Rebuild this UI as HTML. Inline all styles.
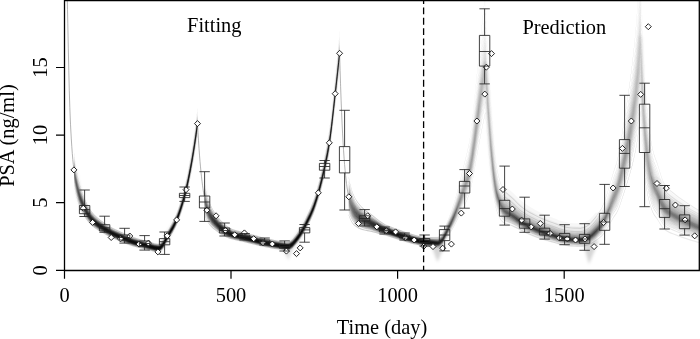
<!DOCTYPE html>
<html><head><meta charset="utf-8"><title>PSA fitting and prediction</title>
<style>
html,body{margin:0;padding:0;background:#fff}
svg{display:block}
text{font-family:"Liberation Serif","DejaVu Serif",serif;font-size:20.4px;fill:#000}
</style></head><body>
<svg width="700" height="339" viewBox="0 0 700 339">
<rect width="700" height="339" fill="#fff"/>
<defs><linearGradient id="gs" gradientUnits="userSpaceOnUse" x1="64" y1="0" x2="700" y2="0"><stop offset="0.0000" stop-color="#000" stop-opacity="0.2"/><stop offset="0.5660" stop-color="#000" stop-opacity="0.2"/><stop offset="0.5755" stop-color="#000" stop-opacity="0.17"/><stop offset="0.6069" stop-color="#000" stop-opacity="0.1"/><stop offset="0.6305" stop-color="#000" stop-opacity="0.1"/><stop offset="0.6509" stop-color="#000" stop-opacity="0.16"/><stop offset="0.6730" stop-color="#000" stop-opacity="0.16"/><stop offset="0.6887" stop-color="#000" stop-opacity="0.1"/><stop offset="0.7091" stop-color="#000" stop-opacity="0.12"/><stop offset="0.8349" stop-color="#000" stop-opacity="0.12"/><stop offset="0.8522" stop-color="#000" stop-opacity="0.09"/><stop offset="0.8711" stop-color="#000" stop-opacity="0.12"/><stop offset="0.8899" stop-color="#000" stop-opacity="0.24"/><stop offset="0.9151" stop-color="#000" stop-opacity="0.24"/><stop offset="0.9308" stop-color="#000" stop-opacity="0.1"/><stop offset="1.0000" stop-color="#000" stop-opacity="0.08"/></linearGradient><linearGradient id="gm" gradientUnits="userSpaceOnUse" x1="64" y1="0" x2="700" y2="0"><stop offset="0.0000" stop-color="#000" stop-opacity="0"/><stop offset="0.5660" stop-color="#000" stop-opacity="0"/><stop offset="0.5912" stop-color="#000" stop-opacity="0.08"/><stop offset="0.6148" stop-color="#000" stop-opacity="0.15"/><stop offset="0.6509" stop-color="#000" stop-opacity="0.14"/><stop offset="0.6604" stop-color="#000" stop-opacity="0.08"/><stop offset="0.6667" stop-color="#000" stop-opacity="0.08"/><stop offset="0.6777" stop-color="#000" stop-opacity="0.13"/><stop offset="0.6934" stop-color="#000" stop-opacity="0.16"/><stop offset="0.7170" stop-color="#000" stop-opacity="0.14"/><stop offset="0.8270" stop-color="#000" stop-opacity="0.14"/><stop offset="0.8428" stop-color="#000" stop-opacity="0.18"/><stop offset="0.8821" stop-color="#000" stop-opacity="0.16"/><stop offset="0.8962" stop-color="#000" stop-opacity="0.07"/><stop offset="0.9135" stop-color="#000" stop-opacity="0.05"/><stop offset="0.9292" stop-color="#000" stop-opacity="0.13"/><stop offset="0.9450" stop-color="#000" stop-opacity="0.26"/><stop offset="1.0000" stop-color="#000" stop-opacity="0.26"/></linearGradient><linearGradient id="gf" gradientUnits="userSpaceOnUse" x1="64" y1="0" x2="700" y2="0"><stop offset="0.0000" stop-color="#000" stop-opacity="0"/><stop offset="0.0157" stop-color="#000" stop-opacity="0"/><stop offset="0.0252" stop-color="#000" stop-opacity="0.1"/><stop offset="0.1352" stop-color="#000" stop-opacity="0.12"/><stop offset="0.1588" stop-color="#000" stop-opacity="0.1"/><stop offset="0.1745" stop-color="#000" stop-opacity="0"/><stop offset="0.2201" stop-color="#000" stop-opacity="0"/><stop offset="0.2296" stop-color="#000" stop-opacity="0.1"/><stop offset="0.3553" stop-color="#000" stop-opacity="0.12"/><stop offset="0.3711" stop-color="#000" stop-opacity="0.1"/><stop offset="0.3868" stop-color="#000" stop-opacity="0"/><stop offset="0.4481" stop-color="#000" stop-opacity="0"/><stop offset="0.4591" stop-color="#000" stop-opacity="0.1"/><stop offset="0.5660" stop-color="#000" stop-opacity="0.12"/><stop offset="0.5849" stop-color="#000" stop-opacity="0"/></linearGradient><filter id="b2" x="-30%" y="-30%" width="160%" height="160%"><feGaussianBlur stdDeviation="1.5"/></filter><filter id="b3" x="-5%" y="-5%" width="110%" height="110%"><feGaussianBlur stdDeviation="1.2"/></filter><filter id="b" x="-5%" y="-5%" width="110%" height="110%"><feGaussianBlur stdDeviation="0.8"/></filter><clipPath id="c"><rect x="64.5" y="0.5" width="634.5" height="269.8"/></clipPath></defs>
<g clip-path="url(#c)" fill="none">
<g fill="#000" fill-opacity="0.03" stroke="none"><path d="M424.5 241.6L427.5 241.7L430.5 241.7L433.5 241.9L436.5 242.0L438.0 242.0L439.5 241.4L442.5 238.8L445.5 232.8L448.5 226.8L451.5 221.2L454.5 214.6L457.5 207.1L460.5 198.7L461.3 196.4L462.8 192.1L463.5 190.0L464.3 187.7L465.8 183.4L466.5 181.4L467.3 178.9L468.8 173.8L469.5 171.0L470.3 167.3L471.8 158.9L472.5 154.4L473.3 148.8L474.8 137.6L475.5 132.3L476.3 126.2L477.8 115.2L478.5 110.1L479.3 104.2L479.8 100.6L480.3 97.0L480.8 93.5L481.3 90.0L481.5 88.6L481.8 86.6L482.3 83.2L482.8 79.8L483.3 76.5L483.8 73.3L484.3 70.1L484.5 68.9L484.8 67.0L485.3 64.0L485.8 72.3L486.3 80.4L486.8 88.2L487.3 96.0L487.5 99.0L487.8 103.5L488.3 111.0L488.8 118.3L489.3 125.4L489.8 132.3L490.3 138.8L490.5 141.3L490.8 144.9L491.3 150.6L491.8 156.0L492.3 161.0L492.8 165.8L493.5 172.3L494.3 179.0L495.8 189.0L496.5 192.1L497.3 195.0L498.8 199.2L499.5 200.8L500.3 202.5L501.8 205.1L502.5 205.9L503.3 206.5L504.8 207.3L505.5 207.6L506.3 208.0L507.8 209.0L508.5 209.4L511.5 211.2L514.5 213.4L517.5 215.7L520.5 218.0L523.5 219.9L526.5 221.7L529.5 223.2L532.5 224.7L535.5 226.0L538.5 227.3L541.5 228.6L544.5 229.7L547.5 230.7L550.5 231.6L553.5 232.6L556.5 233.6L559.5 234.6L562.5 235.3L565.5 236.0L568.5 236.6L571.5 236.9L574.5 237.0L577.5 237.2L580.5 237.2L581.0 237.2L583.5 236.7L586.5 235.7L589.5 234.2L592.5 231.6L595.5 228.7L598.5 225.9L601.5 223.2L604.5 218.7L607.5 212.5L610.5 205.6L613.5 197.8L616.5 191.3L618.0 186.8L619.5 181.0L621.0 174.4L622.5 167.8L624.0 161.2L625.5 154.2L627.0 147.0L628.5 139.7L630.0 132.2L631.5 124.0L633.0 114.8L634.5 104.7L635.0 101.1L635.5 97.2L636.0 93.1L636.5 88.7L637.0 84.0L637.5 78.9L638.0 73.2L638.5 67.1L639.0 60.6L639.5 53.5L640.0 46.0L640.5 38.0L641.0 56.1L641.5 71.8L642.0 85.1L642.5 96.2L643.0 105.7L643.5 114.1L644.0 121.5L644.5 128.1L645.0 134.0L645.5 139.4L646.0 144.4L646.5 149.0L647.0 153.3L647.5 157.2L648.0 160.8L649.5 169.8L651.0 176.7L652.5 181.9L654.0 185.6L655.5 188.1L657.0 190.4L658.5 193.4L660.0 196.7L661.5 199.9L663.0 202.8L664.5 205.1L667.5 208.0L670.5 210.1L673.5 211.9L676.5 213.7L679.5 215.4L682.5 217.0L685.5 218.6L688.5 220.1L691.5 221.6L694.5 223.0L697.5 224.4L700.0 225.5L700.0 229.1L697.5 228.1L694.5 226.8L691.5 225.5L688.5 224.2L685.5 222.8L682.5 221.3L679.5 219.9L676.5 218.3L673.5 216.6L670.5 214.9L667.5 213.0L664.5 210.3L663.0 208.3L661.5 205.3L660.0 201.6L658.5 197.8L657.0 194.2L655.5 191.2L654.0 188.0L652.5 183.4L651.0 177.3L649.5 169.8L648.0 160.8L647.5 157.2L647.0 153.3L646.5 149.0L646.0 144.4L645.5 139.4L645.0 134.0L644.5 128.1L644.0 121.5L643.5 114.1L643.0 105.7L642.5 96.2L642.0 85.1L641.5 71.8L641.0 56.1L640.5 38.0L640.0 46.0L639.5 53.5L639.0 60.6L638.5 67.1L638.0 73.2L637.5 78.9L637.0 84.0L636.5 88.7L636.0 93.1L635.5 97.2L635.0 101.1L634.5 104.7L633.0 114.8L631.5 124.0L630.0 132.2L628.5 139.7L627.0 147.0L625.5 154.2L624.0 161.2L622.5 167.8L621.0 174.4L619.5 181.0L618.0 186.8L616.5 191.3L613.5 197.8L610.5 205.6L607.5 213.5L604.5 220.7L601.5 226.1L598.5 229.6L595.5 233.0L592.5 235.7L589.5 238.1L586.5 239.6L583.5 240.6L581.0 241.0L580.5 241.0L577.5 240.9L574.5 240.8L571.5 240.6L568.5 240.3L565.5 239.8L562.5 239.1L559.5 238.4L556.5 237.5L553.5 236.5L550.5 235.6L547.5 234.7L544.5 233.8L541.5 232.7L538.5 231.6L535.5 230.4L532.5 229.1L529.5 227.7L526.5 226.2L523.5 224.6L520.5 222.8L517.5 220.7L514.5 218.5L511.5 216.5L508.5 214.9L507.8 214.5L506.3 213.6L505.5 213.0L504.8 212.3L503.3 210.7L502.5 209.7L501.8 208.5L500.3 205.2L499.5 203.0L498.8 201.0L497.3 195.9L496.5 192.4L495.8 189.0L494.3 179.0L493.5 172.3L492.8 165.8L492.3 161.0L491.8 156.0L491.3 150.6L490.8 144.9L490.5 141.3L490.3 138.8L489.8 132.3L489.3 125.4L488.8 118.3L488.3 111.0L487.8 103.5L487.5 99.0L487.3 96.0L486.8 88.2L486.3 80.4L485.8 72.3L485.3 64.0L484.8 67.0L484.5 68.9L484.3 70.1L483.8 73.3L483.3 76.5L482.8 79.8L482.3 83.2L481.8 86.6L481.5 88.6L481.3 90.0L480.8 93.5L480.3 97.0L479.8 100.6L479.3 104.2L478.5 110.1L477.8 115.2L476.3 126.2L475.5 132.3L474.8 137.6L473.3 148.8L472.5 154.4L471.8 158.9L470.3 167.3L469.5 171.0L468.8 173.8L467.3 178.9L466.5 181.4L465.8 183.4L464.3 187.7L463.5 190.0L462.8 192.1L461.3 196.4L460.5 198.7L457.5 207.3L454.5 215.6L451.5 222.6L448.5 228.6L445.5 234.7L442.5 240.5L439.5 242.9L438.0 243.5L436.5 243.4L433.5 243.2L430.5 243.0L427.5 242.5L424.5 242.0Z"/><path d="M424.5 241.3L427.5 241.1L430.5 240.8L433.5 240.9L436.5 241.0L438.0 241.0L439.5 240.3L442.5 237.6L445.5 231.4L448.5 225.6L451.5 220.2L454.5 214.0L457.5 207.0L460.5 198.7L461.3 196.4L462.8 192.1L463.5 190.0L464.3 187.7L465.8 183.4L466.5 181.4L467.3 178.9L468.8 173.8L469.5 171.0L470.3 167.3L471.8 158.9L472.5 154.4L473.3 148.8L474.8 137.6L475.5 132.3L476.3 126.2L477.8 115.2L478.5 110.1L479.3 104.2L479.8 100.6L480.3 97.0L480.8 93.5L481.3 90.0L481.5 88.6L481.8 86.6L482.3 83.2L482.8 79.8L483.3 76.5L483.8 73.3L484.3 70.1L484.5 68.9L484.8 67.0L485.3 64.0L485.8 72.3L486.3 80.4L486.8 88.2L487.3 96.0L487.5 99.0L487.8 103.5L488.3 111.0L488.8 118.3L489.3 125.4L489.8 132.3L490.3 138.8L490.5 141.3L490.8 144.9L491.3 150.6L491.8 156.0L492.3 161.0L492.8 165.8L493.5 172.3L494.3 179.0L495.8 189.0L496.5 191.8L497.3 194.4L498.8 197.9L499.5 199.3L500.3 200.7L501.8 202.7L502.5 203.3L503.3 203.6L504.8 203.9L505.5 204.0L506.3 204.2L507.8 205.2L508.5 205.7L511.5 207.6L514.5 209.8L517.5 212.3L520.5 214.6L523.5 216.7L526.5 218.5L529.5 220.1L532.5 221.6L535.5 223.1L538.5 224.4L541.5 225.7L544.5 226.8L547.5 227.9L550.5 228.9L553.5 229.8L556.5 230.9L559.5 232.0L562.5 232.8L565.5 233.5L568.5 234.0L571.5 234.3L574.5 234.5L577.5 234.6L580.5 234.6L581.0 234.6L583.5 234.1L586.5 233.0L589.5 231.4L592.5 228.8L595.5 225.8L598.5 223.4L601.5 221.3L604.5 217.3L607.5 211.8L610.5 205.6L613.5 197.8L616.5 191.3L618.0 186.8L619.5 181.0L621.0 174.4L622.5 167.8L624.0 161.2L625.5 154.2L627.0 147.0L628.5 139.7L630.0 132.2L631.5 124.0L633.0 114.8L634.5 104.7L635.0 101.1L635.5 97.2L636.0 93.1L636.5 88.7L637.0 84.0L637.5 78.9L638.0 73.2L638.5 67.1L639.0 60.6L639.5 53.5L640.0 46.0L640.5 38.0L641.0 56.1L641.5 71.8L642.0 85.1L642.5 96.2L643.0 105.7L643.5 114.1L644.0 121.5L644.5 128.1L645.0 134.0L645.5 139.4L646.0 144.4L646.5 149.0L647.0 153.3L647.5 157.2L648.0 160.8L649.5 169.8L651.0 176.2L652.5 180.9L654.0 184.0L655.5 185.9L657.0 187.8L658.5 190.3L660.0 193.3L661.5 196.1L663.0 199.1L664.5 201.4L667.5 204.5L670.5 206.7L673.5 208.6L676.5 210.6L679.5 212.4L682.5 214.1L685.5 215.7L688.5 217.4L691.5 218.9L694.5 220.4L697.5 221.8L700.0 223.0L700.0 230.2L697.5 229.3L694.5 228.0L691.5 226.8L688.5 225.4L685.5 224.1L682.5 222.7L679.5 221.2L676.5 219.7L673.5 218.1L670.5 216.4L667.5 214.5L664.5 212.0L663.0 209.9L661.5 207.0L660.0 203.2L658.5 199.2L657.0 195.4L655.5 192.1L654.0 188.7L652.5 183.9L651.0 177.5L649.5 169.8L648.0 160.8L647.5 157.2L647.0 153.3L646.5 149.0L646.0 144.4L645.5 139.4L645.0 134.0L644.5 128.1L644.0 121.5L643.5 114.1L643.0 105.7L642.5 96.2L642.0 85.1L641.5 71.8L641.0 56.1L640.5 38.0L640.0 46.0L639.5 53.5L639.0 60.6L638.5 67.1L638.0 73.2L637.5 78.9L637.0 84.0L636.5 88.7L636.0 93.1L635.5 97.2L635.0 101.1L634.5 104.7L633.0 114.8L631.5 124.0L630.0 132.2L628.5 139.7L627.0 147.0L625.5 154.2L624.0 161.2L622.5 167.8L621.0 174.4L619.5 181.0L618.0 186.8L616.5 191.3L613.5 197.8L610.5 205.6L607.5 213.8L604.5 221.3L601.5 226.9L598.5 230.8L595.5 234.3L592.5 237.0L589.5 239.3L586.5 240.8L583.5 241.7L581.0 242.1L580.5 242.1L577.5 242.1L574.5 241.9L571.5 241.7L568.5 241.4L565.5 240.9L562.5 240.3L559.5 239.6L556.5 238.7L553.5 237.7L550.5 236.9L547.5 236.0L544.5 235.1L541.5 234.0L538.5 232.9L535.5 231.7L532.5 230.4L529.5 229.1L526.5 227.7L523.5 226.1L520.5 224.3L517.5 222.3L514.5 220.1L511.5 218.2L508.5 216.6L507.8 216.2L506.3 215.3L505.5 214.6L504.8 213.8L503.3 212.0L502.5 210.8L501.8 209.6L500.3 206.0L499.5 203.7L498.8 201.6L497.3 196.1L496.5 192.6L495.8 189.0L494.3 179.0L493.5 172.3L492.8 165.8L492.3 161.0L491.8 156.0L491.3 150.6L490.8 144.9L490.5 141.3L490.3 138.8L489.8 132.3L489.3 125.4L488.8 118.3L488.3 111.0L487.8 103.5L487.5 99.0L487.3 96.0L486.8 88.2L486.3 80.4L485.8 72.3L485.3 64.0L484.8 67.0L484.5 68.9L484.3 70.1L483.8 73.3L483.3 76.5L482.8 79.8L482.3 83.2L481.8 86.6L481.5 88.6L481.3 90.0L480.8 93.5L480.3 97.0L479.8 100.6L479.3 104.2L478.5 110.1L477.8 115.2L476.3 126.2L475.5 132.3L474.8 137.6L473.3 148.8L472.5 154.4L471.8 158.9L470.3 167.3L469.5 171.0L468.8 173.8L467.3 178.9L466.5 181.4L465.8 183.4L464.3 187.7L463.5 190.0L462.8 192.1L461.3 196.4L460.5 198.7L457.5 207.3L454.5 215.9L451.5 223.1L448.5 229.1L445.5 235.3L442.5 241.0L439.5 243.4L438.0 243.9L436.5 243.8L433.5 243.6L430.5 243.4L427.5 242.8L424.5 242.1Z"/><path d="M424.5 241.0L427.5 240.5L430.5 239.9L433.5 240.0L436.5 240.0L438.0 240.0L439.5 239.3L442.5 236.4L445.5 230.1L448.5 224.4L451.5 219.2L454.5 213.4L457.5 206.9L460.5 198.7L461.3 196.4L462.8 192.1L463.5 190.0L464.3 187.7L465.8 183.4L466.5 181.4L467.3 178.9L468.8 173.8L469.5 171.0L470.3 167.3L471.8 158.9L472.5 154.4L473.3 148.8L474.8 137.6L475.5 132.3L476.3 126.2L477.8 115.2L478.5 110.1L479.3 104.2L479.8 100.6L480.3 97.0L480.8 93.5L481.3 90.0L481.5 88.6L481.8 86.6L482.3 83.2L482.8 79.8L483.3 76.5L483.8 73.3L484.3 70.1L484.5 68.9L484.8 67.0L485.3 64.0L485.8 72.3L486.3 80.4L486.8 88.2L487.3 96.0L487.5 99.0L487.8 103.5L488.3 111.0L488.8 118.3L489.3 125.4L489.8 132.3L490.3 138.8L490.5 141.3L490.8 144.9L491.3 150.6L491.8 156.0L492.3 161.0L492.8 165.8L493.5 172.3L494.3 179.0L495.8 189.0L496.5 191.6L497.3 193.7L498.8 196.7L499.5 197.8L500.3 198.9L501.8 200.4L502.5 200.7L503.3 200.7L504.8 200.5L505.5 200.3L506.3 200.4L507.8 201.5L508.5 201.9L511.5 203.9L514.5 206.3L517.5 208.9L520.5 211.3L523.5 213.5L526.5 215.3L529.5 217.0L532.5 218.6L535.5 220.1L538.5 221.5L541.5 222.8L544.5 224.0L547.5 225.1L550.5 226.1L553.5 227.1L556.5 228.2L559.5 229.3L562.5 230.2L565.5 230.9L568.5 231.5L571.5 231.8L574.5 231.9L577.5 232.0L580.5 232.0L581.0 232.0L583.5 231.5L586.5 230.3L589.5 228.7L592.5 226.0L595.5 222.8L598.5 220.9L601.5 219.3L604.5 216.0L607.5 211.2L610.5 205.6L613.5 197.8L616.5 191.3L618.0 186.8L619.5 181.0L621.0 174.4L622.5 167.8L624.0 161.2L625.5 154.2L627.0 147.0L628.5 139.7L630.0 132.2L631.5 124.0L633.0 114.8L634.5 104.7L635.0 101.1L635.5 97.2L636.0 93.1L636.5 88.7L637.0 84.0L637.5 78.9L638.0 73.2L638.5 67.1L639.0 60.6L639.5 53.5L640.0 46.0L640.5 38.0L641.0 56.1L641.5 71.8L642.0 85.1L642.5 96.2L643.0 105.7L643.5 114.1L644.0 121.5L644.5 128.1L645.0 134.0L645.5 139.4L646.0 144.4L646.5 149.0L647.0 153.3L647.5 157.2L648.0 160.8L649.5 169.8L651.0 175.8L652.5 179.8L654.0 182.4L655.5 183.8L657.0 185.1L658.5 187.3L660.0 189.8L661.5 192.4L663.0 195.3L664.5 197.8L667.5 201.0L670.5 203.4L673.5 205.4L676.5 207.4L679.5 209.3L682.5 211.1L685.5 212.9L688.5 214.6L691.5 216.2L694.5 217.8L697.5 219.3L700.0 220.5L700.0 231.4L697.5 230.4L694.5 229.2L691.5 228.0L688.5 226.7L685.5 225.4L682.5 224.0L679.5 222.6L676.5 221.1L673.5 219.5L670.5 217.9L667.5 216.1L664.5 213.6L663.0 211.6L661.5 208.7L660.0 204.7L658.5 200.5L657.0 196.5L655.5 193.1L654.0 189.4L652.5 184.4L651.0 177.7L649.5 169.8L648.0 160.8L647.5 157.2L647.0 153.3L646.5 149.0L646.0 144.4L645.5 139.4L645.0 134.0L644.5 128.1L644.0 121.5L643.5 114.1L643.0 105.7L642.5 96.2L642.0 85.1L641.5 71.8L641.0 56.1L640.5 38.0L640.0 46.0L639.5 53.5L639.0 60.6L638.5 67.1L638.0 73.2L637.5 78.9L637.0 84.0L636.5 88.7L636.0 93.1L635.5 97.2L635.0 101.1L634.5 104.7L633.0 114.8L631.5 124.0L630.0 132.2L628.5 139.7L627.0 147.0L625.5 154.2L624.0 161.2L622.5 167.8L621.0 174.4L619.5 181.0L618.0 186.8L616.5 191.3L613.5 197.8L610.5 205.6L607.5 214.1L604.5 221.9L601.5 227.8L598.5 231.9L595.5 235.7L592.5 238.3L589.5 240.6L586.5 242.0L583.5 242.9L581.0 243.3L580.5 243.3L577.5 243.2L574.5 243.1L571.5 242.9L568.5 242.6L565.5 242.1L562.5 241.5L559.5 240.8L556.5 239.9L553.5 239.0L550.5 238.1L547.5 237.2L544.5 236.3L541.5 235.3L538.5 234.2L535.5 233.1L532.5 231.8L529.5 230.5L526.5 229.1L523.5 227.5L520.5 225.8L517.5 223.8L514.5 221.7L511.5 219.8L508.5 218.3L507.8 217.9L506.3 217.0L505.5 216.3L504.8 215.4L503.3 213.3L502.5 212.0L501.8 210.6L500.3 206.8L499.5 204.4L498.8 202.1L497.3 196.4L496.5 192.7L495.8 189.0L494.3 179.0L493.5 172.3L492.8 165.8L492.3 161.0L491.8 156.0L491.3 150.6L490.8 144.9L490.5 141.3L490.3 138.8L489.8 132.3L489.3 125.4L488.8 118.3L488.3 111.0L487.8 103.5L487.5 99.0L487.3 96.0L486.8 88.2L486.3 80.4L485.8 72.3L485.3 64.0L484.8 67.0L484.5 68.9L484.3 70.1L483.8 73.3L483.3 76.5L482.8 79.8L482.3 83.2L481.8 86.6L481.5 88.6L481.3 90.0L480.8 93.5L480.3 97.0L479.8 100.6L479.3 104.2L478.5 110.1L477.8 115.2L476.3 126.2L475.5 132.3L474.8 137.6L473.3 148.8L472.5 154.4L471.8 158.9L470.3 167.3L469.5 171.0L468.8 173.8L467.3 178.9L466.5 181.4L465.8 183.4L464.3 187.7L463.5 190.0L462.8 192.1L461.3 196.4L460.5 198.7L457.5 207.4L454.5 216.1L451.5 223.5L448.5 229.7L445.5 235.9L442.5 241.5L439.5 243.9L438.0 244.4L436.5 244.3L433.5 244.1L430.5 243.8L427.5 243.1L424.5 242.3Z"/><path d="M424.5 240.8L427.5 239.9L430.5 239.0L433.5 239.1L436.5 239.0L438.0 239.0L439.5 238.2L442.5 235.3L445.5 228.8L448.5 223.1L451.5 218.2L454.5 212.7L457.5 206.8L460.5 198.7L461.3 196.4L462.8 192.1L463.5 190.0L464.3 187.7L465.8 183.4L466.5 181.4L467.3 178.9L468.8 173.8L469.5 171.0L470.3 167.3L471.8 158.9L472.5 154.4L473.3 148.8L474.8 137.6L475.5 132.3L476.3 126.2L477.8 115.2L478.5 110.1L479.3 104.2L479.8 100.6L480.3 97.0L480.8 93.5L481.3 90.0L481.5 88.6L481.8 86.6L482.3 83.2L482.8 79.8L483.3 76.5L483.8 73.3L484.3 70.1L484.5 68.9L484.8 67.0L485.3 64.0L485.8 72.3L486.3 80.4L486.8 88.2L487.3 96.0L487.5 99.0L487.8 103.5L488.3 111.0L488.8 118.3L489.3 125.4L489.8 132.3L490.3 138.8L490.5 141.3L490.8 144.9L491.3 150.6L491.8 156.0L492.3 161.0L492.8 165.8L493.5 172.3L494.3 179.0L495.8 189.0L496.5 191.3L497.3 193.1L498.8 195.4L499.5 196.2L500.3 197.0L501.8 198.0L502.5 198.0L503.3 197.8L504.8 197.1L505.5 196.6L506.3 196.5L507.8 197.7L508.5 198.2L511.5 200.2L514.5 202.7L517.5 205.4L520.5 208.0L523.5 210.2L526.5 212.2L529.5 213.9L532.5 215.5L535.5 217.1L538.5 218.6L541.5 219.9L544.5 221.2L547.5 222.3L550.5 223.4L553.5 224.4L556.5 225.6L559.5 226.7L562.5 227.6L565.5 228.3L568.5 228.9L571.5 229.2L574.5 229.4L577.5 229.5L580.5 229.5L581.0 229.5L583.5 228.8L586.5 227.7L589.5 226.0L592.5 223.1L595.5 219.9L598.5 218.3L601.5 217.4L604.5 214.6L607.5 210.5L610.5 205.6L613.5 197.8L616.5 191.3L618.0 186.8L619.5 181.0L621.0 174.4L622.5 167.8L624.0 161.2L625.5 154.2L627.0 147.0L628.5 139.7L630.0 132.2L631.5 124.0L633.0 114.8L634.5 104.7L635.0 101.1L635.5 97.2L636.0 93.1L636.5 88.7L637.0 84.0L637.5 78.9L638.0 73.2L638.5 67.1L639.0 60.6L639.5 53.5L640.0 46.0L640.5 38.0L641.0 56.1L641.5 71.8L642.0 85.1L642.5 96.2L643.0 105.7L643.5 114.1L644.0 121.5L644.5 128.1L645.0 134.0L645.5 139.4L646.0 144.4L646.5 149.0L647.0 153.3L647.5 157.2L648.0 160.8L649.5 169.8L651.0 175.3L652.5 178.8L654.0 180.8L655.5 181.7L657.0 182.5L658.5 184.2L660.0 186.4L661.5 188.6L663.0 191.6L664.5 194.2L667.5 197.5L670.5 200.0L673.5 202.1L676.5 204.3L679.5 206.3L682.5 208.2L685.5 210.0L688.5 211.8L691.5 213.5L694.5 215.1L697.5 216.7L700.0 218.0L700.0 232.5L697.5 231.6L694.5 230.4L691.5 229.2L688.5 228.0L685.5 226.7L682.5 225.3L679.5 224.0L676.5 222.5L673.5 221.0L670.5 219.5L667.5 217.7L664.5 215.2L663.0 213.3L661.5 210.3L660.0 206.3L658.5 201.9L657.0 197.7L655.5 194.0L654.0 190.1L652.5 184.9L651.0 177.9L649.5 169.8L648.0 160.8L647.5 157.2L647.0 153.3L646.5 149.0L646.0 144.4L645.5 139.4L645.0 134.0L644.5 128.1L644.0 121.5L643.5 114.1L643.0 105.7L642.5 96.2L642.0 85.1L641.5 71.8L641.0 56.1L640.5 38.0L640.0 46.0L639.5 53.5L639.0 60.6L638.5 67.1L638.0 73.2L637.5 78.9L637.0 84.0L636.5 88.7L636.0 93.1L635.5 97.2L635.0 101.1L634.5 104.7L633.0 114.8L631.5 124.0L630.0 132.2L628.5 139.7L627.0 147.0L625.5 154.2L624.0 161.2L622.5 167.8L621.0 174.4L619.5 181.0L618.0 186.8L616.5 191.3L613.5 197.8L610.5 205.6L607.5 214.4L604.5 222.5L601.5 228.7L598.5 233.0L595.5 237.0L592.5 239.6L589.5 241.8L586.5 243.2L583.5 244.1L581.0 244.5L580.5 244.4L577.5 244.4L574.5 244.2L571.5 244.0L568.5 243.7L565.5 243.2L562.5 242.6L559.5 241.9L556.5 241.1L553.5 240.2L550.5 239.3L547.5 238.5L544.5 237.6L541.5 236.6L538.5 235.5L535.5 234.4L532.5 233.2L529.5 231.9L526.5 230.5L523.5 229.0L520.5 227.3L517.5 225.3L514.5 223.4L511.5 221.5L508.5 220.0L507.8 219.6L506.3 218.8L505.5 217.9L504.8 216.9L503.3 214.6L502.5 213.2L501.8 211.7L500.3 207.6L499.5 205.1L498.8 202.7L497.3 196.7L496.5 192.8L495.8 189.0L494.3 179.0L493.5 172.3L492.8 165.8L492.3 161.0L491.8 156.0L491.3 150.6L490.8 144.9L490.5 141.3L490.3 138.8L489.8 132.3L489.3 125.4L488.8 118.3L488.3 111.0L487.8 103.5L487.5 99.0L487.3 96.0L486.8 88.2L486.3 80.4L485.8 72.3L485.3 64.0L484.8 67.0L484.5 68.9L484.3 70.1L483.8 73.3L483.3 76.5L482.8 79.8L482.3 83.2L481.8 86.6L481.5 88.6L481.3 90.0L480.8 93.5L480.3 97.0L479.8 100.6L479.3 104.2L478.5 110.1L477.8 115.2L476.3 126.2L475.5 132.3L474.8 137.6L473.3 148.8L472.5 154.4L471.8 158.9L470.3 167.3L469.5 171.0L468.8 173.8L467.3 178.9L466.5 181.4L465.8 183.4L464.3 187.7L463.5 190.0L462.8 192.1L461.3 196.4L460.5 198.7L457.5 207.4L454.5 216.4L451.5 224.0L448.5 230.2L445.5 236.5L442.5 242.1L439.5 244.3L438.0 244.8L436.5 244.7L433.5 244.5L430.5 244.2L427.5 243.3L424.5 242.4Z"/><path d="M424.5 240.4L427.5 239.2L430.5 238.0L433.5 237.9L436.5 237.8L438.0 237.7L439.5 237.0L442.5 233.9L445.5 227.1L448.5 221.7L451.5 217.0L454.5 212.0L457.5 206.6L460.5 198.7L461.3 196.4L462.8 192.1L463.5 190.0L464.3 187.7L465.8 183.4L466.5 181.4L467.3 178.9L468.8 173.8L469.5 171.0L470.3 167.3L471.8 158.9L472.5 154.4L473.3 148.8L474.8 137.6L475.5 132.3L476.3 126.2L477.8 115.2L478.5 110.1L479.3 104.2L479.8 100.6L480.3 97.0L480.8 93.5L481.3 90.0L481.5 88.6L481.8 86.6L482.3 83.2L482.8 79.8L483.3 76.5L483.8 73.3L484.3 70.1L484.5 68.9L484.8 67.0L485.3 64.0L485.8 72.3L486.3 80.4L486.8 88.2L487.3 96.0L487.5 99.0L487.8 103.5L488.3 111.0L488.8 118.3L489.3 125.4L489.8 132.3L490.3 138.8L490.5 141.3L490.8 144.9L491.3 150.6L491.8 156.0L492.3 161.0L492.8 165.8L493.5 172.3L494.3 179.0L495.8 189.0L496.5 191.1L497.3 192.4L498.8 193.9L499.5 194.4L500.3 194.9L501.8 195.2L502.5 194.9L503.3 194.3L504.8 193.0L505.5 192.2L506.3 191.9L507.8 193.1L508.5 193.6L511.5 195.8L514.5 198.4L517.5 201.3L520.5 204.0L523.5 206.3L526.5 208.4L529.5 210.2L532.5 211.9L535.5 213.5L538.5 215.0L541.5 216.5L544.5 217.8L547.5 218.9L550.5 220.1L553.5 221.2L556.5 222.4L559.5 223.5L562.5 224.4L565.5 225.2L568.5 225.8L571.5 226.1L574.5 226.3L577.5 226.4L580.5 226.4L581.0 226.3L583.5 225.7L586.5 224.4L589.5 222.7L592.5 219.7L595.5 216.3L598.5 215.3L601.5 215.0L604.5 213.0L607.5 209.7L610.5 205.6L613.5 197.8L616.5 191.3L618.0 186.8L619.5 181.0L621.0 174.4L622.5 167.8L624.0 161.2L625.5 154.2L627.0 147.0L628.5 139.7L630.0 132.2L631.5 124.0L633.0 114.8L634.5 104.7L635.0 101.1L635.5 97.2L636.0 93.1L636.5 88.7L637.0 84.0L637.5 78.9L638.0 73.2L638.5 67.1L639.0 60.6L639.5 53.5L640.0 46.0L640.5 38.0L641.0 56.1L641.5 71.8L642.0 85.1L642.5 96.2L643.0 105.7L643.5 114.1L644.0 121.5L644.5 128.1L645.0 134.0L645.5 139.4L646.0 144.4L646.5 149.0L647.0 153.3L647.5 157.2L648.0 160.8L649.5 169.8L651.0 174.8L652.5 177.5L654.0 178.9L655.5 179.1L657.0 179.4L658.5 180.6L660.0 182.3L661.5 184.1L663.0 187.1L664.5 189.8L667.5 193.4L670.5 196.0L673.5 198.2L676.5 200.5L679.5 202.6L682.5 204.6L685.5 206.5L688.5 208.4L691.5 210.2L694.5 212.0L697.5 213.7L700.0 215.0L700.0 233.8L697.5 232.9L694.5 231.8L691.5 230.7L688.5 229.5L685.5 228.2L682.5 226.9L679.5 225.6L676.5 224.2L673.5 222.7L670.5 221.3L667.5 219.5L664.5 217.2L663.0 215.3L661.5 212.4L660.0 208.1L658.5 203.6L657.0 199.1L655.5 195.2L654.0 191.0L652.5 185.4L651.0 178.2L649.5 169.8L648.0 160.8L647.5 157.2L647.0 153.3L646.5 149.0L646.0 144.4L645.5 139.4L645.0 134.0L644.5 128.1L644.0 121.5L643.5 114.1L643.0 105.7L642.5 96.2L642.0 85.1L641.5 71.8L641.0 56.1L640.5 38.0L640.0 46.0L639.5 53.5L639.0 60.6L638.5 67.1L638.0 73.2L637.5 78.9L637.0 84.0L636.5 88.7L636.0 93.1L635.5 97.2L635.0 101.1L634.5 104.7L633.0 114.8L631.5 124.0L630.0 132.2L628.5 139.7L627.0 147.0L625.5 154.2L624.0 161.2L622.5 167.8L621.0 174.4L619.5 181.0L618.0 186.8L616.5 191.3L613.5 197.8L610.5 205.6L607.5 214.7L604.5 223.2L601.5 229.7L598.5 234.4L595.5 238.6L592.5 241.1L589.5 243.3L586.5 244.7L583.5 245.5L581.0 245.9L580.5 245.8L577.5 245.8L574.5 245.6L571.5 245.4L568.5 245.1L565.5 244.6L562.5 244.0L559.5 243.4L556.5 242.5L553.5 241.6L550.5 240.8L547.5 240.0L544.5 239.1L541.5 238.2L538.5 237.1L535.5 236.0L532.5 234.8L529.5 233.6L526.5 232.2L523.5 230.7L520.5 229.1L517.5 227.2L514.5 225.3L511.5 223.5L508.5 222.0L507.8 221.6L506.3 220.8L505.5 219.9L504.8 218.8L503.3 216.1L502.5 214.6L501.8 213.0L500.3 208.6L499.5 205.9L498.8 203.4L497.3 197.0L496.5 192.9L495.8 189.0L494.3 179.0L493.5 172.3L492.8 165.8L492.3 161.0L491.8 156.0L491.3 150.6L490.8 144.9L490.5 141.3L490.3 138.8L489.8 132.3L489.3 125.4L488.8 118.3L488.3 111.0L487.8 103.5L487.5 99.0L487.3 96.0L486.8 88.2L486.3 80.4L485.8 72.3L485.3 64.0L484.8 67.0L484.5 68.9L484.3 70.1L483.8 73.3L483.3 76.5L482.8 79.8L482.3 83.2L481.8 86.6L481.5 88.6L481.3 90.0L480.8 93.5L480.3 97.0L479.8 100.6L479.3 104.2L478.5 110.1L477.8 115.2L476.3 126.2L475.5 132.3L474.8 137.6L473.3 148.8L472.5 154.4L471.8 158.9L470.3 167.3L469.5 171.0L468.8 173.8L467.3 178.9L466.5 181.4L465.8 183.4L464.3 187.7L463.5 190.0L462.8 192.1L461.3 196.4L460.5 198.7L457.5 207.5L454.5 216.8L451.5 224.5L448.5 230.9L445.5 237.3L442.5 242.7L439.5 244.9L438.0 245.4L436.5 245.3L433.5 245.0L430.5 244.7L427.5 243.7L424.5 242.5Z"/><path d="M424.5 240.1L427.5 238.5L430.5 236.9L433.5 236.8L436.5 236.6L438.0 236.5L439.5 235.7L442.5 232.5L445.5 225.5L448.5 220.2L451.5 215.8L454.5 211.2L457.5 206.5L460.5 198.7L461.3 196.4L462.8 192.1L463.5 190.0L464.3 187.7L465.8 183.4L466.5 181.4L467.3 178.9L468.8 173.8L469.5 171.0L470.3 167.3L471.8 158.9L472.5 154.4L473.3 148.8L474.8 137.6L475.5 132.3L476.3 126.2L477.8 115.2L478.5 110.1L479.3 104.2L479.8 100.6L480.3 97.0L480.8 93.5L481.3 90.0L481.5 88.6L481.8 86.6L482.3 83.2L482.8 79.8L483.3 76.5L483.8 73.3L484.3 70.1L484.5 68.9L484.8 67.0L485.3 64.0L485.8 72.3L486.3 80.4L486.8 88.2L487.3 96.0L487.5 99.0L487.8 103.5L488.3 111.0L488.8 118.3L489.3 125.4L489.8 132.3L490.3 138.8L490.5 141.3L490.8 144.9L491.3 150.6L491.8 156.0L492.3 161.0L492.8 165.8L493.5 172.3L494.3 179.0L495.8 189.0L496.5 190.8L497.3 191.6L498.8 192.4L499.5 192.6L500.3 192.7L501.8 192.3L502.5 191.8L503.3 190.8L504.8 188.8L505.5 187.8L506.3 187.4L507.8 188.6L508.5 189.1L511.5 191.4L514.5 194.2L517.5 197.2L520.5 200.0L523.5 202.5L526.5 204.6L529.5 206.5L532.5 208.2L535.5 209.9L538.5 211.5L541.5 213.0L544.5 214.4L547.5 215.6L550.5 216.7L553.5 217.9L556.5 219.1L559.5 220.4L562.5 221.3L565.5 222.1L568.5 222.8L571.5 223.1L574.5 223.2L577.5 223.3L580.5 223.3L581.0 223.2L583.5 222.5L586.5 221.2L589.5 219.4L592.5 216.3L595.5 212.8L598.5 212.2L601.5 212.7L604.5 211.4L607.5 208.9L610.5 205.6L613.5 197.8L616.5 191.3L618.0 186.8L619.5 181.0L621.0 174.4L622.5 167.8L624.0 161.2L625.5 154.2L627.0 147.0L628.5 139.7L630.0 132.2L631.5 124.0L633.0 114.8L634.5 104.7L635.0 101.1L635.5 97.2L636.0 93.1L636.5 88.7L637.0 84.0L637.5 78.9L638.0 73.2L638.5 67.1L639.0 60.6L639.5 53.5L640.0 46.0L640.5 38.0L641.0 56.1L641.5 71.8L642.0 85.1L642.5 96.2L643.0 105.7L643.5 114.1L644.0 121.5L644.5 128.1L645.0 134.0L645.5 139.4L646.0 144.4L646.5 149.0L647.0 153.3L647.5 157.2L648.0 160.8L649.5 169.8L651.0 174.2L652.5 176.2L654.0 176.9L655.5 176.5L657.0 176.2L658.5 176.9L660.0 178.2L661.5 179.6L663.0 182.6L664.5 185.5L667.5 189.2L670.5 192.0L673.5 194.3L676.5 196.7L679.5 199.0L682.5 201.1L685.5 203.1L688.5 205.1L691.5 207.0L694.5 208.8L697.5 210.6L700.0 212.0L700.0 235.2L697.5 234.3L694.5 233.2L691.5 232.1L688.5 231.0L685.5 229.8L682.5 228.5L679.5 227.3L676.5 225.9L673.5 224.5L670.5 223.1L667.5 221.4L664.5 219.1L663.0 217.4L661.5 214.4L660.0 209.9L658.5 205.2L657.0 200.6L655.5 196.3L654.0 191.9L652.5 186.0L651.0 178.4L649.5 169.8L648.0 160.8L647.5 157.2L647.0 153.3L646.5 149.0L646.0 144.4L645.5 139.4L645.0 134.0L644.5 128.1L644.0 121.5L643.5 114.1L643.0 105.7L642.5 96.2L642.0 85.1L641.5 71.8L641.0 56.1L640.5 38.0L640.0 46.0L639.5 53.5L639.0 60.6L638.5 67.1L638.0 73.2L637.5 78.9L637.0 84.0L636.5 88.7L636.0 93.1L635.5 97.2L635.0 101.1L634.5 104.7L633.0 114.8L631.5 124.0L630.0 132.2L628.5 139.7L627.0 147.0L625.5 154.2L624.0 161.2L622.5 167.8L621.0 174.4L619.5 181.0L618.0 186.8L616.5 191.3L613.5 197.8L610.5 205.6L607.5 215.1L604.5 223.9L601.5 230.8L598.5 235.8L595.5 240.2L592.5 242.6L589.5 244.8L586.5 246.1L583.5 247.0L581.0 247.3L580.5 247.2L577.5 247.1L574.5 247.0L571.5 246.8L568.5 246.5L565.5 246.0L562.5 245.4L559.5 244.8L556.5 244.0L553.5 243.1L550.5 242.3L547.5 241.5L544.5 240.7L541.5 239.7L538.5 238.7L535.5 237.6L532.5 236.5L529.5 235.2L526.5 233.9L523.5 232.5L520.5 230.9L517.5 229.1L514.5 227.2L511.5 225.5L508.5 224.0L507.8 223.7L506.3 222.9L505.5 221.9L504.8 220.6L503.3 217.7L502.5 216.0L501.8 214.3L500.3 209.6L499.5 206.7L498.8 204.0L497.3 197.4L496.5 193.0L495.8 189.0L494.3 179.0L493.5 172.3L492.8 165.8L492.3 161.0L491.8 156.0L491.3 150.6L490.8 144.9L490.5 141.3L490.3 138.8L489.8 132.3L489.3 125.4L488.8 118.3L488.3 111.0L487.8 103.5L487.5 99.0L487.3 96.0L486.8 88.2L486.3 80.4L485.8 72.3L485.3 64.0L484.8 67.0L484.5 68.9L484.3 70.1L483.8 73.3L483.3 76.5L482.8 79.8L482.3 83.2L481.8 86.6L481.5 88.6L481.3 90.0L480.8 93.5L480.3 97.0L479.8 100.6L479.3 104.2L478.5 110.1L477.8 115.2L476.3 126.2L475.5 132.3L474.8 137.6L473.3 148.8L472.5 154.4L471.8 158.9L470.3 167.3L469.5 171.0L468.8 173.8L467.3 178.9L466.5 181.4L465.8 183.4L464.3 187.7L463.5 190.0L462.8 192.1L461.3 196.4L460.5 198.7L457.5 207.5L454.5 217.1L451.5 225.0L448.5 231.6L445.5 238.0L442.5 243.3L439.5 245.5L438.0 245.9L436.5 245.8L433.5 245.5L430.5 245.1L427.5 244.0L424.5 242.7Z"/></g>
<path d="M74.0 170.0L75.3 178.1L76.5 184.3L76.8 185.6L78.3 191.7L79.5 195.7L79.8 196.6L81.3 200.8L82.5 203.7L82.8 204.4L84.3 207.6L85.5 210.0L85.8 210.6L87.3 213.1L88.5 215.0L88.8 215.4L91.5 218.9L94.5 221.9L97.5 224.3L100.5 226.3L103.5 228.2L106.5 230.1L109.5 231.8L112.5 233.4L115.5 234.8L118.5 236.1L121.5 237.3L124.5 238.6L127.5 239.9L130.5 241.1L133.5 242.1L136.5 242.9L139.5 243.7L142.5 244.5L145.5 245.3L148.5 246.1L151.5 246.9L154.5 247.8L157.5 248.2L159.0 248.2L160.5 247.5L163.5 244.0L166.5 238.3L169.5 233.1L172.5 228.1L173.5 226.2L175.0 223.3L175.5 222.2L176.5 220.0L178.0 216.3L178.5 214.9L179.5 212.1L181.0 207.6L181.5 206.0L182.5 202.8L184.0 197.6L184.5 195.8L185.5 192.0L187.0 185.7L187.5 183.4L188.5 178.6L190.0 171.0L190.5 168.4L191.5 162.9L192.0 160.1L192.5 157.2L193.0 154.2L193.5 151.1L194.0 148.0L194.5 144.8L195.0 141.5L195.5 138.1L196.0 134.6L196.5 131.0L197.0 127.4L197.5 123.6L198.0 132.6L198.5 140.8L199.0 148.3L199.5 155.1L200.0 161.3L200.5 166.9L201.0 172.1L201.5 176.8L202.0 181.2L202.5 185.2L203.0 188.8L203.5 192.2L204.0 195.3L204.3 197.0L204.5 198.1L205.0 200.7L205.5 203.1L206.5 207.1L208.0 211.2L208.5 212.3L209.5 214.3L211.0 216.8L211.5 217.6L212.5 218.9L214.0 220.8L214.5 221.3L215.5 222.5L217.0 224.1L217.5 224.6L218.5 225.7L220.0 227.1L220.5 227.5L223.5 229.9L226.5 231.9L229.5 233.5L232.5 234.7L235.5 235.5L238.5 236.2L241.5 236.9L244.5 237.6L247.5 238.4L250.5 239.1L253.5 239.9L256.5 240.7L259.5 241.5L262.5 242.2L265.5 242.9L268.5 243.5L271.5 244.1L274.5 244.7L277.5 245.1L280.5 245.6L283.5 246.1L286.5 246.5L288.5 246.5L289.5 246.1L292.5 244.0L295.5 240.7L298.5 236.7L301.5 232.1L304.5 226.9L307.5 220.9L310.5 214.8L313.5 207.7L315.6 201.6L316.5 198.8L317.1 196.9L318.6 191.8L319.5 188.5L320.1 186.3L321.6 180.4L322.5 176.6L323.1 174.0L324.6 167.3L325.5 163.1L326.1 160.2L327.6 152.7L328.5 147.6L329.1 144.1L330.6 133.8L331.5 126.7L332.1 121.6L333.6 108.3L334.1 103.7L334.5 100.0L334.6 99.1L335.1 94.6L335.6 90.1L336.1 85.6L336.6 81.1L337.1 76.5L337.5 72.8L337.6 71.9L338.1 67.3L338.6 62.6L339.1 58.0L339.6 53.3L340.1 70.7L340.5 83.2L340.6 86.2L341.1 100.1L341.6 112.6L342.1 123.8L342.6 133.9L343.1 142.9L343.5 149.4L343.6 150.9L344.1 158.2L344.6 164.7L345.1 170.5L345.6 175.6L346.1 180.2L346.5 183.6L346.6 184.3L347.1 188.0L348.6 196.4L348.7 196.8L349.5 200.0L350.1 202.1L351.6 206.4L352.5 208.5L353.1 209.6L354.6 211.9L355.5 213.1L356.1 213.8L357.6 215.4L358.5 216.2L359.1 216.7L360.6 217.9L361.5 218.6L362.1 219.0L364.5 220.4L367.5 221.8L370.5 223.1L373.5 224.6L376.5 226.2L379.5 227.8L382.5 229.2L385.5 230.4L388.5 231.4L391.5 232.5L394.5 233.5L397.5 234.6L400.5 235.6L403.5 236.6L406.5 237.6L409.5 238.5L412.5 239.3L415.5 240.1L418.5 240.8L421.5 241.4L424.5 241.9L427.5 242.3L430.5 242.6L433.5 242.8" stroke="url(#gf)" stroke-width="7" stroke-linejoin="round" filter="url(#b3)"/>
<path d="M424.5 241.9L427.5 242.3L430.5 242.6L433.5 242.8L436.5 243.0L438.0 243.0L439.5 242.4L442.5 239.9L445.5 234.1L448.5 228.0L451.5 222.2L454.5 215.3L457.5 207.2L460.5 198.7L461.3 196.4L462.8 192.1L463.5 190.0L464.3 187.7L465.8 183.4L466.5 181.4L467.3 178.9L468.8 173.8L469.5 171.0L470.3 167.3L471.8 158.9L472.5 154.4L473.3 148.8L474.8 137.6L475.5 132.3L476.3 126.2L477.8 115.2L478.5 110.1L479.3 104.2L479.8 100.6L480.3 97.0L480.8 93.5L481.3 90.0L481.5 88.6L481.8 86.6L482.3 83.2L482.8 79.8L483.3 76.5L483.8 73.3L484.3 70.1L484.5 68.9L484.8 67.0L485.3 64.0L485.8 72.3L486.3 80.4L486.8 88.2L487.3 96.0L487.5 99.0L487.8 103.5L488.3 111.0L488.8 118.3L489.3 125.4L489.8 132.3L490.3 138.8L490.5 141.3L490.8 144.9L491.3 150.6L491.8 156.0L492.3 161.0L492.8 165.8L493.5 172.3L494.3 179.0L495.8 189.0L496.5 192.3L497.3 195.6L498.8 200.4L499.5 202.3L500.3 204.4L501.8 207.5L502.5 208.5L503.3 209.4L504.8 210.8L505.5 211.3L506.3 211.9L507.8 212.8L508.5 213.2L511.5 214.9L514.5 216.9L517.5 219.2L520.5 221.3L523.5 223.2L526.5 224.8L529.5 226.3L532.5 227.7L535.5 229.0L538.5 230.3L541.5 231.4L544.5 232.5L547.5 233.5L550.5 234.4L553.5 235.3L556.5 236.3L559.5 237.2L562.5 237.9L565.5 238.6L568.5 239.1L571.5 239.4L574.5 239.6L577.5 239.7L580.5 239.8L581.0 239.8L583.5 239.4L586.5 238.4L589.5 236.9L592.5 234.5L595.5 231.7L598.5 228.5L601.5 225.2L604.5 220.1L607.5 213.2L610.5 205.6L613.5 197.8L616.5 191.3L618.0 186.8L619.5 181.0L621.0 174.4L622.5 167.8L624.0 161.2L625.5 154.2L627.0 147.0L628.5 139.7L630.0 132.2L631.5 124.0L633.0 114.8L634.5 104.7L635.0 101.1L635.5 97.2L636.0 93.1L636.5 88.7L637.0 84.0L637.5 78.9L638.0 73.2L638.5 67.1L639.0 60.6L639.5 53.5L640.0 46.0L640.5 38.0L641.0 56.1L641.5 71.8L642.0 85.1L642.5 96.2L643.0 105.7L643.5 114.1L644.0 121.5L644.5 128.1L645.0 134.0L645.5 139.4L646.0 144.4L646.5 149.0L647.0 153.3L647.5 157.2L648.0 160.8L649.5 169.8L651.0 177.1L652.5 183.0L654.0 187.2L655.5 190.2L657.0 193.0L658.5 196.4L660.0 200.1L661.5 203.6L663.0 206.6L664.5 208.7L667.5 211.4L670.5 213.4L673.5 215.1L676.5 216.9L679.5 218.5L682.5 220.0L685.5 221.5L688.5 222.9L691.5 224.3L694.5 225.7L697.5 227.0L700.0 228.0" stroke="url(#gm)" stroke-width="4.5" stroke-linejoin="round" filter="url(#b)"/>
<g fill="#000" stroke="none" filter="url(#b2)"><path d="M431 245L446 243L437.5 262Z" fill-opacity="0.16"/><path d="M583 243L599 240L589 264Z" fill-opacity="0.16"/><path d="M282 248L294 246L288.5 260Z" fill-opacity="0.12"/></g>
<g transform="scale(1 100)" stroke="url(#gs)" stroke-width="0.012" stroke-linejoin="bevel"><path d="M74 1.846L75.3 1.914L76.5 1.965L76.8 1.976L78.3 2.026L79.5 2.059L79.8 2.067L81.3 2.101L82.5 2.125L82.8 2.13L84.3 2.157L85.5 2.176L85.8 2.181L87.3 2.202L88.5 2.217L88.8 2.22L91.5 2.249L94.5 2.275L97.5 2.295L100.5 2.312L103.5 2.328L106.5 2.346L109.5 2.362L112.5 2.377L115.5 2.39L118.5 2.402L121.5 2.414L124.5 2.426L127.5 2.438L130.5 2.449L133.5 2.459L136.5 2.467L139.5 2.474L142.5 2.481L145.5 2.489L148.5 2.496L151.5 2.504L154.5 2.512L157.5 2.516L159 2.516L160.5 2.51L163.5 2.477L166.5 2.423L169.5 2.374L172.5 2.327L173.5 2.31L175 2.282L175.5 2.272L176.5 2.251L178 2.216L178.5 2.203L179.5 2.177L181 2.134L181.5 2.119L182.5 2.089L184 2.041L184.5 2.024L185.5 1.988L187 1.929L187.5 1.907L188.5 1.862L190 1.79L190.5 1.766L191.5 1.714L192 1.688L192.5 1.66L193 1.632L193.5 1.604L194 1.574L194.5 1.544L195 1.513L195.5 1.481L196 1.448L196.5 1.415L197 1.38L197.5 1.356M204.3 2.117L204.5 2.125L205 2.145L205.5 2.163L206.5 2.192L208 2.222L208.5 2.23L209.5 2.244L211 2.261L211.5 2.266L212.5 2.276L214 2.288L214.5 2.291L215.5 2.299L217 2.311L217.5 2.315L218.5 2.323L220 2.334L220.5 2.337L223.5 2.355L226.5 2.369L229.5 2.381L232.5 2.389L235.5 2.397L238.5 2.403L241.5 2.41L244.5 2.417L247.5 2.424L250.5 2.431L253.5 2.438L256.5 2.446L259.5 2.453L262.5 2.46L265.5 2.466L268.5 2.472L271.5 2.478L274.5 2.483L277.5 2.487L280.5 2.492L283.5 2.496L286.5 2.5L288.5 2.5L289.5 2.497L292.5 2.477L295.5 2.445L298.5 2.408L301.5 2.365L304.5 2.316L307.5 2.259L310.5 2.202L313.5 2.136L315.6 2.079L316.5 2.052L317.1 2.034L318.6 1.986L319.5 1.955L320.1 1.934L321.6 1.878L322.5 1.843L323.1 1.819L324.6 1.755L325.5 1.716L326.1 1.689L327.6 1.618L328.5 1.571L329.1 1.537L330.6 1.44L331.5 1.374L332.1 1.326L333.6 1.201L334.1 1.158L334.5 1.123L334.6 1.115L335.1 1.072L335.6 1.03L336.1 0.988L336.6 0.945L337.1 0.902L337.5 0.868L337.6 0.859L338.1 0.816L338.6 0.772L339.1 0.732L339.6 0.705M348.7 2.149L349.5 2.172L350.1 2.187L351.6 2.217L352.5 2.23L353.1 2.238L354.6 2.253L355.5 2.26L356.1 2.264L357.6 2.274L358.5 2.279L359.1 2.281L360.6 2.288L361.5 2.291L362.1 2.293L364.5 2.3L367.5 2.306L370.5 2.311L373.5 2.318L376.5 2.327L379.5 2.336L382.5 2.343L385.5 2.349L388.5 2.359L391.5 2.368L394.5 2.378L397.5 2.388L400.5 2.398L403.5 2.407L406.5 2.416L409.5 2.425L412.5 2.433L415.5 2.44L418.5 2.446L421.5 2.452L424.5 2.457L427.5 2.462L430.5 2.466L433.5 2.469L436.5 2.472L438 2.473L439.5 2.469L442.5 2.447L445.5 2.396L448.5 2.348L451.5 2.303L454.5 2.251L457.5 2.191L460.5 2.131L461.3 2.115L462.8 2.085L463.5 2.071L464.3 2.055L465.8 2.025L466.5 2.01L467.3 1.992L468.8 1.953L469.5 1.932L470.3 1.904L471.8 1.839L472.5 1.805L473.3 1.762L474.8 1.677L475.5 1.636L476.3 1.59L477.8 1.508L478.5 1.47L479.3 1.426L479.8 1.399L480.3 1.373L480.8 1.347L481.3 1.321L481.5 1.311L481.8 1.296L482.3 1.271L482.8 1.247L483.3 1.223L483.8 1.199L484.3 1.176L484.5 1.167L484.8 1.152L485.3 1.126L485.8 1.187L486.3 1.248L486.8 1.307L487.3 1.364L487.5 1.387L487.8 1.421L488.3 1.478L488.8 1.533L489.3 1.587L489.8 1.639L490.3 1.688L490.5 1.707L490.8 1.735L491.3 1.779L491.8 1.82L492.3 1.858L492.8 1.895L493.5 1.945L494.3 1.996L495.8 2.072L496.5 2.098L497.3 2.123L498.8 2.159L499.5 2.173L500.3 2.188L501.8 2.21L502.5 2.217L503.3 2.223L504.8 2.232L505.5 2.235L506.3 2.239L507.8 2.244L508.5 2.246L511.5 2.255L514.5 2.268L517.5 2.282L520.5 2.297L523.5 2.313L526.5 2.328L529.5 2.341L532.5 2.354L535.5 2.366L538.5 2.377L541.5 2.387L544.5 2.397L547.5 2.405L550.5 2.413L553.5 2.421L556.5 2.43L559.5 2.438L562.5 2.445L565.5 2.451L568.5 2.456L571.5 2.458L574.5 2.46L577.5 2.461L580.5 2.462L581 2.462L583.5 2.459L586.5 2.452L589.5 2.443L592.5 2.426L595.5 2.407L598.5 2.385L601.5 2.362L604.5 2.327L607.5 2.278L610.5 2.225L613.5 2.173L616.5 2.132L618 2.102L619.5 2.063L621 2.018L622.5 1.973L624 1.928L625.5 1.881L627 1.833L628.5 1.785L630 1.735L631.5 1.682L633 1.621L634.5 1.555L635 1.531L635.5 1.506L636 1.479L636.5 1.451L637 1.42L637.5 1.386L638 1.349L638.5 1.308L639 1.265L639.5 1.218L640 1.168L640.5 1.113L641 1.238L641.5 1.347L642 1.44L642.5 1.516L643 1.582L643.5 1.64L644 1.691L644.5 1.737L645 1.778L645.5 1.816L646 1.85L646.5 1.882L647 1.912L647.5 1.939L648 1.963L649.5 2.026L651 2.077L652.5 2.117L654 2.147L655.5 2.167L657 2.187L658.5 2.21L660 2.236L661.5 2.26L663 2.281L664.5 2.295L667.5 2.314L670.5 2.328L673.5 2.34L676.5 2.352L679.5 2.363L682.5 2.373L685.5 2.383L688.5 2.393L691.5 2.403L694.5 2.412L697.5 2.421L700 2.428"/><path d="M74 1.817L75.3 1.887L76.5 1.94L76.8 1.952L78.3 2.004L79.5 2.039L79.8 2.046L81.3 2.082L82.5 2.107L82.8 2.113L84.3 2.141L85.5 2.161L85.8 2.166L87.3 2.188L88.5 2.203L88.8 2.207L91.5 2.237L94.5 2.264L97.5 2.285L100.5 2.302L103.5 2.319L106.5 2.336L109.5 2.353L112.5 2.368L115.5 2.382L118.5 2.394L121.5 2.405L124.5 2.418L127.5 2.43L130.5 2.441L133.5 2.451L136.5 2.459L139.5 2.467L142.5 2.474L145.5 2.482L148.5 2.489L151.5 2.497L154.5 2.505L157.5 2.509L159 2.509L160.5 2.503L163.5 2.47L166.5 2.415L169.5 2.365L172.5 2.318L173.5 2.3L175 2.272L175.5 2.262L176.5 2.241L178 2.205L178.5 2.192L179.5 2.165L181 2.122L181.5 2.107L182.5 2.076L184 2.028L184.5 2.01L185.5 1.974L187 1.914L187.5 1.892L188.5 1.846L190 1.774L190.5 1.749L191.5 1.696L192 1.67L192.5 1.642L193 1.614L193.5 1.584L194 1.555L194.5 1.524L195 1.492L195.5 1.46L196 1.427L196.5 1.393L197 1.358L197.5 1.331M204.3 2.088L204.5 2.097L205 2.118L205.5 2.137L206.5 2.168L208 2.2L208.5 2.209L209.5 2.224L211 2.243L211.5 2.248L212.5 2.258L214 2.272L214.5 2.276L215.5 2.284L217 2.297L217.5 2.302L218.5 2.31L220 2.322L220.5 2.325L223.5 2.343L226.5 2.359L229.5 2.372L232.5 2.381L235.5 2.389L238.5 2.395L241.5 2.401L244.5 2.409L247.5 2.416L250.5 2.423L253.5 2.43L256.5 2.438L259.5 2.445L262.5 2.452L265.5 2.458L268.5 2.465L271.5 2.47L274.5 2.476L277.5 2.48L280.5 2.485L283.5 2.489L286.5 2.493L288.5 2.493L289.5 2.49L292.5 2.47L295.5 2.437L298.5 2.4L301.5 2.356L304.5 2.306L307.5 2.249L310.5 2.191L313.5 2.123L315.6 2.066L316.5 2.039L317.1 2.02L318.6 1.971L319.5 1.941L320.1 1.919L321.6 1.863L322.5 1.827L323.1 1.802L324.6 1.738L325.5 1.698L326.1 1.671L327.6 1.599L328.5 1.551L329.1 1.517L330.6 1.419L331.5 1.351L332.1 1.303L333.6 1.176L334.1 1.132L334.5 1.097L334.6 1.089L335.1 1.046L335.6 1.003L336.1 0.96L336.6 0.917L337.1 0.873L337.5 0.838L337.6 0.83L338.1 0.786L338.6 0.741L339.1 0.7L339.6 0.669M348.7 2.114L349.5 2.138L350.1 2.154L351.6 2.187L352.5 2.202L353.1 2.21L354.6 2.226L355.5 2.235L356.1 2.239L357.6 2.25L358.5 2.256L359.1 2.259L360.6 2.266L361.5 2.27L362.1 2.273L364.5 2.281L367.5 2.288L370.5 2.295L373.5 2.304L376.5 2.314L379.5 2.324L382.5 2.333L385.5 2.34L388.5 2.35L391.5 2.359L394.5 2.37L397.5 2.38L400.5 2.389L403.5 2.399L406.5 2.408L409.5 2.417L412.5 2.425L415.5 2.432L418.5 2.439L421.5 2.445L424.5 2.449L427.5 2.454L430.5 2.458L433.5 2.461L436.5 2.463L438 2.464L439.5 2.459L442.5 2.437L445.5 2.384L448.5 2.333L451.5 2.285L454.5 2.23L457.5 2.166L460.5 2.1L461.3 2.083L462.8 2.05L463.5 2.034L464.3 2.017L465.8 1.984L466.5 1.968L467.3 1.948L468.8 1.907L469.5 1.884L470.3 1.854L471.8 1.785L472.5 1.748L473.3 1.703L474.8 1.612L475.5 1.568L476.3 1.519L477.8 1.431L478.5 1.39L479.3 1.343L479.8 1.314L480.3 1.285L480.8 1.257L481.3 1.229L481.5 1.218L481.8 1.202L482.3 1.175L482.8 1.149L483.3 1.123L483.8 1.098L484.3 1.073L484.5 1.063L484.8 1.046L485.3 1.019L485.8 1.086L486.3 1.15L486.8 1.213L487.3 1.275L487.5 1.3L487.8 1.336L488.3 1.397L488.8 1.456L489.3 1.514L489.8 1.569L490.3 1.622L490.5 1.642L490.8 1.672L491.3 1.718L491.8 1.762L492.3 1.803L492.8 1.842L493.5 1.895L494.3 1.95L495.8 2.032L496.5 2.059L497.3 2.085L498.8 2.124L499.5 2.139L500.3 2.155L501.8 2.18L502.5 2.187L503.3 2.194L504.8 2.203L505.5 2.207L506.3 2.211L507.8 2.217L508.5 2.219L511.5 2.23L514.5 2.244L517.5 2.26L520.5 2.276L523.5 2.294L526.5 2.309L529.5 2.322L532.5 2.335L535.5 2.347L538.5 2.359L541.5 2.369L544.5 2.379L547.5 2.388L550.5 2.396L553.5 2.405L556.5 2.414L559.5 2.422L562.5 2.429L565.5 2.435L568.5 2.44L571.5 2.443L574.5 2.445L577.5 2.446L580.5 2.446L581 2.447L583.5 2.443L586.5 2.436L589.5 2.425L592.5 2.407L595.5 2.386L598.5 2.362L601.5 2.338L604.5 2.299L607.5 2.246L610.5 2.189L613.5 2.132L616.5 2.086L618 2.053L619.5 2.01L621 1.961L622.5 1.912L624 1.863L625.5 1.811L627 1.758L628.5 1.705L630 1.65L631.5 1.591L633 1.524L634.5 1.451L635 1.424L635.5 1.396L636 1.367L636.5 1.335L637 1.301L637.5 1.263L638 1.222L638.5 1.178L639 1.13L639.5 1.078L640 1.023L640.5 0.963L641 1.1L641.5 1.218L642 1.319L642.5 1.403L643 1.474L643.5 1.538L644 1.594L644.5 1.644L645 1.689L645.5 1.729L646 1.767L646.5 1.802L647 1.834L647.5 1.864L648 1.891L649.5 1.959L651 2.014L652.5 2.059L654 2.091L655.5 2.113L657 2.134L658.5 2.16L660 2.188L661.5 2.215L663 2.237L664.5 2.253L667.5 2.274L670.5 2.289L673.5 2.302L676.5 2.315L679.5 2.327L682.5 2.338L685.5 2.349L688.5 2.36L691.5 2.371L694.5 2.381L697.5 2.391L700 2.398"/><path d="M74 1.802L75.3 1.873L76.5 1.927L76.8 1.94L78.3 1.993L79.5 2.028L79.8 2.036L81.3 2.072L82.5 2.098L82.8 2.104L84.3 2.132L85.5 2.153L85.8 2.158L87.3 2.18L88.5 2.196L88.8 2.2L91.5 2.231L94.5 2.258L97.5 2.279L100.5 2.297L103.5 2.314L106.5 2.332L109.5 2.348L112.5 2.364L115.5 2.377L118.5 2.389L121.5 2.401L124.5 2.413L127.5 2.426L130.5 2.437L133.5 2.447L136.5 2.455L139.5 2.463L142.5 2.47L145.5 2.478L148.5 2.486L151.5 2.493L154.5 2.502L157.5 2.506L159 2.506L160.5 2.499L163.5 2.466L166.5 2.41L169.5 2.36L172.5 2.313L173.5 2.295L175 2.267L175.5 2.257L176.5 2.235L178 2.199L178.5 2.187L179.5 2.159L181 2.116L181.5 2.101L182.5 2.07L184 2.021L184.5 2.003L185.5 1.967L187 1.906L187.5 1.884L188.5 1.838L190 1.765L190.5 1.74L191.5 1.687L192 1.66L192.5 1.632L193 1.604L193.5 1.575L194 1.544L194.5 1.514L195 1.482L195.5 1.449L196 1.416L196.5 1.382L197 1.346L197.5 1.318M204.3 2.072L204.5 2.082L205 2.103L205.5 2.123L206.5 2.156L208 2.189L208.5 2.198L209.5 2.213L211 2.233L211.5 2.239L212.5 2.249L214 2.263L214.5 2.268L215.5 2.276L217 2.29L217.5 2.294L218.5 2.303L220 2.315L220.5 2.319L223.5 2.337L226.5 2.354L229.5 2.367L232.5 2.376L235.5 2.384L238.5 2.391L241.5 2.397L244.5 2.404L247.5 2.412L250.5 2.419L253.5 2.426L256.5 2.434L259.5 2.441L262.5 2.448L265.5 2.455L268.5 2.461L271.5 2.467L274.5 2.472L277.5 2.476L280.5 2.481L283.5 2.486L286.5 2.489L288.5 2.489L289.5 2.486L292.5 2.466L295.5 2.433L298.5 2.395L301.5 2.352L304.5 2.301L307.5 2.243L310.5 2.185L313.5 2.117L315.6 2.059L316.5 2.032L317.1 2.013L318.6 1.964L319.5 1.933L320.1 1.912L321.6 1.855L322.5 1.819L323.1 1.794L324.6 1.729L325.5 1.689L326.1 1.662L327.6 1.589L328.5 1.541L329.1 1.507L330.6 1.408L331.5 1.34L332.1 1.291L333.6 1.163L334.1 1.119L334.5 1.084L334.6 1.075L335.1 1.032L335.6 0.989L336.1 0.946L336.6 0.902L337.1 0.859L337.5 0.823L337.6 0.814L338.1 0.77L338.6 0.726L339.1 0.683L339.6 0.651M348.7 2.095L349.5 2.12L350.1 2.137L351.6 2.171L352.5 2.186L353.1 2.195L354.6 2.213L355.5 2.221L356.1 2.226L357.6 2.238L358.5 2.244L359.1 2.247L360.6 2.255L361.5 2.259L362.1 2.262L364.5 2.271L367.5 2.279L370.5 2.287L373.5 2.296L376.5 2.307L379.5 2.318L382.5 2.327L385.5 2.335L388.5 2.345L391.5 2.355L394.5 2.365L397.5 2.375L400.5 2.385L403.5 2.394L406.5 2.404L409.5 2.412L412.5 2.421L415.5 2.428L418.5 2.435L421.5 2.441L424.5 2.445L427.5 2.45L430.5 2.454L433.5 2.456L436.5 2.459L438 2.459L439.5 2.455L442.5 2.432L445.5 2.378L448.5 2.326L451.5 2.276L454.5 2.219L457.5 2.153L460.5 2.084L461.3 2.066L462.8 2.032L463.5 2.016L464.3 1.998L465.8 1.963L466.5 1.946L467.3 1.926L468.8 1.883L469.5 1.86L470.3 1.829L471.8 1.758L472.5 1.72L473.3 1.673L474.8 1.579L475.5 1.534L476.3 1.483L477.8 1.392L478.5 1.349L479.3 1.301L479.8 1.27L480.3 1.241L480.8 1.211L481.3 1.183L481.5 1.172L481.8 1.155L482.3 1.127L482.8 1.1L483.3 1.073L483.8 1.046L484.3 1.02L484.5 1.01L484.8 0.993L485.3 0.966L485.8 1.034L486.3 1.101L486.8 1.166L487.3 1.231L487.5 1.256L487.8 1.294L488.3 1.356L488.8 1.417L489.3 1.477L489.8 1.534L490.3 1.588L490.5 1.609L490.8 1.64L491.3 1.688L491.8 1.733L492.3 1.775L492.8 1.816L493.5 1.871L494.3 1.927L495.8 2.011L496.5 2.039L497.3 2.066L498.8 2.107L499.5 2.122L500.3 2.139L501.8 2.164L502.5 2.172L503.3 2.179L504.8 2.189L505.5 2.193L506.3 2.197L507.8 2.204L508.5 2.206L511.5 2.218L514.5 2.233L517.5 2.249L520.5 2.266L523.5 2.284L526.5 2.299L529.5 2.313L532.5 2.326L535.5 2.338L538.5 2.35L541.5 2.361L544.5 2.371L547.5 2.38L550.5 2.388L553.5 2.396L556.5 2.406L559.5 2.414L562.5 2.421L565.5 2.427L568.5 2.432L571.5 2.435L574.5 2.437L577.5 2.438L580.5 2.439L581 2.439L583.5 2.435L586.5 2.427L589.5 2.416L592.5 2.397L595.5 2.376L598.5 2.35L601.5 2.325L604.5 2.285L607.5 2.23L610.5 2.17L613.5 2.11L616.5 2.062L618 2.028L619.5 1.983L621 1.932L622.5 1.881L624 1.829L625.5 1.775L627 1.719L628.5 1.663L630 1.606L631.5 1.544L633 1.473L634.5 1.397L635 1.369L635.5 1.34L636 1.309L636.5 1.275L637 1.239L637.5 1.2L638 1.157L638.5 1.11L639 1.06L639.5 1.006L640 0.948L640.5 0.885L641 1.028L641.5 1.152L642 1.257L642.5 1.344L643 1.419L643.5 1.485L644 1.543L644.5 1.595L645 1.642L645.5 1.685L646 1.724L646.5 1.761L647 1.794L647.5 1.825L648 1.853L649.5 1.924L651 1.982L652.5 2.028L654 2.062L655.5 2.085L657 2.107L658.5 2.134L660 2.163L661.5 2.191L663 2.214L664.5 2.231L667.5 2.253L670.5 2.268L673.5 2.282L676.5 2.295L679.5 2.308L682.5 2.32L685.5 2.332L688.5 2.343L691.5 2.354L694.5 2.365L697.5 2.375L700 2.383"/><path d="M74 1.791L75.3 1.863L76.5 1.918L76.8 1.931L78.3 1.984L79.5 2.02L79.8 2.028L81.3 2.065L82.5 2.091L82.8 2.097L84.3 2.126L85.5 2.147L85.8 2.152L87.3 2.175L88.5 2.191L88.8 2.195L91.5 2.226L94.5 2.254L97.5 2.275L100.5 2.293L103.5 2.31L106.5 2.328L109.5 2.345L112.5 2.361L115.5 2.374L118.5 2.386L121.5 2.398L124.5 2.41L127.5 2.423L130.5 2.434L133.5 2.444L136.5 2.453L139.5 2.46L142.5 2.467L145.5 2.475L148.5 2.483L151.5 2.491L154.5 2.499L157.5 2.503L159 2.503L160.5 2.497L163.5 2.463L166.5 2.407L169.5 2.357L172.5 2.309L173.5 2.291L175 2.263L175.5 2.253L176.5 2.231L178 2.195L178.5 2.182L179.5 2.155L181 2.112L181.5 2.096L182.5 2.065L184 2.016L184.5 1.998L185.5 1.962L187 1.901L187.5 1.879L188.5 1.833L190 1.759L190.5 1.734L191.5 1.681L192 1.654L192.5 1.626L193 1.597L193.5 1.568L194 1.537L194.5 1.506L195 1.474L195.5 1.442L196 1.408L196.5 1.374L197 1.338L197.5 1.309M204.3 2.062L204.5 2.071L205 2.093L205.5 2.113L206.5 2.147L208 2.181L208.5 2.19L209.5 2.206L211 2.226L211.5 2.232L212.5 2.243L214 2.257L214.5 2.262L215.5 2.271L217 2.285L217.5 2.289L218.5 2.298L220 2.31L220.5 2.314L223.5 2.333L226.5 2.35L229.5 2.364L232.5 2.373L235.5 2.381L238.5 2.388L241.5 2.394L244.5 2.401L247.5 2.409L250.5 2.416L253.5 2.423L256.5 2.431L259.5 2.438L262.5 2.445L265.5 2.452L268.5 2.458L271.5 2.464L274.5 2.469L277.5 2.474L280.5 2.478L283.5 2.483L286.5 2.487L288.5 2.487L289.5 2.483L292.5 2.463L295.5 2.43L298.5 2.392L301.5 2.348L304.5 2.298L307.5 2.24L310.5 2.181L313.5 2.113L315.6 2.054L316.5 2.027L317.1 2.008L318.6 1.959L319.5 1.928L320.1 1.906L321.6 1.849L322.5 1.813L323.1 1.788L324.6 1.723L325.5 1.683L326.1 1.655L327.6 1.582L328.5 1.534L329.1 1.499L330.6 1.4L331.5 1.332L332.1 1.283L333.6 1.154L334.1 1.11L334.5 1.075L334.6 1.066L335.1 1.022L335.6 0.979L336.1 0.936L336.6 0.892L337.1 0.848L337.5 0.813L337.6 0.804L338.1 0.759L338.6 0.715L339.1 0.672L339.6 0.638M348.7 2.081L349.5 2.108L350.1 2.125L351.6 2.16L352.5 2.176L353.1 2.185L354.6 2.203L355.5 2.212L356.1 2.217L357.6 2.229L358.5 2.235L359.1 2.239L360.6 2.247L361.5 2.251L362.1 2.254L364.5 2.264L367.5 2.273L370.5 2.281L373.5 2.291L376.5 2.302L379.5 2.314L382.5 2.324L385.5 2.332L388.5 2.342L391.5 2.352L394.5 2.362L397.5 2.372L400.5 2.382L403.5 2.391L406.5 2.401L409.5 2.409L412.5 2.418L415.5 2.425L418.5 2.432L421.5 2.438L424.5 2.442L427.5 2.447L430.5 2.451L433.5 2.453L436.5 2.455L438 2.456L439.5 2.451L442.5 2.428L445.5 2.374L448.5 2.321L451.5 2.27L454.5 2.212L457.5 2.144L460.5 2.073L461.3 2.055L462.8 2.019L463.5 2.003L464.3 1.984L465.8 1.949L466.5 1.931L467.3 1.911L468.8 1.867L469.5 1.843L470.3 1.811L471.8 1.739L472.5 1.7L473.3 1.652L474.8 1.556L475.5 1.51L476.3 1.458L477.8 1.364L478.5 1.321L479.3 1.271L479.8 1.24L480.3 1.21L480.8 1.18L481.3 1.151L481.5 1.139L481.8 1.122L482.3 1.093L482.8 1.065L483.3 1.037L483.8 1.01L484.3 0.984L484.5 0.973L484.8 0.956L485.3 0.928L485.8 0.998L486.3 1.067L486.8 1.134L487.3 1.199L487.5 1.225L487.8 1.264L488.3 1.328L488.8 1.39L489.3 1.451L489.8 1.509L490.3 1.565L490.5 1.586L490.8 1.618L491.3 1.667L491.8 1.713L492.3 1.756L492.8 1.797L493.5 1.853L494.3 1.911L495.8 1.997L496.5 2.026L497.3 2.053L498.8 2.095L499.5 2.111L500.3 2.128L501.8 2.154L502.5 2.162L503.3 2.169L504.8 2.179L505.5 2.184L506.3 2.188L507.8 2.194L508.5 2.197L511.5 2.209L514.5 2.225L517.5 2.242L520.5 2.259L523.5 2.277L526.5 2.293L529.5 2.307L532.5 2.32L535.5 2.332L538.5 2.344L541.5 2.355L544.5 2.365L547.5 2.374L550.5 2.382L553.5 2.391L556.5 2.4L559.5 2.409L562.5 2.416L565.5 2.422L568.5 2.427L571.5 2.43L574.5 2.432L577.5 2.433L580.5 2.434L581 2.434L583.5 2.43L586.5 2.422L589.5 2.41L592.5 2.391L595.5 2.368L598.5 2.343L601.5 2.317L604.5 2.275L607.5 2.219L610.5 2.157L613.5 2.096L616.5 2.046L618 2.01L619.5 1.964L621 1.911L622.5 1.859L624 1.805L625.5 1.75L627 1.692L628.5 1.634L630 1.575L631.5 1.51L633 1.438L634.5 1.359L635 1.33L635.5 1.3L636 1.267L636.5 1.233L637 1.196L637.5 1.155L638 1.111L638.5 1.063L639 1.011L639.5 0.955L640 0.895L640.5 0.83L641 0.977L641.5 1.105L642 1.213L642.5 1.302L643 1.38L643.5 1.448L644 1.508L644.5 1.561L645 1.609L645.5 1.653L646 1.694L646.5 1.731L647 1.766L647.5 1.798L648 1.827L649.5 1.9L651 1.959L652.5 2.007L654 2.041L655.5 2.065L657 2.088L658.5 2.116L660 2.146L661.5 2.174L663 2.198L664.5 2.216L667.5 2.238L670.5 2.254L673.5 2.268L676.5 2.282L679.5 2.295L682.5 2.307L685.5 2.319L688.5 2.331L691.5 2.342L694.5 2.353L697.5 2.363L700 2.372"/><path d="M74 1.782L75.3 1.856L76.5 1.911L76.8 1.924L78.3 1.978L79.5 2.014L79.8 2.022L81.3 2.06L82.5 2.086L82.8 2.092L84.3 2.121L85.5 2.143L85.8 2.148L87.3 2.171L88.5 2.187L88.8 2.191L91.5 2.223L94.5 2.25L97.5 2.272L100.5 2.29L103.5 2.308L106.5 2.326L109.5 2.343L112.5 2.358L115.5 2.372L118.5 2.384L121.5 2.396L124.5 2.408L127.5 2.42L130.5 2.432L133.5 2.442L136.5 2.45L139.5 2.458L142.5 2.465L145.5 2.473L148.5 2.481L151.5 2.489L154.5 2.497L157.5 2.501L159 2.501L160.5 2.495L163.5 2.461L166.5 2.405L169.5 2.355L172.5 2.307L173.5 2.289L175 2.26L175.5 2.25L176.5 2.228L178 2.192L178.5 2.179L179.5 2.152L181 2.108L181.5 2.093L182.5 2.062L184 2.012L184.5 1.994L185.5 1.958L187 1.897L187.5 1.874L188.5 1.828L190 1.754L190.5 1.729L191.5 1.676L192 1.648L192.5 1.62L193 1.592L193.5 1.562L194 1.532L194.5 1.501L195 1.469L195.5 1.436L196 1.402L196.5 1.367L197 1.332L197.5 1.302M204.3 2.053L204.5 2.063L205 2.085L205.5 2.106L206.5 2.139L208 2.174L208.5 2.183L209.5 2.2L211 2.221L211.5 2.227L212.5 2.238L214 2.253L214.5 2.257L215.5 2.266L217 2.281L217.5 2.285L218.5 2.294L220 2.307L220.5 2.31L223.5 2.33L226.5 2.347L229.5 2.361L232.5 2.371L235.5 2.379L238.5 2.385L241.5 2.392L244.5 2.399L247.5 2.406L250.5 2.414L253.5 2.421L256.5 2.429L259.5 2.436L262.5 2.443L265.5 2.45L268.5 2.456L271.5 2.462L274.5 2.467L277.5 2.472L280.5 2.476L283.5 2.481L286.5 2.485L288.5 2.485L289.5 2.481L292.5 2.461L295.5 2.428L298.5 2.39L301.5 2.346L304.5 2.295L307.5 2.237L310.5 2.178L313.5 2.109L315.6 2.051L316.5 2.023L317.1 2.004L318.6 1.955L319.5 1.924L320.1 1.902L321.6 1.845L322.5 1.808L323.1 1.783L324.6 1.718L325.5 1.678L326.1 1.65L327.6 1.577L328.5 1.528L329.1 1.494L330.6 1.394L331.5 1.325L332.1 1.277L333.6 1.147L334.1 1.103L334.5 1.068L334.6 1.059L335.1 1.015L335.6 0.972L336.1 0.928L336.6 0.884L337.1 0.84L337.5 0.804L337.6 0.796L338.1 0.751L338.6 0.706L339.1 0.663L339.6 0.628M348.7 2.071L349.5 2.098L350.1 2.115L351.6 2.151L352.5 2.167L353.1 2.176L354.6 2.195L355.5 2.204L356.1 2.21L357.6 2.222L358.5 2.228L359.1 2.232L360.6 2.241L361.5 2.245L362.1 2.248L364.5 2.258L367.5 2.268L370.5 2.277L373.5 2.287L376.5 2.299L379.5 2.31L382.5 2.32L385.5 2.329L388.5 2.339L391.5 2.349L394.5 2.359L397.5 2.37L400.5 2.379L403.5 2.389L406.5 2.398L409.5 2.407L412.5 2.415L415.5 2.423L418.5 2.429L421.5 2.435L424.5 2.44L427.5 2.445L430.5 2.448L433.5 2.451L436.5 2.453L438 2.454L439.5 2.449L442.5 2.425L445.5 2.371L448.5 2.317L451.5 2.265L454.5 2.206L457.5 2.137L460.5 2.065L461.3 2.046L462.8 2.01L463.5 1.992L464.3 1.973L465.8 1.937L466.5 1.92L467.3 1.899L468.8 1.854L469.5 1.83L470.3 1.797L471.8 1.724L472.5 1.684L473.3 1.636L474.8 1.538L475.5 1.491L476.3 1.438L477.8 1.343L478.5 1.299L479.3 1.248L479.8 1.217L480.3 1.186L480.8 1.155L481.3 1.125L481.5 1.113L481.8 1.096L482.3 1.067L482.8 1.038L483.3 1.01L483.8 0.982L484.3 0.955L484.5 0.944L484.8 0.927L485.3 0.899L485.8 0.97L486.3 1.04L486.8 1.108L487.3 1.175L487.5 1.201L487.8 1.24L488.3 1.305L488.8 1.369L489.3 1.431L489.8 1.49L490.3 1.547L490.5 1.569L490.8 1.6L491.3 1.65L491.8 1.697L492.3 1.741L492.8 1.783L493.5 1.84L494.3 1.899L495.8 1.986L496.5 2.015L497.3 2.043L498.8 2.085L499.5 2.102L500.3 2.119L501.8 2.145L502.5 2.154L503.3 2.161L504.8 2.172L505.5 2.176L506.3 2.18L507.8 2.187L508.5 2.19L511.5 2.203L514.5 2.219L517.5 2.237L520.5 2.254L523.5 2.272L526.5 2.288L529.5 2.302L532.5 2.315L535.5 2.327L538.5 2.339L541.5 2.35L544.5 2.36L547.5 2.37L550.5 2.378L553.5 2.387L556.5 2.396L559.5 2.405L562.5 2.412L565.5 2.418L568.5 2.423L571.5 2.426L574.5 2.428L577.5 2.429L580.5 2.43L581 2.43L583.5 2.426L586.5 2.418L589.5 2.406L592.5 2.386L595.5 2.363L598.5 2.337L601.5 2.31L604.5 2.267L607.5 2.21L610.5 2.147L613.5 2.084L616.5 2.033L618 1.996L619.5 1.949L621 1.895L622.5 1.841L624 1.786L625.5 1.729L627 1.671L628.5 1.611L630 1.551L631.5 1.484L633 1.41L634.5 1.329L635 1.299L635.5 1.268L636 1.235L636.5 1.2L637 1.161L637.5 1.12L638 1.074L638.5 1.025L639 0.972L639.5 0.914L640 0.853L640.5 0.787L641 0.937L641.5 1.068L642 1.178L642.5 1.27L643 1.349L643.5 1.418L644 1.48L644.5 1.534L645 1.584L645.5 1.629L646 1.67L646.5 1.708L647 1.744L647.5 1.776L648 1.806L649.5 1.88L651 1.941L652.5 1.99L654 2.025L655.5 2.05L657 2.073L658.5 2.101L660 2.132L661.5 2.161L663 2.186L664.5 2.203L667.5 2.226L670.5 2.242L673.5 2.257L676.5 2.271L679.5 2.284L682.5 2.297L685.5 2.309L688.5 2.321L691.5 2.333L694.5 2.344L697.5 2.355L700 2.363"/><path d="M74 1.775L75.3 1.849L76.5 1.905L76.8 1.918L78.3 1.973L79.5 2.009L79.8 2.017L81.3 2.055L82.5 2.082L82.8 2.088L84.3 2.117L85.5 2.139L85.8 2.144L87.3 2.167L88.5 2.184L88.8 2.188L91.5 2.22L94.5 2.248L97.5 2.269L100.5 2.288L103.5 2.305L106.5 2.323L109.5 2.34L112.5 2.356L115.5 2.37L118.5 2.382L121.5 2.394L124.5 2.406L127.5 2.419L130.5 2.43L133.5 2.44L136.5 2.449L139.5 2.456L142.5 2.463L145.5 2.471L148.5 2.479L151.5 2.487L154.5 2.495L157.5 2.499L159 2.5L160.5 2.493L163.5 2.459L166.5 2.403L169.5 2.353L172.5 2.304L173.5 2.286L175 2.258L175.5 2.247L176.5 2.226L178 2.19L178.5 2.177L179.5 2.149L181 2.105L181.5 2.09L182.5 2.059L184 2.009L184.5 1.991L185.5 1.954L187 1.893L187.5 1.871L188.5 1.824L190 1.75L190.5 1.725L191.5 1.672L192 1.644L192.5 1.616L193 1.587L193.5 1.557L194 1.527L194.5 1.496L195 1.464L195.5 1.431L196 1.397L196.5 1.362L197 1.327L197.5 1.296M204.3 2.046L204.5 2.055L205 2.078L205.5 2.099L206.5 2.133L208 2.169L208.5 2.178L209.5 2.195L211 2.216L211.5 2.222L212.5 2.234L214 2.249L214.5 2.253L215.5 2.263L217 2.277L217.5 2.282L218.5 2.291L220 2.303L220.5 2.307L223.5 2.327L226.5 2.345L229.5 2.359L232.5 2.369L235.5 2.377L238.5 2.383L241.5 2.39L244.5 2.397L247.5 2.404L250.5 2.412L253.5 2.419L256.5 2.427L259.5 2.434L262.5 2.441L265.5 2.448L268.5 2.454L271.5 2.46L274.5 2.465L277.5 2.47L280.5 2.474L283.5 2.479L286.5 2.483L288.5 2.483L289.5 2.479L292.5 2.459L295.5 2.426L298.5 2.388L301.5 2.344L304.5 2.292L307.5 2.234L310.5 2.175L313.5 2.106L315.6 2.048L316.5 2.02L317.1 2.001L318.6 1.952L319.5 1.92L320.1 1.899L321.6 1.841L322.5 1.805L323.1 1.779L324.6 1.714L325.5 1.674L326.1 1.646L327.6 1.572L328.5 1.524L329.1 1.489L330.6 1.389L331.5 1.32L332.1 1.271L333.6 1.141L334.1 1.097L334.5 1.061L334.6 1.053L335.1 1.009L335.6 0.965L336.1 0.922L336.6 0.878L337.1 0.833L337.5 0.798L337.6 0.789L338.1 0.744L338.6 0.699L339.1 0.655L339.6 0.619M348.7 2.062L349.5 2.089L350.1 2.107L351.6 2.143L352.5 2.16L353.1 2.169L354.6 2.188L355.5 2.198L356.1 2.203L357.6 2.216L358.5 2.222L359.1 2.226L360.6 2.235L361.5 2.24L362.1 2.243L364.5 2.253L367.5 2.263L370.5 2.273L373.5 2.283L376.5 2.295L379.5 2.307L382.5 2.318L385.5 2.327L388.5 2.337L391.5 2.347L394.5 2.357L397.5 2.367L400.5 2.377L403.5 2.387L406.5 2.396L409.5 2.405L412.5 2.413L415.5 2.421L418.5 2.428L421.5 2.434L424.5 2.438L427.5 2.443L430.5 2.446L433.5 2.449L436.5 2.451L438 2.452L439.5 2.446L442.5 2.423L445.5 2.368L448.5 2.313L451.5 2.261L454.5 2.201L457.5 2.131L460.5 2.058L461.3 2.038L462.8 2.001L463.5 1.984L464.3 1.964L465.8 1.928L466.5 1.91L467.3 1.888L468.8 1.843L469.5 1.818L470.3 1.786L471.8 1.711L472.5 1.671L473.3 1.622L474.8 1.523L475.5 1.475L476.3 1.422L477.8 1.325L478.5 1.28L479.3 1.229L479.8 1.197L480.3 1.165L480.8 1.134L481.3 1.104L481.5 1.092L481.8 1.074L482.3 1.045L482.8 1.016L483.3 0.987L483.8 0.959L484.3 0.931L484.5 0.92L484.8 0.903L485.3 0.875L485.8 0.947L486.3 1.018L486.8 1.087L487.3 1.155L487.5 1.181L487.8 1.221L488.3 1.287L488.8 1.352L489.3 1.414L489.8 1.474L490.3 1.532L490.5 1.554L490.8 1.586L491.3 1.637L491.8 1.684L492.3 1.728L492.8 1.771L493.5 1.829L494.3 1.889L495.8 1.977L496.5 2.006L497.3 2.035L498.8 2.078L499.5 2.094L500.3 2.112L501.8 2.138L502.5 2.147L503.3 2.154L504.8 2.166L505.5 2.17L506.3 2.174L507.8 2.181L508.5 2.184L511.5 2.197L514.5 2.214L517.5 2.232L520.5 2.25L523.5 2.268L526.5 2.284L529.5 2.298L532.5 2.311L535.5 2.324L538.5 2.335L541.5 2.347L544.5 2.357L547.5 2.366L550.5 2.375L553.5 2.383L556.5 2.392L559.5 2.402L562.5 2.409L565.5 2.415L568.5 2.42L571.5 2.423L574.5 2.424L577.5 2.426L580.5 2.426L581 2.426L583.5 2.422L586.5 2.414L589.5 2.402L592.5 2.382L595.5 2.358L598.5 2.332L601.5 2.304L604.5 2.261L607.5 2.203L610.5 2.138L613.5 2.074L616.5 2.022L618 1.985L619.5 1.937L621 1.882L622.5 1.826L624 1.771L625.5 1.713L627 1.653L628.5 1.592L630 1.53L631.5 1.462L633 1.386L634.5 1.304L635 1.274L635.5 1.242L636 1.208L636.5 1.172L637 1.133L637.5 1.09L638 1.044L638.5 0.993L639 0.939L639.5 0.88L640 0.818L640.5 0.751L641 0.904L641.5 1.036L642 1.149L642.5 1.242L643 1.323L643.5 1.393L644 1.456L644.5 1.512L645 1.562L645.5 1.608L646 1.65L646.5 1.689L647 1.725L647.5 1.758L648 1.788L649.5 1.864L651 1.926L652.5 1.976L654 2.012L655.5 2.037L657 2.06L658.5 2.089L660 2.12L661.5 2.15L663 2.175L664.5 2.193L667.5 2.216L670.5 2.233L673.5 2.247L676.5 2.262L679.5 2.276L682.5 2.288L685.5 2.301L688.5 2.313L691.5 2.325L694.5 2.336L697.5 2.347L700 2.356"/><path d="M74 1.769L75.3 1.843L76.5 1.9L76.8 1.913L78.3 1.968L79.5 2.005L79.8 2.013L81.3 2.051L82.5 2.078L82.8 2.084L84.3 2.114L85.5 2.136L85.8 2.141L87.3 2.164L88.5 2.181L88.8 2.185L91.5 2.217L94.5 2.245L97.5 2.267L100.5 2.286L103.5 2.303L106.5 2.321L109.5 2.339L112.5 2.354L115.5 2.368L118.5 2.38L121.5 2.392L124.5 2.404L127.5 2.417L130.5 2.429L133.5 2.439L136.5 2.447L139.5 2.454L142.5 2.462L145.5 2.47L148.5 2.478L151.5 2.485L154.5 2.494L157.5 2.498L159 2.498L160.5 2.492L163.5 2.458L166.5 2.401L169.5 2.351L172.5 2.302L173.5 2.284L175 2.256L175.5 2.245L176.5 2.224L178 2.187L178.5 2.174L179.5 2.147L181 2.103L181.5 2.087L182.5 2.056L184 2.006L184.5 1.988L185.5 1.951L187 1.89L187.5 1.868L188.5 1.821L190 1.747L190.5 1.721L191.5 1.668L192 1.64L192.5 1.612L193 1.583L193.5 1.553L194 1.523L194.5 1.492L195 1.459L195.5 1.426L196 1.393L196.5 1.358L197 1.322L197.5 1.291M204.3 2.039L204.5 2.049L205 2.072L205.5 2.093L206.5 2.128L208 2.164L208.5 2.174L209.5 2.19L211 2.212L211.5 2.218L212.5 2.23L214 2.245L214.5 2.25L215.5 2.26L217 2.274L217.5 2.279L218.5 2.288L220 2.301L220.5 2.305L223.5 2.325L226.5 2.343L229.5 2.357L232.5 2.367L235.5 2.375L238.5 2.381L241.5 2.388L244.5 2.395L247.5 2.403L250.5 2.41L253.5 2.417L256.5 2.425L259.5 2.432L262.5 2.439L265.5 2.446L268.5 2.452L271.5 2.458L274.5 2.464L277.5 2.468L280.5 2.473L283.5 2.478L286.5 2.482L288.5 2.482L289.5 2.478L292.5 2.458L295.5 2.425L298.5 2.386L301.5 2.342L304.5 2.29L307.5 2.232L310.5 2.173L313.5 2.104L315.6 2.045L316.5 2.017L317.1 1.998L318.6 1.949L319.5 1.917L320.1 1.895L321.6 1.838L322.5 1.801L323.1 1.776L324.6 1.71L325.5 1.67L326.1 1.642L327.6 1.568L328.5 1.52L329.1 1.485L330.6 1.384L331.5 1.315L332.1 1.266L333.6 1.136L334.1 1.092L334.5 1.056L334.6 1.047L335.1 1.003L335.6 0.96L336.1 0.916L336.6 0.872L337.1 0.827L337.5 0.792L337.6 0.783L338.1 0.738L338.6 0.692L339.1 0.649L339.6 0.612M348.7 2.054L349.5 2.082L350.1 2.1L351.6 2.137L352.5 2.154L353.1 2.163L354.6 2.183L355.5 2.192L356.1 2.198L357.6 2.211L358.5 2.217L359.1 2.221L360.6 2.231L361.5 2.236L362.1 2.239L364.5 2.249L367.5 2.26L370.5 2.269L373.5 2.28L376.5 2.293L379.5 2.305L382.5 2.316L385.5 2.325L388.5 2.335L391.5 2.345L394.5 2.355L397.5 2.366L400.5 2.376L403.5 2.385L406.5 2.394L409.5 2.403L412.5 2.412L415.5 2.419L418.5 2.426L421.5 2.432L424.5 2.437L427.5 2.441L430.5 2.444L433.5 2.447L436.5 2.449L438 2.45L439.5 2.444L442.5 2.421L445.5 2.366L448.5 2.31L451.5 2.258L454.5 2.197L457.5 2.125L460.5 2.051L461.3 2.032L462.8 1.994L463.5 1.977L464.3 1.957L465.8 1.919L466.5 1.901L467.3 1.88L468.8 1.834L469.5 1.809L470.3 1.776L471.8 1.7L472.5 1.66L473.3 1.61L474.8 1.51L475.5 1.462L476.3 1.407L477.8 1.31L478.5 1.264L479.3 1.212L479.8 1.18L480.3 1.148L480.8 1.117L481.3 1.086L481.5 1.074L481.8 1.056L482.3 1.026L482.8 0.996L483.3 0.967L483.8 0.939L484.3 0.911L484.5 0.9L484.8 0.882L485.3 0.854L485.8 0.927L486.3 0.999L486.8 1.069L487.3 1.137L487.5 1.164L487.8 1.204L488.3 1.271L488.8 1.336L489.3 1.4L489.8 1.461L490.3 1.519L490.5 1.541L490.8 1.574L491.3 1.625L491.8 1.673L492.3 1.717L492.8 1.761L493.5 1.819L494.3 1.88L495.8 1.969L496.5 1.999L497.3 2.028L498.8 2.071L499.5 2.088L500.3 2.105L501.8 2.133L502.5 2.141L503.3 2.149L504.8 2.16L505.5 2.165L506.3 2.169L507.8 2.176L508.5 2.18L511.5 2.193L514.5 2.21L517.5 2.228L520.5 2.246L523.5 2.264L526.5 2.28L529.5 2.294L532.5 2.308L535.5 2.32L538.5 2.332L541.5 2.343L544.5 2.354L547.5 2.363L550.5 2.372L553.5 2.38L556.5 2.39L559.5 2.399L562.5 2.406L565.5 2.412L568.5 2.417L571.5 2.42L574.5 2.422L577.5 2.423L580.5 2.424L581 2.424L583.5 2.42L586.5 2.411L589.5 2.399L592.5 2.378L595.5 2.354L598.5 2.327L601.5 2.299L604.5 2.255L607.5 2.196L610.5 2.131L613.5 2.066L616.5 2.012L618 1.975L619.5 1.926L621 1.87L622.5 1.814L624 1.757L625.5 1.698L627 1.637L628.5 1.575L630 1.512L631.5 1.443L633 1.366L634.5 1.282L635 1.251L635.5 1.219L636 1.184L636.5 1.147L637 1.108L637.5 1.065L638 1.017L638.5 0.966L639 0.91L639.5 0.851L640 0.788L640.5 0.719L641 0.874L641.5 1.009L642 1.124L642.5 1.218L643 1.3L643.5 1.372L644 1.435L644.5 1.492L645 1.543L645.5 1.589L646 1.632L646.5 1.672L647 1.708L647.5 1.742L648 1.773L649.5 1.85L651 1.913L652.5 1.963L654 2L655.5 2.025L657 2.049L658.5 2.079L660 2.11L661.5 2.14L663 2.166L664.5 2.184L667.5 2.207L670.5 2.225L673.5 2.239L676.5 2.254L679.5 2.268L682.5 2.281L685.5 2.294L688.5 2.306L691.5 2.318L694.5 2.329L697.5 2.341L700 2.349"/><path d="M74 1.763L75.3 1.838L76.5 1.895L76.8 1.908L78.3 1.964L79.5 2.001L79.8 2.009L81.3 2.048L82.5 2.074L82.8 2.081L84.3 2.111L85.5 2.133L85.8 2.138L87.3 2.162L88.5 2.179L88.8 2.183L91.5 2.215L94.5 2.243L97.5 2.265L100.5 2.284L103.5 2.302L106.5 2.32L109.5 2.337L112.5 2.352L115.5 2.366L118.5 2.378L121.5 2.39L124.5 2.403L127.5 2.415L130.5 2.427L133.5 2.437L136.5 2.445L139.5 2.453L142.5 2.46L145.5 2.468L148.5 2.476L151.5 2.484L154.5 2.493L157.5 2.496L159 2.497L160.5 2.49L163.5 2.456L166.5 2.4L169.5 2.349L172.5 2.301L173.5 2.282L175 2.254L175.5 2.243L176.5 2.222L178 2.185L178.5 2.172L179.5 2.145L181 2.1L181.5 2.085L182.5 2.054L184 2.004L184.5 1.986L185.5 1.949L187 1.887L187.5 1.865L188.5 1.818L190 1.744L190.5 1.718L191.5 1.665L192 1.637L192.5 1.609L193 1.58L193.5 1.55L194 1.519L194.5 1.488L195 1.456L195.5 1.423L196 1.389L196.5 1.354L197 1.318L197.5 1.286M204.3 2.034L204.5 2.044L205 2.067L205.5 2.088L206.5 2.123L208 2.16L208.5 2.169L209.5 2.187L211 2.208L211.5 2.215L212.5 2.227L214 2.242L214.5 2.247L215.5 2.257L217 2.271L217.5 2.276L218.5 2.285L220 2.298L220.5 2.302L223.5 2.323L226.5 2.341L229.5 2.355L232.5 2.365L235.5 2.373L238.5 2.38L241.5 2.386L244.5 2.394L247.5 2.401L250.5 2.408L253.5 2.416L256.5 2.423L259.5 2.431L262.5 2.438L265.5 2.445L268.5 2.451L271.5 2.457L274.5 2.462L277.5 2.467L280.5 2.471L283.5 2.476L286.5 2.48L288.5 2.48L289.5 2.477L292.5 2.456L295.5 2.423L298.5 2.384L301.5 2.34L304.5 2.289L307.5 2.23L310.5 2.171L313.5 2.102L315.6 2.043L316.5 2.015L317.1 1.996L318.6 1.946L319.5 1.915L320.1 1.893L321.6 1.835L322.5 1.798L323.1 1.773L324.6 1.707L325.5 1.667L326.1 1.639L327.6 1.565L328.5 1.516L329.1 1.481L330.6 1.381L331.5 1.311L332.1 1.262L333.6 1.132L334.1 1.087L334.5 1.051L334.6 1.042L335.1 0.998L335.6 0.955L336.1 0.911L336.6 0.867L337.1 0.822L337.5 0.786L337.6 0.777L338.1 0.732L338.6 0.687L339.1 0.643L339.6 0.605M348.7 2.047L349.5 2.075L350.1 2.094L351.6 2.131L352.5 2.148L353.1 2.158L354.6 2.177L355.5 2.187L356.1 2.193L357.6 2.206L358.5 2.213L359.1 2.217L360.6 2.226L361.5 2.231L362.1 2.235L364.5 2.246L367.5 2.256L370.5 2.266L373.5 2.277L376.5 2.29L379.5 2.303L382.5 2.314L385.5 2.323L388.5 2.333L391.5 2.343L394.5 2.354L397.5 2.364L400.5 2.374L403.5 2.384L406.5 2.393L409.5 2.402L412.5 2.41L415.5 2.417L418.5 2.424L421.5 2.43L424.5 2.435L427.5 2.439L430.5 2.443L433.5 2.445L436.5 2.447L438 2.448L439.5 2.443L442.5 2.419L445.5 2.364L448.5 2.308L451.5 2.255L454.5 2.193L457.5 2.121L460.5 2.046L461.3 2.026L462.8 1.988L463.5 1.97L464.3 1.95L465.8 1.912L466.5 1.894L467.3 1.872L468.8 1.826L469.5 1.8L470.3 1.767L471.8 1.691L472.5 1.65L473.3 1.6L474.8 1.498L475.5 1.45L476.3 1.395L477.8 1.296L478.5 1.25L479.3 1.198L479.8 1.165L480.3 1.133L480.8 1.101L481.3 1.07L481.5 1.058L481.8 1.039L482.3 1.009L482.8 0.979L483.3 0.95L483.8 0.921L484.3 0.893L484.5 0.881L484.8 0.864L485.3 0.835L485.8 0.909L486.3 0.982L486.8 1.052L487.3 1.122L487.5 1.149L487.8 1.19L488.3 1.257L488.8 1.323L489.3 1.387L489.8 1.449L490.3 1.507L490.5 1.53L490.8 1.563L491.3 1.615L491.8 1.663L492.3 1.708L492.8 1.752L493.5 1.811L494.3 1.872L495.8 1.962L496.5 1.992L497.3 2.021L498.8 2.065L499.5 2.082L500.3 2.1L501.8 2.127L502.5 2.136L503.3 2.144L504.8 2.156L505.5 2.16L506.3 2.165L507.8 2.172L508.5 2.175L511.5 2.189L514.5 2.206L517.5 2.225L520.5 2.243L523.5 2.261L526.5 2.277L529.5 2.291L532.5 2.305L535.5 2.318L538.5 2.329L541.5 2.341L544.5 2.351L547.5 2.36L550.5 2.369L553.5 2.378L556.5 2.387L559.5 2.396L562.5 2.403L565.5 2.41L568.5 2.415L571.5 2.418L574.5 2.419L577.5 2.421L580.5 2.421L581 2.421L583.5 2.417L586.5 2.409L589.5 2.396L592.5 2.375L595.5 2.351L598.5 2.323L601.5 2.295L604.5 2.251L607.5 2.191L610.5 2.125L613.5 2.058L616.5 2.004L618 1.966L619.5 1.916L621 1.859L622.5 1.802L624 1.745L625.5 1.685L627 1.623L628.5 1.56L630 1.496L631.5 1.426L633 1.348L634.5 1.262L635 1.231L635.5 1.198L636 1.163L636.5 1.126L637 1.085L637.5 1.042L638 0.994L638.5 0.941L639 0.885L639.5 0.825L640 0.76L640.5 0.691L641 0.848L641.5 0.985L642 1.101L642.5 1.197L643 1.28L643.5 1.353L644 1.417L644.5 1.475L645 1.526L645.5 1.573L646 1.617L646.5 1.657L647 1.694L647.5 1.728L648 1.759L649.5 1.837L651 1.901L652.5 1.952L654 1.989L655.5 2.015L657 2.039L658.5 2.069L660 2.101L661.5 2.132L663 2.157L664.5 2.176L667.5 2.2L670.5 2.217L673.5 2.232L676.5 2.247L679.5 2.261L682.5 2.274L685.5 2.287L688.5 2.3L691.5 2.312L694.5 2.323L697.5 2.335L700 2.344"/><path d="M74 1.758L75.3 1.834L76.5 1.891L76.8 1.904L78.3 1.96L79.5 1.997L79.8 2.006L81.3 2.044L82.5 2.071L82.8 2.078L84.3 2.108L85.5 2.13L85.8 2.135L87.3 2.159L88.5 2.176L88.8 2.18L91.5 2.213L94.5 2.241L97.5 2.263L100.5 2.282L103.5 2.3L106.5 2.318L109.5 2.335L112.5 2.351L115.5 2.365L118.5 2.377L121.5 2.389L124.5 2.401L127.5 2.414L130.5 2.426L133.5 2.436L136.5 2.444L139.5 2.452L142.5 2.459L145.5 2.467L148.5 2.475L151.5 2.483L154.5 2.491L157.5 2.495L159 2.496L160.5 2.489L163.5 2.455L166.5 2.398L169.5 2.347L172.5 2.299L173.5 2.281L175 2.252L175.5 2.242L176.5 2.22L178 2.183L178.5 2.17L179.5 2.143L181 2.098L181.5 2.083L182.5 2.051L184 2.001L184.5 1.984L185.5 1.946L187 1.885L187.5 1.862L188.5 1.816L190 1.741L190.5 1.715L191.5 1.662L192 1.634L192.5 1.606L193 1.577L193.5 1.547L194 1.516L194.5 1.485L195 1.452L195.5 1.419L196 1.385L196.5 1.35L197 1.314L197.5 1.282M204.3 2.029L204.5 2.039L205 2.062L205.5 2.084L206.5 2.119L208 2.156L208.5 2.166L209.5 2.183L211 2.205L211.5 2.212L212.5 2.224L214 2.239L214.5 2.244L215.5 2.254L217 2.269L217.5 2.274L218.5 2.283L220 2.296L220.5 2.3L223.5 2.321L226.5 2.339L229.5 2.353L232.5 2.364L235.5 2.372L238.5 2.378L241.5 2.385L244.5 2.392L247.5 2.4L250.5 2.407L253.5 2.414L256.5 2.422L259.5 2.43L262.5 2.437L265.5 2.443L268.5 2.45L271.5 2.456L274.5 2.461L277.5 2.466L280.5 2.47L283.5 2.475L286.5 2.479L288.5 2.479L289.5 2.475L292.5 2.455L295.5 2.422L298.5 2.383L301.5 2.339L304.5 2.287L307.5 2.228L310.5 2.169L313.5 2.1L315.6 2.041L316.5 2.013L317.1 1.994L318.6 1.944L319.5 1.912L320.1 1.89L321.6 1.832L322.5 1.796L323.1 1.77L324.6 1.704L325.5 1.664L326.1 1.636L327.6 1.562L328.5 1.513L329.1 1.477L330.6 1.377L331.5 1.308L332.1 1.258L333.6 1.128L334.1 1.083L334.5 1.047L334.6 1.038L335.1 0.994L335.6 0.95L336.1 0.906L336.6 0.862L337.1 0.817L337.5 0.781L337.6 0.772L338.1 0.727L338.6 0.682L339.1 0.638L339.6 0.599M348.7 2.041L349.5 2.069L350.1 2.088L351.6 2.125L352.5 2.143L353.1 2.153L354.6 2.173L355.5 2.183L356.1 2.189L357.6 2.202L358.5 2.209L359.1 2.213L360.6 2.223L361.5 2.228L362.1 2.231L364.5 2.242L367.5 2.253L370.5 2.263L373.5 2.275L376.5 2.288L379.5 2.301L382.5 2.312L385.5 2.321L388.5 2.332L391.5 2.342L394.5 2.352L397.5 2.362L400.5 2.373L403.5 2.382L406.5 2.391L409.5 2.4L412.5 2.409L415.5 2.416L418.5 2.423L421.5 2.429L424.5 2.434L427.5 2.438L430.5 2.442L433.5 2.444L436.5 2.446L438 2.447L439.5 2.441L442.5 2.418L445.5 2.362L448.5 2.306L451.5 2.252L454.5 2.19L457.5 2.117L460.5 2.041L461.3 2.021L462.8 1.982L463.5 1.964L464.3 1.944L465.8 1.906L466.5 1.887L467.3 1.865L468.8 1.818L469.5 1.793L470.3 1.759L471.8 1.682L472.5 1.641L473.3 1.59L474.8 1.488L475.5 1.439L476.3 1.383L477.8 1.284L478.5 1.237L479.3 1.184L479.8 1.151L480.3 1.119L480.8 1.087L481.3 1.055L481.5 1.043L481.8 1.025L482.3 0.994L482.8 0.964L483.3 0.934L483.8 0.905L484.3 0.876L484.5 0.865L484.8 0.847L485.3 0.818L485.8 0.893L486.3 0.966L486.8 1.038L487.3 1.108L487.5 1.135L487.8 1.176L488.3 1.244L488.8 1.311L489.3 1.376L489.8 1.438L490.3 1.497L490.5 1.52L490.8 1.553L491.3 1.605L491.8 1.654L492.3 1.7L492.8 1.744L493.5 1.803L494.3 1.865L495.8 1.956L496.5 1.986L497.3 2.016L498.8 2.06L499.5 2.077L500.3 2.095L501.8 2.123L502.5 2.132L503.3 2.139L504.8 2.151L505.5 2.156L506.3 2.161L507.8 2.168L508.5 2.171L511.5 2.185L514.5 2.203L517.5 2.222L520.5 2.24L523.5 2.259L526.5 2.274L529.5 2.289L532.5 2.302L535.5 2.315L538.5 2.327L541.5 2.338L544.5 2.349L547.5 2.358L550.5 2.367L553.5 2.375L556.5 2.385L559.5 2.394L562.5 2.401L565.5 2.407L568.5 2.413L571.5 2.415L574.5 2.417L577.5 2.418L580.5 2.419L581 2.419L583.5 2.415L586.5 2.406L589.5 2.394L592.5 2.372L595.5 2.348L598.5 2.32L601.5 2.291L604.5 2.246L607.5 2.186L610.5 2.119L613.5 2.052L616.5 1.996L618 1.958L619.5 1.907L621 1.85L622.5 1.792L624 1.734L625.5 1.673L627 1.61L628.5 1.547L630 1.482L631.5 1.411L633 1.331L634.5 1.244L635 1.213L635.5 1.18L636 1.144L636.5 1.106L637 1.065L637.5 1.021L638 0.972L638.5 0.919L639 0.862L639.5 0.801L640 0.736L640.5 0.665L641 0.825L641.5 0.963L642 1.081L642.5 1.178L643 1.261L643.5 1.335L644 1.4L644.5 1.459L645 1.511L645.5 1.559L646 1.603L646.5 1.643L647 1.681L647.5 1.715L648 1.746L649.5 1.826L651 1.891L652.5 1.942L654 1.98L655.5 2.006L657 2.03L658.5 2.061L660 2.093L661.5 2.124L663 2.15L664.5 2.169L667.5 2.193L670.5 2.21L673.5 2.225L676.5 2.241L679.5 2.255L682.5 2.268L685.5 2.281L688.5 2.294L691.5 2.306L694.5 2.318L697.5 2.329L700 2.339"/><path d="M74 1.753L75.3 1.829L76.5 1.887L76.8 1.9L78.3 1.956L79.5 1.994L79.8 2.002L81.3 2.041L82.5 2.069L82.8 2.075L84.3 2.105L85.5 2.128L85.8 2.133L87.3 2.157L88.5 2.174L88.8 2.178L91.5 2.211L94.5 2.239L97.5 2.262L100.5 2.281L103.5 2.299L106.5 2.317L109.5 2.334L112.5 2.35L115.5 2.363L118.5 2.376L121.5 2.388L124.5 2.4L127.5 2.413L130.5 2.424L133.5 2.435L136.5 2.443L139.5 2.45L142.5 2.458L145.5 2.466L148.5 2.474L151.5 2.482L154.5 2.49L157.5 2.494L159 2.494L160.5 2.488L163.5 2.454L166.5 2.397L169.5 2.346L172.5 2.298L173.5 2.279L175 2.25L175.5 2.24L176.5 2.218L178 2.182L178.5 2.169L179.5 2.141L181 2.097L181.5 2.081L182.5 2.05L184 1.999L184.5 1.981L185.5 1.944L187 1.882L187.5 1.86L188.5 1.813L190 1.738L190.5 1.712L191.5 1.659L192 1.631L192.5 1.603L193 1.574L193.5 1.544L194 1.513L194.5 1.481L195 1.449L195.5 1.416L196 1.382L196.5 1.347L197 1.311L197.5 1.278M204.3 2.024L204.5 2.034L205 2.058L205.5 2.079L206.5 2.115L208 2.152L208.5 2.162L209.5 2.18L211 2.202L211.5 2.209L212.5 2.221L214 2.237L214.5 2.242L215.5 2.252L217 2.267L217.5 2.271L218.5 2.281L220 2.294L220.5 2.298L223.5 2.319L226.5 2.337L229.5 2.352L232.5 2.362L235.5 2.37L238.5 2.377L241.5 2.384L244.5 2.391L247.5 2.398L250.5 2.406L253.5 2.413L256.5 2.421L259.5 2.428L262.5 2.435L265.5 2.442L268.5 2.449L271.5 2.454L274.5 2.46L277.5 2.465L280.5 2.469L283.5 2.474L286.5 2.478L288.5 2.478L289.5 2.474L292.5 2.454L295.5 2.421L298.5 2.382L301.5 2.337L304.5 2.285L307.5 2.227L310.5 2.167L313.5 2.098L315.6 2.039L316.5 2.011L317.1 1.992L318.6 1.942L319.5 1.91L320.1 1.888L321.6 1.83L322.5 1.793L323.1 1.768L324.6 1.702L325.5 1.661L326.1 1.633L327.6 1.559L328.5 1.51L329.1 1.474L330.6 1.374L331.5 1.304L332.1 1.255L333.6 1.124L334.1 1.079L334.5 1.043L334.6 1.034L335.1 0.99L335.6 0.946L336.1 0.902L336.6 0.858L337.1 0.813L337.5 0.777L337.6 0.768L338.1 0.723L338.6 0.677L339.1 0.633L339.6 0.594M348.7 2.035L349.5 2.064L350.1 2.082L351.6 2.12L352.5 2.138L353.1 2.148L354.6 2.168L355.5 2.179L356.1 2.185L357.6 2.198L358.5 2.205L359.1 2.209L360.6 2.219L361.5 2.224L362.1 2.228L364.5 2.239L367.5 2.25L370.5 2.261L373.5 2.272L376.5 2.286L379.5 2.299L382.5 2.31L385.5 2.32L388.5 2.33L391.5 2.34L394.5 2.351L397.5 2.361L400.5 2.371L403.5 2.381L406.5 2.39L409.5 2.399L412.5 2.407L415.5 2.415L418.5 2.422L421.5 2.428L424.5 2.433L427.5 2.437L430.5 2.44L433.5 2.443L436.5 2.444L438 2.445L439.5 2.44L442.5 2.416L445.5 2.36L448.5 2.303L451.5 2.249L454.5 2.186L457.5 2.113L460.5 2.036L461.3 2.016L462.8 1.977L463.5 1.959L464.3 1.938L465.8 1.899L466.5 1.881L467.3 1.859L468.8 1.811L469.5 1.786L470.3 1.752L471.8 1.674L472.5 1.633L473.3 1.581L474.8 1.479L475.5 1.429L476.3 1.373L477.8 1.273L478.5 1.226L479.3 1.172L479.8 1.139L480.3 1.106L480.8 1.074L481.3 1.042L481.5 1.03L481.8 1.011L482.3 0.98L482.8 0.95L483.3 0.92L483.8 0.89L484.3 0.861L484.5 0.85L484.8 0.832L485.3 0.803L485.8 0.879L486.3 0.952L486.8 1.024L487.3 1.095L487.5 1.123L487.8 1.164L488.3 1.233L488.8 1.3L489.3 1.365L489.8 1.428L490.3 1.487L490.5 1.51L490.8 1.544L491.3 1.597L491.8 1.646L492.3 1.692L492.8 1.737L493.5 1.796L494.3 1.858L495.8 1.95L496.5 1.981L497.3 2.01L498.8 2.055L499.5 2.072L500.3 2.091L501.8 2.118L502.5 2.128L503.3 2.135L504.8 2.147L505.5 2.152L506.3 2.157L507.8 2.165L508.5 2.168L511.5 2.182L514.5 2.2L517.5 2.219L520.5 2.238L523.5 2.256L526.5 2.272L529.5 2.286L532.5 2.3L535.5 2.313L538.5 2.325L541.5 2.336L544.5 2.346L547.5 2.356L550.5 2.365L553.5 2.373L556.5 2.383L559.5 2.392L562.5 2.399L565.5 2.405L568.5 2.411L571.5 2.413L574.5 2.415L577.5 2.416L580.5 2.417L581 2.417L583.5 2.413L586.5 2.404L589.5 2.391L592.5 2.37L595.5 2.345L598.5 2.317L601.5 2.288L604.5 2.242L607.5 2.181L610.5 2.113L613.5 2.045L616.5 1.99L618 1.95L619.5 1.899L621 1.841L622.5 1.783L624 1.724L625.5 1.662L627 1.599L628.5 1.535L630 1.469L631.5 1.397L633 1.316L634.5 1.228L635 1.196L635.5 1.162L636 1.126L636.5 1.088L637 1.047L637.5 1.002L638 0.952L638.5 0.899L639 0.841L639.5 0.779L640 0.713L640.5 0.642L641 0.803L641.5 0.943L642 1.062L642.5 1.16L643 1.245L643.5 1.319L644 1.385L644.5 1.444L645 1.497L645.5 1.545L646 1.59L646.5 1.631L647 1.668L647.5 1.703L648 1.735L649.5 1.815L651 1.881L652.5 1.933L654 1.971L655.5 1.997L657 2.022L658.5 2.053L660 2.085L661.5 2.117L663 2.143L664.5 2.162L667.5 2.186L670.5 2.204L673.5 2.219L676.5 2.235L679.5 2.249L682.5 2.263L685.5 2.276L688.5 2.289L691.5 2.301L694.5 2.313L697.5 2.325L700 2.334"/><path d="M74 1.749L75.3 1.825L76.5 1.883L76.8 1.896L78.3 1.953L79.5 1.991L79.8 1.999L81.3 2.038L82.5 2.066L82.8 2.072L84.3 2.103L85.5 2.125L85.8 2.13L87.3 2.155L88.5 2.172L88.8 2.176L91.5 2.209L94.5 2.238L97.5 2.26L100.5 2.279L103.5 2.297L106.5 2.315L109.5 2.333L112.5 2.348L115.5 2.362L118.5 2.374L121.5 2.386L124.5 2.399L127.5 2.412L130.5 2.423L133.5 2.434L136.5 2.442L139.5 2.449L142.5 2.457L145.5 2.465L148.5 2.473L151.5 2.481L154.5 2.489L157.5 2.493L159 2.493L160.5 2.487L163.5 2.453L166.5 2.396L169.5 2.345L172.5 2.296L173.5 2.278L175 2.249L175.5 2.239L176.5 2.217L178 2.18L178.5 2.167L179.5 2.139L181 2.095L181.5 2.079L182.5 2.048L184 1.997L184.5 1.98L185.5 1.942L187 1.88L187.5 1.858L188.5 1.811L190 1.736L190.5 1.71L191.5 1.656L192 1.629L192.5 1.6L193 1.571L193.5 1.541L194 1.51L194.5 1.479L195 1.446L195.5 1.413L196 1.379L196.5 1.344L197 1.308L197.5 1.275M204.3 2.019L204.5 2.03L205 2.054L205.5 2.075L206.5 2.112L208 2.149L208.5 2.159L209.5 2.177L211 2.199L211.5 2.206L212.5 2.218L214 2.234L214.5 2.239L215.5 2.249L217 2.264L217.5 2.269L218.5 2.279L220 2.292L220.5 2.296L223.5 2.317L226.5 2.336L229.5 2.35L232.5 2.361L235.5 2.369L238.5 2.376L241.5 2.382L244.5 2.39L247.5 2.397L250.5 2.405L253.5 2.412L256.5 2.42L259.5 2.427L262.5 2.434L265.5 2.441L268.5 2.447L271.5 2.453L274.5 2.459L277.5 2.463L280.5 2.468L283.5 2.473L286.5 2.477L288.5 2.477L289.5 2.473L292.5 2.453L295.5 2.419L298.5 2.38L301.5 2.336L304.5 2.284L307.5 2.225L310.5 2.165L313.5 2.096L315.6 2.037L316.5 2.009L317.1 1.99L318.6 1.94L319.5 1.908L320.1 1.886L321.6 1.828L322.5 1.791L323.1 1.765L324.6 1.699L325.5 1.658L326.1 1.63L327.6 1.556L328.5 1.507L329.1 1.472L330.6 1.371L331.5 1.301L332.1 1.251L333.6 1.12L334.1 1.075L334.5 1.04L334.6 1.031L335.1 0.986L335.6 0.942L336.1 0.898L336.6 0.854L337.1 0.809L337.5 0.773L337.6 0.764L338.1 0.718L338.6 0.673L339.1 0.628L339.6 0.588M348.7 2.029L349.5 2.058L350.1 2.077L351.6 2.116L352.5 2.134L353.1 2.144L354.6 2.164L355.5 2.175L356.1 2.181L357.6 2.194L358.5 2.202L359.1 2.206L360.6 2.216L361.5 2.221L362.1 2.225L364.5 2.236L367.5 2.248L370.5 2.258L373.5 2.27L376.5 2.284L379.5 2.297L382.5 2.309L385.5 2.319L388.5 2.329L391.5 2.339L394.5 2.349L397.5 2.36L400.5 2.37L403.5 2.38L406.5 2.389L409.5 2.398L412.5 2.406L415.5 2.414L418.5 2.421L421.5 2.427L424.5 2.432L427.5 2.436L430.5 2.439L433.5 2.441L436.5 2.443L438 2.444L439.5 2.438L442.5 2.415L445.5 2.358L448.5 2.301L451.5 2.247L454.5 2.184L457.5 2.109L460.5 2.032L461.3 2.012L462.8 1.972L463.5 1.954L464.3 1.933L465.8 1.894L466.5 1.875L467.3 1.853L468.8 1.805L469.5 1.779L470.3 1.745L471.8 1.667L472.5 1.625L473.3 1.573L474.8 1.47L475.5 1.42L476.3 1.363L477.8 1.262L478.5 1.215L479.3 1.161L479.8 1.127L480.3 1.094L480.8 1.062L481.3 1.03L481.5 1.017L481.8 0.998L482.3 0.967L482.8 0.936L483.3 0.906L483.8 0.876L484.3 0.847L484.5 0.836L484.8 0.818L485.3 0.789L485.8 0.865L486.3 0.939L486.8 1.012L487.3 1.083L487.5 1.111L487.8 1.153L488.3 1.222L488.8 1.29L489.3 1.356L489.8 1.419L490.3 1.479L490.5 1.502L490.8 1.536L491.3 1.589L491.8 1.638L492.3 1.685L492.8 1.73L493.5 1.79L494.3 1.852L495.8 1.945L496.5 1.976L497.3 2.006L498.8 2.05L499.5 2.068L500.3 2.086L501.8 2.115L502.5 2.124L503.3 2.132L504.8 2.144L505.5 2.149L506.3 2.153L507.8 2.161L508.5 2.165L511.5 2.179L514.5 2.197L517.5 2.216L520.5 2.235L523.5 2.254L526.5 2.27L529.5 2.284L532.5 2.298L535.5 2.311L538.5 2.323L541.5 2.334L544.5 2.344L547.5 2.354L550.5 2.363L553.5 2.371L556.5 2.381L559.5 2.39L562.5 2.397L565.5 2.404L568.5 2.409L571.5 2.412L574.5 2.413L577.5 2.415L580.5 2.415L581 2.415L583.5 2.411L586.5 2.402L589.5 2.389L592.5 2.368L595.5 2.343L598.5 2.314L601.5 2.285L604.5 2.239L607.5 2.177L610.5 2.108L613.5 2.04L616.5 1.983L618 1.943L619.5 1.892L621 1.833L622.5 1.774L624 1.714L625.5 1.652L627 1.588L628.5 1.523L630 1.456L631.5 1.384L633 1.302L634.5 1.213L635 1.181L635.5 1.146L636 1.11L636.5 1.071L637 1.029L637.5 0.984L638 0.934L638.5 0.88L639 0.821L639.5 0.758L640 0.692L640.5 0.62L641 0.783L641.5 0.924L642 1.044L642.5 1.143L643 1.229L643.5 1.304L644 1.371L644.5 1.43L645 1.484L645.5 1.532L646 1.577L646.5 1.619L647 1.657L647.5 1.692L648 1.724L649.5 1.805L651 1.872L652.5 1.924L654 1.963L655.5 1.989L657 2.014L658.5 2.045L660 2.078L661.5 2.11L663 2.137L664.5 2.156L667.5 2.18L670.5 2.198L673.5 2.214L676.5 2.229L679.5 2.244L682.5 2.257L685.5 2.271L688.5 2.284L691.5 2.296L694.5 2.308L697.5 2.32L700 2.329"/><path d="M74 1.745L75.3 1.822L76.5 1.88L76.8 1.893L78.3 1.95L79.5 1.988L79.8 1.997L81.3 2.036L82.5 2.063L82.8 2.07L84.3 2.101L85.5 2.123L85.8 2.128L87.3 2.153L88.5 2.17L88.8 2.174L91.5 2.207L94.5 2.236L97.5 2.259L100.5 2.278L103.5 2.296L106.5 2.314L109.5 2.331L112.5 2.347L115.5 2.361L118.5 2.373L121.5 2.385L124.5 2.398L127.5 2.41L130.5 2.422L133.5 2.432L136.5 2.441L139.5 2.448L142.5 2.456L145.5 2.464L148.5 2.472L151.5 2.48L154.5 2.488L157.5 2.492L159 2.492L160.5 2.486L163.5 2.452L166.5 2.395L169.5 2.344L172.5 2.295L173.5 2.277L175 2.247L175.5 2.237L176.5 2.215L178 2.179L178.5 2.165L179.5 2.138L181 2.093L181.5 2.078L182.5 2.046L184 1.995L184.5 1.978L185.5 1.94L187 1.878L187.5 1.856L188.5 1.809L190 1.734L190.5 1.708L191.5 1.654L192 1.626L192.5 1.598L193 1.568L193.5 1.538L194 1.508L194.5 1.476L195 1.443L195.5 1.41L196 1.376L196.5 1.341L197 1.305L197.5 1.271M204.3 2.015L204.5 2.025L205 2.05L205.5 2.072L206.5 2.108L208 2.146L208.5 2.156L209.5 2.174L211 2.197L211.5 2.203L212.5 2.216L214 2.232L214.5 2.237L215.5 2.247L217 2.262L217.5 2.267L218.5 2.277L220 2.29L220.5 2.294L223.5 2.316L226.5 2.334L229.5 2.349L232.5 2.36L235.5 2.368L238.5 2.374L241.5 2.381L244.5 2.389L247.5 2.396L250.5 2.403L253.5 2.411L256.5 2.419L259.5 2.426L262.5 2.433L265.5 2.44L268.5 2.446L271.5 2.452L274.5 2.458L277.5 2.462L280.5 2.467L283.5 2.472L286.5 2.476L288.5 2.476L289.5 2.472L292.5 2.451L295.5 2.418L298.5 2.379L301.5 2.335L304.5 2.283L307.5 2.224L310.5 2.164L313.5 2.094L315.6 2.035L316.5 2.007L317.1 1.988L318.6 1.938L319.5 1.906L320.1 1.884L321.6 1.826L322.5 1.789L323.1 1.763L324.6 1.697L325.5 1.656L326.1 1.628L327.6 1.553L328.5 1.504L329.1 1.469L330.6 1.368L331.5 1.298L332.1 1.248L333.6 1.117L334.1 1.072L334.5 1.036L334.6 1.027L335.1 0.983L335.6 0.939L336.1 0.894L336.6 0.85L337.1 0.805L337.5 0.769L337.6 0.76L338.1 0.714L338.6 0.669L339.1 0.624L339.6 0.584M348.7 2.024L349.5 2.053L350.1 2.073L351.6 2.111L352.5 2.13L353.1 2.14L354.6 2.161L355.5 2.171L356.1 2.177L357.6 2.191L358.5 2.198L359.1 2.203L360.6 2.213L361.5 2.218L362.1 2.222L364.5 2.233L367.5 2.245L370.5 2.256L373.5 2.268L376.5 2.282L379.5 2.295L382.5 2.307L385.5 2.317L388.5 2.328L391.5 2.338L394.5 2.348L397.5 2.359L400.5 2.369L403.5 2.378L406.5 2.388L409.5 2.397L412.5 2.405L415.5 2.413L418.5 2.42L421.5 2.426L424.5 2.43L427.5 2.435L430.5 2.438L433.5 2.44L436.5 2.442L438 2.443L439.5 2.437L442.5 2.413L445.5 2.357L448.5 2.3L451.5 2.245L454.5 2.181L457.5 2.106L460.5 2.028L461.3 2.007L462.8 1.968L463.5 1.949L464.3 1.928L465.8 1.889L466.5 1.87L467.3 1.847L468.8 1.799L469.5 1.773L470.3 1.739L471.8 1.66L472.5 1.618L473.3 1.566L474.8 1.461L475.5 1.411L476.3 1.354L477.8 1.252L478.5 1.205L479.3 1.15L479.8 1.117L480.3 1.083L480.8 1.05L481.3 1.018L481.5 1.006L481.8 0.987L482.3 0.955L482.8 0.924L483.3 0.894L483.8 0.864L484.3 0.834L484.5 0.823L484.8 0.805L485.3 0.776L485.8 0.852L486.3 0.927L486.8 1L487.3 1.072L487.5 1.1L487.8 1.143L488.3 1.212L488.8 1.28L489.3 1.346L489.8 1.41L490.3 1.471L490.5 1.494L490.8 1.528L491.3 1.581L491.8 1.631L492.3 1.678L492.8 1.723L493.5 1.784L494.3 1.847L495.8 1.94L496.5 1.971L497.3 2.001L498.8 2.046L499.5 2.064L500.3 2.082L501.8 2.111L502.5 2.12L503.3 2.128L504.8 2.141L505.5 2.145L506.3 2.15L507.8 2.158L508.5 2.162L511.5 2.176L514.5 2.194L517.5 2.214L520.5 2.233L523.5 2.252L526.5 2.268L529.5 2.282L532.5 2.296L535.5 2.309L538.5 2.321L541.5 2.332L544.5 2.343L547.5 2.352L550.5 2.361L553.5 2.37L556.5 2.379L559.5 2.388L562.5 2.396L565.5 2.402L568.5 2.407L571.5 2.41L574.5 2.412L577.5 2.413L580.5 2.414L581 2.414L583.5 2.41L586.5 2.401L589.5 2.387L592.5 2.365L595.5 2.34L598.5 2.311L601.5 2.282L604.5 2.235L607.5 2.173L610.5 2.104L613.5 2.034L616.5 1.977L618 1.937L619.5 1.884L621 1.825L622.5 1.766L624 1.705L625.5 1.643L627 1.578L628.5 1.512L630 1.445L631.5 1.371L633 1.289L634.5 1.199L635 1.166L635.5 1.131L636 1.095L636.5 1.055L637 1.013L637.5 0.967L638 0.916L638.5 0.862L639 0.803L639.5 0.739L640 0.672L640.5 0.599L641 0.763L641.5 0.906L642 1.027L642.5 1.128L643 1.214L643.5 1.29L644 1.357L644.5 1.417L645 1.471L645.5 1.52L646 1.566L646.5 1.608L647 1.646L647.5 1.682L648 1.714L649.5 1.796L651 1.863L652.5 1.916L654 1.955L655.5 1.982L657 2.007L658.5 2.038L660 2.072L661.5 2.103L663 2.13L664.5 2.15L667.5 2.175L670.5 2.193L673.5 2.208L676.5 2.224L679.5 2.239L682.5 2.253L685.5 2.266L688.5 2.279L691.5 2.292L694.5 2.304L697.5 2.316L700 2.325"/><path d="M74 1.741L75.3 1.818L76.5 1.876L76.8 1.89L78.3 1.947L79.5 1.985L79.8 1.994L81.3 2.033L82.5 2.061L82.8 2.068L84.3 2.099L85.5 2.121L85.8 2.126L87.3 2.151L88.5 2.168L88.8 2.172L91.5 2.206L94.5 2.234L97.5 2.257L100.5 2.276L103.5 2.295L106.5 2.313L109.5 2.33L112.5 2.346L115.5 2.36L118.5 2.372L121.5 2.384L124.5 2.397L127.5 2.409L130.5 2.421L133.5 2.431L136.5 2.44L139.5 2.447L142.5 2.455L145.5 2.463L148.5 2.471L151.5 2.479L154.5 2.487L157.5 2.491L159 2.492L160.5 2.485L163.5 2.451L166.5 2.394L169.5 2.342L172.5 2.294L173.5 2.275L175 2.246L175.5 2.236L176.5 2.214L178 2.177L178.5 2.164L179.5 2.136L181 2.092L181.5 2.076L182.5 2.044L184 1.994L184.5 1.976L185.5 1.938L187 1.876L187.5 1.854L188.5 1.807L190 1.732L190.5 1.706L191.5 1.652L192 1.624L192.5 1.595L193 1.566L193.5 1.536L194 1.505L194.5 1.473L195 1.441L195.5 1.407L196 1.373L196.5 1.338L197 1.302L197.5 1.268M204.3 2.011L204.5 2.022L205 2.046L205.5 2.068L206.5 2.105L208 2.143L208.5 2.153L209.5 2.171L211 2.194L211.5 2.201L212.5 2.214L214 2.23L214.5 2.235L215.5 2.245L217 2.261L217.5 2.265L218.5 2.275L220 2.289L220.5 2.293L223.5 2.314L226.5 2.333L229.5 2.348L232.5 2.359L235.5 2.367L238.5 2.373L241.5 2.38L244.5 2.387L247.5 2.395L250.5 2.402L253.5 2.41L256.5 2.418L259.5 2.425L262.5 2.432L265.5 2.439L268.5 2.445L271.5 2.451L274.5 2.457L277.5 2.461L280.5 2.466L283.5 2.471L286.5 2.475L288.5 2.475L289.5 2.471L292.5 2.451L295.5 2.417L298.5 2.378L301.5 2.333L304.5 2.281L307.5 2.222L310.5 2.162L313.5 2.093L315.6 2.033L316.5 2.005L317.1 1.986L318.6 1.936L319.5 1.904L320.1 1.882L321.6 1.824L322.5 1.787L323.1 1.761L324.6 1.695L325.5 1.654L326.1 1.626L327.6 1.551L328.5 1.502L329.1 1.466L330.6 1.365L331.5 1.295L332.1 1.246L333.6 1.114L334.1 1.069L334.5 1.033L334.6 1.024L335.1 0.979L335.6 0.935L336.1 0.891L336.6 0.846L337.1 0.801L337.5 0.765L337.6 0.756L338.1 0.711L338.6 0.665L339.1 0.62L339.6 0.579M348.7 2.019L349.5 2.049L350.1 2.068L351.6 2.107L352.5 2.126L353.1 2.136L354.6 2.157L355.5 2.167L356.1 2.174L357.6 2.188L358.5 2.195L359.1 2.2L360.6 2.21L361.5 2.215L362.1 2.219L364.5 2.231L367.5 2.243L370.5 2.254L373.5 2.266L376.5 2.28L379.5 2.294L382.5 2.306L385.5 2.316L388.5 2.326L391.5 2.337L394.5 2.347L397.5 2.357L400.5 2.368L403.5 2.377L406.5 2.387L409.5 2.396L412.5 2.404L415.5 2.411L418.5 2.418L421.5 2.425L424.5 2.429L427.5 2.433L430.5 2.437L433.5 2.439L436.5 2.441L438 2.442L439.5 2.436L442.5 2.412L445.5 2.355L448.5 2.298L451.5 2.243L454.5 2.178L457.5 2.103L460.5 2.024L461.3 2.003L462.8 1.963L463.5 1.944L464.3 1.923L465.8 1.884L466.5 1.865L467.3 1.842L468.8 1.794L469.5 1.767L470.3 1.733L471.8 1.653L472.5 1.611L473.3 1.559L474.8 1.454L475.5 1.403L476.3 1.346L477.8 1.243L478.5 1.195L479.3 1.141L479.8 1.107L480.3 1.073L480.8 1.04L481.3 1.007L481.5 0.995L481.8 0.975L482.3 0.944L482.8 0.913L483.3 0.882L483.8 0.852L484.3 0.822L484.5 0.81L484.8 0.792L485.3 0.763L485.8 0.841L486.3 0.916L486.8 0.99L487.3 1.062L487.5 1.09L487.8 1.133L488.3 1.203L488.8 1.271L489.3 1.338L489.8 1.402L490.3 1.463L490.5 1.486L490.8 1.52L491.3 1.574L491.8 1.625L492.3 1.671L492.8 1.717L493.5 1.778L494.3 1.842L495.8 1.935L496.5 1.966L497.3 1.997L498.8 2.042L499.5 2.06L500.3 2.079L501.8 2.108L502.5 2.117L503.3 2.125L504.8 2.137L505.5 2.142L506.3 2.147L507.8 2.155L508.5 2.159L511.5 2.173L514.5 2.192L517.5 2.212L520.5 2.231L523.5 2.25L526.5 2.266L529.5 2.28L532.5 2.294L535.5 2.307L538.5 2.319L541.5 2.33L544.5 2.341L547.5 2.35L550.5 2.359L553.5 2.368L556.5 2.377L559.5 2.387L562.5 2.394L565.5 2.4L568.5 2.406L571.5 2.408L574.5 2.41L577.5 2.411L580.5 2.412L581 2.412L583.5 2.408L586.5 2.399L589.5 2.386L592.5 2.363L595.5 2.338L598.5 2.309L601.5 2.279L604.5 2.232L607.5 2.169L610.5 2.099L613.5 2.029L616.5 1.971L618 1.93L619.5 1.878L621 1.818L622.5 1.758L624 1.697L625.5 1.634L627 1.568L628.5 1.502L630 1.434L631.5 1.359L633 1.276L634.5 1.185L635 1.152L635.5 1.117L636 1.08L636.5 1.04L637 0.997L637.5 0.951L638 0.9L638.5 0.845L639 0.785L639.5 0.721L640 0.653L640.5 0.579L641 0.745L641.5 0.889L642 1.012L642.5 1.113L643 1.2L643.5 1.277L644 1.345L644.5 1.405L645 1.459L645.5 1.509L646 1.555L646.5 1.597L647 1.636L647.5 1.672L648 1.705L649.5 1.787L651 1.855L652.5 1.908L654 1.947L655.5 1.975L657 2L658.5 2.032L660 2.065L661.5 2.097L663 2.125L664.5 2.144L667.5 2.169L670.5 2.188L673.5 2.203L676.5 2.219L679.5 2.234L682.5 2.248L685.5 2.261L688.5 2.275L691.5 2.287L694.5 2.3L697.5 2.312L700 2.321"/><path d="M74 1.737L75.3 1.815L76.5 1.873L76.8 1.886L78.3 1.944L79.5 1.982L79.8 1.991L81.3 2.031L82.5 2.059L82.8 2.065L84.3 2.096L85.5 2.119L85.8 2.124L87.3 2.149L88.5 2.167L88.8 2.171L91.5 2.204L94.5 2.233L97.5 2.256L100.5 2.275L103.5 2.293L106.5 2.312L109.5 2.329L112.5 2.345L115.5 2.359L118.5 2.371L121.5 2.383L124.5 2.396L127.5 2.408L130.5 2.42L133.5 2.43L136.5 2.439L139.5 2.446L142.5 2.454L145.5 2.462L148.5 2.47L151.5 2.478L154.5 2.486L157.5 2.49L159 2.491L160.5 2.484L163.5 2.45L166.5 2.393L169.5 2.341L172.5 2.292L173.5 2.274L175 2.245L175.5 2.235L176.5 2.213L178 2.176L178.5 2.163L179.5 2.135L181 2.09L181.5 2.075L182.5 2.043L184 1.992L184.5 1.974L185.5 1.937L187 1.874L187.5 1.852L188.5 1.805L190 1.73L190.5 1.703L191.5 1.65L192 1.622L192.5 1.593L193 1.564L193.5 1.534L194 1.503L194.5 1.471L195 1.438L195.5 1.405L196 1.371L196.5 1.335L197 1.299L197.5 1.265M204.3 2.007L204.5 2.018L205 2.042L205.5 2.065L206.5 2.102L208 2.14L208.5 2.15L209.5 2.168L211 2.192L211.5 2.199L212.5 2.211L214 2.228L214.5 2.233L215.5 2.243L217 2.259L217.5 2.264L218.5 2.273L220 2.287L220.5 2.291L223.5 2.313L226.5 2.332L229.5 2.347L232.5 2.358L235.5 2.366L238.5 2.372L241.5 2.379L244.5 2.386L247.5 2.394L250.5 2.401L253.5 2.409L256.5 2.417L259.5 2.424L262.5 2.431L265.5 2.438L268.5 2.444L271.5 2.45L274.5 2.456L277.5 2.461L280.5 2.465L283.5 2.47L286.5 2.474L288.5 2.474L289.5 2.47L292.5 2.45L295.5 2.416L298.5 2.377L301.5 2.332L304.5 2.28L307.5 2.221L310.5 2.161L313.5 2.091L315.6 2.032L316.5 2.004L317.1 1.984L318.6 1.934L319.5 1.902L320.1 1.88L321.6 1.822L322.5 1.785L323.1 1.759L324.6 1.693L325.5 1.652L326.1 1.623L327.6 1.549L328.5 1.499L329.1 1.464L330.6 1.362L331.5 1.292L332.1 1.243L333.6 1.111L334.1 1.066L334.5 1.03L334.6 1.021L335.1 0.976L335.6 0.932L336.1 0.888L336.6 0.843L337.1 0.798L337.5 0.762L337.6 0.753L338.1 0.707L338.6 0.661L339.1 0.616L339.6 0.575M348.7 2.015L349.5 2.044L350.1 2.064L351.6 2.103L352.5 2.122L353.1 2.132L354.6 2.153L355.5 2.164L356.1 2.17L357.6 2.185L358.5 2.192L359.1 2.197L360.6 2.207L361.5 2.212L362.1 2.216L364.5 2.228L367.5 2.24L370.5 2.252L373.5 2.264L376.5 2.278L379.5 2.292L382.5 2.304L385.5 2.315L388.5 2.325L391.5 2.336L394.5 2.346L397.5 2.356L400.5 2.367L403.5 2.376L406.5 2.386L409.5 2.395L412.5 2.403L415.5 2.41L418.5 2.417L421.5 2.424L424.5 2.428L427.5 2.432L430.5 2.436L433.5 2.438L436.5 2.44L438 2.44L439.5 2.435L442.5 2.411L445.5 2.354L448.5 2.296L451.5 2.241L454.5 2.176L457.5 2.1L460.5 2.021L461.3 2L462.8 1.959L463.5 1.94L464.3 1.919L465.8 1.879L466.5 1.86L467.3 1.837L468.8 1.788L469.5 1.762L470.3 1.727L471.8 1.647L472.5 1.604L473.3 1.552L474.8 1.446L475.5 1.395L476.3 1.338L477.8 1.234L478.5 1.186L479.3 1.131L479.8 1.097L480.3 1.063L480.8 1.03L481.3 0.997L481.5 0.984L481.8 0.965L482.3 0.933L482.8 0.902L483.3 0.871L483.8 0.84L484.3 0.81L484.5 0.799L484.8 0.781L485.3 0.751L485.8 0.829L486.3 0.905L486.8 0.979L487.3 1.052L487.5 1.08L487.8 1.123L488.3 1.194L488.8 1.263L489.3 1.33L489.8 1.394L490.3 1.456L490.5 1.479L490.8 1.514L491.3 1.568L491.8 1.618L492.3 1.665L492.8 1.712L493.5 1.773L494.3 1.837L495.8 1.931L496.5 1.962L497.3 1.993L498.8 2.039L499.5 2.056L500.3 2.075L501.8 2.104L502.5 2.114L503.3 2.122L504.8 2.134L505.5 2.139L506.3 2.144L507.8 2.153L508.5 2.156L511.5 2.171L514.5 2.19L517.5 2.21L520.5 2.229L523.5 2.248L526.5 2.264L529.5 2.279L532.5 2.292L535.5 2.305L538.5 2.317L541.5 2.329L544.5 2.339L547.5 2.349L550.5 2.358L553.5 2.366L556.5 2.376L559.5 2.385L562.5 2.392L565.5 2.399L568.5 2.404L571.5 2.407L574.5 2.409L577.5 2.41L580.5 2.411L581 2.411L583.5 2.407L586.5 2.398L589.5 2.384L592.5 2.362L595.5 2.336L598.5 2.306L601.5 2.276L604.5 2.229L607.5 2.165L610.5 2.095L613.5 2.024L616.5 1.966L618 1.925L619.5 1.871L621 1.811L622.5 1.75L624 1.689L625.5 1.625L627 1.559L628.5 1.492L630 1.423L631.5 1.348L633 1.264L634.5 1.172L635 1.139L635.5 1.103L636 1.066L636.5 1.026L637 0.983L637.5 0.936L638 0.884L638.5 0.828L639 0.768L639.5 0.704L640 0.635L640.5 0.561L641 0.728L641.5 0.873L642 0.997L642.5 1.099L643 1.187L643.5 1.264L644 1.332L644.5 1.393L645 1.448L645.5 1.498L646 1.545L646.5 1.587L647 1.627L647.5 1.663L648 1.696L649.5 1.779L651 1.847L652.5 1.901L654 1.94L655.5 1.968L657 1.994L658.5 2.025L660 2.059L661.5 2.092L663 2.119L664.5 2.139L667.5 2.164L670.5 2.183L673.5 2.198L676.5 2.214L679.5 2.229L682.5 2.243L685.5 2.257L688.5 2.27L691.5 2.283L694.5 2.296L697.5 2.308L700 2.317"/><path d="M74 1.733L75.3 1.811L76.5 1.87L76.8 1.883L78.3 1.941L79.5 1.98L79.8 1.989L81.3 2.029L82.5 2.057L82.8 2.063L84.3 2.094L85.5 2.117L85.8 2.123L87.3 2.147L88.5 2.165L88.8 2.169L91.5 2.202L94.5 2.232L97.5 2.255L100.5 2.274L103.5 2.292L106.5 2.311L109.5 2.328L112.5 2.344L115.5 2.358L118.5 2.37L121.5 2.382L124.5 2.395L127.5 2.407L130.5 2.419L133.5 2.429L136.5 2.438L139.5 2.445L142.5 2.453L145.5 2.461L148.5 2.469L151.5 2.477L154.5 2.486L157.5 2.49L159 2.49L160.5 2.483L163.5 2.449L166.5 2.392L169.5 2.34L172.5 2.291L173.5 2.273L175 2.244L175.5 2.233L176.5 2.211L178 2.175L178.5 2.161L179.5 2.133L181 2.089L181.5 2.073L182.5 2.041L184 1.991L184.5 1.973L185.5 1.935L187 1.873L187.5 1.85L188.5 1.803L190 1.728L190.5 1.701L191.5 1.648L192 1.62L192.5 1.591L193 1.562L193.5 1.531L194 1.5L194.5 1.469L195 1.436L195.5 1.403L196 1.368L196.5 1.333L197 1.297L197.5 1.262M204.3 2.004L204.5 2.014L205 2.039L205.5 2.061L206.5 2.099L208 2.137L208.5 2.147L209.5 2.166L211 2.189L211.5 2.196L212.5 2.209L214 2.226L214.5 2.231L215.5 2.241L217 2.257L217.5 2.262L218.5 2.272L220 2.285L220.5 2.29L223.5 2.311L226.5 2.33L229.5 2.346L232.5 2.357L235.5 2.365L238.5 2.371L241.5 2.378L244.5 2.385L247.5 2.393L250.5 2.4L253.5 2.408L256.5 2.416L259.5 2.423L262.5 2.43L265.5 2.437L268.5 2.443L271.5 2.449L274.5 2.455L277.5 2.46L280.5 2.464L283.5 2.469L286.5 2.473L288.5 2.473L289.5 2.469L292.5 2.449L295.5 2.415L298.5 2.376L301.5 2.331L304.5 2.279L307.5 2.22L310.5 2.16L313.5 2.09L315.6 2.03L316.5 2.002L317.1 1.983L318.6 1.932L319.5 1.901L320.1 1.878L321.6 1.82L322.5 1.783L323.1 1.757L324.6 1.691L325.5 1.65L326.1 1.621L327.6 1.546L328.5 1.497L329.1 1.461L330.6 1.36L331.5 1.29L332.1 1.24L333.6 1.108L334.1 1.063L334.5 1.027L334.6 1.018L335.1 0.973L335.6 0.929L336.1 0.885L336.6 0.84L337.1 0.795L337.5 0.758L337.6 0.749L338.1 0.704L338.6 0.658L339.1 0.613L339.6 0.571M348.7 2.01L349.5 2.04L350.1 2.06L351.6 2.1L352.5 2.118L353.1 2.129L354.6 2.15L355.5 2.161L356.1 2.167L357.6 2.182L358.5 2.189L359.1 2.194L360.6 2.204L361.5 2.21L362.1 2.213L364.5 2.226L367.5 2.238L370.5 2.25L373.5 2.263L376.5 2.277L379.5 2.291L382.5 2.303L385.5 2.314L388.5 2.324L391.5 2.335L394.5 2.345L397.5 2.355L400.5 2.366L403.5 2.375L406.5 2.385L409.5 2.394L412.5 2.402L415.5 2.41L418.5 2.417L421.5 2.423L424.5 2.427L427.5 2.432L430.5 2.435L433.5 2.437L436.5 2.439L438 2.439L439.5 2.434L442.5 2.41L445.5 2.353L448.5 2.295L451.5 2.239L454.5 2.173L457.5 2.097L460.5 2.018L461.3 1.996L462.8 1.955L463.5 1.936L464.3 1.914L465.8 1.874L466.5 1.855L467.3 1.832L468.8 1.783L469.5 1.757L470.3 1.722L471.8 1.641L472.5 1.598L473.3 1.546L474.8 1.439L475.5 1.388L476.3 1.33L477.8 1.226L478.5 1.178L479.3 1.122L479.8 1.088L480.3 1.054L480.8 1.02L481.3 0.987L481.5 0.974L481.8 0.955L482.3 0.923L482.8 0.891L483.3 0.86L483.8 0.829L484.3 0.799L484.5 0.788L484.8 0.769L485.3 0.74L485.8 0.818L486.3 0.895L486.8 0.969L487.3 1.042L487.5 1.071L487.8 1.114L488.3 1.185L488.8 1.255L489.3 1.322L489.8 1.387L490.3 1.449L490.5 1.472L490.8 1.507L491.3 1.562L491.8 1.612L492.3 1.66L492.8 1.706L493.5 1.768L494.3 1.832L495.8 1.926L496.5 1.958L497.3 1.989L498.8 2.035L499.5 2.053L500.3 2.072L501.8 2.101L502.5 2.111L503.3 2.119L504.8 2.132L505.5 2.137L506.3 2.142L507.8 2.15L508.5 2.154L511.5 2.169L514.5 2.187L517.5 2.208L520.5 2.228L523.5 2.246L526.5 2.262L529.5 2.277L532.5 2.291L535.5 2.304L538.5 2.316L541.5 2.327L544.5 2.338L547.5 2.347L550.5 2.356L553.5 2.365L556.5 2.374L559.5 2.384L562.5 2.391L565.5 2.398L568.5 2.403L571.5 2.406L574.5 2.407L577.5 2.409L580.5 2.409L581 2.409L583.5 2.405L586.5 2.396L589.5 2.382L592.5 2.36L595.5 2.334L598.5 2.304L601.5 2.274L604.5 2.226L607.5 2.162L610.5 2.091L613.5 2.02L616.5 1.96L618 1.919L619.5 1.865L621 1.804L622.5 1.743L624 1.681L625.5 1.617L627 1.55L628.5 1.482L630 1.413L631.5 1.337L633 1.252L634.5 1.16L635 1.126L635.5 1.09L636 1.053L636.5 1.012L637 0.969L637.5 0.921L638 0.869L638.5 0.813L639 0.752L639.5 0.687L640 0.617L640.5 0.543L641 0.712L641.5 0.858L642 0.982L642.5 1.085L643 1.174L643.5 1.252L644 1.321L644.5 1.382L645 1.438L645.5 1.488L646 1.535L646.5 1.578L647 1.617L647.5 1.654L648 1.687L649.5 1.771L651 1.839L652.5 1.894L654 1.934L655.5 1.961L657 1.987L658.5 2.019L660 2.054L661.5 2.086L663 2.114L664.5 2.134L667.5 2.159L670.5 2.178L673.5 2.194L676.5 2.21L679.5 2.225L682.5 2.239L685.5 2.253L688.5 2.266L691.5 2.279L694.5 2.292L697.5 2.304L700 2.314"/><path d="M74 1.73L75.3 1.808L76.5 1.867L76.8 1.881L78.3 1.939L79.5 1.978L79.8 1.986L81.3 2.026L82.5 2.055L82.8 2.061L84.3 2.093L85.5 2.115L85.8 2.121L87.3 2.146L88.5 2.163L88.8 2.168L91.5 2.201L94.5 2.23L97.5 2.253L100.5 2.273L103.5 2.291L106.5 2.31L109.5 2.327L112.5 2.343L115.5 2.357L118.5 2.369L121.5 2.381L124.5 2.394L127.5 2.406L130.5 2.418L133.5 2.429L136.5 2.437L139.5 2.445L142.5 2.452L145.5 2.46L148.5 2.468L151.5 2.476L154.5 2.485L157.5 2.489L159 2.489L160.5 2.482L163.5 2.448L166.5 2.391L169.5 2.339L172.5 2.29L173.5 2.272L175 2.243L175.5 2.232L176.5 2.21L178 2.173L178.5 2.16L179.5 2.132L181 2.087L181.5 2.072L182.5 2.04L184 1.989L184.5 1.971L185.5 1.933L187 1.871L187.5 1.849L188.5 1.801L190 1.726L190.5 1.7L191.5 1.646L192 1.618L192.5 1.589L193 1.56L193.5 1.529L194 1.498L194.5 1.466L195 1.434L195.5 1.4L196 1.366L196.5 1.33L197 1.294L197.5 1.259M204.3 2L204.5 2.011L205 2.036L205.5 2.058L206.5 2.096L208 2.134L208.5 2.145L209.5 2.163L211 2.187L211.5 2.194L212.5 2.207L214 2.224L214.5 2.229L215.5 2.24L217 2.255L217.5 2.26L218.5 2.27L220 2.284L220.5 2.288L223.5 2.31L226.5 2.329L229.5 2.345L232.5 2.356L235.5 2.364L238.5 2.37L241.5 2.377L244.5 2.384L247.5 2.392L250.5 2.399L253.5 2.407L256.5 2.415L259.5 2.422L262.5 2.429L265.5 2.436L268.5 2.443L271.5 2.449L274.5 2.454L277.5 2.459L280.5 2.463L283.5 2.468L286.5 2.472L288.5 2.472L289.5 2.468L292.5 2.448L295.5 2.414L298.5 2.375L301.5 2.33L304.5 2.278L307.5 2.219L310.5 2.159L313.5 2.089L315.6 2.029L316.5 2.001L317.1 1.981L318.6 1.931L319.5 1.899L320.1 1.877L321.6 1.818L322.5 1.781L323.1 1.755L324.6 1.689L325.5 1.648L326.1 1.619L327.6 1.544L328.5 1.495L329.1 1.459L330.6 1.358L331.5 1.287L332.1 1.238L333.6 1.105L334.1 1.06L334.5 1.024L334.6 1.015L335.1 0.97L335.6 0.926L336.1 0.882L336.6 0.837L337.1 0.792L337.5 0.755L337.6 0.746L338.1 0.7L338.6 0.654L339.1 0.609L339.6 0.567M348.7 2.006L349.5 2.036L350.1 2.056L351.6 2.096L352.5 2.115L353.1 2.125L354.6 2.147L355.5 2.158L356.1 2.164L357.6 2.179L358.5 2.186L359.1 2.191L360.6 2.202L361.5 2.207L362.1 2.211L364.5 2.224L367.5 2.236L370.5 2.248L373.5 2.261L376.5 2.275L379.5 2.289L382.5 2.302L385.5 2.313L388.5 2.323L391.5 2.333L394.5 2.344L397.5 2.354L400.5 2.365L403.5 2.374L406.5 2.384L409.5 2.393L412.5 2.401L415.5 2.409L418.5 2.416L421.5 2.422L424.5 2.427L427.5 2.431L430.5 2.434L433.5 2.436L436.5 2.438L438 2.438L439.5 2.433L442.5 2.409L445.5 2.352L448.5 2.293L451.5 2.237L454.5 2.171L457.5 2.095L460.5 2.014L461.3 1.993L462.8 1.952L463.5 1.932L464.3 1.91L465.8 1.87L466.5 1.851L467.3 1.827L468.8 1.778L469.5 1.752L470.3 1.716L471.8 1.636L472.5 1.592L473.3 1.539L474.8 1.432L475.5 1.381L476.3 1.323L477.8 1.218L478.5 1.169L479.3 1.114L479.8 1.079L480.3 1.045L480.8 1.011L481.3 0.978L481.5 0.965L481.8 0.945L482.3 0.913L482.8 0.881L483.3 0.85L483.8 0.819L484.3 0.789L484.5 0.777L484.8 0.759L485.3 0.729L485.8 0.808L486.3 0.885L486.8 0.96L487.3 1.033L487.5 1.062L487.8 1.106L488.3 1.177L488.8 1.247L489.3 1.315L489.8 1.38L490.3 1.442L490.5 1.466L490.8 1.501L491.3 1.556L491.8 1.607L492.3 1.654L492.8 1.701L493.5 1.763L494.3 1.827L495.8 1.922L496.5 1.954L497.3 1.985L498.8 2.032L499.5 2.05L500.3 2.069L501.8 2.098L502.5 2.108L503.3 2.116L504.8 2.129L505.5 2.134L506.3 2.139L507.8 2.148L508.5 2.151L511.5 2.166L514.5 2.185L517.5 2.206L520.5 2.226L523.5 2.244L526.5 2.261L529.5 2.275L532.5 2.289L535.5 2.302L538.5 2.314L541.5 2.326L544.5 2.336L547.5 2.346L550.5 2.355L553.5 2.364L556.5 2.373L559.5 2.383L562.5 2.39L565.5 2.396L568.5 2.401L571.5 2.404L574.5 2.406L577.5 2.407L580.5 2.408L581 2.408L583.5 2.404L586.5 2.395L589.5 2.381L592.5 2.358L595.5 2.332L598.5 2.302L601.5 2.271L604.5 2.223L607.5 2.159L610.5 2.087L613.5 2.015L616.5 1.955L618 1.914L619.5 1.859L621 1.798L622.5 1.736L624 1.674L625.5 1.609L627 1.541L628.5 1.473L630 1.403L631.5 1.327L633 1.241L634.5 1.148L635 1.114L635.5 1.078L636 1.04L636.5 0.999L637 0.955L637.5 0.907L638 0.855L638.5 0.798L639 0.737L639.5 0.671L640 0.601L640.5 0.526L641 0.696L641.5 0.843L642 0.968L642.5 1.072L643 1.161L643.5 1.24L644 1.309L644.5 1.372L645 1.427L645.5 1.478L646 1.525L646.5 1.568L647 1.608L647.5 1.645L648 1.679L649.5 1.763L651 1.832L652.5 1.887L654 1.927L655.5 1.955L657 1.981L658.5 2.013L660 2.048L661.5 2.081L663 2.109L664.5 2.129L667.5 2.154L670.5 2.173L673.5 2.189L676.5 2.206L679.5 2.221L682.5 2.235L685.5 2.249L688.5 2.262L691.5 2.276L694.5 2.288L697.5 2.3L700 2.31"/><path d="M74 1.726L75.3 1.805L76.5 1.865L76.8 1.878L78.3 1.936L79.5 1.975L79.8 1.984L81.3 2.024L82.5 2.052L82.8 2.059L84.3 2.091L85.5 2.114L85.8 2.119L87.3 2.144L88.5 2.162L88.8 2.166L91.5 2.2L94.5 2.229L97.5 2.252L100.5 2.272L103.5 2.29L106.5 2.309L109.5 2.326L112.5 2.342L115.5 2.356L118.5 2.368L121.5 2.38L124.5 2.393L127.5 2.406L130.5 2.417L133.5 2.428L136.5 2.436L139.5 2.444L142.5 2.451L145.5 2.459L148.5 2.467L151.5 2.475L154.5 2.484L157.5 2.488L159 2.488L160.5 2.482L163.5 2.447L166.5 2.39L169.5 2.338L172.5 2.289L173.5 2.271L175 2.241L175.5 2.231L176.5 2.209L178 2.172L178.5 2.159L179.5 2.131L181 2.086L181.5 2.07L182.5 2.038L184 1.988L184.5 1.97L185.5 1.932L187 1.869L187.5 1.847L188.5 1.799L190 1.724L190.5 1.698L191.5 1.644L192 1.616L192.5 1.587L193 1.557L193.5 1.527L194 1.496L194.5 1.464L195 1.432L195.5 1.398L196 1.363L196.5 1.328L197 1.292L197.5 1.257M204.3 1.997L204.5 2.007L205 2.032L205.5 2.055L206.5 2.093L208 2.132L208.5 2.142L209.5 2.161L211 2.185L211.5 2.192L212.5 2.205L214 2.222L214.5 2.228L215.5 2.238L217 2.254L217.5 2.259L218.5 2.269L220 2.282L220.5 2.287L223.5 2.309L226.5 2.328L229.5 2.343L232.5 2.355L235.5 2.363L238.5 2.369L241.5 2.376L244.5 2.384L247.5 2.391L250.5 2.399L253.5 2.406L256.5 2.414L259.5 2.421L262.5 2.429L265.5 2.435L268.5 2.442L271.5 2.448L274.5 2.453L277.5 2.458L280.5 2.462L283.5 2.467L286.5 2.471L288.5 2.471L289.5 2.468L292.5 2.447L295.5 2.413L298.5 2.374L301.5 2.329L304.5 2.277L307.5 2.217L310.5 2.157L313.5 2.087L315.6 2.027L316.5 1.999L317.1 1.98L318.6 1.929L319.5 1.897L320.1 1.875L321.6 1.817L322.5 1.779L323.1 1.754L324.6 1.687L325.5 1.646L326.1 1.617L327.6 1.542L328.5 1.493L329.1 1.457L330.6 1.355L331.5 1.285L332.1 1.235L333.6 1.103L334.1 1.057L334.5 1.021L334.6 1.012L335.1 0.967L335.6 0.923L336.1 0.879L336.6 0.834L337.1 0.788L337.5 0.752L337.6 0.743L338.1 0.697L338.6 0.651L339.1 0.606L339.6 0.563M348.7 2.001L349.5 2.032L350.1 2.052L351.6 2.092L352.5 2.111L353.1 2.122L354.6 2.144L355.5 2.155L356.1 2.161L357.6 2.176L358.5 2.184L359.1 2.188L360.6 2.199L361.5 2.205L362.1 2.209L364.5 2.221L367.5 2.234L370.5 2.246L373.5 2.259L376.5 2.274L379.5 2.288L382.5 2.301L385.5 2.312L388.5 2.322L391.5 2.332L394.5 2.343L397.5 2.353L400.5 2.364L403.5 2.373L406.5 2.383L409.5 2.392L412.5 2.4L415.5 2.408L418.5 2.415L421.5 2.421L424.5 2.426L427.5 2.43L430.5 2.433L433.5 2.435L436.5 2.437L438 2.437L439.5 2.432L442.5 2.408L445.5 2.35L448.5 2.292L451.5 2.235L454.5 2.169L457.5 2.092L460.5 2.011L461.3 1.989L462.8 1.948L463.5 1.929L464.3 1.906L465.8 1.866L466.5 1.846L467.3 1.823L468.8 1.774L469.5 1.747L470.3 1.711L471.8 1.63L472.5 1.587L473.3 1.533L474.8 1.426L475.5 1.374L476.3 1.316L477.8 1.21L478.5 1.161L479.3 1.105L479.8 1.07L480.3 1.036L480.8 1.002L481.3 0.969L481.5 0.956L481.8 0.936L482.3 0.903L482.8 0.871L483.3 0.84L483.8 0.809L484.3 0.778L484.5 0.766L484.8 0.748L485.3 0.719L485.8 0.798L486.3 0.875L486.8 0.951L487.3 1.025L487.5 1.054L487.8 1.097L488.3 1.169L488.8 1.24L489.3 1.308L489.8 1.373L490.3 1.436L490.5 1.46L490.8 1.494L491.3 1.55L491.8 1.601L492.3 1.649L492.8 1.696L493.5 1.758L494.3 1.823L495.8 1.919L496.5 1.951L497.3 1.982L498.8 2.029L499.5 2.047L500.3 2.066L501.8 2.095L502.5 2.105L503.3 2.114L504.8 2.126L505.5 2.131L506.3 2.137L507.8 2.145L508.5 2.149L511.5 2.164L514.5 2.183L517.5 2.204L520.5 2.224L523.5 2.243L526.5 2.259L529.5 2.274L532.5 2.288L535.5 2.301L538.5 2.313L541.5 2.324L544.5 2.335L547.5 2.344L550.5 2.353L553.5 2.362L556.5 2.372L559.5 2.381L562.5 2.389L565.5 2.395L568.5 2.4L571.5 2.403L574.5 2.405L577.5 2.406L580.5 2.407L581 2.407L583.5 2.403L586.5 2.393L589.5 2.379L592.5 2.356L595.5 2.33L598.5 2.3L601.5 2.269L604.5 2.221L607.5 2.156L610.5 2.084L613.5 2.011L616.5 1.951L618 1.908L619.5 1.854L621 1.792L622.5 1.73L624 1.667L625.5 1.601L627 1.533L628.5 1.465L630 1.394L631.5 1.317L633 1.231L634.5 1.136L635 1.102L635.5 1.066L636 1.027L636.5 0.986L637 0.942L637.5 0.893L638 0.841L638.5 0.783L639 0.722L639.5 0.655L640 0.584L640.5 0.509L641 0.68L641.5 0.829L642 0.955L642.5 1.059L643 1.149L643.5 1.229L644 1.299L644.5 1.361L645 1.417L645.5 1.468L646 1.516L646.5 1.559L647 1.6L647.5 1.637L648 1.67L649.5 1.756L651 1.825L652.5 1.881L654 1.921L655.5 1.949L657 1.975L658.5 2.008L660 2.043L661.5 2.076L663 2.104L664.5 2.124L667.5 2.15L670.5 2.169L673.5 2.185L676.5 2.201L679.5 2.217L682.5 2.231L685.5 2.245L688.5 2.259L691.5 2.272L694.5 2.285L697.5 2.297L700 2.307"/><path d="M74 1.723L75.3 1.802L76.5 1.862L76.8 1.875L78.3 1.934L79.5 1.973L79.8 1.982L81.3 2.022L82.5 2.051L82.8 2.057L84.3 2.089L85.5 2.112L85.8 2.117L87.3 2.142L88.5 2.16L88.8 2.165L91.5 2.198L94.5 2.228L97.5 2.251L100.5 2.271L103.5 2.289L106.5 2.308L109.5 2.325L112.5 2.341L115.5 2.355L118.5 2.367L121.5 2.379L124.5 2.392L127.5 2.405L130.5 2.417L133.5 2.427L136.5 2.435L139.5 2.443L142.5 2.45L145.5 2.458L148.5 2.467L151.5 2.475L154.5 2.483L157.5 2.487L159 2.487L160.5 2.481L163.5 2.446L166.5 2.389L169.5 2.337L172.5 2.288L173.5 2.27L175 2.24L175.5 2.23L176.5 2.208L178 2.171L178.5 2.158L179.5 2.13L181 2.085L181.5 2.069L182.5 2.037L184 1.986L184.5 1.968L185.5 1.93L187 1.868L187.5 1.845L188.5 1.798L190 1.722L190.5 1.696L191.5 1.642L192 1.614L192.5 1.585L193 1.556L193.5 1.525L194 1.494L194.5 1.462L195 1.429L195.5 1.396L196 1.361L196.5 1.326L197 1.29L197.5 1.254M204.3 1.993L204.5 2.004L205 2.029L205.5 2.052L206.5 2.09L208 2.129L208.5 2.14L209.5 2.159L211 2.183L211.5 2.19L212.5 2.203L214 2.22L214.5 2.226L215.5 2.236L217 2.252L217.5 2.257L218.5 2.267L220 2.281L220.5 2.285L223.5 2.307L226.5 2.327L229.5 2.342L232.5 2.354L235.5 2.362L238.5 2.368L241.5 2.375L244.5 2.383L247.5 2.39L250.5 2.398L253.5 2.405L256.5 2.413L259.5 2.421L262.5 2.428L265.5 2.434L268.5 2.441L271.5 2.447L274.5 2.452L277.5 2.457L280.5 2.462L283.5 2.467L286.5 2.471L288.5 2.471L289.5 2.467L292.5 2.446L295.5 2.413L298.5 2.373L301.5 2.328L304.5 2.276L307.5 2.216L310.5 2.156L313.5 2.086L315.6 2.026L316.5 1.998L317.1 1.978L318.6 1.928L319.5 1.896L320.1 1.874L321.6 1.815L322.5 1.778L323.1 1.752L324.6 1.685L325.5 1.644L326.1 1.615L327.6 1.54L328.5 1.491L329.1 1.455L330.6 1.353L331.5 1.283L332.1 1.233L333.6 1.1L334.1 1.055L334.5 1.019L334.6 1.01L335.1 0.965L335.6 0.92L336.1 0.876L336.6 0.831L337.1 0.785L337.5 0.749L337.6 0.74L338.1 0.694L338.6 0.648L339.1 0.602L339.6 0.559M348.7 1.997L349.5 2.028L350.1 2.048L351.6 2.089L352.5 2.108L353.1 2.119L354.6 2.141L355.5 2.152L356.1 2.158L357.6 2.173L358.5 2.181L359.1 2.186L360.6 2.197L361.5 2.202L362.1 2.206L364.5 2.219L367.5 2.232L370.5 2.244L373.5 2.258L376.5 2.272L379.5 2.287L382.5 2.3L385.5 2.311L388.5 2.321L391.5 2.332L394.5 2.342L397.5 2.352L400.5 2.363L403.5 2.372L406.5 2.382L409.5 2.391L412.5 2.399L415.5 2.407L418.5 2.414L421.5 2.42L424.5 2.425L427.5 2.429L430.5 2.432L433.5 2.434L436.5 2.436L438 2.436L439.5 2.431L442.5 2.407L445.5 2.349L448.5 2.29L451.5 2.233L454.5 2.167L457.5 2.089L460.5 2.008L461.3 1.986L462.8 1.945L463.5 1.925L464.3 1.903L465.8 1.862L466.5 1.842L467.3 1.819L468.8 1.769L469.5 1.742L470.3 1.706L471.8 1.625L472.5 1.581L473.3 1.528L474.8 1.419L475.5 1.368L476.3 1.309L477.8 1.203L478.5 1.154L479.3 1.097L479.8 1.062L480.3 1.027L480.8 0.993L481.3 0.96L481.5 0.947L481.8 0.927L482.3 0.894L482.8 0.862L483.3 0.83L483.8 0.799L484.3 0.769L484.5 0.756L484.8 0.738L485.3 0.709L485.8 0.788L486.3 0.866L486.8 0.942L487.3 1.016L487.5 1.046L487.8 1.089L488.3 1.162L488.8 1.232L489.3 1.301L489.8 1.367L490.3 1.429L490.5 1.454L490.8 1.489L491.3 1.544L491.8 1.596L492.3 1.644L492.8 1.691L493.5 1.754L494.3 1.819L495.8 1.915L496.5 1.947L497.3 1.979L498.8 2.025L499.5 2.044L500.3 2.063L501.8 2.093L502.5 2.103L503.3 2.111L504.8 2.124L505.5 2.129L506.3 2.134L507.8 2.143L508.5 2.147L511.5 2.162L514.5 2.182L517.5 2.203L520.5 2.223L523.5 2.241L526.5 2.258L529.5 2.272L532.5 2.286L535.5 2.299L538.5 2.311L541.5 2.323L544.5 2.334L547.5 2.343L550.5 2.352L553.5 2.361L556.5 2.371L559.5 2.38L562.5 2.387L565.5 2.394L568.5 2.399L571.5 2.402L574.5 2.404L577.5 2.405L580.5 2.406L581 2.406L583.5 2.401L586.5 2.392L589.5 2.378L592.5 2.355L595.5 2.328L598.5 2.298L601.5 2.267L604.5 2.218L607.5 2.152L610.5 2.08L613.5 2.007L616.5 1.946L618 1.903L619.5 1.848L621 1.786L622.5 1.723L624 1.66L625.5 1.594L627 1.525L628.5 1.456L630 1.385L631.5 1.307L633 1.22L634.5 1.125L635 1.09L635.5 1.054L636 1.015L636.5 0.974L637 0.929L637.5 0.88L638 0.827L638.5 0.769L639 0.707L639.5 0.64L640 0.569L640.5 0.493L641 0.665L641.5 0.815L642 0.942L642.5 1.047L643 1.138L643.5 1.217L644 1.288L644.5 1.351L645 1.407L645.5 1.459L646 1.507L646.5 1.551L647 1.591L647.5 1.628L648 1.662L649.5 1.748L651 1.818L652.5 1.874L654 1.915L655.5 1.943L657 1.97L658.5 2.002L660 2.037L661.5 2.071L663 2.099L664.5 2.119L667.5 2.145L670.5 2.164L673.5 2.181L676.5 2.197L679.5 2.213L682.5 2.227L685.5 2.241L688.5 2.255L691.5 2.268L694.5 2.281L697.5 2.293L700 2.303"/><path d="M74 1.72L75.3 1.799L76.5 1.859L76.8 1.872L78.3 1.931L79.5 1.971L79.8 1.98L81.3 2.02L82.5 2.049L82.8 2.055L84.3 2.087L85.5 2.11L85.8 2.116L87.3 2.141L88.5 2.159L88.8 2.163L91.5 2.197L94.5 2.227L97.5 2.25L100.5 2.27L103.5 2.288L106.5 2.307L109.5 2.324L112.5 2.34L115.5 2.354L118.5 2.366L121.5 2.378L124.5 2.391L127.5 2.404L130.5 2.416L133.5 2.426L136.5 2.434L139.5 2.442L142.5 2.45L145.5 2.458L148.5 2.466L151.5 2.474L154.5 2.482L157.5 2.486L159 2.487L160.5 2.48L163.5 2.445L166.5 2.388L169.5 2.336L172.5 2.287L173.5 2.269L175 2.239L175.5 2.229L176.5 2.207L178 2.17L178.5 2.156L179.5 2.128L181 2.083L181.5 2.068L182.5 2.036L184 1.985L184.5 1.967L185.5 1.929L187 1.866L187.5 1.844L188.5 1.796L190 1.72L190.5 1.694L191.5 1.64L192 1.612L192.5 1.583L193 1.554L193.5 1.523L194 1.492L194.5 1.46L195 1.427L195.5 1.394L196 1.359L196.5 1.324L197 1.287L197.5 1.252M204.3 1.99L204.5 2.001L205 2.026L205.5 2.049L206.5 2.087L208 2.127L208.5 2.138L209.5 2.157L211 2.181L211.5 2.188L212.5 2.201L214 2.219L214.5 2.224L215.5 2.235L217 2.25L217.5 2.256L218.5 2.266L220 2.28L220.5 2.284L223.5 2.306L226.5 2.326L229.5 2.341L232.5 2.353L235.5 2.361L238.5 2.368L241.5 2.374L244.5 2.382L247.5 2.389L250.5 2.397L253.5 2.404L256.5 2.412L259.5 2.42L262.5 2.427L265.5 2.434L268.5 2.44L271.5 2.446L274.5 2.452L277.5 2.456L280.5 2.461L283.5 2.466L286.5 2.47L288.5 2.47L289.5 2.466L292.5 2.445L295.5 2.412L298.5 2.372L301.5 2.327L304.5 2.275L307.5 2.215L310.5 2.155L313.5 2.085L315.6 2.025L316.5 1.996L317.1 1.977L318.6 1.926L319.5 1.894L320.1 1.872L321.6 1.813L322.5 1.776L323.1 1.75L324.6 1.683L325.5 1.642L326.1 1.614L327.6 1.538L328.5 1.489L329.1 1.453L330.6 1.351L331.5 1.28L332.1 1.23L333.6 1.098L334.1 1.052L334.5 1.016L334.6 1.007L335.1 0.962L335.6 0.918L336.1 0.873L336.6 0.828L337.1 0.783L337.5 0.746L337.6 0.737L338.1 0.691L338.6 0.645L339.1 0.599L339.6 0.555M348.7 1.993L349.5 2.024L350.1 2.044L351.6 2.085L352.5 2.105L353.1 2.116L354.6 2.138L355.5 2.149L356.1 2.156L357.6 2.171L358.5 2.178L359.1 2.183L360.6 2.194L361.5 2.2L362.1 2.204L364.5 2.217L367.5 2.23L370.5 2.242L373.5 2.256L376.5 2.271L379.5 2.285L382.5 2.299L385.5 2.31L388.5 2.32L391.5 2.331L394.5 2.341L397.5 2.352L400.5 2.362L403.5 2.371L406.5 2.381L409.5 2.39L412.5 2.398L415.5 2.406L418.5 2.413L421.5 2.419L424.5 2.424L427.5 2.428L430.5 2.431L433.5 2.433L436.5 2.435L438 2.436L439.5 2.43L442.5 2.406L445.5 2.348L448.5 2.289L451.5 2.232L454.5 2.165L457.5 2.087L460.5 2.005L461.3 1.983L462.8 1.941L463.5 1.921L464.3 1.899L465.8 1.858L466.5 1.838L467.3 1.814L468.8 1.765L469.5 1.737L470.3 1.702L471.8 1.62L472.5 1.576L473.3 1.522L474.8 1.413L475.5 1.361L476.3 1.302L477.8 1.196L478.5 1.146L479.3 1.089L479.8 1.054L480.3 1.019L480.8 0.985L481.3 0.951L481.5 0.938L481.8 0.918L482.3 0.885L482.8 0.853L483.3 0.821L483.8 0.79L484.3 0.759L484.5 0.747L484.8 0.729L485.3 0.699L485.8 0.779L486.3 0.857L486.8 0.934L487.3 1.008L487.5 1.038L487.8 1.082L488.3 1.154L488.8 1.225L489.3 1.294L489.8 1.36L490.3 1.423L490.5 1.448L490.8 1.483L491.3 1.539L491.8 1.591L492.3 1.639L492.8 1.686L493.5 1.749L494.3 1.815L495.8 1.911L496.5 1.944L497.3 1.975L498.8 2.022L499.5 2.041L500.3 2.06L501.8 2.09L502.5 2.1L503.3 2.108L504.8 2.122L505.5 2.127L506.3 2.132L507.8 2.141L508.5 2.144L511.5 2.16L514.5 2.18L517.5 2.201L520.5 2.221L523.5 2.24L526.5 2.256L529.5 2.271L532.5 2.285L535.5 2.298L538.5 2.31L541.5 2.322L544.5 2.332L547.5 2.342L550.5 2.351L553.5 2.36L556.5 2.369L559.5 2.379L562.5 2.386L565.5 2.393L568.5 2.398L571.5 2.401L574.5 2.403L577.5 2.404L580.5 2.404L581 2.404L583.5 2.4L586.5 2.391L589.5 2.377L592.5 2.353L595.5 2.327L598.5 2.296L601.5 2.265L604.5 2.215L607.5 2.15L610.5 2.077L613.5 2.003L616.5 1.941L618 1.898L619.5 1.843L621 1.78L622.5 1.717L624 1.653L625.5 1.586L627 1.517L628.5 1.448L630 1.376L631.5 1.298L633 1.21L634.5 1.114L635 1.079L635.5 1.042L636 1.003L636.5 0.961L637 0.916L637.5 0.867L638 0.814L638.5 0.755L639 0.693L639.5 0.625L640 0.553L640.5 0.477L641 0.65L641.5 0.801L642 0.929L642.5 1.035L643 1.126L643.5 1.207L644 1.278L644.5 1.341L645 1.398L645.5 1.45L646 1.498L646.5 1.542L647 1.583L647.5 1.62L648 1.655L649.5 1.741L651 1.812L652.5 1.868L654 1.909L655.5 1.937L657 1.964L658.5 1.997L660 2.032L661.5 2.066L663 2.094L664.5 2.115L667.5 2.141L670.5 2.16L673.5 2.177L676.5 2.193L679.5 2.209L682.5 2.223L685.5 2.238L688.5 2.251L691.5 2.265L694.5 2.278L697.5 2.29L700 2.3"/><path d="M74 1.717L75.3 1.796L76.5 1.856L76.8 1.87L78.3 1.929L79.5 1.968L79.8 1.977L81.3 2.018L82.5 2.047L82.8 2.053L84.3 2.085L85.5 2.109L85.8 2.114L87.3 2.139L88.5 2.158L88.8 2.162L91.5 2.196L94.5 2.225L97.5 2.249L100.5 2.268L103.5 2.287L106.5 2.306L109.5 2.323L112.5 2.339L115.5 2.353L118.5 2.365L121.5 2.378L124.5 2.39L127.5 2.403L130.5 2.415L133.5 2.425L136.5 2.434L139.5 2.441L142.5 2.449L145.5 2.457L148.5 2.465L151.5 2.473L154.5 2.482L157.5 2.486L159 2.486L160.5 2.479L163.5 2.445L166.5 2.387L169.5 2.335L172.5 2.286L173.5 2.268L175 2.238L175.5 2.228L176.5 2.206L178 2.169L178.5 2.155L179.5 2.127L181 2.082L181.5 2.067L182.5 2.034L184 1.983L184.5 1.965L185.5 1.928L187 1.865L187.5 1.842L188.5 1.795L190 1.719L190.5 1.693L191.5 1.638L192 1.61L192.5 1.581L193 1.552L193.5 1.521L194 1.49L194.5 1.458L195 1.425L195.5 1.392L196 1.357L196.5 1.321L197 1.285L197.5 1.249M204.3 1.987L204.5 1.998L205 2.023L205.5 2.046L206.5 2.085L208 2.124L208.5 2.135L209.5 2.154L211 2.179L211.5 2.186L212.5 2.199L214 2.217L214.5 2.222L215.5 2.233L217 2.249L217.5 2.254L218.5 2.264L220 2.278L220.5 2.283L223.5 2.305L226.5 2.325L229.5 2.34L232.5 2.352L235.5 2.36L238.5 2.367L241.5 2.373L244.5 2.381L247.5 2.388L250.5 2.396L253.5 2.403L256.5 2.411L259.5 2.419L262.5 2.426L265.5 2.433L268.5 2.439L271.5 2.445L274.5 2.451L277.5 2.456L280.5 2.46L283.5 2.465L286.5 2.469L288.5 2.469L289.5 2.465L292.5 2.445L295.5 2.411L298.5 2.371L301.5 2.326L304.5 2.274L307.5 2.214L310.5 2.154L313.5 2.083L315.6 2.023L316.5 1.995L317.1 1.976L318.6 1.925L319.5 1.893L320.1 1.871L321.6 1.812L322.5 1.774L323.1 1.749L324.6 1.682L325.5 1.64L326.1 1.612L327.6 1.536L328.5 1.487L329.1 1.451L330.6 1.349L331.5 1.278L332.1 1.228L333.6 1.095L334.1 1.05L334.5 1.013L334.6 1.004L335.1 0.959L335.6 0.915L336.1 0.87L336.6 0.825L337.1 0.78L337.5 0.743L337.6 0.734L338.1 0.688L338.6 0.642L339.1 0.596L339.6 0.552M348.7 1.989L349.5 2.02L350.1 2.04L351.6 2.082L352.5 2.101L353.1 2.112L354.6 2.135L355.5 2.146L356.1 2.153L357.6 2.168L358.5 2.176L359.1 2.181L360.6 2.192L361.5 2.198L362.1 2.202L364.5 2.215L367.5 2.228L370.5 2.241L373.5 2.254L376.5 2.269L379.5 2.284L382.5 2.297L385.5 2.309L388.5 2.319L391.5 2.33L394.5 2.34L397.5 2.351L400.5 2.361L403.5 2.371L406.5 2.38L409.5 2.389L412.5 2.398L415.5 2.405L418.5 2.412L421.5 2.418L424.5 2.423L427.5 2.427L430.5 2.43L433.5 2.433L436.5 2.434L438 2.435L439.5 2.429L442.5 2.405L445.5 2.347L448.5 2.287L451.5 2.23L454.5 2.163L457.5 2.085L460.5 2.002L461.3 1.98L462.8 1.938L463.5 1.918L464.3 1.895L465.8 1.854L466.5 1.834L467.3 1.81L468.8 1.76L469.5 1.733L470.3 1.697L471.8 1.615L472.5 1.571L473.3 1.516L474.8 1.407L475.5 1.355L476.3 1.295L477.8 1.189L478.5 1.139L479.3 1.082L479.8 1.046L480.3 1.011L480.8 0.977L481.3 0.943L481.5 0.93L481.8 0.91L482.3 0.877L482.8 0.844L483.3 0.812L483.8 0.78L484.3 0.75L484.5 0.737L484.8 0.719L485.3 0.689L485.8 0.77L486.3 0.848L486.8 0.925L487.3 1L487.5 1.03L487.8 1.074L488.3 1.147L488.8 1.219L489.3 1.288L489.8 1.354L490.3 1.418L490.5 1.442L490.8 1.477L491.3 1.533L491.8 1.586L492.3 1.634L492.8 1.682L493.5 1.745L494.3 1.811L495.8 1.908L496.5 1.94L497.3 1.972L498.8 2.019L499.5 2.038L500.3 2.057L501.8 2.088L502.5 2.097L503.3 2.106L504.8 2.119L505.5 2.124L506.3 2.13L507.8 2.139L508.5 2.142L511.5 2.158L514.5 2.178L517.5 2.199L520.5 2.22L523.5 2.239L526.5 2.255L529.5 2.27L532.5 2.284L535.5 2.297L538.5 2.309L541.5 2.32L544.5 2.331L547.5 2.341L550.5 2.35L553.5 2.359L556.5 2.368L559.5 2.378L562.5 2.385L565.5 2.392L568.5 2.397L571.5 2.4L574.5 2.401L577.5 2.403L580.5 2.403L581 2.403L583.5 2.399L586.5 2.39L589.5 2.375L592.5 2.352L595.5 2.325L598.5 2.294L601.5 2.263L604.5 2.213L607.5 2.147L610.5 2.073L613.5 1.999L616.5 1.937L618 1.893L619.5 1.837L621 1.774L622.5 1.711L624 1.646L625.5 1.579L627 1.51L628.5 1.44L630 1.367L631.5 1.289L633 1.2L634.5 1.103L635 1.068L635.5 1.031L636 0.992L636.5 0.949L637 0.904L637.5 0.855L638 0.801L638.5 0.742L639 0.679L639.5 0.611L640 0.538L640.5 0.461L641 0.636L641.5 0.788L642 0.917L642.5 1.023L643 1.115L643.5 1.196L644 1.268L644.5 1.331L645 1.389L645.5 1.441L646 1.489L646.5 1.534L647 1.575L647.5 1.613L648 1.647L649.5 1.734L651 1.805L652.5 1.862L654 1.903L655.5 1.932L657 1.959L658.5 1.992L660 2.027L661.5 2.061L663 2.09L664.5 2.11L667.5 2.137L670.5 2.156L673.5 2.173L676.5 2.189L679.5 2.205L682.5 2.22L685.5 2.234L688.5 2.248L691.5 2.261L694.5 2.274L697.5 2.287L700 2.297"/><path d="M74 1.714L75.3 1.793L76.5 1.854L76.8 1.867L78.3 1.927L79.5 1.966L79.8 1.975L81.3 2.016L82.5 2.045L82.8 2.052L84.3 2.084L85.5 2.107L85.8 2.112L87.3 2.138L88.5 2.156L88.8 2.16L91.5 2.194L94.5 2.224L97.5 2.248L100.5 2.267L103.5 2.286L106.5 2.305L109.5 2.322L112.5 2.338L115.5 2.352L118.5 2.365L121.5 2.377L124.5 2.389L127.5 2.402L130.5 2.414L133.5 2.424L136.5 2.433L139.5 2.44L142.5 2.448L145.5 2.456L148.5 2.464L151.5 2.472L154.5 2.481L157.5 2.485L159 2.485L160.5 2.479L163.5 2.444L166.5 2.386L169.5 2.334L172.5 2.285L173.5 2.267L175 2.237L175.5 2.227L176.5 2.205L178 2.168L178.5 2.154L179.5 2.126L181 2.081L181.5 2.065L182.5 2.033L184 1.982L184.5 1.964L185.5 1.926L187 1.863L187.5 1.841L188.5 1.793L190 1.717L190.5 1.691L191.5 1.636L192 1.608L192.5 1.579L193 1.55L193.5 1.519L194 1.488L194.5 1.456L195 1.423L195.5 1.39L196 1.355L196.5 1.319L197 1.283L197.5 1.247M204.3 1.984L204.5 1.995L205 2.02L205.5 2.043L206.5 2.082L208 2.122L208.5 2.133L209.5 2.152L211 2.177L211.5 2.184L212.5 2.198L214 2.215L214.5 2.221L215.5 2.231L217 2.247L217.5 2.253L218.5 2.263L220 2.277L220.5 2.281L223.5 2.304L226.5 2.323L229.5 2.339L232.5 2.351L235.5 2.359L238.5 2.366L241.5 2.373L244.5 2.38L247.5 2.388L250.5 2.395L253.5 2.403L256.5 2.41L259.5 2.418L262.5 2.425L265.5 2.432L268.5 2.439L271.5 2.445L274.5 2.45L277.5 2.455L280.5 2.459L283.5 2.464L286.5 2.468L288.5 2.468L289.5 2.465L292.5 2.444L295.5 2.41L298.5 2.371L301.5 2.325L304.5 2.273L307.5 2.213L310.5 2.153L313.5 2.082L315.6 2.022L316.5 1.994L317.1 1.974L318.6 1.924L319.5 1.891L320.1 1.869L321.6 1.81L322.5 1.773L323.1 1.747L324.6 1.68L325.5 1.638L326.1 1.61L327.6 1.535L328.5 1.485L329.1 1.449L330.6 1.347L331.5 1.276L332.1 1.226L333.6 1.093L334.1 1.047L334.5 1.011L334.6 1.002L335.1 0.957L335.6 0.912L336.1 0.868L336.6 0.822L337.1 0.777L337.5 0.74L337.6 0.731L338.1 0.685L338.6 0.639L339.1 0.593L339.6 0.548M348.7 1.985L349.5 2.016L350.1 2.037L351.6 2.079L352.5 2.098L353.1 2.109L354.6 2.132L355.5 2.143L356.1 2.15L357.6 2.165L358.5 2.173L359.1 2.178L360.6 2.189L361.5 2.195L362.1 2.199L364.5 2.213L367.5 2.226L370.5 2.239L373.5 2.253L376.5 2.268L379.5 2.283L382.5 2.296L385.5 2.308L388.5 2.318L391.5 2.329L394.5 2.339L397.5 2.35L400.5 2.36L403.5 2.37L406.5 2.379L409.5 2.388L412.5 2.397L415.5 2.404L418.5 2.411L421.5 2.418L424.5 2.422L427.5 2.426L430.5 2.429L433.5 2.432L436.5 2.433L438 2.434L439.5 2.428L442.5 2.404L445.5 2.346L448.5 2.286L451.5 2.228L454.5 2.161L457.5 2.082L460.5 1.999L461.3 1.977L462.8 1.935L463.5 1.915L464.3 1.892L465.8 1.85L466.5 1.83L467.3 1.806L468.8 1.756L469.5 1.729L470.3 1.693L471.8 1.61L472.5 1.566L473.3 1.511L474.8 1.402L475.5 1.349L476.3 1.289L477.8 1.182L478.5 1.132L479.3 1.074L479.8 1.039L480.3 1.004L480.8 0.969L481.3 0.935L481.5 0.921L481.8 0.901L482.3 0.868L482.8 0.836L483.3 0.803L483.8 0.771L484.3 0.74L484.5 0.728L484.8 0.71L485.3 0.68L485.8 0.761L486.3 0.84L486.8 0.917L487.3 0.993L487.5 1.022L487.8 1.067L488.3 1.14L488.8 1.212L489.3 1.281L489.8 1.348L490.3 1.412L490.5 1.436L490.8 1.472L491.3 1.528L491.8 1.581L492.3 1.63L492.8 1.677L493.5 1.741L494.3 1.807L495.8 1.904L496.5 1.937L497.3 1.969L498.8 2.017L499.5 2.035L500.3 2.055L501.8 2.085L502.5 2.095L503.3 2.104L504.8 2.117L505.5 2.122L506.3 2.128L507.8 2.137L508.5 2.14L511.5 2.157L514.5 2.176L517.5 2.198L520.5 2.219L523.5 2.237L526.5 2.254L529.5 2.268L532.5 2.282L535.5 2.295L538.5 2.308L541.5 2.319L544.5 2.33L547.5 2.34L550.5 2.349L553.5 2.358L556.5 2.367L559.5 2.377L562.5 2.384L565.5 2.391L568.5 2.396L571.5 2.399L574.5 2.4L577.5 2.402L580.5 2.402L581 2.402L583.5 2.398L586.5 2.389L589.5 2.374L592.5 2.351L595.5 2.323L598.5 2.292L601.5 2.261L604.5 2.211L607.5 2.144L610.5 2.07L613.5 1.995L616.5 1.932L618 1.889L619.5 1.832L621 1.768L622.5 1.705L624 1.64L625.5 1.572L627 1.502L628.5 1.432L630 1.359L631.5 1.279L633 1.19L634.5 1.093L635 1.057L635.5 1.02L636 0.98L636.5 0.938L637 0.892L637.5 0.842L638 0.788L638.5 0.729L639 0.665L639.5 0.597L640 0.524L640.5 0.446L641 0.622L641.5 0.775L642 0.905L642.5 1.012L643 1.104L643.5 1.186L644 1.258L644.5 1.322L645 1.38L645.5 1.432L646 1.481L646.5 1.526L647 1.567L647.5 1.605L648 1.64L649.5 1.727L651 1.799L652.5 1.856L654 1.897L655.5 1.926L657 1.953L658.5 1.987L660 2.022L661.5 2.056L663 2.085L664.5 2.106L667.5 2.133L670.5 2.152L673.5 2.169L676.5 2.185L679.5 2.201L682.5 2.216L685.5 2.23L688.5 2.244L691.5 2.258L694.5 2.271L697.5 2.284L700 2.294"/><path d="M74 1.71L75.3 1.791L76.5 1.851L76.8 1.865L78.3 1.924L79.5 1.964L79.8 1.973L81.3 2.014L82.5 2.043L82.8 2.05L84.3 2.082L85.5 2.105L85.8 2.111L87.3 2.136L88.5 2.155L88.8 2.159L91.5 2.193L94.5 2.223L97.5 2.247L100.5 2.266L103.5 2.285L106.5 2.304L109.5 2.321L112.5 2.337L115.5 2.351L118.5 2.364L121.5 2.376L124.5 2.389L127.5 2.401L130.5 2.413L133.5 2.424L136.5 2.432L139.5 2.44L142.5 2.447L145.5 2.455L148.5 2.463L151.5 2.472L154.5 2.48L157.5 2.484L159 2.484L160.5 2.478L163.5 2.443L166.5 2.385L169.5 2.334L172.5 2.284L173.5 2.266L175 2.236L175.5 2.226L176.5 2.204L178 2.166L178.5 2.153L179.5 2.125L181 2.08L181.5 2.064L182.5 2.032L184 1.981L184.5 1.963L185.5 1.925L187 1.862L187.5 1.839L188.5 1.792L190 1.715L190.5 1.689L191.5 1.635L192 1.607L192.5 1.578L193 1.548L193.5 1.518L194 1.486L194.5 1.454L195 1.421L195.5 1.388L196 1.353L196.5 1.317L197 1.281L197.5 1.244M204.3 1.981L204.5 1.992L205 2.017L205.5 2.041L206.5 2.079L208 2.12L208.5 2.131L209.5 2.15L211 2.175L211.5 2.182L212.5 2.196L214 2.214L214.5 2.219L215.5 2.23L217 2.246L217.5 2.251L218.5 2.261L220 2.276L220.5 2.28L223.5 2.303L226.5 2.322L229.5 2.339L232.5 2.35L235.5 2.358L238.5 2.365L241.5 2.372L244.5 2.379L247.5 2.387L250.5 2.394L253.5 2.402L256.5 2.41L259.5 2.417L262.5 2.424L265.5 2.431L268.5 2.438L271.5 2.444L274.5 2.449L277.5 2.454L280.5 2.459L283.5 2.463L286.5 2.468L288.5 2.468L289.5 2.464L292.5 2.443L295.5 2.409L298.5 2.37L301.5 2.324L304.5 2.272L307.5 2.212L310.5 2.152L313.5 2.081L315.6 2.021L316.5 1.993L317.1 1.973L318.6 1.922L319.5 1.89L320.1 1.868L321.6 1.809L322.5 1.771L323.1 1.745L324.6 1.678L325.5 1.637L326.1 1.608L327.6 1.533L328.5 1.483L329.1 1.447L330.6 1.345L331.5 1.274L332.1 1.224L333.6 1.091L334.1 1.045L334.5 1.009L334.6 0.999L335.1 0.954L335.6 0.91L336.1 0.865L336.6 0.82L337.1 0.774L337.5 0.738L337.6 0.729L338.1 0.683L338.6 0.636L339.1 0.59L339.6 0.545M348.7 1.981L349.5 2.013L350.1 2.033L351.6 2.075L352.5 2.095L353.1 2.106L354.6 2.129L355.5 2.14L356.1 2.147L357.6 2.163L358.5 2.171L359.1 2.176L360.6 2.187L361.5 2.193L362.1 2.197L364.5 2.211L367.5 2.225L370.5 2.237L373.5 2.251L376.5 2.267L379.5 2.282L382.5 2.295L385.5 2.307L388.5 2.317L391.5 2.328L394.5 2.338L397.5 2.349L400.5 2.359L403.5 2.369L406.5 2.378L409.5 2.388L412.5 2.396L415.5 2.403L418.5 2.411L421.5 2.417L424.5 2.422L427.5 2.426L430.5 2.429L433.5 2.431L436.5 2.432L438 2.433L439.5 2.427L442.5 2.403L445.5 2.345L448.5 2.285L451.5 2.227L454.5 2.159L457.5 2.08L460.5 1.997L461.3 1.974L462.8 1.932L463.5 1.911L464.3 1.888L465.8 1.846L466.5 1.826L467.3 1.803L468.8 1.752L469.5 1.724L470.3 1.688L471.8 1.605L472.5 1.561L473.3 1.506L474.8 1.396L475.5 1.343L476.3 1.283L477.8 1.175L478.5 1.125L479.3 1.067L479.8 1.031L480.3 0.996L480.8 0.961L481.3 0.927L481.5 0.913L481.8 0.893L482.3 0.86L482.8 0.827L483.3 0.795L483.8 0.763L484.3 0.731L484.5 0.719L484.8 0.701L485.3 0.671L485.8 0.752L486.3 0.832L486.8 0.909L487.3 0.985L487.5 1.015L487.8 1.06L488.3 1.133L488.8 1.205L489.3 1.275L489.8 1.342L490.3 1.406L490.5 1.431L490.8 1.467L491.3 1.523L491.8 1.576L492.3 1.625L492.8 1.673L493.5 1.737L494.3 1.803L495.8 1.901L496.5 1.934L497.3 1.966L498.8 2.014L499.5 2.032L500.3 2.052L501.8 2.083L502.5 2.093L503.3 2.101L504.8 2.115L505.5 2.12L506.3 2.126L507.8 2.135L508.5 2.138L511.5 2.155L514.5 2.175L517.5 2.196L520.5 2.217L523.5 2.236L526.5 2.252L529.5 2.267L532.5 2.281L535.5 2.294L538.5 2.307L541.5 2.318L544.5 2.329L547.5 2.338L550.5 2.347L553.5 2.356L556.5 2.366L559.5 2.376L562.5 2.383L565.5 2.39L568.5 2.395L571.5 2.398L574.5 2.399L577.5 2.401L580.5 2.401L581 2.401L583.5 2.397L586.5 2.388L589.5 2.373L592.5 2.349L595.5 2.322L598.5 2.291L601.5 2.259L604.5 2.208L607.5 2.141L610.5 2.067L613.5 1.991L616.5 1.928L618 1.884L619.5 1.827L621 1.763L622.5 1.699L624 1.633L625.5 1.566L627 1.495L628.5 1.424L630 1.35L631.5 1.27L633 1.181L634.5 1.082L635 1.047L635.5 1.009L636 0.969L636.5 0.926L637 0.88L637.5 0.83L638 0.775L638.5 0.716L639 0.652L639.5 0.583L640 0.509L640.5 0.431L641 0.608L641.5 0.762L642 0.893L642.5 1L643 1.094L643.5 1.175L644 1.248L644.5 1.313L645 1.371L645.5 1.424L646 1.473L646.5 1.518L647 1.559L647.5 1.597L648 1.632L649.5 1.721L651 1.793L652.5 1.85L654 1.892L655.5 1.921L657 1.948L658.5 1.982L660 2.018L661.5 2.052L663 2.081L664.5 2.102L667.5 2.128L670.5 2.148L673.5 2.165L676.5 2.182L679.5 2.198L682.5 2.212L685.5 2.227L688.5 2.241L691.5 2.255L694.5 2.268L697.5 2.28L700 2.291"/><path d="M74 1.707L75.3 1.788L76.5 1.849L76.8 1.862L78.3 1.922L79.5 1.962L79.8 1.971L81.3 2.012L82.5 2.041L82.8 2.048L84.3 2.08L85.5 2.104L85.8 2.109L87.3 2.135L88.5 2.153L88.8 2.158L91.5 2.192L94.5 2.222L97.5 2.245L100.5 2.265L103.5 2.284L106.5 2.303L109.5 2.32L112.5 2.336L115.5 2.35L118.5 2.363L121.5 2.375L124.5 2.388L127.5 2.401L130.5 2.413L133.5 2.423L136.5 2.431L139.5 2.439L142.5 2.447L145.5 2.455L148.5 2.463L151.5 2.471L154.5 2.48L157.5 2.483L159 2.484L160.5 2.477L163.5 2.442L166.5 2.385L169.5 2.333L172.5 2.283L173.5 2.265L175 2.235L175.5 2.225L176.5 2.203L178 2.165L178.5 2.152L179.5 2.124L181 2.079L181.5 2.063L182.5 2.031L184 1.98L184.5 1.961L185.5 1.923L187 1.861L187.5 1.838L188.5 1.79L190 1.714L190.5 1.688L191.5 1.633L192 1.605L192.5 1.576L193 1.546L193.5 1.516L194 1.485L194.5 1.452L195 1.419L195.5 1.386L196 1.351L196.5 1.315L197 1.279L197.5 1.242M204.3 1.978L204.5 1.989L205 2.014L205.5 2.038L206.5 2.077L208 2.117L208.5 2.128L209.5 2.148L211 2.173L211.5 2.18L212.5 2.194L214 2.212L214.5 2.217L215.5 2.228L217 2.245L217.5 2.25L218.5 2.26L220 2.274L220.5 2.279L223.5 2.301L226.5 2.321L229.5 2.338L232.5 2.349L235.5 2.357L238.5 2.364L241.5 2.371L244.5 2.378L247.5 2.386L250.5 2.393L253.5 2.401L256.5 2.409L259.5 2.416L262.5 2.424L265.5 2.43L268.5 2.437L271.5 2.443L274.5 2.448L277.5 2.453L280.5 2.458L283.5 2.463L286.5 2.467L288.5 2.467L289.5 2.463L292.5 2.442L295.5 2.408L298.5 2.369L301.5 2.324L304.5 2.271L307.5 2.211L310.5 2.15L313.5 2.08L315.6 2.02L316.5 1.991L317.1 1.972L318.6 1.921L319.5 1.889L320.1 1.866L321.6 1.807L322.5 1.77L323.1 1.744L324.6 1.677L325.5 1.635L326.1 1.607L327.6 1.531L328.5 1.481L329.1 1.445L330.6 1.343L331.5 1.272L332.1 1.222L333.6 1.088L334.1 1.043L334.5 1.006L334.6 0.997L335.1 0.952L335.6 0.907L336.1 0.862L336.6 0.817L337.1 0.772L337.5 0.735L337.6 0.726L338.1 0.68L338.6 0.633L339.1 0.587L339.6 0.541M348.7 1.977L349.5 2.009L350.1 2.03L351.6 2.072L352.5 2.092L353.1 2.103L354.6 2.126L355.5 2.138L356.1 2.145L357.6 2.16L358.5 2.168L359.1 2.173L360.6 2.185L361.5 2.191L362.1 2.195L364.5 2.209L367.5 2.223L370.5 2.236L373.5 2.25L376.5 2.265L379.5 2.281L382.5 2.294L385.5 2.306L388.5 2.317L391.5 2.327L394.5 2.337L397.5 2.348L400.5 2.358L403.5 2.368L406.5 2.378L409.5 2.387L412.5 2.395L415.5 2.403L418.5 2.41L421.5 2.416L424.5 2.421L427.5 2.425L430.5 2.428L433.5 2.43L436.5 2.432L438 2.432L439.5 2.426L442.5 2.402L445.5 2.344L448.5 2.283L451.5 2.225L454.5 2.157L457.5 2.078L460.5 1.994L461.3 1.971L462.8 1.928L463.5 1.908L464.3 1.885L465.8 1.843L466.5 1.823L467.3 1.799L468.8 1.748L469.5 1.72L470.3 1.684L471.8 1.6L472.5 1.556L473.3 1.501L474.8 1.39L475.5 1.337L476.3 1.277L477.8 1.168L478.5 1.118L479.3 1.06L479.8 1.024L480.3 0.988L480.8 0.953L481.3 0.919L481.5 0.906L481.8 0.885L482.3 0.852L482.8 0.819L483.3 0.786L483.8 0.754L484.3 0.723L484.5 0.71L484.8 0.692L485.3 0.662L485.8 0.744L486.3 0.824L486.8 0.901L487.3 0.978L487.5 1.008L487.8 1.053L488.3 1.127L488.8 1.199L489.3 1.269L489.8 1.337L490.3 1.401L490.5 1.426L490.8 1.462L491.3 1.518L491.8 1.571L492.3 1.621L492.8 1.669L493.5 1.733L494.3 1.799L495.8 1.898L496.5 1.931L497.3 1.963L498.8 2.011L499.5 2.03L500.3 2.05L501.8 2.08L502.5 2.09L503.3 2.099L504.8 2.113L505.5 2.118L506.3 2.124L507.8 2.133L508.5 2.137L511.5 2.153L514.5 2.173L517.5 2.195L520.5 2.216L523.5 2.235L526.5 2.251L529.5 2.266L532.5 2.28L535.5 2.293L538.5 2.305L541.5 2.317L544.5 2.328L547.5 2.337L550.5 2.346L553.5 2.355L556.5 2.365L559.5 2.375L562.5 2.382L565.5 2.389L568.5 2.394L571.5 2.397L574.5 2.398L577.5 2.4L580.5 2.4L581 2.4L583.5 2.396L586.5 2.386L589.5 2.372L592.5 2.348L595.5 2.32L598.5 2.289L601.5 2.257L604.5 2.206L607.5 2.138L610.5 2.064L613.5 1.987L616.5 1.924L618 1.879L619.5 1.822L621 1.757L622.5 1.693L624 1.627L625.5 1.559L627 1.488L628.5 1.416L630 1.342L631.5 1.262L633 1.171L634.5 1.072L635 1.036L635.5 0.998L636 0.958L636.5 0.915L637 0.869L637.5 0.818L638 0.763L638.5 0.703L639 0.638L639.5 0.569L640 0.495L640.5 0.416L641 0.595L641.5 0.749L642 0.881L642.5 0.989L643 1.083L643.5 1.165L644 1.238L644.5 1.303L645 1.362L645.5 1.415L646 1.464L646.5 1.51L647 1.552L647.5 1.59L648 1.625L649.5 1.714L651 1.786L652.5 1.844L654 1.886L655.5 1.915L657 1.943L658.5 1.977L660 2.013L661.5 2.047L663 2.076L664.5 2.097L667.5 2.124L670.5 2.144L673.5 2.161L676.5 2.178L679.5 2.194L682.5 2.209L685.5 2.223L688.5 2.238L691.5 2.251L694.5 2.265L697.5 2.277L700 2.288"/><path d="M74 1.704L75.3 1.785L76.5 1.846L76.8 1.86L78.3 1.92L79.5 1.96L79.8 1.969L81.3 2.01L82.5 2.039L82.8 2.046L84.3 2.079L85.5 2.102L85.8 2.108L87.3 2.134L88.5 2.152L88.8 2.156L91.5 2.191L94.5 2.221L97.5 2.244L100.5 2.264L103.5 2.283L106.5 2.302L109.5 2.319L112.5 2.335L115.5 2.349L118.5 2.362L121.5 2.374L124.5 2.387L127.5 2.4L130.5 2.412L133.5 2.422L136.5 2.431L139.5 2.438L142.5 2.446L145.5 2.454L148.5 2.462L151.5 2.47L154.5 2.479L157.5 2.483L159 2.483L160.5 2.476L163.5 2.442L166.5 2.384L169.5 2.332L172.5 2.282L173.5 2.264L175 2.234L175.5 2.224L176.5 2.202L178 2.164L178.5 2.151L179.5 2.123L181 2.077L181.5 2.062L182.5 2.03L184 1.978L184.5 1.96L185.5 1.922L187 1.859L187.5 1.836L188.5 1.789L190 1.712L190.5 1.686L191.5 1.631L192 1.603L192.5 1.574L193 1.545L193.5 1.514L194 1.483L194.5 1.451L195 1.418L195.5 1.384L196 1.349L196.5 1.313L197 1.277L197.5 1.239M204.3 1.975L204.5 1.986L205 2.012L205.5 2.035L206.5 2.074L208 2.115L208.5 2.126L209.5 2.146L211 2.171L211.5 2.178L212.5 2.192L214 2.21L214.5 2.216L215.5 2.227L217 2.243L217.5 2.248L218.5 2.259L220 2.273L220.5 2.277L223.5 2.3L226.5 2.32L229.5 2.337L232.5 2.348L235.5 2.357L238.5 2.363L241.5 2.37L244.5 2.378L247.5 2.385L250.5 2.393L253.5 2.4L256.5 2.408L259.5 2.416L262.5 2.423L265.5 2.43L268.5 2.436L271.5 2.442L274.5 2.448L277.5 2.453L280.5 2.457L283.5 2.462L286.5 2.466L288.5 2.466L289.5 2.462L292.5 2.441L295.5 2.408L298.5 2.368L301.5 2.323L304.5 2.27L307.5 2.21L310.5 2.149L313.5 2.079L315.6 2.018L316.5 1.99L317.1 1.97L318.6 1.92L319.5 1.887L320.1 1.865L321.6 1.806L322.5 1.768L323.1 1.742L324.6 1.675L325.5 1.633L326.1 1.605L327.6 1.529L328.5 1.479L329.1 1.443L330.6 1.341L331.5 1.27L332.1 1.219L333.6 1.086L334.1 1.04L334.5 1.004L334.6 0.995L335.1 0.95L335.6 0.905L336.1 0.86L336.6 0.815L337.1 0.769L337.5 0.732L337.6 0.723L338.1 0.677L338.6 0.631L339.1 0.584L339.6 0.538M348.7 1.974L349.5 2.006L350.1 2.026L351.6 2.069L352.5 2.089L353.1 2.1L354.6 2.123L355.5 2.135L356.1 2.142L357.6 2.158L358.5 2.166L359.1 2.171L360.6 2.183L361.5 2.189L362.1 2.193L364.5 2.207L367.5 2.221L370.5 2.234L373.5 2.248L376.5 2.264L379.5 2.279L382.5 2.293L385.5 2.305L388.5 2.316L391.5 2.326L394.5 2.337L397.5 2.347L400.5 2.357L403.5 2.367L406.5 2.377L409.5 2.386L412.5 2.394L415.5 2.402L418.5 2.409L421.5 2.415L424.5 2.42L427.5 2.424L430.5 2.427L433.5 2.429L436.5 2.431L438 2.431L439.5 2.426L442.5 2.401L445.5 2.343L448.5 2.282L451.5 2.224L454.5 2.155L457.5 2.075L460.5 1.991L461.3 1.968L462.8 1.925L463.5 1.905L464.3 1.882L465.8 1.839L466.5 1.819L467.3 1.795L468.8 1.744L469.5 1.716L470.3 1.68L471.8 1.596L472.5 1.551L473.3 1.496L474.8 1.385L475.5 1.331L476.3 1.271L477.8 1.162L478.5 1.111L479.3 1.053L479.8 1.017L480.3 0.981L480.8 0.946L481.3 0.911L481.5 0.898L481.8 0.877L482.3 0.844L482.8 0.811L483.3 0.778L483.8 0.746L484.3 0.714L484.5 0.702L484.8 0.683L485.3 0.653L485.8 0.735L486.3 0.815L486.8 0.894L487.3 0.97L487.5 1.001L487.8 1.046L488.3 1.12L488.8 1.193L489.3 1.263L489.8 1.331L490.3 1.395L490.5 1.42L490.8 1.456L491.3 1.514L491.8 1.567L492.3 1.616L492.8 1.665L493.5 1.729L494.3 1.796L495.8 1.895L496.5 1.928L497.3 1.96L498.8 2.008L499.5 2.027L500.3 2.047L501.8 2.078L502.5 2.088L503.3 2.097L504.8 2.111L505.5 2.116L506.3 2.122L507.8 2.131L508.5 2.135L511.5 2.151L514.5 2.172L517.5 2.194L520.5 2.215L523.5 2.234L526.5 2.25L529.5 2.265L532.5 2.279L535.5 2.292L538.5 2.304L541.5 2.316L544.5 2.327L547.5 2.336L550.5 2.345L553.5 2.354L556.5 2.364L559.5 2.374L562.5 2.381L565.5 2.388L568.5 2.393L571.5 2.396L574.5 2.397L577.5 2.399L580.5 2.399L581 2.399L583.5 2.395L586.5 2.385L589.5 2.371L592.5 2.347L595.5 2.319L598.5 2.287L601.5 2.255L604.5 2.204L607.5 2.136L610.5 2.06L613.5 1.984L616.5 1.92L618 1.875L619.5 1.817L621 1.752L622.5 1.687L624 1.621L625.5 1.552L627 1.481L628.5 1.408L630 1.334L631.5 1.253L633 1.162L634.5 1.062L635 1.026L635.5 0.988L636 0.947L636.5 0.904L637 0.857L637.5 0.806L638 0.751L638.5 0.69L639 0.625L639.5 0.555L640 0.481L640.5 0.402L641 0.581L641.5 0.737L642 0.869L642.5 0.978L643 1.072L643.5 1.155L644 1.229L644.5 1.294L645 1.353L645.5 1.407L646 1.456L646.5 1.502L647 1.544L647.5 1.583L648 1.618L649.5 1.707L651 1.78L652.5 1.838L654 1.881L655.5 1.91L657 1.938L658.5 1.972L660 2.008L661.5 2.043L663 2.072L664.5 2.093L667.5 2.12L670.5 2.14L673.5 2.157L676.5 2.174L679.5 2.19L682.5 2.205L685.5 2.22L688.5 2.234L691.5 2.248L694.5 2.261L697.5 2.274L700 2.285"/><path d="M74 1.701L75.3 1.782L76.5 1.844L76.8 1.857L78.3 1.918L79.5 1.958L79.8 1.967L81.3 2.008L82.5 2.038L82.8 2.045L84.3 2.077L85.5 2.101L85.8 2.106L87.3 2.132L88.5 2.151L88.8 2.155L91.5 2.19L94.5 2.22L97.5 2.243L100.5 2.263L103.5 2.282L106.5 2.301L109.5 2.319L112.5 2.334L115.5 2.349L118.5 2.361L121.5 2.373L124.5 2.386L127.5 2.399L130.5 2.411L133.5 2.421L136.5 2.43L139.5 2.437L142.5 2.445L145.5 2.453L148.5 2.461L151.5 2.469L154.5 2.478L157.5 2.482L159 2.482L160.5 2.476L163.5 2.441L166.5 2.383L169.5 2.331L172.5 2.281L173.5 2.263L175 2.233L175.5 2.223L176.5 2.201L178 2.163L178.5 2.15L179.5 2.122L181 2.076L181.5 2.061L182.5 2.028L184 1.977L184.5 1.959L185.5 1.921L187 1.858L187.5 1.835L188.5 1.787L190 1.711L190.5 1.684L191.5 1.63L192 1.602L192.5 1.573L193 1.543L193.5 1.512L194 1.481L194.5 1.449L195 1.416L195.5 1.382L196 1.347L196.5 1.311L197 1.275L197.5 1.237M204.3 1.972L204.5 1.983L205 2.009L205.5 2.032L206.5 2.072L208 2.113L208.5 2.124L209.5 2.144L211 2.169L211.5 2.177L212.5 2.19L214 2.209L214.5 2.214L215.5 2.225L217 2.242L217.5 2.247L218.5 2.257L220 2.272L220.5 2.276L223.5 2.299L226.5 2.319L229.5 2.336L232.5 2.347L235.5 2.356L238.5 2.362L241.5 2.369L244.5 2.377L247.5 2.384L250.5 2.392L253.5 2.399L256.5 2.407L259.5 2.415L262.5 2.422L265.5 2.429L268.5 2.435L271.5 2.442L274.5 2.447L277.5 2.452L280.5 2.456L283.5 2.461L286.5 2.465L288.5 2.465L289.5 2.462L292.5 2.441L295.5 2.407L298.5 2.367L301.5 2.322L304.5 2.269L307.5 2.209L310.5 2.148L313.5 2.078L315.6 2.017L316.5 1.989L317.1 1.969L318.6 1.918L319.5 1.886L320.1 1.863L321.6 1.804L322.5 1.767L323.1 1.741L324.6 1.673L325.5 1.632L326.1 1.603L327.6 1.527L328.5 1.477L329.1 1.441L330.6 1.339L331.5 1.268L332.1 1.217L333.6 1.084L334.1 1.038L334.5 1.001L334.6 0.992L335.1 0.947L335.6 0.902L336.1 0.857L336.6 0.812L337.1 0.766L337.5 0.73L337.6 0.72L338.1 0.674L338.6 0.628L339.1 0.581L339.6 0.535M348.7 1.97L349.5 2.002L350.1 2.023L351.6 2.066L352.5 2.086L353.1 2.097L354.6 2.121L355.5 2.132L356.1 2.139L357.6 2.155L358.5 2.164L359.1 2.169L360.6 2.18L361.5 2.187L362.1 2.191L364.5 2.205L367.5 2.219L370.5 2.232L373.5 2.247L376.5 2.263L379.5 2.278L382.5 2.292L385.5 2.304L388.5 2.315L391.5 2.325L394.5 2.336L397.5 2.346L400.5 2.357L403.5 2.366L406.5 2.376L409.5 2.385L412.5 2.394L415.5 2.401L418.5 2.408L421.5 2.414L424.5 2.419L427.5 2.423L430.5 2.426L433.5 2.428L436.5 2.43L438 2.43L439.5 2.425L442.5 2.4L445.5 2.342L448.5 2.281L451.5 2.222L454.5 2.154L457.5 2.073L460.5 1.988L461.3 1.966L462.8 1.922L463.5 1.902L464.3 1.878L465.8 1.836L466.5 1.815L467.3 1.791L468.8 1.74L469.5 1.712L470.3 1.675L471.8 1.591L472.5 1.546L473.3 1.491L474.8 1.379L475.5 1.325L476.3 1.265L477.8 1.155L478.5 1.104L479.3 1.046L479.8 1.01L480.3 0.974L480.8 0.938L481.3 0.904L481.5 0.89L481.8 0.87L482.3 0.836L482.8 0.802L483.3 0.769L483.8 0.737L484.3 0.705L484.5 0.693L484.8 0.674L485.3 0.644L485.8 0.727L486.3 0.808L486.8 0.886L487.3 0.963L487.5 0.994L487.8 1.039L488.3 1.113L488.8 1.187L489.3 1.257L489.8 1.325L490.3 1.39L490.5 1.415L490.8 1.451L491.3 1.509L491.8 1.562L492.3 1.612L492.8 1.66L493.5 1.725L494.3 1.792L495.8 1.891L496.5 1.925L497.3 1.957L498.8 2.006L499.5 2.025L500.3 2.045L501.8 2.076L502.5 2.086L503.3 2.095L504.8 2.109L505.5 2.114L506.3 2.12L507.8 2.129L508.5 2.133L511.5 2.15L514.5 2.17L517.5 2.192L520.5 2.213L523.5 2.232L526.5 2.249L529.5 2.264L532.5 2.278L535.5 2.291L538.5 2.303L541.5 2.315L544.5 2.326L547.5 2.335L550.5 2.344L553.5 2.353L556.5 2.363L559.5 2.373L562.5 2.38L565.5 2.387L568.5 2.392L571.5 2.395L574.5 2.397L577.5 2.398L580.5 2.398L581 2.398L583.5 2.394L586.5 2.384L589.5 2.369L592.5 2.345L595.5 2.317L598.5 2.286L601.5 2.253L604.5 2.202L607.5 2.133L610.5 2.057L613.5 1.98L616.5 1.915L618 1.87L619.5 1.812L621 1.747L622.5 1.681L624 1.615L625.5 1.545L627 1.474L628.5 1.401L630 1.326L631.5 1.244L633 1.152L634.5 1.052L635 1.016L635.5 0.977L636 0.936L636.5 0.893L637 0.846L637.5 0.795L638 0.739L638.5 0.678L639 0.612L639.5 0.542L640 0.467L640.5 0.387L641 0.568L641.5 0.724L642 0.857L642.5 0.967L643 1.062L643.5 1.145L644 1.219L644.5 1.285L645 1.344L645.5 1.398L646 1.448L646.5 1.494L647 1.537L647.5 1.575L648 1.611L649.5 1.701L651 1.774L652.5 1.833L654 1.875L655.5 1.905L657 1.933L658.5 1.967L660 2.003L661.5 2.038L663 2.068L664.5 2.089L667.5 2.116L670.5 2.136L673.5 2.153L676.5 2.171L679.5 2.187L682.5 2.202L685.5 2.217L688.5 2.231L691.5 2.245L694.5 2.258L697.5 2.271L700 2.281"/><path d="M74 1.699L75.3 1.78L76.5 1.841L76.8 1.855L78.3 1.915L79.5 1.956L79.8 1.965L81.3 2.007L82.5 2.036L82.8 2.043L84.3 2.075L85.5 2.099L85.8 2.105L87.3 2.131L88.5 2.149L88.8 2.154L91.5 2.188L94.5 2.219L97.5 2.242L100.5 2.262L103.5 2.281L106.5 2.3L109.5 2.318L112.5 2.334L115.5 2.348L118.5 2.36L121.5 2.373L124.5 2.385L127.5 2.398L130.5 2.41L133.5 2.421L136.5 2.429L139.5 2.437L142.5 2.444L145.5 2.452L148.5 2.461L151.5 2.469L154.5 2.477L157.5 2.481L159 2.482L160.5 2.475L163.5 2.44L166.5 2.382L169.5 2.33L172.5 2.28L173.5 2.262L175 2.232L175.5 2.222L176.5 2.199L178 2.162L178.5 2.149L179.5 2.12L181 2.075L181.5 2.059L182.5 2.027L184 1.976L184.5 1.958L185.5 1.919L187 1.856L187.5 1.834L188.5 1.786L190 1.709L190.5 1.683L191.5 1.628L192 1.6L192.5 1.571L193 1.541L193.5 1.51L194 1.479L194.5 1.447L195 1.414L195.5 1.38L196 1.345L196.5 1.309L197 1.273L197.5 1.235M204.3 1.968L204.5 1.98L205 2.006L205.5 2.03L206.5 2.069L208 2.111L208.5 2.122L209.5 2.142L211 2.167L211.5 2.175L212.5 2.189L214 2.207L214.5 2.213L215.5 2.224L217 2.24L217.5 2.246L218.5 2.256L220 2.27L220.5 2.275L223.5 2.298L226.5 2.318L229.5 2.335L232.5 2.347L235.5 2.355L238.5 2.362L241.5 2.368L244.5 2.376L247.5 2.383L250.5 2.391L253.5 2.399L256.5 2.406L259.5 2.414L262.5 2.421L265.5 2.428L268.5 2.435L271.5 2.441L274.5 2.446L277.5 2.451L280.5 2.456L283.5 2.461L286.5 2.465L288.5 2.465L289.5 2.461L292.5 2.44L295.5 2.406L298.5 2.366L301.5 2.321L304.5 2.268L307.5 2.208L310.5 2.147L313.5 2.076L315.6 2.016L316.5 1.988L317.1 1.968L318.6 1.917L319.5 1.885L320.1 1.862L321.6 1.803L322.5 1.765L323.1 1.739L324.6 1.672L325.5 1.63L326.1 1.602L327.6 1.526L328.5 1.476L329.1 1.44L330.6 1.337L331.5 1.266L332.1 1.215L333.6 1.082L334.1 1.036L334.5 0.999L334.6 0.99L335.1 0.945L335.6 0.9L336.1 0.855L336.6 0.81L337.1 0.764L337.5 0.727L337.6 0.718L338.1 0.672L338.6 0.625L339.1 0.578L339.6 0.531M348.7 1.966L349.5 1.998L350.1 2.02L351.6 2.063L352.5 2.083L353.1 2.095L354.6 2.118L355.5 2.13L356.1 2.137L357.6 2.153L358.5 2.161L359.1 2.166L360.6 2.178L361.5 2.184L362.1 2.189L364.5 2.203L367.5 2.217L370.5 2.231L373.5 2.245L376.5 2.261L379.5 2.277L382.5 2.291L385.5 2.303L388.5 2.314L391.5 2.324L394.5 2.335L397.5 2.345L400.5 2.356L403.5 2.366L406.5 2.375L409.5 2.384L412.5 2.393L415.5 2.4L418.5 2.407L421.5 2.414L424.5 2.418L427.5 2.422L430.5 2.425L433.5 2.428L436.5 2.429L438 2.43L439.5 2.424L442.5 2.399L445.5 2.341L448.5 2.28L451.5 2.221L454.5 2.152L457.5 2.071L460.5 1.986L461.3 1.963L462.8 1.919L463.5 1.898L464.3 1.875L465.8 1.832L466.5 1.812L467.3 1.787L468.8 1.736L469.5 1.708L470.3 1.671L471.8 1.587L472.5 1.541L473.3 1.486L474.8 1.374L475.5 1.32L476.3 1.259L477.8 1.149L478.5 1.098L479.3 1.039L479.8 1.003L480.3 0.967L480.8 0.931L481.3 0.896L481.5 0.882L481.8 0.862L482.3 0.828L482.8 0.794L483.3 0.761L483.8 0.729L484.3 0.697L484.5 0.684L484.8 0.666L485.3 0.636L485.8 0.719L486.3 0.8L486.8 0.879L487.3 0.956L487.5 0.986L487.8 1.032L488.3 1.107L488.8 1.18L489.3 1.252L489.8 1.32L490.3 1.385L490.5 1.41L490.8 1.446L491.3 1.504L491.8 1.558L492.3 1.608L492.8 1.656L493.5 1.721L494.3 1.789L495.8 1.888L496.5 1.922L497.3 1.954L498.8 2.003L499.5 2.022L500.3 2.042L501.8 2.073L502.5 2.084L503.3 2.093L504.8 2.107L505.5 2.112L506.3 2.118L507.8 2.127L508.5 2.131L511.5 2.148L514.5 2.169L517.5 2.191L520.5 2.212L523.5 2.231L526.5 2.248L529.5 2.263L532.5 2.277L535.5 2.29L538.5 2.302L541.5 2.314L544.5 2.325L547.5 2.334L550.5 2.343L553.5 2.352L556.5 2.362L559.5 2.372L562.5 2.379L565.5 2.386L568.5 2.391L571.5 2.394L574.5 2.396L577.5 2.397L580.5 2.398L581 2.398L583.5 2.393L586.5 2.383L589.5 2.368L592.5 2.344L595.5 2.316L598.5 2.284L601.5 2.251L604.5 2.199L607.5 2.131L610.5 2.054L613.5 1.977L616.5 1.911L618 1.866L619.5 1.807L621 1.741L622.5 1.675L624 1.609L625.5 1.539L627 1.466L628.5 1.393L630 1.318L631.5 1.236L633 1.143L634.5 1.042L635 1.006L635.5 0.967L636 0.926L636.5 0.882L637 0.834L637.5 0.783L638 0.726L638.5 0.665L639 0.599L639.5 0.528L640 0.453L640.5 0.373L641 0.554L641.5 0.712L642 0.846L642.5 0.956L643 1.052L643.5 1.136L644 1.21L644.5 1.276L645 1.336L645.5 1.39L646 1.44L646.5 1.486L647 1.529L647.5 1.568L648 1.604L649.5 1.694L651 1.768L652.5 1.827L654 1.87L655.5 1.899L657 1.927L658.5 1.962L660 1.999L661.5 2.034L663 2.064L664.5 2.085L667.5 2.112L670.5 2.132L673.5 2.149L676.5 2.167L679.5 2.183L682.5 2.198L685.5 2.213L688.5 2.228L691.5 2.242L694.5 2.255L697.5 2.268L700 2.278"/><path d="M74 1.696L75.3 1.777L76.5 1.839L76.8 1.853L78.3 1.913L79.5 1.954L79.8 1.963L81.3 2.005L82.5 2.034L82.8 2.041L84.3 2.074L85.5 2.098L85.8 2.103L87.3 2.129L88.5 2.148L88.8 2.152L91.5 2.187L94.5 2.217L97.5 2.241L100.5 2.261L103.5 2.28L106.5 2.299L109.5 2.317L112.5 2.333L115.5 2.347L118.5 2.359L121.5 2.372L124.5 2.384L127.5 2.397L130.5 2.409L133.5 2.42L136.5 2.428L139.5 2.436L142.5 2.444L145.5 2.452L148.5 2.46L151.5 2.468L154.5 2.477L157.5 2.481L159 2.481L160.5 2.474L163.5 2.439L166.5 2.381L169.5 2.329L172.5 2.28L173.5 2.261L175 2.231L175.5 2.221L176.5 2.198L178 2.161L178.5 2.148L179.5 2.119L181 2.074L181.5 2.058L182.5 2.026L184 1.974L184.5 1.956L185.5 1.918L187 1.855L187.5 1.832L188.5 1.784L190 1.708L190.5 1.681L191.5 1.626L192 1.598L192.5 1.569L193 1.539L193.5 1.509L194 1.477L194.5 1.445L195 1.412L195.5 1.378L196 1.343L196.5 1.307L197 1.271L197.5 1.232M204.3 1.965L204.5 1.977L205 2.003L205.5 2.027L206.5 2.067L208 2.108L208.5 2.12L209.5 2.14L211 2.165L211.5 2.173L212.5 2.187L214 2.205L214.5 2.211L215.5 2.222L217 2.239L217.5 2.244L218.5 2.255L220 2.269L220.5 2.274L223.5 2.297L226.5 2.317L229.5 2.334L232.5 2.346L235.5 2.354L238.5 2.361L241.5 2.368L244.5 2.375L247.5 2.383L250.5 2.39L253.5 2.398L256.5 2.406L259.5 2.413L262.5 2.421L265.5 2.427L268.5 2.434L271.5 2.44L274.5 2.446L277.5 2.45L280.5 2.455L283.5 2.46L286.5 2.464L288.5 2.464L289.5 2.46L292.5 2.439L295.5 2.405L298.5 2.366L301.5 2.32L304.5 2.267L307.5 2.207L310.5 2.146L313.5 2.075L315.6 2.015L316.5 1.986L317.1 1.967L318.6 1.916L319.5 1.883L320.1 1.861L321.6 1.801L322.5 1.764L323.1 1.738L324.6 1.67L325.5 1.628L326.1 1.6L327.6 1.524L328.5 1.474L329.1 1.438L330.6 1.335L331.5 1.264L332.1 1.213L333.6 1.079L334.1 1.033L334.5 0.997L334.6 0.988L335.1 0.942L335.6 0.898L336.1 0.852L336.6 0.807L337.1 0.761L337.5 0.724L337.6 0.715L338.1 0.669L338.6 0.622L339.1 0.575L339.6 0.528M348.7 1.962L349.5 1.995L350.1 2.016L351.6 2.06L352.5 2.08L353.1 2.092L354.6 2.115L355.5 2.127L356.1 2.134L357.6 2.15L358.5 2.159L359.1 2.164L360.6 2.176L361.5 2.182L362.1 2.186L364.5 2.201L367.5 2.215L370.5 2.229L373.5 2.244L376.5 2.26L379.5 2.276L382.5 2.29L385.5 2.302L388.5 2.313L391.5 2.323L394.5 2.334L397.5 2.345L400.5 2.355L403.5 2.365L406.5 2.374L409.5 2.384L412.5 2.392L415.5 2.4L418.5 2.407L421.5 2.413L424.5 2.418L427.5 2.422L430.5 2.425L433.5 2.427L436.5 2.428L438 2.429L439.5 2.423L442.5 2.398L445.5 2.34L448.5 2.278L451.5 2.219L454.5 2.15L457.5 2.069L460.5 1.983L461.3 1.96L462.8 1.916L463.5 1.895L464.3 1.872L465.8 1.829L466.5 1.808L467.3 1.784L468.8 1.732L469.5 1.704L470.3 1.667L471.8 1.582L472.5 1.536L473.3 1.481L474.8 1.368L475.5 1.314L476.3 1.252L477.8 1.142L478.5 1.091L479.3 1.032L479.8 0.995L480.3 0.959L480.8 0.923L481.3 0.888L481.5 0.875L481.8 0.854L482.3 0.82L482.8 0.786L483.3 0.753L483.8 0.72L484.3 0.688L484.5 0.676L484.8 0.657L485.3 0.627L485.8 0.71L486.3 0.792L486.8 0.871L487.3 0.949L487.5 0.979L487.8 1.025L488.3 1.1L488.8 1.174L489.3 1.246L489.8 1.314L490.3 1.38L490.5 1.405L490.8 1.441L491.3 1.499L491.8 1.553L492.3 1.603L492.8 1.652L493.5 1.717L494.3 1.785L495.8 1.885L496.5 1.919L497.3 1.951L498.8 2L499.5 2.019L500.3 2.04L501.8 2.071L502.5 2.081L503.3 2.09L504.8 2.104L505.5 2.11L506.3 2.116L507.8 2.125L508.5 2.129L511.5 2.146L514.5 2.167L517.5 2.19L520.5 2.211L523.5 2.23L526.5 2.246L529.5 2.261L532.5 2.275L535.5 2.289L538.5 2.301L541.5 2.313L544.5 2.323L547.5 2.333L550.5 2.342L553.5 2.351L556.5 2.361L559.5 2.371L562.5 2.378L565.5 2.385L568.5 2.39L571.5 2.393L574.5 2.395L577.5 2.396L580.5 2.397L581 2.397L583.5 2.392L586.5 2.382L589.5 2.367L592.5 2.343L595.5 2.314L598.5 2.282L601.5 2.249L604.5 2.197L607.5 2.128L610.5 2.051L613.5 1.973L616.5 1.907L618 1.861L619.5 1.802L621 1.736L622.5 1.67L624 1.602L625.5 1.532L627 1.459L628.5 1.385L630 1.31L631.5 1.227L633 1.134L634.5 1.032L635 0.995L635.5 0.956L636 0.915L636.5 0.87L637 0.823L637.5 0.771L638 0.714L638.5 0.652L639 0.586L639.5 0.515L640 0.439L640.5 0.358L641 0.541L641.5 0.699L642 0.834L642.5 0.945L643 1.041L643.5 1.126L644 1.2L644.5 1.267L645 1.327L645.5 1.382L646 1.432L646.5 1.479L647 1.521L647.5 1.561L648 1.597L649.5 1.688L651 1.762L652.5 1.821L654 1.864L655.5 1.894L657 1.922L658.5 1.957L660 1.994L661.5 2.029L663 2.059L664.5 2.081L667.5 2.108L670.5 2.128L673.5 2.146L676.5 2.163L679.5 2.18L682.5 2.195L685.5 2.21L688.5 2.224L691.5 2.238L694.5 2.252L697.5 2.265L700 2.275"/><path d="M74 1.692L75.3 1.774L76.5 1.836L76.8 1.85L78.3 1.911L79.5 1.952L79.8 1.961L81.3 2.003L82.5 2.032L82.8 2.039L84.3 2.072L85.5 2.096L85.8 2.102L87.3 2.128L88.5 2.147L88.8 2.151L91.5 2.186L94.5 2.216L97.5 2.24L100.5 2.26L103.5 2.279L106.5 2.298L109.5 2.316L112.5 2.332L115.5 2.346L118.5 2.359L121.5 2.371L124.5 2.384L127.5 2.397L130.5 2.409L133.5 2.419L136.5 2.428L139.5 2.435L142.5 2.443L145.5 2.451L148.5 2.459L151.5 2.467L154.5 2.476L157.5 2.48L159 2.48L160.5 2.474L163.5 2.439L166.5 2.38L169.5 2.328L172.5 2.279L173.5 2.26L175 2.23L175.5 2.22L176.5 2.197L178 2.16L178.5 2.147L179.5 2.118L181 2.073L181.5 2.057L182.5 2.025L184 1.973L184.5 1.955L185.5 1.917L187 1.853L187.5 1.831L188.5 1.783L190 1.706L190.5 1.68L191.5 1.625L192 1.596L192.5 1.567L193 1.537L193.5 1.507L194 1.475L194.5 1.443L195 1.41L195.5 1.376L196 1.341L196.5 1.305L197 1.268L197.5 1.23M204.3 1.962L204.5 1.974L205 2L205.5 2.024L206.5 2.064L208 2.106L208.5 2.117L209.5 2.137L211 2.163L211.5 2.171L212.5 2.185L214 2.204L214.5 2.209L215.5 2.221L217 2.237L217.5 2.243L218.5 2.253L220 2.268L220.5 2.272L223.5 2.296L226.5 2.316L229.5 2.333L232.5 2.345L235.5 2.353L238.5 2.36L241.5 2.367L244.5 2.374L247.5 2.382L250.5 2.389L253.5 2.397L256.5 2.405L259.5 2.413L262.5 2.42L265.5 2.427L268.5 2.433L271.5 2.439L274.5 2.445L277.5 2.45L280.5 2.454L283.5 2.459L286.5 2.463L288.5 2.463L289.5 2.459L292.5 2.438L295.5 2.405L298.5 2.365L301.5 2.319L304.5 2.266L307.5 2.206L310.5 2.145L313.5 2.074L315.6 2.013L316.5 1.985L317.1 1.965L318.6 1.914L319.5 1.882L320.1 1.859L321.6 1.8L322.5 1.762L323.1 1.736L324.6 1.669L325.5 1.627L326.1 1.598L327.6 1.522L328.5 1.472L329.1 1.436L330.6 1.333L331.5 1.261L332.1 1.211L333.6 1.077L334.1 1.031L334.5 0.994L334.6 0.985L335.1 0.94L335.6 0.895L336.1 0.85L336.6 0.804L337.1 0.758L337.5 0.722L337.6 0.712L338.1 0.666L338.6 0.619L339.1 0.572L339.6 0.525M348.7 1.958L349.5 1.991L350.1 2.013L351.6 2.056L352.5 2.077L353.1 2.089L354.6 2.112L355.5 2.124L356.1 2.132L357.6 2.148L358.5 2.156L359.1 2.162L360.6 2.174L361.5 2.18L362.1 2.184L364.5 2.199L367.5 2.214L370.5 2.227L373.5 2.242L376.5 2.259L379.5 2.275L382.5 2.289L385.5 2.301L388.5 2.312L391.5 2.323L394.5 2.333L397.5 2.344L400.5 2.354L403.5 2.364L406.5 2.373L409.5 2.383L412.5 2.391L415.5 2.399L418.5 2.406L421.5 2.412L424.5 2.417L427.5 2.421L430.5 2.424L433.5 2.426L436.5 2.427L438 2.428L439.5 2.422L442.5 2.397L445.5 2.339L448.5 2.277L451.5 2.218L454.5 2.148L457.5 2.066L460.5 1.98L461.3 1.957L462.8 1.913L463.5 1.892L464.3 1.868L465.8 1.825L466.5 1.804L467.3 1.78L468.8 1.728L469.5 1.7L470.3 1.662L471.8 1.577L472.5 1.531L473.3 1.475L474.8 1.362L475.5 1.308L476.3 1.246L477.8 1.135L478.5 1.084L479.3 1.025L479.8 0.988L480.3 0.951L480.8 0.916L481.3 0.88L481.5 0.867L481.8 0.846L482.3 0.812L482.8 0.778L483.3 0.744L483.8 0.711L484.3 0.679L484.5 0.666L484.8 0.648L485.3 0.618L485.8 0.701L486.3 0.783L486.8 0.863L487.3 0.941L487.5 0.972L487.8 1.018L488.3 1.093L488.8 1.167L489.3 1.239L489.8 1.308L490.3 1.374L490.5 1.399L490.8 1.436L491.3 1.494L491.8 1.548L492.3 1.598L492.8 1.648L493.5 1.713L494.3 1.781L495.8 1.882L496.5 1.915L497.3 1.948L498.8 1.998L499.5 2.017L500.3 2.037L501.8 2.069L502.5 2.079L503.3 2.088L504.8 2.102L505.5 2.108L506.3 2.114L507.8 2.123L508.5 2.127L511.5 2.144L514.5 2.165L517.5 2.188L520.5 2.21L523.5 2.229L526.5 2.245L529.5 2.26L532.5 2.274L535.5 2.287L538.5 2.3L541.5 2.311L544.5 2.322L547.5 2.332L550.5 2.341L553.5 2.35L556.5 2.36L559.5 2.37L562.5 2.377L565.5 2.384L568.5 2.389L571.5 2.392L574.5 2.394L577.5 2.395L580.5 2.395L581 2.396L583.5 2.391L586.5 2.381L589.5 2.366L592.5 2.341L595.5 2.313L598.5 2.28L601.5 2.247L604.5 2.195L607.5 2.125L610.5 2.048L613.5 1.969L616.5 1.903L618 1.857L619.5 1.797L621 1.73L622.5 1.664L624 1.596L625.5 1.525L627 1.452L628.5 1.378L630 1.301L631.5 1.218L633 1.124L634.5 1.022L635 0.985L635.5 0.945L636 0.904L636.5 0.859L637 0.811L637.5 0.759L638 0.702L638.5 0.64L639 0.573L639.5 0.501L640 0.424L640.5 0.343L641 0.527L641.5 0.687L642 0.822L642.5 0.934L643 1.03L643.5 1.115L644 1.191L644.5 1.258L645 1.318L645.5 1.373L646 1.424L646.5 1.471L647 1.514L647.5 1.553L648 1.59L649.5 1.681L651 1.756L652.5 1.815L654 1.858L655.5 1.888L657 1.917L658.5 1.952L660 1.989L661.5 2.025L663 2.055L664.5 2.076L667.5 2.104L670.5 2.124L673.5 2.142L676.5 2.159L679.5 2.176L682.5 2.191L685.5 2.206L688.5 2.221L691.5 2.235L694.5 2.249L697.5 2.262L700 2.272"/><path d="M74 1.689L75.3 1.772L76.5 1.834L76.8 1.848L78.3 1.909L79.5 1.949L79.8 1.959L81.3 2.001L82.5 2.03L82.8 2.037L84.3 2.071L85.5 2.095L85.8 2.1L87.3 2.126L88.5 2.145L88.8 2.15L91.5 2.185L94.5 2.215L97.5 2.239L100.5 2.259L103.5 2.279L106.5 2.297L109.5 2.315L112.5 2.331L115.5 2.345L118.5 2.358L121.5 2.37L124.5 2.383L127.5 2.396L130.5 2.408L133.5 2.418L136.5 2.427L139.5 2.434L142.5 2.442L145.5 2.45L148.5 2.458L151.5 2.466L154.5 2.475L157.5 2.479L159 2.48L160.5 2.473L163.5 2.438L166.5 2.38L169.5 2.327L172.5 2.278L173.5 2.259L175 2.229L175.5 2.219L176.5 2.196L178 2.159L178.5 2.145L179.5 2.117L181 2.072L181.5 2.056L182.5 2.023L184 1.972L184.5 1.954L185.5 1.915L187 1.852L187.5 1.829L188.5 1.781L190 1.704L190.5 1.678L191.5 1.623L192 1.595L192.5 1.566L193 1.536L193.5 1.505L194 1.473L194.5 1.441L195 1.408L195.5 1.374L196 1.339L196.5 1.303L197 1.266L197.5 1.228M204.3 1.959L204.5 1.971L205 1.997L205.5 2.021L206.5 2.062L208 2.104L208.5 2.115L209.5 2.135L211 2.161L211.5 2.169L212.5 2.183L214 2.202L214.5 2.208L215.5 2.219L217 2.236L217.5 2.241L218.5 2.252L220 2.266L220.5 2.271L223.5 2.295L226.5 2.315L229.5 2.332L232.5 2.344L235.5 2.352L238.5 2.359L241.5 2.366L244.5 2.373L247.5 2.381L250.5 2.389L253.5 2.396L256.5 2.404L259.5 2.412L262.5 2.419L265.5 2.426L268.5 2.432L271.5 2.439L274.5 2.444L277.5 2.449L280.5 2.453L283.5 2.458L286.5 2.462L288.5 2.462L289.5 2.459L292.5 2.438L295.5 2.404L298.5 2.364L301.5 2.318L304.5 2.265L307.5 2.205L310.5 2.144L313.5 2.073L315.6 2.012L316.5 1.984L317.1 1.964L318.6 1.913L319.5 1.88L320.1 1.858L321.6 1.798L322.5 1.761L323.1 1.735L324.6 1.667L325.5 1.625L326.1 1.596L327.6 1.52L328.5 1.47L329.1 1.434L330.6 1.331L331.5 1.259L332.1 1.209L333.6 1.074L334.1 1.029L334.5 0.992L334.6 0.983L335.1 0.937L335.6 0.892L336.1 0.847L336.6 0.802L337.1 0.756L337.5 0.719L337.6 0.71L338.1 0.663L338.6 0.616L339.1 0.569L339.6 0.521M348.7 1.955L349.5 1.987L350.1 2.009L351.6 2.053L352.5 2.074L353.1 2.086L354.6 2.109L355.5 2.121L356.1 2.129L357.6 2.145L358.5 2.154L359.1 2.159L360.6 2.171L361.5 2.178L362.1 2.182L364.5 2.197L367.5 2.212L370.5 2.226L373.5 2.241L376.5 2.257L379.5 2.273L382.5 2.288L385.5 2.3L388.5 2.311L391.5 2.322L394.5 2.332L397.5 2.343L400.5 2.353L403.5 2.363L406.5 2.373L409.5 2.382L412.5 2.39L415.5 2.398L418.5 2.405L421.5 2.411L424.5 2.416L427.5 2.42L430.5 2.423L433.5 2.425L436.5 2.427L438 2.427L439.5 2.421L442.5 2.396L445.5 2.337L448.5 2.276L451.5 2.216L454.5 2.146L457.5 2.064L460.5 1.977L461.3 1.954L462.8 1.91L463.5 1.888L464.3 1.864L465.8 1.821L466.5 1.8L467.3 1.776L468.8 1.723L469.5 1.695L470.3 1.658L471.8 1.572L472.5 1.526L473.3 1.47L474.8 1.356L475.5 1.302L476.3 1.24L477.8 1.128L478.5 1.076L479.3 1.017L479.8 0.98L480.3 0.943L480.8 0.907L481.3 0.872L481.5 0.858L481.8 0.837L482.3 0.803L482.8 0.769L483.3 0.735L483.8 0.702L484.3 0.67L484.5 0.657L484.8 0.638L485.3 0.608L485.8 0.692L486.3 0.774L486.8 0.855L487.3 0.933L487.5 0.964L487.8 1.01L488.3 1.086L488.8 1.161L489.3 1.233L489.8 1.302L490.3 1.368L490.5 1.393L490.8 1.43L491.3 1.489L491.8 1.543L492.3 1.594L492.8 1.643L493.5 1.709L494.3 1.777L495.8 1.878L496.5 1.912L497.3 1.945L498.8 1.995L499.5 2.014L500.3 2.034L501.8 2.066L502.5 2.076L503.3 2.086L504.8 2.1L505.5 2.105L506.3 2.111L507.8 2.121L508.5 2.125L511.5 2.143L514.5 2.164L517.5 2.186L520.5 2.208L523.5 2.227L526.5 2.244L529.5 2.259L532.5 2.273L535.5 2.286L538.5 2.299L541.5 2.31L544.5 2.321L547.5 2.331L550.5 2.34L553.5 2.349L556.5 2.359L559.5 2.368L562.5 2.376L565.5 2.382L568.5 2.388L571.5 2.391L574.5 2.392L577.5 2.394L580.5 2.394L581 2.394L583.5 2.39L586.5 2.38L589.5 2.365L592.5 2.34L595.5 2.311L598.5 2.278L601.5 2.245L604.5 2.192L607.5 2.122L610.5 2.044L613.5 1.965L616.5 1.898L618 1.852L619.5 1.792L621 1.725L622.5 1.658L624 1.589L625.5 1.518L627 1.444L628.5 1.37L630 1.293L631.5 1.209L633 1.114L634.5 1.011L635 0.974L635.5 0.934L636 0.892L636.5 0.847L637 0.799L637.5 0.746L638 0.689L638.5 0.626L639 0.559L639.5 0.487L640 0.41L640.5 0.328L641 0.513L641.5 0.674L642 0.81L642.5 0.922L643 1.02L643.5 1.105L644 1.181L644.5 1.248L645 1.309L645.5 1.364L646 1.415L646.5 1.462L647 1.506L647.5 1.546L648 1.582L649.5 1.674L651 1.749L652.5 1.809L654 1.853L655.5 1.883L657 1.912L658.5 1.947L660 1.984L661.5 2.02L663 2.05L664.5 2.072L667.5 2.1L670.5 2.12L673.5 2.138L676.5 2.156L679.5 2.172L682.5 2.188L685.5 2.203L688.5 2.218L691.5 2.232L694.5 2.245L697.5 2.259L700 2.269"/><path d="M74 1.686L75.3 1.769L76.5 1.831L76.8 1.845L78.3 1.906L79.5 1.947L79.8 1.957L81.3 1.999L82.5 2.029L82.8 2.036L84.3 2.069L85.5 2.093L85.8 2.099L87.3 2.125L88.5 2.144L88.8 2.148L91.5 2.183L94.5 2.214L97.5 2.238L100.5 2.258L103.5 2.278L106.5 2.296L109.5 2.314L112.5 2.33L115.5 2.344L118.5 2.357L121.5 2.369L124.5 2.382L127.5 2.395L130.5 2.407L133.5 2.417L136.5 2.426L139.5 2.434L142.5 2.441L145.5 2.449L148.5 2.458L151.5 2.466L154.5 2.475L157.5 2.479L159 2.479L160.5 2.472L163.5 2.437L166.5 2.379L169.5 2.327L172.5 2.277L173.5 2.258L175 2.228L175.5 2.218L176.5 2.195L178 2.158L178.5 2.144L179.5 2.116L181 2.07L181.5 2.055L182.5 2.022L184 1.97L184.5 1.952L185.5 1.914L187 1.851L187.5 1.828L188.5 1.779L190 1.703L190.5 1.676L191.5 1.621L192 1.593L192.5 1.564L193 1.534L193.5 1.503L194 1.471L194.5 1.439L195 1.406L195.5 1.372L196 1.337L196.5 1.301L197 1.264L197.5 1.225M204.3 1.956L204.5 1.967L205 1.994L205.5 2.019L206.5 2.059L208 2.101L208.5 2.113L209.5 2.133L211 2.159L211.5 2.167L212.5 2.181L214 2.2L214.5 2.206L215.5 2.218L217 2.234L217.5 2.24L218.5 2.25L220 2.265L220.5 2.27L223.5 2.293L226.5 2.314L229.5 2.331L232.5 2.343L235.5 2.351L238.5 2.358L241.5 2.365L244.5 2.373L247.5 2.38L250.5 2.388L253.5 2.395L256.5 2.403L259.5 2.411L262.5 2.418L265.5 2.425L268.5 2.432L271.5 2.438L274.5 2.443L277.5 2.448L280.5 2.453L283.5 2.458L286.5 2.462L288.5 2.462L289.5 2.458L292.5 2.437L295.5 2.403L298.5 2.363L301.5 2.317L304.5 2.264L307.5 2.204L310.5 2.143L313.5 2.072L315.6 2.011L316.5 1.982L317.1 1.963L318.6 1.911L319.5 1.879L320.1 1.856L321.6 1.797L322.5 1.759L323.1 1.733L324.6 1.665L325.5 1.623L326.1 1.595L327.6 1.518L328.5 1.468L329.1 1.432L330.6 1.328L331.5 1.257L332.1 1.206L333.6 1.072L334.1 1.026L334.5 0.989L334.6 0.98L335.1 0.935L335.6 0.89L336.1 0.844L336.6 0.799L337.1 0.753L337.5 0.716L337.6 0.707L338.1 0.66L338.6 0.613L339.1 0.566L339.6 0.517M348.7 1.951L349.5 1.984L350.1 2.005L351.6 2.05L352.5 2.071L353.1 2.082L354.6 2.106L355.5 2.119L356.1 2.126L357.6 2.143L358.5 2.151L359.1 2.157L360.6 2.169L361.5 2.176L362.1 2.18L364.5 2.195L367.5 2.21L370.5 2.224L373.5 2.239L376.5 2.256L379.5 2.272L382.5 2.287L385.5 2.299L388.5 2.31L391.5 2.321L394.5 2.331L397.5 2.342L400.5 2.352L403.5 2.362L406.5 2.372L409.5 2.381L412.5 2.389L415.5 2.397L418.5 2.404L421.5 2.41L424.5 2.415L427.5 2.419L430.5 2.422L433.5 2.424L436.5 2.426L438 2.426L439.5 2.42L442.5 2.395L445.5 2.336L448.5 2.274L451.5 2.214L454.5 2.144L457.5 2.062L460.5 1.975L461.3 1.951L462.8 1.906L463.5 1.885L464.3 1.861L465.8 1.817L466.5 1.796L467.3 1.772L468.8 1.719L469.5 1.691L470.3 1.653L471.8 1.567L472.5 1.521L473.3 1.464L474.8 1.35L475.5 1.295L476.3 1.233L477.8 1.121L478.5 1.069L479.3 1.009L479.8 0.972L480.3 0.935L480.8 0.899L481.3 0.864L481.5 0.85L481.8 0.829L482.3 0.794L482.8 0.76L483.3 0.726L483.8 0.693L484.3 0.66L484.5 0.647L484.8 0.629L485.3 0.598L485.8 0.683L486.3 0.765L486.8 0.846L487.3 0.925L487.5 0.956L487.8 1.002L488.3 1.079L488.8 1.154L489.3 1.226L489.8 1.296L490.3 1.362L490.5 1.387L490.8 1.425L491.3 1.483L491.8 1.538L492.3 1.589L492.8 1.638L493.5 1.705L494.3 1.773L495.8 1.874L496.5 1.909L497.3 1.942L498.8 1.992L499.5 2.011L500.3 2.032L501.8 2.063L502.5 2.074L503.3 2.083L504.8 2.097L505.5 2.103L506.3 2.109L507.8 2.119L508.5 2.123L511.5 2.14L514.5 2.162L517.5 2.185L520.5 2.207L523.5 2.226L526.5 2.242L529.5 2.257L532.5 2.271L535.5 2.285L538.5 2.297L541.5 2.309L544.5 2.32L547.5 2.329L550.5 2.339L553.5 2.348L556.5 2.357L559.5 2.367L562.5 2.375L565.5 2.381L568.5 2.387L571.5 2.389L574.5 2.391L577.5 2.393L580.5 2.393L581 2.393L583.5 2.389L586.5 2.379L589.5 2.363L592.5 2.338L595.5 2.309L598.5 2.276L601.5 2.243L604.5 2.19L607.5 2.119L610.5 2.041L613.5 1.961L616.5 1.894L618 1.847L619.5 1.787L621 1.719L622.5 1.651L624 1.583L625.5 1.511L627 1.437L628.5 1.361L630 1.284L631.5 1.199L633 1.104L634.5 1.001L635 0.963L635.5 0.923L636 0.881L636.5 0.835L637 0.787L637.5 0.734L638 0.676L638.5 0.613L639 0.545L639.5 0.472L640 0.395L640.5 0.312L641 0.499L641.5 0.66L642 0.797L642.5 0.911L643 1.008L643.5 1.094L644 1.171L644.5 1.239L645 1.3L645.5 1.355L646 1.407L646.5 1.454L647 1.498L647.5 1.538L648 1.575L649.5 1.667L651 1.743L652.5 1.803L654 1.847L655.5 1.877L657 1.906L658.5 1.941L660 1.979L661.5 2.015L663 2.046L664.5 2.068L667.5 2.096L670.5 2.116L673.5 2.134L676.5 2.152L679.5 2.168L682.5 2.184L685.5 2.199L688.5 2.214L691.5 2.228L694.5 2.242L697.5 2.255L700 2.266"/><path d="M74 1.683L75.3 1.766L76.5 1.828L76.8 1.842L78.3 1.904L79.5 1.945L79.8 1.954L81.3 1.997L82.5 2.027L82.8 2.034L84.3 2.067L85.5 2.091L85.8 2.097L87.3 2.123L88.5 2.142L88.8 2.147L91.5 2.182L94.5 2.213L97.5 2.237L100.5 2.257L103.5 2.277L106.5 2.295L109.5 2.313L112.5 2.329L115.5 2.343L118.5 2.356L121.5 2.368L124.5 2.381L127.5 2.394L130.5 2.406L133.5 2.417L136.5 2.425L139.5 2.433L142.5 2.441L145.5 2.449L148.5 2.457L151.5 2.465L154.5 2.474L157.5 2.478L159 2.478L160.5 2.471L163.5 2.436L166.5 2.378L169.5 2.326L172.5 2.276L173.5 2.257L175 2.227L175.5 2.217L176.5 2.194L178 2.157L178.5 2.143L179.5 2.115L181 2.069L181.5 2.053L182.5 2.021L184 1.969L184.5 1.951L185.5 1.912L187 1.849L187.5 1.826L188.5 1.778L190 1.701L190.5 1.674L191.5 1.619L192 1.591L192.5 1.562L193 1.532L193.5 1.501L194 1.469L194.5 1.437L195 1.404L195.5 1.37L196 1.335L196.5 1.299L197 1.262L197.5 1.223M204.3 1.953L204.5 1.964L205 1.991L205.5 2.016L206.5 2.056L208 2.099L208.5 2.11L209.5 2.131L211 2.157L211.5 2.165L212.5 2.179L214 2.198L214.5 2.204L215.5 2.216L217 2.233L217.5 2.238L218.5 2.249L220 2.264L220.5 2.268L223.5 2.292L226.5 2.313L229.5 2.33L232.5 2.342L235.5 2.35L238.5 2.357L241.5 2.364L244.5 2.372L247.5 2.379L250.5 2.387L253.5 2.395L256.5 2.402L259.5 2.41L262.5 2.417L265.5 2.424L268.5 2.431L271.5 2.437L274.5 2.442L277.5 2.447L280.5 2.452L283.5 2.457L286.5 2.461L288.5 2.461L289.5 2.457L292.5 2.436L295.5 2.402L298.5 2.362L301.5 2.316L304.5 2.263L307.5 2.203L310.5 2.142L313.5 2.07L315.6 2.009L316.5 1.981L317.1 1.961L318.6 1.91L319.5 1.877L320.1 1.855L321.6 1.795L322.5 1.757L323.1 1.731L324.6 1.663L325.5 1.621L326.1 1.593L327.6 1.516L328.5 1.466L329.1 1.43L330.6 1.326L331.5 1.255L332.1 1.204L333.6 1.069L334.1 1.023L334.5 0.987L334.6 0.977L335.1 0.932L335.6 0.887L336.1 0.842L336.6 0.796L337.1 0.75L337.5 0.713L337.6 0.704L338.1 0.657L338.6 0.61L339.1 0.563L339.6 0.514M348.7 1.947L349.5 1.98L350.1 2.002L351.6 2.046L352.5 2.067L353.1 2.079L354.6 2.104L355.5 2.116L356.1 2.123L357.6 2.14L358.5 2.149L359.1 2.154L360.6 2.166L361.5 2.173L362.1 2.178L364.5 2.193L367.5 2.208L370.5 2.222L373.5 2.238L376.5 2.254L379.5 2.271L382.5 2.286L385.5 2.298L388.5 2.309L391.5 2.32L394.5 2.33L397.5 2.341L400.5 2.351L403.5 2.361L406.5 2.371L409.5 2.38L412.5 2.389L415.5 2.396L418.5 2.403L421.5 2.41L424.5 2.414L427.5 2.418L430.5 2.421L433.5 2.423L436.5 2.425L438 2.425L439.5 2.419L442.5 2.394L445.5 2.335L448.5 2.273L451.5 2.213L454.5 2.142L457.5 2.059L460.5 1.971L461.3 1.948L462.8 1.903L463.5 1.881L464.3 1.857L465.8 1.813L466.5 1.792L467.3 1.767L468.8 1.714L469.5 1.686L470.3 1.648L471.8 1.562L472.5 1.515L473.3 1.458L474.8 1.344L475.5 1.289L476.3 1.226L477.8 1.114L478.5 1.061L479.3 1.001L479.8 0.964L480.3 0.927L480.8 0.89L481.3 0.855L481.5 0.841L481.8 0.819L482.3 0.785L482.8 0.75L483.3 0.716L483.8 0.683L484.3 0.65L484.5 0.637L484.8 0.618L485.3 0.588L485.8 0.673L486.3 0.756L486.8 0.837L487.3 0.916L487.5 0.948L487.8 0.994L488.3 1.071L488.8 1.146L489.3 1.219L489.8 1.289L490.3 1.356L490.5 1.381L490.8 1.419L491.3 1.477L491.8 1.532L492.3 1.583L492.8 1.633L493.5 1.7L494.3 1.769L495.8 1.871L496.5 1.905L497.3 1.938L498.8 1.988L499.5 2.008L500.3 2.029L501.8 2.06L502.5 2.071L503.3 2.08L504.8 2.095L505.5 2.101L506.3 2.106L507.8 2.116L508.5 2.12L511.5 2.138L514.5 2.16L517.5 2.183L520.5 2.205L523.5 2.224L526.5 2.241L529.5 2.256L532.5 2.27L535.5 2.283L538.5 2.296L541.5 2.307L544.5 2.318L547.5 2.328L550.5 2.337L553.5 2.346L556.5 2.356L559.5 2.366L562.5 2.373L565.5 2.38L568.5 2.385L571.5 2.388L574.5 2.39L577.5 2.391L580.5 2.392L581 2.392L583.5 2.388L586.5 2.377L589.5 2.362L592.5 2.337L595.5 2.308L598.5 2.274L601.5 2.24L604.5 2.187L607.5 2.116L610.5 2.037L613.5 1.957L616.5 1.889L618 1.842L619.5 1.781L621 1.713L622.5 1.645L624 1.576L625.5 1.504L627 1.429L628.5 1.353L630 1.275L631.5 1.19L633 1.094L634.5 0.989L635 0.952L635.5 0.911L636 0.869L636.5 0.823L637 0.774L637.5 0.721L638 0.662L638.5 0.599L639 0.531L639.5 0.457L640 0.379L640.5 0.297L641 0.484L641.5 0.647L642 0.784L642.5 0.899L643 0.997L643.5 1.084L644 1.16L644.5 1.229L645 1.29L645.5 1.346L646 1.398L646.5 1.446L647 1.49L647.5 1.53L648 1.567L649.5 1.66L651 1.736L652.5 1.797L654 1.841L655.5 1.872L657 1.901L658.5 1.936L660 1.974L661.5 2.01L663 2.041L664.5 2.063L667.5 2.091L670.5 2.112L673.5 2.13L676.5 2.148L679.5 2.164L682.5 2.18L685.5 2.195L688.5 2.21L691.5 2.225L694.5 2.239L697.5 2.252L700 2.263"/><path d="M74 1.68L75.3 1.763L76.5 1.826L76.8 1.84L78.3 1.901L79.5 1.943L79.8 1.952L81.3 1.995L82.5 2.025L82.8 2.032L84.3 2.065L85.5 2.09L85.8 2.095L87.3 2.122L88.5 2.141L88.8 2.145L91.5 2.181L94.5 2.211L97.5 2.236L100.5 2.256L103.5 2.275L106.5 2.294L109.5 2.312L112.5 2.328L115.5 2.342L118.5 2.355L121.5 2.367L124.5 2.38L127.5 2.393L130.5 2.405L133.5 2.416L136.5 2.424L139.5 2.432L142.5 2.44L145.5 2.448L148.5 2.456L151.5 2.464L154.5 2.473L157.5 2.477L159 2.477L160.5 2.471L163.5 2.435L166.5 2.377L169.5 2.325L172.5 2.275L173.5 2.256L175 2.226L175.5 2.216L176.5 2.193L178 2.155L178.5 2.142L179.5 2.113L181 2.068L181.5 2.052L182.5 2.019L184 1.968L184.5 1.949L185.5 1.911L187 1.847L187.5 1.824L188.5 1.776L190 1.699L190.5 1.673L191.5 1.618L192 1.589L192.5 1.56L193 1.53L193.5 1.499L194 1.467L194.5 1.435L195 1.402L195.5 1.367L196 1.332L196.5 1.296L197 1.259L197.5 1.22M204.3 1.95L204.5 1.961L205 1.988L205.5 2.013L206.5 2.054L208 2.096L208.5 2.108L209.5 2.129L211 2.155L211.5 2.163L212.5 2.178L214 2.197L214.5 2.203L215.5 2.214L217 2.231L217.5 2.237L218.5 2.247L220 2.262L220.5 2.267L223.5 2.291L226.5 2.312L229.5 2.329L232.5 2.341L235.5 2.35L238.5 2.356L241.5 2.363L244.5 2.371L247.5 2.378L250.5 2.386L253.5 2.394L256.5 2.402L259.5 2.409L262.5 2.417L265.5 2.423L268.5 2.43L271.5 2.436L274.5 2.442L277.5 2.446L280.5 2.451L283.5 2.456L286.5 2.46L288.5 2.46L289.5 2.456L292.5 2.435L295.5 2.401L298.5 2.361L301.5 2.315L304.5 2.262L307.5 2.202L310.5 2.14L313.5 2.069L315.6 2.008L316.5 1.98L317.1 1.96L318.6 1.908L319.5 1.876L320.1 1.853L321.6 1.793L322.5 1.756L323.1 1.73L324.6 1.662L325.5 1.62L326.1 1.591L327.6 1.514L328.5 1.464L329.1 1.428L330.6 1.324L331.5 1.252L332.1 1.202L333.6 1.067L334.1 1.021L334.5 0.984L334.6 0.975L335.1 0.929L335.6 0.884L336.1 0.839L336.6 0.793L337.1 0.747L337.5 0.71L337.6 0.701L338.1 0.654L338.6 0.607L339.1 0.56L339.6 0.51M348.7 1.943L349.5 1.976L350.1 1.998L351.6 2.043L352.5 2.064L353.1 2.076L354.6 2.101L355.5 2.113L356.1 2.121L357.6 2.137L358.5 2.146L359.1 2.152L360.6 2.164L361.5 2.171L362.1 2.175L364.5 2.19L367.5 2.206L370.5 2.22L373.5 2.236L376.5 2.253L379.5 2.27L382.5 2.284L385.5 2.297L388.5 2.308L391.5 2.319L394.5 2.329L397.5 2.34L400.5 2.35L403.5 2.36L406.5 2.37L409.5 2.379L412.5 2.388L415.5 2.395L418.5 2.402L421.5 2.409L424.5 2.414L427.5 2.417L430.5 2.42L433.5 2.422L436.5 2.424L438 2.424L439.5 2.418L442.5 2.393L445.5 2.334L448.5 2.271L451.5 2.211L454.5 2.14L457.5 2.056L460.5 1.968L461.3 1.944L462.8 1.899L463.5 1.877L464.3 1.853L465.8 1.809L466.5 1.788L467.3 1.763L468.8 1.71L469.5 1.681L470.3 1.643L471.8 1.556L472.5 1.509L473.3 1.452L474.8 1.337L475.5 1.282L476.3 1.219L477.8 1.106L478.5 1.053L479.3 0.993L479.8 0.955L480.3 0.918L480.8 0.881L481.3 0.845L481.5 0.831L481.8 0.81L482.3 0.775L482.8 0.74L483.3 0.706L483.8 0.672L484.3 0.64L484.5 0.627L484.8 0.608L485.3 0.577L485.8 0.663L486.3 0.746L486.8 0.828L487.3 0.907L487.5 0.939L487.8 0.986L488.3 1.063L488.8 1.138L489.3 1.212L489.8 1.282L490.3 1.349L490.5 1.375L490.8 1.412L491.3 1.471L491.8 1.527L492.3 1.578L492.8 1.628L493.5 1.695L494.3 1.764L495.8 1.867L496.5 1.901L497.3 1.935L498.8 1.985L499.5 2.004L500.3 2.025L501.8 2.057L502.5 2.068L503.3 2.078L504.8 2.092L505.5 2.098L506.3 2.104L507.8 2.114L508.5 2.118L511.5 2.136L514.5 2.158L517.5 2.181L520.5 2.203L523.5 2.222L526.5 2.239L529.5 2.254L532.5 2.268L535.5 2.281L538.5 2.294L541.5 2.306L544.5 2.317L547.5 2.326L550.5 2.336L553.5 2.345L556.5 2.355L559.5 2.364L562.5 2.372L565.5 2.379L568.5 2.384L571.5 2.387L574.5 2.389L577.5 2.39L580.5 2.39L581 2.39L583.5 2.386L586.5 2.376L589.5 2.36L592.5 2.335L595.5 2.306L598.5 2.272L601.5 2.238L604.5 2.184L607.5 2.113L610.5 2.034L613.5 1.953L616.5 1.884L618 1.837L619.5 1.776L621 1.707L622.5 1.639L624 1.569L625.5 1.496L627 1.421L628.5 1.344L630 1.266L631.5 1.18L633 1.083L634.5 0.978L635 0.94L635.5 0.899L636 0.856L636.5 0.811L637 0.761L637.5 0.707L638 0.649L638.5 0.585L639 0.516L639.5 0.442L640 0.363L640.5 0.28L641 0.469L641.5 0.633L642 0.771L642.5 0.886L643 0.985L643.5 1.072L644 1.15L644.5 1.218L645 1.28L645.5 1.337L646 1.389L646.5 1.437L647 1.481L647.5 1.522L648 1.559L649.5 1.653L651 1.729L652.5 1.79L654 1.835L655.5 1.866L657 1.895L658.5 1.93L660 1.969L661.5 2.005L663 2.036L664.5 2.058L667.5 2.087L670.5 2.108L673.5 2.125L676.5 2.144L679.5 2.16L682.5 2.176L685.5 2.192L688.5 2.207L691.5 2.221L694.5 2.235L697.5 2.249L700 2.26"/><path d="M74 1.676L75.3 1.76L76.5 1.823L76.8 1.837L78.3 1.899L79.5 1.94L79.8 1.95L81.3 1.993L82.5 2.023L82.8 2.03L84.3 2.063L85.5 2.088L85.8 2.094L87.3 2.12L88.5 2.139L88.8 2.144L91.5 2.179L94.5 2.21L97.5 2.234L100.5 2.255L103.5 2.274L106.5 2.293L109.5 2.311L112.5 2.327L115.5 2.341L118.5 2.354L121.5 2.366L124.5 2.379L127.5 2.392L130.5 2.404L133.5 2.415L136.5 2.423L139.5 2.431L142.5 2.439L145.5 2.447L148.5 2.455L151.5 2.463L154.5 2.472L157.5 2.476L159 2.476L160.5 2.47L163.5 2.434L166.5 2.376L169.5 2.324L172.5 2.274L173.5 2.255L175 2.225L175.5 2.214L176.5 2.192L178 2.154L178.5 2.141L179.5 2.112L181 2.066L181.5 2.051L182.5 2.018L184 1.966L184.5 1.948L185.5 1.909L187 1.846L187.5 1.823L188.5 1.774L190 1.697L190.5 1.671L191.5 1.616L192 1.587L192.5 1.558L193 1.528L193.5 1.497L194 1.465L194.5 1.433L195 1.399L195.5 1.365L196 1.33L196.5 1.294L197 1.257L197.5 1.217M204.3 1.946L204.5 1.958L205 1.985L205.5 2.01L206.5 2.051L208 2.094L208.5 2.105L209.5 2.126L211 2.153L211.5 2.161L212.5 2.176L214 2.195L214.5 2.201L215.5 2.212L217 2.23L217.5 2.235L218.5 2.246L220 2.261L220.5 2.265L223.5 2.29L226.5 2.311L229.5 2.328L232.5 2.34L235.5 2.349L238.5 2.355L241.5 2.362L244.5 2.37L247.5 2.377L250.5 2.385L253.5 2.393L256.5 2.401L259.5 2.408L262.5 2.416L265.5 2.423L268.5 2.429L271.5 2.435L274.5 2.441L277.5 2.446L280.5 2.45L283.5 2.455L286.5 2.459L288.5 2.459L289.5 2.456L292.5 2.434L295.5 2.4L298.5 2.36L301.5 2.314L304.5 2.261L307.5 2.2L310.5 2.139L313.5 2.068L315.6 2.007L316.5 1.978L317.1 1.958L318.6 1.907L319.5 1.874L320.1 1.851L321.6 1.792L322.5 1.754L323.1 1.728L324.6 1.66L325.5 1.618L326.1 1.589L327.6 1.512L328.5 1.462L329.1 1.425L330.6 1.322L331.5 1.25L332.1 1.199L333.6 1.064L334.1 1.018L334.5 0.981L334.6 0.972L335.1 0.926L335.6 0.881L336.1 0.836L336.6 0.79L337.1 0.744L337.5 0.707L337.6 0.697L338.1 0.651L338.6 0.604L339.1 0.556L339.6 0.506M348.7 1.938L349.5 1.972L350.1 1.994L351.6 2.04L352.5 2.061L353.1 2.073L354.6 2.097L355.5 2.11L356.1 2.118L357.6 2.135L358.5 2.143L359.1 2.149L360.6 2.162L361.5 2.168L362.1 2.173L364.5 2.188L367.5 2.204L370.5 2.219L373.5 2.234L376.5 2.252L379.5 2.268L382.5 2.283L385.5 2.296L388.5 2.307L391.5 2.318L394.5 2.328L397.5 2.339L400.5 2.349L403.5 2.359L406.5 2.369L409.5 2.378L412.5 2.387L415.5 2.394L418.5 2.402L421.5 2.408L424.5 2.413L427.5 2.416L430.5 2.419L433.5 2.421L436.5 2.423L438 2.423L439.5 2.417L442.5 2.392L445.5 2.333L448.5 2.27L451.5 2.209L454.5 2.138L457.5 2.054L460.5 1.965L461.3 1.941L462.8 1.895L463.5 1.874L464.3 1.849L465.8 1.804L466.5 1.783L467.3 1.758L468.8 1.705L469.5 1.676L470.3 1.638L471.8 1.55L472.5 1.503L473.3 1.446L474.8 1.33L475.5 1.274L476.3 1.211L477.8 1.098L478.5 1.044L479.3 0.984L479.8 0.946L480.3 0.909L480.8 0.872L481.3 0.836L481.5 0.821L481.8 0.8L482.3 0.765L482.8 0.73L483.3 0.695L483.8 0.662L484.3 0.629L484.5 0.616L484.8 0.597L485.3 0.566L485.8 0.652L486.3 0.736L486.8 0.818L487.3 0.898L487.5 0.93L487.8 0.977L488.3 1.054L488.8 1.13L489.3 1.204L489.8 1.275L490.3 1.342L490.5 1.368L490.8 1.406L491.3 1.465L491.8 1.521L492.3 1.572L492.8 1.623L493.5 1.69L494.3 1.759L495.8 1.862L496.5 1.897L497.3 1.931L498.8 1.981L499.5 2.001L500.3 2.022L501.8 2.054L502.5 2.065L503.3 2.075L504.8 2.089L505.5 2.095L506.3 2.101L507.8 2.111L508.5 2.115L511.5 2.134L514.5 2.155L517.5 2.179L520.5 2.201L523.5 2.22L526.5 2.237L529.5 2.252L532.5 2.266L535.5 2.28L538.5 2.292L541.5 2.304L544.5 2.315L547.5 2.325L550.5 2.334L553.5 2.343L556.5 2.353L559.5 2.363L562.5 2.37L565.5 2.377L568.5 2.382L571.5 2.385L574.5 2.387L577.5 2.388L580.5 2.389L581 2.389L583.5 2.385L586.5 2.374L589.5 2.358L592.5 2.333L595.5 2.304L598.5 2.27L601.5 2.235L604.5 2.181L607.5 2.109L610.5 2.03L613.5 1.948L616.5 1.879L618 1.831L619.5 1.77L621 1.701L622.5 1.632L624 1.562L625.5 1.488L627 1.412L628.5 1.335L630 1.256L631.5 1.17L633 1.073L634.5 0.966L635 0.928L635.5 0.887L636 0.844L636.5 0.798L637 0.748L637.5 0.694L638 0.634L638.5 0.57L639 0.501L639.5 0.426L640 0.347L640.5 0.263L641 0.453L641.5 0.618L642 0.758L642.5 0.873L643 0.973L643.5 1.061L644 1.139L644.5 1.208L645 1.27L645.5 1.327L646 1.379L646.5 1.428L647 1.472L647.5 1.513L648 1.551L649.5 1.645L651 1.722L652.5 1.784L654 1.828L655.5 1.859L657 1.889L658.5 1.925L660 1.963L661.5 2L663 2.031L664.5 2.054L667.5 2.082L670.5 2.103L673.5 2.121L676.5 2.139L679.5 2.156L682.5 2.172L685.5 2.188L688.5 2.203L691.5 2.218L694.5 2.232L697.5 2.245L700 2.256"/><path d="M74 1.673L75.3 1.757L76.5 1.82L76.8 1.834L78.3 1.896L79.5 1.938L79.8 1.947L81.3 1.99L82.5 2.021L82.8 2.028L84.3 2.061L85.5 2.086L85.8 2.092L87.3 2.119L88.5 2.138L88.8 2.142L91.5 2.178L94.5 2.209L97.5 2.233L100.5 2.254L103.5 2.273L106.5 2.292L109.5 2.31L112.5 2.326L115.5 2.34L118.5 2.353L121.5 2.365L124.5 2.378L127.5 2.391L130.5 2.403L133.5 2.414L136.5 2.423L139.5 2.43L142.5 2.438L145.5 2.446L148.5 2.454L151.5 2.463L154.5 2.471L157.5 2.475L159 2.476L160.5 2.469L163.5 2.434L166.5 2.375L169.5 2.323L172.5 2.272L173.5 2.254L175 2.224L175.5 2.213L176.5 2.191L178 2.153L178.5 2.139L179.5 2.111L181 2.065L181.5 2.049L182.5 2.017L184 1.965L184.5 1.946L185.5 1.908L187 1.844L187.5 1.821L188.5 1.773L190 1.695L190.5 1.669L191.5 1.613L192 1.585L192.5 1.556L193 1.526L193.5 1.495L194 1.463L194.5 1.43L195 1.397L195.5 1.363L196 1.327L196.5 1.291L197 1.254L197.5 1.214M204.3 1.943L204.5 1.954L205 1.982L205.5 2.007L206.5 2.048L208 2.091L208.5 2.103L209.5 2.124L211 2.151L211.5 2.159L212.5 2.173L214 2.193L214.5 2.199L215.5 2.211L217 2.228L217.5 2.233L218.5 2.244L220 2.259L220.5 2.264L223.5 2.288L226.5 2.31L229.5 2.327L232.5 2.339L235.5 2.348L238.5 2.354L241.5 2.361L244.5 2.369L247.5 2.376L250.5 2.384L253.5 2.392L256.5 2.4L259.5 2.407L262.5 2.415L265.5 2.422L268.5 2.428L271.5 2.434L274.5 2.44L277.5 2.445L280.5 2.449L283.5 2.454L286.5 2.458L288.5 2.458L289.5 2.455L292.5 2.434L295.5 2.399L298.5 2.359L301.5 2.313L304.5 2.26L307.5 2.199L310.5 2.138L313.5 2.066L315.6 2.005L316.5 1.977L317.1 1.957L318.6 1.905L319.5 1.872L320.1 1.85L321.6 1.79L322.5 1.752L323.1 1.726L324.6 1.658L325.5 1.616L326.1 1.587L327.6 1.51L328.5 1.459L329.1 1.423L330.6 1.319L331.5 1.247L332.1 1.196L333.6 1.061L334.1 1.015L334.5 0.978L334.6 0.969L335.1 0.923L335.6 0.878L336.1 0.832L336.6 0.787L337.1 0.74L337.5 0.703L337.6 0.694L338.1 0.647L338.6 0.6L339.1 0.552L339.6 0.502M348.7 1.934L349.5 1.968L350.1 1.99L351.6 2.036L352.5 2.057L353.1 2.07L354.6 2.094L355.5 2.107L356.1 2.115L357.6 2.132L358.5 2.141L359.1 2.146L360.6 2.159L361.5 2.166L362.1 2.17L364.5 2.186L367.5 2.202L370.5 2.217L373.5 2.233L376.5 2.25L379.5 2.267L382.5 2.282L385.5 2.295L388.5 2.306L391.5 2.317L394.5 2.327L397.5 2.338L400.5 2.348L403.5 2.358L406.5 2.368L409.5 2.377L412.5 2.386L415.5 2.394L418.5 2.401L421.5 2.407L424.5 2.412L427.5 2.416L430.5 2.418L433.5 2.42L436.5 2.422L438 2.422L439.5 2.416L442.5 2.391L445.5 2.331L448.5 2.268L451.5 2.207L454.5 2.135L457.5 2.051L460.5 1.961L461.3 1.937L462.8 1.891L463.5 1.869L464.3 1.845L465.8 1.8L466.5 1.779L467.3 1.753L468.8 1.7L469.5 1.67L470.3 1.632L471.8 1.544L472.5 1.497L473.3 1.439L474.8 1.323L475.5 1.267L476.3 1.203L477.8 1.089L478.5 1.035L479.3 0.974L479.8 0.936L480.3 0.899L480.8 0.862L481.3 0.825L481.5 0.811L481.8 0.79L482.3 0.754L482.8 0.719L483.3 0.684L483.8 0.65L484.3 0.617L484.5 0.604L484.8 0.585L485.3 0.554L485.8 0.641L486.3 0.725L486.8 0.808L487.3 0.888L487.5 0.92L487.8 0.967L488.3 1.045L488.8 1.122L489.3 1.196L489.8 1.267L490.3 1.335L490.5 1.361L490.8 1.399L491.3 1.459L491.8 1.514L492.3 1.566L492.8 1.617L493.5 1.684L494.3 1.754L495.8 1.858L496.5 1.893L497.3 1.927L498.8 1.978L499.5 1.997L500.3 2.018L501.8 2.051L502.5 2.062L503.3 2.071L504.8 2.086L505.5 2.092L506.3 2.098L507.8 2.108L508.5 2.112L511.5 2.131L514.5 2.153L517.5 2.177L520.5 2.199L523.5 2.218L526.5 2.235L529.5 2.25L532.5 2.264L535.5 2.278L538.5 2.29L541.5 2.302L544.5 2.313L547.5 2.323L550.5 2.332L553.5 2.342L556.5 2.351L559.5 2.361L562.5 2.369L565.5 2.375L568.5 2.381L571.5 2.384L574.5 2.385L577.5 2.387L580.5 2.387L581 2.387L583.5 2.383L586.5 2.373L589.5 2.357L592.5 2.331L595.5 2.301L598.5 2.267L601.5 2.232L604.5 2.178L607.5 2.106L610.5 2.026L613.5 1.943L616.5 1.874L618 1.826L619.5 1.764L621 1.694L622.5 1.625L624 1.554L625.5 1.48L627 1.404L628.5 1.326L630 1.246L631.5 1.159L633 1.061L634.5 0.954L635 0.915L635.5 0.874L636 0.831L636.5 0.784L637 0.734L637.5 0.679L638 0.62L638.5 0.555L639 0.485L639.5 0.41L640 0.33L640.5 0.246L641 0.437L641.5 0.603L642 0.744L642.5 0.86L643 0.961L643.5 1.049L644 1.127L644.5 1.197L645 1.26L645.5 1.317L646 1.37L646.5 1.418L647 1.463L647.5 1.504L648 1.542L649.5 1.637L651 1.715L652.5 1.777L654 1.822L655.5 1.853L657 1.883L658.5 1.919L660 1.958L661.5 1.995L663 2.026L664.5 2.049L667.5 2.077L670.5 2.099L673.5 2.117L676.5 2.135L679.5 2.152L682.5 2.168L685.5 2.184L688.5 2.199L691.5 2.214L694.5 2.228L697.5 2.242L700 2.253"/><path d="M74 1.669L75.3 1.753L76.5 1.817L76.8 1.831L78.3 1.894L79.5 1.935L79.8 1.945L81.3 1.988L82.5 2.018L82.8 2.026L84.3 2.059L85.5 2.084L85.8 2.09L87.3 2.117L88.5 2.136L88.8 2.141L91.5 2.176L94.5 2.207L97.5 2.232L100.5 2.253L103.5 2.272L106.5 2.291L109.5 2.309L112.5 2.325L115.5 2.339L118.5 2.352L121.5 2.364L124.5 2.377L127.5 2.39L130.5 2.403L133.5 2.413L136.5 2.422L139.5 2.429L142.5 2.437L145.5 2.445L148.5 2.454L151.5 2.462L154.5 2.471L157.5 2.475L159 2.475L160.5 2.468L163.5 2.433L166.5 2.374L169.5 2.322L172.5 2.271L173.5 2.252L175 2.223L175.5 2.212L176.5 2.189L178 2.152L178.5 2.138L179.5 2.109L181 2.064L181.5 2.048L182.5 2.015L184 1.963L184.5 1.945L185.5 1.906L187 1.842L187.5 1.819L188.5 1.771L190 1.693L190.5 1.667L191.5 1.611L192 1.583L192.5 1.553L193 1.523L193.5 1.492L194 1.461L194.5 1.428L195 1.394L195.5 1.36L196 1.325L196.5 1.289L197 1.252L197.5 1.211M204.3 1.939L204.5 1.951L205 1.978L205.5 2.003L206.5 2.045L208 2.088L208.5 2.1L209.5 2.121L211 2.148L211.5 2.157L212.5 2.171L214 2.191L214.5 2.197L215.5 2.209L217 2.226L217.5 2.232L218.5 2.243L220 2.258L220.5 2.262L223.5 2.287L226.5 2.308L229.5 2.326L232.5 2.338L235.5 2.347L238.5 2.353L241.5 2.36L244.5 2.368L247.5 2.376L250.5 2.383L253.5 2.391L256.5 2.399L259.5 2.407L262.5 2.414L265.5 2.421L268.5 2.427L271.5 2.434L274.5 2.439L277.5 2.444L280.5 2.449L283.5 2.454L286.5 2.458L288.5 2.458L289.5 2.454L292.5 2.433L295.5 2.398L298.5 2.358L301.5 2.312L304.5 2.259L307.5 2.198L310.5 2.137L313.5 2.065L315.6 2.004L316.5 1.975L317.1 1.955L318.6 1.903L319.5 1.871L320.1 1.848L321.6 1.788L322.5 1.75L323.1 1.724L324.6 1.656L325.5 1.613L326.1 1.584L327.6 1.508L328.5 1.457L329.1 1.421L330.6 1.316L331.5 1.245L332.1 1.194L333.6 1.058L334.1 1.012L334.5 0.975L334.6 0.966L335.1 0.92L335.6 0.875L336.1 0.829L336.6 0.783L337.1 0.737L337.5 0.7L337.6 0.69L338.1 0.644L338.6 0.597L339.1 0.549L339.6 0.497M348.7 1.93L349.5 1.964L350.1 1.986L351.6 2.032L352.5 2.054L353.1 2.066L354.6 2.091L355.5 2.104L356.1 2.112L357.6 2.129L358.5 2.138L359.1 2.143L360.6 2.156L361.5 2.163L362.1 2.168L364.5 2.184L367.5 2.2L370.5 2.215L373.5 2.231L376.5 2.248L379.5 2.265L382.5 2.281L385.5 2.294L388.5 2.305L391.5 2.316L394.5 2.326L397.5 2.337L400.5 2.347L403.5 2.357L406.5 2.367L409.5 2.376L412.5 2.385L415.5 2.393L418.5 2.4L421.5 2.406L424.5 2.411L427.5 2.415L430.5 2.417L433.5 2.419L436.5 2.421L438 2.421L439.5 2.415L442.5 2.39L445.5 2.33L448.5 2.267L451.5 2.205L454.5 2.133L457.5 2.048L460.5 1.958L461.3 1.934L462.8 1.887L463.5 1.865L464.3 1.84L465.8 1.795L466.5 1.774L467.3 1.748L468.8 1.694L469.5 1.665L470.3 1.626L471.8 1.538L472.5 1.491L473.3 1.432L474.8 1.315L475.5 1.259L476.3 1.195L477.8 1.08L478.5 1.026L479.3 0.965L479.8 0.926L480.3 0.889L480.8 0.851L481.3 0.815L481.5 0.8L481.8 0.779L482.3 0.743L482.8 0.708L483.3 0.673L483.8 0.639L484.3 0.605L484.5 0.592L484.8 0.573L485.3 0.542L485.8 0.629L486.3 0.714L486.8 0.797L487.3 0.878L487.5 0.91L487.8 0.957L488.3 1.036L488.8 1.113L489.3 1.187L489.8 1.259L490.3 1.327L490.5 1.353L490.8 1.391L491.3 1.452L491.8 1.508L492.3 1.56L492.8 1.611L493.5 1.679L494.3 1.749L495.8 1.853L496.5 1.888L497.3 1.922L498.8 1.974L499.5 1.993L500.3 2.015L501.8 2.048L502.5 2.058L503.3 2.068L504.8 2.083L505.5 2.089L506.3 2.095L507.8 2.105L508.5 2.11L511.5 2.128L514.5 2.15L517.5 2.174L520.5 2.197L523.5 2.216L526.5 2.233L529.5 2.248L532.5 2.262L535.5 2.276L538.5 2.289L541.5 2.3L544.5 2.311L547.5 2.321L550.5 2.33L553.5 2.34L556.5 2.35L559.5 2.359L562.5 2.367L565.5 2.374L568.5 2.379L571.5 2.382L574.5 2.384L577.5 2.385L580.5 2.386L581 2.386L583.5 2.381L586.5 2.371L589.5 2.355L592.5 2.329L595.5 2.299L598.5 2.265L601.5 2.23L604.5 2.175L607.5 2.102L610.5 2.021L613.5 1.939L616.5 1.868L618 1.82L619.5 1.757L621 1.687L622.5 1.617L624 1.546L625.5 1.472L627 1.395L628.5 1.317L630 1.236L631.5 1.148L633 1.049L634.5 0.942L635 0.903L635.5 0.861L636 0.817L636.5 0.77L637 0.72L637.5 0.665L638 0.604L638.5 0.539L639 0.469L639.5 0.393L640 0.313L640.5 0.228L641 0.42L641.5 0.587L642 0.729L642.5 0.846L643 0.948L643.5 1.037L644 1.116L644.5 1.186L645 1.249L645.5 1.306L646 1.36L646.5 1.409L647 1.454L647.5 1.495L648 1.533L649.5 1.629L651 1.708L652.5 1.77L654 1.815L655.5 1.847L657 1.877L658.5 1.913L660 1.952L661.5 1.989L663 2.021L664.5 2.044L667.5 2.073L670.5 2.094L673.5 2.112L676.5 2.131L679.5 2.148L682.5 2.164L685.5 2.18L688.5 2.195L691.5 2.21L694.5 2.224L697.5 2.238L700 2.249"/><path d="M74 1.666L75.3 1.75L76.5 1.814L76.8 1.828L78.3 1.891L79.5 1.933L79.8 1.942L81.3 1.986L82.5 2.016L82.8 2.023L84.3 2.057L85.5 2.082L85.8 2.088L87.3 2.115L88.5 2.134L88.8 2.139L91.5 2.175L94.5 2.206L97.5 2.231L100.5 2.251L103.5 2.271L106.5 2.29L109.5 2.308L112.5 2.324L115.5 2.338L118.5 2.351L121.5 2.363L124.5 2.376L127.5 2.389L130.5 2.402L133.5 2.412L136.5 2.421L139.5 2.428L142.5 2.436L145.5 2.444L148.5 2.453L151.5 2.461L154.5 2.47L157.5 2.474L159 2.474L160.5 2.467L163.5 2.432L166.5 2.373L169.5 2.32L172.5 2.27L173.5 2.251L175 2.221L175.5 2.211L176.5 2.188L178 2.15L178.5 2.137L179.5 2.108L181 2.062L181.5 2.046L182.5 2.013L184 1.961L184.5 1.943L185.5 1.904L187 1.84L187.5 1.817L188.5 1.769L190 1.691L190.5 1.665L191.5 1.609L192 1.58L192.5 1.551L193 1.521L193.5 1.49L194 1.458L194.5 1.425L195 1.392L195.5 1.358L196 1.322L196.5 1.286L197 1.249L197.5 1.208M204.3 1.935L204.5 1.947L205 1.975L205.5 2L206.5 2.042L208 2.086L208.5 2.098L209.5 2.119L211 2.146L211.5 2.154L212.5 2.169L214 2.189L214.5 2.195L215.5 2.207L217 2.224L217.5 2.23L218.5 2.241L220 2.256L220.5 2.261L223.5 2.285L226.5 2.307L229.5 2.325L232.5 2.337L235.5 2.345L238.5 2.352L241.5 2.359L244.5 2.367L247.5 2.374L250.5 2.382L253.5 2.39L256.5 2.398L259.5 2.406L262.5 2.413L265.5 2.42L268.5 2.426L271.5 2.433L274.5 2.438L277.5 2.443L280.5 2.448L283.5 2.453L286.5 2.457L288.5 2.457L289.5 2.453L292.5 2.432L295.5 2.397L298.5 2.357L301.5 2.311L304.5 2.258L307.5 2.197L310.5 2.135L313.5 2.063L315.6 2.002L316.5 1.973L317.1 1.953L318.6 1.902L319.5 1.869L320.1 1.846L321.6 1.786L322.5 1.748L323.1 1.722L324.6 1.653L325.5 1.611L326.1 1.582L327.6 1.505L328.5 1.455L329.1 1.418L330.6 1.314L331.5 1.242L332.1 1.191L333.6 1.055L334.1 1.009L334.5 0.972L334.6 0.962L335.1 0.917L335.6 0.871L336.1 0.826L336.6 0.78L337.1 0.733L337.5 0.696L337.6 0.687L338.1 0.64L338.6 0.593L339.1 0.545L339.6 0.493M348.7 1.925L349.5 1.96L350.1 1.982L351.6 2.028L352.5 2.05L353.1 2.062L354.6 2.088L355.5 2.101L356.1 2.108L357.6 2.126L358.5 2.135L359.1 2.141L360.6 2.154L361.5 2.161L362.1 2.165L364.5 2.181L367.5 2.198L370.5 2.213L373.5 2.229L376.5 2.247L379.5 2.264L382.5 2.279L385.5 2.293L388.5 2.304L391.5 2.315L394.5 2.325L397.5 2.336L400.5 2.346L403.5 2.356L406.5 2.366L409.5 2.375L412.5 2.384L415.5 2.392L418.5 2.399L421.5 2.405L424.5 2.41L427.5 2.414L430.5 2.416L433.5 2.418L436.5 2.42L438 2.42L439.5 2.414L442.5 2.388L445.5 2.328L448.5 2.265L451.5 2.203L454.5 2.13L457.5 2.045L460.5 1.954L461.3 1.93L462.8 1.883L463.5 1.861L464.3 1.835L465.8 1.79L466.5 1.768L467.3 1.743L468.8 1.688L469.5 1.659L470.3 1.62L471.8 1.531L472.5 1.484L473.3 1.425L474.8 1.307L475.5 1.25L476.3 1.186L477.8 1.07L478.5 1.016L479.3 0.954L479.8 0.916L480.3 0.878L480.8 0.84L481.3 0.803L481.5 0.789L481.8 0.767L482.3 0.731L482.8 0.696L483.3 0.66L483.8 0.626L484.3 0.592L484.5 0.579L484.8 0.56L485.3 0.529L485.8 0.616L486.3 0.702L486.8 0.785L487.3 0.867L487.5 0.899L487.8 0.947L488.3 1.026L488.8 1.103L489.3 1.178L489.8 1.25L490.3 1.319L490.5 1.345L490.8 1.384L491.3 1.444L491.8 1.501L492.3 1.553L492.8 1.604L493.5 1.673L494.3 1.744L495.8 1.848L496.5 1.884L497.3 1.918L498.8 1.969L499.5 1.989L500.3 2.011L501.8 2.044L502.5 2.055L503.3 2.064L504.8 2.079L505.5 2.085L506.3 2.092L507.8 2.102L508.5 2.106L511.5 2.125L514.5 2.148L517.5 2.172L520.5 2.194L523.5 2.214L526.5 2.231L529.5 2.246L532.5 2.26L535.5 2.274L538.5 2.286L541.5 2.298L544.5 2.309L547.5 2.319L550.5 2.328L553.5 2.338L556.5 2.348L559.5 2.357L562.5 2.365L565.5 2.372L568.5 2.377L571.5 2.38L574.5 2.382L577.5 2.383L580.5 2.384L581 2.384L583.5 2.379L586.5 2.369L589.5 2.352L592.5 2.326L595.5 2.296L598.5 2.262L601.5 2.227L604.5 2.172L607.5 2.098L610.5 2.017L613.5 1.933L616.5 1.863L618 1.814L619.5 1.751L621 1.68L622.5 1.61L624 1.538L625.5 1.463L627 1.385L628.5 1.306L630 1.225L631.5 1.137L633 1.037L634.5 0.929L635 0.889L635.5 0.847L636 0.803L636.5 0.756L637 0.705L637.5 0.649L638 0.589L638.5 0.523L639 0.452L639.5 0.376L640 0.294L640.5 0.209L641 0.403L641.5 0.571L642 0.714L642.5 0.832L643 0.934L643.5 1.024L644 1.103L644.5 1.174L645 1.238L645.5 1.296L646 1.349L646.5 1.399L647 1.444L647.5 1.486L648 1.524L649.5 1.621L651 1.7L652.5 1.762L654 1.808L655.5 1.84L657 1.87L658.5 1.907L660 1.946L661.5 1.984L663 2.015L664.5 2.038L667.5 2.067L670.5 2.089L673.5 2.107L676.5 2.126L679.5 2.143L682.5 2.159L685.5 2.175L688.5 2.191L691.5 2.206L694.5 2.22L697.5 2.234L700 2.245"/><path d="M74 1.662L75.3 1.746L76.5 1.811L76.8 1.825L78.3 1.888L79.5 1.93L79.8 1.94L81.3 1.983L82.5 2.014L82.8 2.021L84.3 2.055L85.5 2.08L85.8 2.086L87.3 2.113L88.5 2.133L88.8 2.137L91.5 2.173L94.5 2.204L97.5 2.229L100.5 2.25L103.5 2.27L106.5 2.289L109.5 2.307L112.5 2.323L115.5 2.337L118.5 2.35L121.5 2.362L124.5 2.375L127.5 2.388L130.5 2.401L133.5 2.411L136.5 2.42L139.5 2.427L142.5 2.435L145.5 2.443L148.5 2.452L151.5 2.46L154.5 2.469L157.5 2.473L159 2.473L160.5 2.466L163.5 2.431L166.5 2.372L169.5 2.319L172.5 2.269L173.5 2.25L175 2.22L175.5 2.209L176.5 2.187L178 2.149L178.5 2.135L179.5 2.106L181 2.06L181.5 2.045L182.5 2.012L184 1.96L184.5 1.941L185.5 1.902L187 1.838L187.5 1.815L188.5 1.767L190 1.689L190.5 1.662L191.5 1.607L192 1.578L192.5 1.549L193 1.518L193.5 1.487L194 1.456L194.5 1.423L195 1.389L195.5 1.355L196 1.319L196.5 1.283L197 1.246L197.5 1.205M204.3 1.932L204.5 1.943L205 1.971L205.5 1.997L206.5 2.039L208 2.083L208.5 2.095L209.5 2.116L211 2.144L211.5 2.152L212.5 2.167L214 2.187L214.5 2.193L215.5 2.205L217 2.222L217.5 2.228L218.5 2.239L220 2.255L220.5 2.259L223.5 2.284L226.5 2.306L229.5 2.323L232.5 2.336L235.5 2.344L238.5 2.351L241.5 2.358L244.5 2.366L247.5 2.373L250.5 2.381L253.5 2.389L256.5 2.397L259.5 2.405L262.5 2.412L265.5 2.419L268.5 2.425L271.5 2.432L274.5 2.437L277.5 2.442L280.5 2.447L283.5 2.452L286.5 2.456L288.5 2.456L289.5 2.452L292.5 2.431L295.5 2.396L298.5 2.356L301.5 2.31L304.5 2.256L307.5 2.195L310.5 2.134L313.5 2.062L315.6 2L316.5 1.972L317.1 1.952L318.6 1.9L319.5 1.867L320.1 1.844L321.6 1.784L322.5 1.746L323.1 1.72L324.6 1.651L325.5 1.609L326.1 1.58L327.6 1.503L328.5 1.452L329.1 1.415L330.6 1.311L331.5 1.239L332.1 1.188L333.6 1.052L334.1 1.006L334.5 0.968L334.6 0.959L335.1 0.913L335.6 0.868L336.1 0.822L336.6 0.776L337.1 0.73L337.5 0.692L337.6 0.683L338.1 0.636L338.6 0.589L339.1 0.54L339.6 0.488M348.7 1.92L349.5 1.955L350.1 1.978L351.6 2.024L352.5 2.046L353.1 2.059L354.6 2.084L355.5 2.097L356.1 2.105L357.6 2.123L358.5 2.132L359.1 2.138L360.6 2.151L361.5 2.158L362.1 2.163L364.5 2.179L367.5 2.195L370.5 2.211L373.5 2.227L376.5 2.245L379.5 2.262L382.5 2.278L385.5 2.292L388.5 2.303L391.5 2.313L394.5 2.324L397.5 2.335L400.5 2.345L403.5 2.355L406.5 2.365L409.5 2.374L412.5 2.383L415.5 2.391L418.5 2.398L421.5 2.404L424.5 2.409L427.5 2.413L430.5 2.415L433.5 2.417L436.5 2.418L438 2.419L439.5 2.413L442.5 2.387L445.5 2.327L448.5 2.263L451.5 2.201L454.5 2.127L457.5 2.041L460.5 1.95L461.3 1.925L462.8 1.878L463.5 1.856L464.3 1.83L465.8 1.784L466.5 1.763L467.3 1.737L468.8 1.682L469.5 1.653L470.3 1.614L471.8 1.524L472.5 1.476L473.3 1.417L474.8 1.299L475.5 1.242L476.3 1.177L477.8 1.06L478.5 1.006L479.3 0.943L479.8 0.905L480.3 0.866L480.8 0.828L481.3 0.791L481.5 0.777L481.8 0.755L482.3 0.719L482.8 0.683L483.3 0.647L483.8 0.613L484.3 0.579L484.5 0.565L484.8 0.546L485.3 0.515L485.8 0.603L486.3 0.689L486.8 0.773L487.3 0.855L487.5 0.888L487.8 0.936L488.3 1.016L488.8 1.093L489.3 1.169L489.8 1.241L490.3 1.31L490.5 1.337L490.8 1.375L491.3 1.436L491.8 1.493L492.3 1.546L492.8 1.598L493.5 1.666L494.3 1.738L495.8 1.843L496.5 1.878L497.3 1.913L498.8 1.965L499.5 1.985L500.3 2.007L501.8 2.04L502.5 2.051L503.3 2.061L504.8 2.076L505.5 2.082L506.3 2.088L507.8 2.098L508.5 2.103L511.5 2.122L514.5 2.145L517.5 2.169L520.5 2.192L523.5 2.211L526.5 2.228L529.5 2.243L532.5 2.258L535.5 2.271L538.5 2.284L541.5 2.296L544.5 2.307L547.5 2.317L550.5 2.326L553.5 2.336L556.5 2.346L559.5 2.355L562.5 2.363L565.5 2.37L568.5 2.375L571.5 2.378L574.5 2.38L577.5 2.381L580.5 2.382L581 2.382L583.5 2.377L586.5 2.367L589.5 2.35L592.5 2.324L595.5 2.294L598.5 2.259L601.5 2.223L604.5 2.168L607.5 2.094L610.5 2.012L613.5 1.928L616.5 1.857L618 1.807L619.5 1.744L621 1.673L622.5 1.602L624 1.529L625.5 1.454L627 1.375L628.5 1.296L630 1.214L631.5 1.125L633 1.024L634.5 0.915L635 0.875L635.5 0.833L636 0.788L636.5 0.74L637 0.689L637.5 0.633L638 0.572L638.5 0.505L639 0.434L639.5 0.357L640 0.275L640.5 0.189L641 0.384L641.5 0.554L642 0.698L642.5 0.817L643 0.92L643.5 1.01L644 1.09L644.5 1.162L645 1.226L645.5 1.284L646 1.338L646.5 1.388L647 1.434L647.5 1.476L648 1.515L649.5 1.612L651 1.691L652.5 1.755L654 1.801L655.5 1.833L657 1.863L658.5 1.9L660 1.94L661.5 1.977L663 2.01L664.5 2.033L667.5 2.062L670.5 2.084L673.5 2.102L676.5 2.121L679.5 2.138L682.5 2.155L685.5 2.171L688.5 2.186L691.5 2.201L694.5 2.216L697.5 2.23L700 2.241"/><path d="M74 1.658L75.3 1.743L76.5 1.807L76.8 1.822L78.3 1.885L79.5 1.927L79.8 1.937L81.3 1.981L82.5 2.011L82.8 2.019L84.3 2.053L85.5 2.078L85.8 2.084L87.3 2.111L88.5 2.131L88.8 2.135L91.5 2.172L94.5 2.203L97.5 2.228L100.5 2.249L103.5 2.268L106.5 2.288L109.5 2.305L112.5 2.322L115.5 2.336L118.5 2.349L121.5 2.361L124.5 2.374L127.5 2.387L130.5 2.399L133.5 2.41L136.5 2.419L139.5 2.426L142.5 2.434L145.5 2.442L148.5 2.451L151.5 2.459L154.5 2.468L157.5 2.472L159 2.472L160.5 2.465L163.5 2.43L166.5 2.371L169.5 2.318L172.5 2.268L173.5 2.249L175 2.219L175.5 2.208L176.5 2.185L178 2.147L178.5 2.134L179.5 2.105L181 2.059L181.5 2.043L182.5 2.01L184 1.958L184.5 1.939L185.5 1.901L187 1.836L187.5 1.813L188.5 1.764L190 1.687L190.5 1.66L191.5 1.604L192 1.576L192.5 1.546L193 1.516L193.5 1.485L194 1.453L194.5 1.42L195 1.386L195.5 1.352L196 1.316L196.5 1.28L197 1.243L197.5 1.201M204.3 1.928L204.5 1.939L205 1.967L205.5 1.993L206.5 2.035L208 2.08L208.5 2.092L209.5 2.113L211 2.141L211.5 2.149L212.5 2.165L214 2.185L214.5 2.191L215.5 2.203L217 2.221L217.5 2.226L218.5 2.237L220 2.253L220.5 2.257L223.5 2.282L226.5 2.304L229.5 2.322L232.5 2.335L235.5 2.343L238.5 2.35L241.5 2.357L244.5 2.365L247.5 2.372L250.5 2.38L253.5 2.388L256.5 2.396L259.5 2.403L262.5 2.411L265.5 2.418L268.5 2.424L271.5 2.431L274.5 2.436L277.5 2.441L280.5 2.446L283.5 2.451L286.5 2.455L288.5 2.455L289.5 2.451L292.5 2.43L295.5 2.395L298.5 2.355L301.5 2.309L304.5 2.255L307.5 2.194L310.5 2.132L313.5 2.06L315.6 1.999L316.5 1.97L317.1 1.95L318.6 1.898L319.5 1.865L320.1 1.842L321.6 1.782L322.5 1.744L323.1 1.717L324.6 1.649L325.5 1.606L326.1 1.577L327.6 1.5L328.5 1.449L329.1 1.413L330.6 1.308L331.5 1.236L332.1 1.184L333.6 1.049L334.1 1.002L334.5 0.965L334.6 0.955L335.1 0.909L335.6 0.864L336.1 0.818L336.6 0.772L337.1 0.726L337.5 0.688L337.6 0.679L338.1 0.632L338.6 0.585L339.1 0.536L339.6 0.483M348.7 1.916L349.5 1.95L350.1 1.973L351.6 2.02L352.5 2.042L353.1 2.055L354.6 2.081L355.5 2.094L356.1 2.102L357.6 2.119L358.5 2.129L359.1 2.135L360.6 2.148L361.5 2.155L362.1 2.16L364.5 2.176L367.5 2.193L370.5 2.208L373.5 2.225L376.5 2.243L379.5 2.261L382.5 2.277L385.5 2.29L388.5 2.302L391.5 2.312L394.5 2.323L397.5 2.334L400.5 2.344L403.5 2.354L406.5 2.364L409.5 2.373L412.5 2.382L415.5 2.389L418.5 2.397L421.5 2.403L424.5 2.408L427.5 2.411L430.5 2.414L433.5 2.416L436.5 2.417L438 2.418L439.5 2.412L442.5 2.386L445.5 2.325L448.5 2.261L451.5 2.198L454.5 2.124L457.5 2.038L460.5 1.946L461.3 1.921L462.8 1.873L463.5 1.851L464.3 1.825L465.8 1.779L466.5 1.757L467.3 1.731L468.8 1.676L469.5 1.646L470.3 1.607L471.8 1.517L472.5 1.468L473.3 1.409L474.8 1.29L475.5 1.232L476.3 1.167L477.8 1.049L478.5 0.995L479.3 0.932L479.8 0.893L480.3 0.854L480.8 0.816L481.3 0.779L481.5 0.764L481.8 0.742L482.3 0.705L482.8 0.669L483.3 0.634L483.8 0.599L484.3 0.564L484.5 0.551L484.8 0.531L485.3 0.5L485.8 0.589L486.3 0.676L486.8 0.76L487.3 0.843L487.5 0.876L487.8 0.924L488.3 1.004L488.8 1.083L489.3 1.159L489.8 1.232L490.3 1.301L490.5 1.328L490.8 1.367L491.3 1.428L491.8 1.485L492.3 1.538L492.8 1.59L493.5 1.659L494.3 1.731L495.8 1.837L496.5 1.873L497.3 1.908L498.8 1.96L499.5 1.98L500.3 2.002L501.8 2.035L502.5 2.047L503.3 2.056L504.8 2.072L505.5 2.078L506.3 2.084L507.8 2.095L508.5 2.099L511.5 2.118L514.5 2.141L517.5 2.166L520.5 2.189L523.5 2.208L526.5 2.225L529.5 2.241L532.5 2.255L535.5 2.269L538.5 2.282L541.5 2.294L544.5 2.305L547.5 2.315L550.5 2.324L553.5 2.333L556.5 2.343L559.5 2.353L562.5 2.361L565.5 2.368L568.5 2.373L571.5 2.376L574.5 2.378L577.5 2.379L580.5 2.38L581 2.38L583.5 2.375L586.5 2.364L589.5 2.348L592.5 2.321L595.5 2.291L598.5 2.256L601.5 2.22L604.5 2.164L607.5 2.09L610.5 2.007L613.5 1.922L616.5 1.85L618 1.801L619.5 1.737L621 1.665L622.5 1.593L624 1.52L625.5 1.444L627 1.365L628.5 1.285L630 1.202L631.5 1.112L633 1.011L634.5 0.9L635 0.86L635.5 0.818L636 0.773L636.5 0.724L637 0.672L637.5 0.616L638 0.554L638.5 0.487L639 0.415L639.5 0.338L640 0.255L640.5 0.168L641 0.365L641.5 0.536L642 0.681L642.5 0.801L643 0.905L643.5 0.996L644 1.077L644.5 1.149L645 1.213L645.5 1.272L646 1.327L646.5 1.377L647 1.423L647.5 1.466L648 1.505L649.5 1.603L651 1.683L652.5 1.747L654 1.793L655.5 1.825L657 1.856L658.5 1.893L660 1.933L661.5 1.971L663 2.003L664.5 2.027L667.5 2.056L670.5 2.078L673.5 2.097L676.5 2.116L679.5 2.133L682.5 2.15L685.5 2.166L688.5 2.182L691.5 2.197L694.5 2.212L697.5 2.226L700 2.237"/><path d="M74 1.653L75.3 1.739L76.5 1.804L76.8 1.818L78.3 1.882L79.5 1.924L79.8 1.934L81.3 1.978L82.5 2.009L82.8 2.016L84.3 2.051L85.5 2.076L85.8 2.082L87.3 2.109L88.5 2.129L88.8 2.133L91.5 2.17L94.5 2.201L97.5 2.226L100.5 2.247L103.5 2.267L106.5 2.286L109.5 2.304L112.5 2.32L115.5 2.335L118.5 2.347L121.5 2.36L124.5 2.373L127.5 2.386L130.5 2.398L133.5 2.409L136.5 2.418L139.5 2.425L142.5 2.433L145.5 2.441L148.5 2.45L151.5 2.458L154.5 2.467L157.5 2.471L159 2.471L160.5 2.464L163.5 2.429L166.5 2.37L169.5 2.317L172.5 2.266L173.5 2.247L175 2.217L175.5 2.206L176.5 2.184L178 2.146L178.5 2.132L179.5 2.103L181 2.057L181.5 2.041L182.5 2.008L184 1.956L184.5 1.937L185.5 1.898L187 1.834L187.5 1.811L188.5 1.762L190 1.684L190.5 1.657L191.5 1.602L192 1.573L192.5 1.543L193 1.513L193.5 1.482L194 1.45L194.5 1.417L195 1.383L195.5 1.349L196 1.313L196.5 1.277L197 1.24L197.5 1.198M204.3 1.923L204.5 1.935L205 1.963L205.5 1.989L206.5 2.032L208 2.076L208.5 2.089L209.5 2.11L211 2.138L211.5 2.147L212.5 2.162L214 2.182L214.5 2.189L215.5 2.201L217 2.218L217.5 2.224L218.5 2.235L220 2.251L220.5 2.256L223.5 2.281L226.5 2.303L229.5 2.321L232.5 2.334L235.5 2.342L238.5 2.349L241.5 2.356L244.5 2.363L247.5 2.371L250.5 2.379L253.5 2.387L256.5 2.395L259.5 2.402L262.5 2.41L265.5 2.417L268.5 2.423L271.5 2.43L274.5 2.435L277.5 2.44L280.5 2.445L283.5 2.45L286.5 2.454L288.5 2.454L289.5 2.45L292.5 2.429L295.5 2.394L298.5 2.354L301.5 2.307L304.5 2.254L307.5 2.192L310.5 2.13L313.5 2.058L315.6 1.997L316.5 1.968L317.1 1.948L318.6 1.896L319.5 1.863L320.1 1.84L321.6 1.78L322.5 1.741L323.1 1.715L324.6 1.646L325.5 1.604L326.1 1.575L327.6 1.497L328.5 1.446L329.1 1.41L330.6 1.305L331.5 1.232L332.1 1.181L333.6 1.045L334.1 0.998L334.5 0.961L334.6 0.952L335.1 0.906L335.6 0.86L336.1 0.814L336.6 0.768L337.1 0.721L337.5 0.684L337.6 0.674L338.1 0.627L338.6 0.58L339.1 0.531L339.6 0.478M348.7 1.91L349.5 1.945L350.1 1.969L351.6 2.016L352.5 2.038L353.1 2.051L354.6 2.077L355.5 2.09L356.1 2.098L357.6 2.116L358.5 2.125L359.1 2.131L360.6 2.145L361.5 2.152L362.1 2.157L364.5 2.173L367.5 2.19L370.5 2.206L373.5 2.223L376.5 2.241L379.5 2.259L382.5 2.275L385.5 2.289L388.5 2.3L391.5 2.311L394.5 2.322L397.5 2.332L400.5 2.343L403.5 2.353L406.5 2.363L409.5 2.372L412.5 2.381L415.5 2.388L418.5 2.395L421.5 2.402L424.5 2.407L427.5 2.41L430.5 2.413L433.5 2.415L436.5 2.416L438 2.416L439.5 2.41L442.5 2.384L445.5 2.324L448.5 2.259L451.5 2.196L454.5 2.121L457.5 2.034L460.5 1.941L461.3 1.916L462.8 1.868L463.5 1.845L464.3 1.819L465.8 1.773L466.5 1.751L467.3 1.725L468.8 1.669L469.5 1.639L470.3 1.599L471.8 1.509L472.5 1.46L473.3 1.4L474.8 1.28L475.5 1.222L476.3 1.156L477.8 1.038L478.5 0.983L479.3 0.919L479.8 0.88L480.3 0.841L480.8 0.803L481.3 0.765L481.5 0.75L481.8 0.728L482.3 0.691L482.8 0.655L483.3 0.619L483.8 0.583L484.3 0.549L484.5 0.535L484.8 0.516L485.3 0.484L485.8 0.574L486.3 0.661L486.8 0.746L487.3 0.83L487.5 0.862L487.8 0.911L488.3 0.992L488.8 1.071L489.3 1.148L489.8 1.221L490.3 1.291L490.5 1.318L490.8 1.357L491.3 1.419L491.8 1.476L492.3 1.53L492.8 1.582L493.5 1.652L494.3 1.724L495.8 1.831L496.5 1.867L497.3 1.902L498.8 1.955L499.5 1.975L500.3 1.997L501.8 2.031L502.5 2.042L503.3 2.052L504.8 2.067L505.5 2.074L506.3 2.08L507.8 2.091L508.5 2.095L511.5 2.115L514.5 2.138L517.5 2.162L520.5 2.186L523.5 2.205L526.5 2.222L529.5 2.238L532.5 2.252L535.5 2.266L538.5 2.279L541.5 2.291L544.5 2.302L547.5 2.312L550.5 2.321L553.5 2.331L556.5 2.341L559.5 2.351L562.5 2.358L565.5 2.365L568.5 2.371L571.5 2.374L574.5 2.375L577.5 2.377L580.5 2.377L581 2.377L583.5 2.373L586.5 2.362L589.5 2.345L592.5 2.318L595.5 2.288L598.5 2.253L601.5 2.216L604.5 2.16L607.5 2.085L610.5 2.001L613.5 1.916L616.5 1.844L618 1.793L619.5 1.729L621 1.656L622.5 1.584L624 1.511L625.5 1.434L627 1.354L628.5 1.273L630 1.19L631.5 1.099L633 0.997L634.5 0.885L635 0.844L635.5 0.802L636 0.756L636.5 0.707L637 0.655L637.5 0.598L638 0.536L638.5 0.468L639 0.395L639.5 0.317L640 0.234L640.5 0.146L641 0.345L641.5 0.517L642 0.664L642.5 0.785L643 0.889L643.5 0.981L644 1.063L644.5 1.135L645 1.2L645.5 1.26L646 1.315L646.5 1.365L647 1.412L647.5 1.455L648 1.494L649.5 1.593L651 1.674L652.5 1.738L654 1.785L655.5 1.817L657 1.848L658.5 1.886L660 1.926L661.5 1.964L663 1.997L664.5 2.021L667.5 2.05L670.5 2.072L673.5 2.091L676.5 2.11L679.5 2.128L682.5 2.145L685.5 2.161L688.5 2.177L691.5 2.192L694.5 2.207L697.5 2.221L700 2.233"/><path d="M74 1.649L75.3 1.735L76.5 1.8L76.8 1.814L78.3 1.878L79.5 1.921L79.8 1.931L81.3 1.975L82.5 2.006L82.8 2.013L84.3 2.048L85.5 2.073L85.8 2.079L87.3 2.107L88.5 2.127L88.8 2.131L91.5 2.168L94.5 2.199L97.5 2.224L100.5 2.246L103.5 2.266L106.5 2.285L109.5 2.303L112.5 2.319L115.5 2.333L118.5 2.346L121.5 2.359L124.5 2.372L127.5 2.385L130.5 2.397L133.5 2.408L136.5 2.416L139.5 2.424L142.5 2.432L145.5 2.44L148.5 2.449L151.5 2.457L154.5 2.466L157.5 2.47L159 2.47L160.5 2.463L163.5 2.428L166.5 2.368L169.5 2.315L172.5 2.265L173.5 2.246L175 2.216L175.5 2.205L176.5 2.182L178 2.144L178.5 2.13L179.5 2.101L181 2.055L181.5 2.039L182.5 2.006L184 1.954L184.5 1.935L185.5 1.896L187 1.832L187.5 1.809L188.5 1.76L190 1.682L190.5 1.655L191.5 1.599L192 1.57L192.5 1.54L193 1.51L193.5 1.479L194 1.447L194.5 1.414L195 1.38L195.5 1.345L196 1.31L196.5 1.273L197 1.236L197.5 1.194M204.3 1.919L204.5 1.931L205 1.959L205.5 1.985L206.5 2.028L208 2.073L208.5 2.085L209.5 2.107L211 2.135L211.5 2.144L212.5 2.159L214 2.18L214.5 2.186L215.5 2.198L217 2.216L217.5 2.222L218.5 2.233L220 2.249L220.5 2.254L223.5 2.279L226.5 2.301L229.5 2.319L232.5 2.332L235.5 2.341L238.5 2.347L241.5 2.354L244.5 2.362L247.5 2.37L250.5 2.378L253.5 2.385L256.5 2.393L259.5 2.401L262.5 2.409L265.5 2.416L268.5 2.422L271.5 2.428L274.5 2.434L277.5 2.439L280.5 2.444L283.5 2.449L286.5 2.453L288.5 2.453L289.5 2.449L292.5 2.428L295.5 2.393L298.5 2.352L301.5 2.306L304.5 2.252L307.5 2.191L310.5 2.129L313.5 2.056L315.6 1.995L316.5 1.966L317.1 1.946L318.6 1.894L319.5 1.861L320.1 1.838L321.6 1.777L322.5 1.739L323.1 1.712L324.6 1.644L325.5 1.601L326.1 1.572L327.6 1.494L328.5 1.443L329.1 1.406L330.6 1.301L331.5 1.229L332.1 1.177L333.6 1.041L334.1 0.994L334.5 0.957L334.6 0.947L335.1 0.901L335.6 0.856L336.1 0.81L336.6 0.763L337.1 0.717L337.5 0.679L337.6 0.67L338.1 0.623L338.6 0.575L339.1 0.526L339.6 0.472M348.7 1.905L349.5 1.94L350.1 1.964L351.6 2.011L352.5 2.034L353.1 2.047L354.6 2.073L355.5 2.086L356.1 2.094L357.6 2.112L358.5 2.122L359.1 2.128L360.6 2.141L361.5 2.149L362.1 2.154L364.5 2.17L367.5 2.188L370.5 2.204L373.5 2.221L376.5 2.239L379.5 2.257L382.5 2.273L385.5 2.287L388.5 2.299L391.5 2.309L394.5 2.32L397.5 2.331L400.5 2.342L403.5 2.352L406.5 2.361L409.5 2.371L412.5 2.379L415.5 2.387L418.5 2.394L421.5 2.401L424.5 2.405L427.5 2.409L430.5 2.412L433.5 2.413L436.5 2.415L438 2.415L439.5 2.409L442.5 2.383L445.5 2.322L448.5 2.256L451.5 2.193L454.5 2.118L457.5 2.03L460.5 1.936L461.3 1.911L462.8 1.863L463.5 1.839L464.3 1.813L465.8 1.766L466.5 1.744L467.3 1.718L468.8 1.662L469.5 1.631L470.3 1.591L471.8 1.5L472.5 1.451L473.3 1.391L474.8 1.269L475.5 1.211L476.3 1.145L477.8 1.026L478.5 0.97L479.3 0.906L479.8 0.866L480.3 0.827L480.8 0.788L481.3 0.75L481.5 0.735L481.8 0.713L482.3 0.676L482.8 0.639L483.3 0.603L483.8 0.567L484.3 0.532L484.5 0.518L484.8 0.499L485.3 0.467L485.8 0.557L486.3 0.645L486.8 0.731L487.3 0.815L487.5 0.848L487.8 0.898L488.3 0.979L488.8 1.059L489.3 1.136L489.8 1.21L490.3 1.28L490.5 1.307L490.8 1.347L491.3 1.409L491.8 1.467L492.3 1.521L492.8 1.574L493.5 1.644L494.3 1.717L495.8 1.824L496.5 1.861L497.3 1.896L498.8 1.949L499.5 1.97L500.3 1.992L501.8 2.026L502.5 2.037L503.3 2.047L504.8 2.063L505.5 2.069L506.3 2.075L507.8 2.086L508.5 2.091L511.5 2.11L514.5 2.134L517.5 2.159L520.5 2.182L523.5 2.202L526.5 2.219L529.5 2.235L532.5 2.249L535.5 2.263L538.5 2.276L541.5 2.288L544.5 2.299L547.5 2.309L550.5 2.318L553.5 2.328L556.5 2.338L559.5 2.348L562.5 2.356L565.5 2.363L568.5 2.368L571.5 2.371L574.5 2.373L577.5 2.374L580.5 2.375L581 2.375L583.5 2.37L586.5 2.359L589.5 2.342L592.5 2.315L595.5 2.284L598.5 2.249L601.5 2.212L604.5 2.155L607.5 2.08L610.5 1.996L613.5 1.909L616.5 1.836L618 1.786L619.5 1.72L621 1.647L622.5 1.575L624 1.5L625.5 1.423L627 1.342L628.5 1.26L630 1.176L631.5 1.085L633 0.981L634.5 0.869L635 0.828L635.5 0.784L636 0.738L636.5 0.689L637 0.636L637.5 0.579L638 0.516L638.5 0.448L639 0.374L639.5 0.295L640 0.211L640.5 0.122L641 0.323L641.5 0.497L642 0.645L642.5 0.767L643 0.872L643.5 0.965L644 1.047L644.5 1.12L645 1.186L645.5 1.246L646 1.302L646.5 1.353L647 1.4L647.5 1.443L648 1.483L649.5 1.582L651 1.664L652.5 1.729L654 1.776L655.5 1.809L657 1.84L658.5 1.878L660 1.919L661.5 1.957L663 1.99L664.5 2.014L667.5 2.044L670.5 2.066L673.5 2.085L676.5 2.105L679.5 2.123L682.5 2.139L685.5 2.156L688.5 2.172L691.5 2.187L694.5 2.202L697.5 2.217L700 2.228"/><path d="M74 1.644L75.3 1.73L76.5 1.796L76.8 1.81L78.3 1.875L79.5 1.918L79.8 1.927L81.3 1.972L82.5 2.003L82.8 2.01L84.3 2.045L85.5 2.071L85.8 2.077L87.3 2.104L88.5 2.124L88.8 2.129L91.5 2.166L94.5 2.198L97.5 2.223L100.5 2.244L103.5 2.264L106.5 2.283L109.5 2.301L112.5 2.317L115.5 2.332L118.5 2.345L121.5 2.357L124.5 2.37L127.5 2.383L130.5 2.396L133.5 2.406L136.5 2.415L139.5 2.423L142.5 2.431L145.5 2.439L148.5 2.447L151.5 2.456L154.5 2.465L157.5 2.469L159 2.469L160.5 2.462L163.5 2.426L166.5 2.367L169.5 2.314L172.5 2.263L173.5 2.244L175 2.214L175.5 2.203L176.5 2.18L178 2.142L178.5 2.128L179.5 2.099L181 2.053L181.5 2.037L182.5 2.004L184 1.951L184.5 1.933L185.5 1.894L187 1.829L187.5 1.806L188.5 1.757L190 1.679L190.5 1.652L191.5 1.596L192 1.567L192.5 1.537L193 1.507L193.5 1.476L194 1.443L194.5 1.41L195 1.377L195.5 1.342L196 1.306L196.5 1.27L197 1.232L197.5 1.189M204.3 1.914L204.5 1.926L205 1.955L205.5 1.981L206.5 2.024L208 2.069L208.5 2.082L209.5 2.104L211 2.132L211.5 2.141L212.5 2.157L214 2.177L214.5 2.184L215.5 2.196L217 2.214L217.5 2.22L218.5 2.231L220 2.247L220.5 2.252L223.5 2.277L226.5 2.299L229.5 2.318L232.5 2.331L235.5 2.339L238.5 2.346L241.5 2.353L244.5 2.361L247.5 2.368L250.5 2.376L253.5 2.384L256.5 2.392L259.5 2.4L262.5 2.407L265.5 2.414L268.5 2.421L271.5 2.427L274.5 2.433L277.5 2.438L280.5 2.442L283.5 2.447L286.5 2.452L288.5 2.452L289.5 2.448L292.5 2.426L295.5 2.392L298.5 2.351L301.5 2.305L304.5 2.251L307.5 2.189L310.5 2.127L313.5 2.054L315.6 1.992L316.5 1.963L317.1 1.943L318.6 1.891L319.5 1.858L320.1 1.835L321.6 1.775L322.5 1.736L323.1 1.71L324.6 1.641L325.5 1.598L326.1 1.569L327.6 1.491L328.5 1.44L329.1 1.403L330.6 1.298L331.5 1.225L332.1 1.173L333.6 1.037L334.1 0.99L334.5 0.952L334.6 0.943L335.1 0.897L335.6 0.851L336.1 0.805L336.6 0.758L337.1 0.712L337.5 0.674L337.6 0.665L338.1 0.617L338.6 0.57L339.1 0.521L339.6 0.466M348.7 1.899L349.5 1.935L350.1 1.958L351.6 2.006L352.5 2.029L353.1 2.042L354.6 2.068L355.5 2.082L356.1 2.09L357.6 2.108L358.5 2.118L359.1 2.124L360.6 2.138L361.5 2.145L362.1 2.15L364.5 2.167L367.5 2.185L370.5 2.201L373.5 2.218L376.5 2.237L379.5 2.255L382.5 2.272L385.5 2.286L388.5 2.297L391.5 2.308L394.5 2.319L397.5 2.33L400.5 2.34L403.5 2.35L406.5 2.36L409.5 2.369L412.5 2.378L415.5 2.386L418.5 2.393L421.5 2.399L424.5 2.404L427.5 2.408L430.5 2.41L433.5 2.412L436.5 2.413L438 2.413L439.5 2.407L442.5 2.381L445.5 2.32L448.5 2.254L451.5 2.19L454.5 2.114L457.5 2.025L460.5 1.931L461.3 1.905L462.8 1.856L463.5 1.833L464.3 1.807L465.8 1.759L466.5 1.737L467.3 1.71L468.8 1.654L469.5 1.623L470.3 1.583L471.8 1.491L472.5 1.441L473.3 1.38L474.8 1.258L475.5 1.199L476.3 1.132L477.8 1.012L478.5 0.956L479.3 0.891L479.8 0.851L480.3 0.812L480.8 0.773L481.3 0.734L481.5 0.719L481.8 0.696L482.3 0.659L482.8 0.622L483.3 0.585L483.8 0.549L484.3 0.514L484.5 0.5L484.8 0.48L485.3 0.448L485.8 0.54L486.3 0.628L486.8 0.715L487.3 0.8L487.5 0.833L487.8 0.883L488.3 0.965L488.8 1.045L489.3 1.123L489.8 1.197L490.3 1.268L490.5 1.296L490.8 1.336L491.3 1.398L491.8 1.457L492.3 1.511L492.8 1.565L493.5 1.635L494.3 1.709L495.8 1.817L496.5 1.854L497.3 1.889L498.8 1.943L499.5 1.964L500.3 1.986L501.8 2.02L502.5 2.032L503.3 2.042L504.8 2.058L505.5 2.064L506.3 2.07L507.8 2.081L508.5 2.086L511.5 2.106L514.5 2.13L517.5 2.155L520.5 2.178L523.5 2.198L526.5 2.215L529.5 2.231L532.5 2.246L535.5 2.259L538.5 2.272L541.5 2.285L544.5 2.296L547.5 2.306L550.5 2.315L553.5 2.325L556.5 2.335L559.5 2.345L562.5 2.353L565.5 2.36L568.5 2.365L571.5 2.368L574.5 2.37L577.5 2.371L580.5 2.372L581 2.372L583.5 2.367L586.5 2.356L589.5 2.339L592.5 2.312L595.5 2.281L598.5 2.245L601.5 2.208L604.5 2.151L607.5 2.074L610.5 1.989L613.5 1.902L616.5 1.828L618 1.777L619.5 1.712L621 1.638L622.5 1.564L624 1.489L625.5 1.411L627 1.33L628.5 1.247L630 1.162L631.5 1.069L633 0.965L634.5 0.851L635 0.81L635.5 0.766L636 0.719L636.5 0.67L637 0.616L637.5 0.558L638 0.495L638.5 0.426L639 0.351L639.5 0.272L640 0.187L640.5 0.097L641 0.3L641.5 0.476L642 0.625L642.5 0.748L643 0.854L643.5 0.948L644 1.031L644.5 1.105L645 1.171L645.5 1.232L646 1.288L646.5 1.339L647 1.387L647.5 1.43L648 1.47L649.5 1.571L651 1.653L652.5 1.719L654 1.767L655.5 1.8L657 1.831L658.5 1.869L660 1.911L661.5 1.95L663 1.983L664.5 2.007L667.5 2.037L670.5 2.06L673.5 2.079L676.5 2.098L679.5 2.117L682.5 2.134L685.5 2.15L688.5 2.166L691.5 2.182L694.5 2.197L697.5 2.211L700 2.223"/><path d="M74 1.639L75.3 1.725L76.5 1.791L76.8 1.806L78.3 1.871L79.5 1.914L79.8 1.924L81.3 1.968L82.5 2L82.8 2.007L84.3 2.042L85.5 2.068L85.8 2.074L87.3 2.102L88.5 2.122L88.8 2.127L91.5 2.164L94.5 2.195L97.5 2.221L100.5 2.242L103.5 2.262L106.5 2.282L109.5 2.3L112.5 2.316L115.5 2.33L118.5 2.343L121.5 2.356L124.5 2.369L127.5 2.382L130.5 2.394L133.5 2.405L136.5 2.414L139.5 2.422L142.5 2.429L145.5 2.438L148.5 2.446L151.5 2.454L154.5 2.463L157.5 2.467L159 2.468L160.5 2.461L163.5 2.425L166.5 2.366L169.5 2.312L172.5 2.261L173.5 2.242L175 2.212L175.5 2.201L176.5 2.178L178 2.14L178.5 2.126L179.5 2.097L181 2.051L181.5 2.035L182.5 2.002L184 1.949L184.5 1.93L185.5 1.891L187 1.827L187.5 1.803L188.5 1.754L190 1.676L190.5 1.649L191.5 1.593L192 1.564L192.5 1.534L193 1.503L193.5 1.472L194 1.44L194.5 1.407L195 1.373L195.5 1.338L196 1.302L196.5 1.266L197 1.228L197.5 1.185M204.3 1.909L204.5 1.921L205 1.95L205.5 1.976L206.5 2.02L208 2.066L208.5 2.078L209.5 2.1L211 2.129L211.5 2.138L212.5 2.153L214 2.174L214.5 2.181L215.5 2.193L217 2.211L217.5 2.217L218.5 2.229L220 2.245L220.5 2.249L223.5 2.275L226.5 2.298L229.5 2.316L232.5 2.329L235.5 2.338L238.5 2.345L241.5 2.352L244.5 2.359L247.5 2.367L250.5 2.375L253.5 2.383L256.5 2.391L259.5 2.398L262.5 2.406L265.5 2.413L268.5 2.42L271.5 2.426L274.5 2.431L277.5 2.436L280.5 2.441L283.5 2.446L286.5 2.45L288.5 2.45L289.5 2.446L292.5 2.425L295.5 2.39L298.5 2.35L301.5 2.303L304.5 2.249L307.5 2.187L310.5 2.125L313.5 2.052L315.6 1.99L316.5 1.961L317.1 1.941L318.6 1.889L319.5 1.855L320.1 1.832L321.6 1.772L322.5 1.733L323.1 1.707L324.6 1.637L325.5 1.595L326.1 1.565L327.6 1.487L328.5 1.436L329.1 1.399L330.6 1.294L331.5 1.221L332.1 1.169L333.6 1.032L334.1 0.985L334.5 0.948L334.6 0.938L335.1 0.892L335.6 0.846L336.1 0.8L336.6 0.753L337.1 0.706L337.5 0.669L337.6 0.659L338.1 0.612L338.6 0.564L339.1 0.515L339.6 0.459M348.7 1.893L349.5 1.929L350.1 1.952L351.6 2.001L352.5 2.024L353.1 2.037L354.6 2.064L355.5 2.077L356.1 2.086L357.6 2.104L358.5 2.114L359.1 2.12L360.6 2.134L361.5 2.142L362.1 2.147L364.5 2.164L367.5 2.182L370.5 2.198L373.5 2.216L376.5 2.235L379.5 2.253L382.5 2.27L385.5 2.284L388.5 2.296L391.5 2.306L394.5 2.317L397.5 2.328L400.5 2.339L403.5 2.349L406.5 2.358L409.5 2.368L412.5 2.377L415.5 2.384L418.5 2.392L421.5 2.398L424.5 2.403L427.5 2.406L430.5 2.409L433.5 2.41L436.5 2.411L438 2.412L439.5 2.405L442.5 2.379L445.5 2.317L448.5 2.251L451.5 2.186L454.5 2.11L457.5 2.02L460.5 1.925L461.3 1.899L462.8 1.85L463.5 1.826L464.3 1.799L465.8 1.751L466.5 1.729L467.3 1.702L468.8 1.645L469.5 1.614L470.3 1.573L471.8 1.48L472.5 1.43L473.3 1.369L474.8 1.246L475.5 1.186L476.3 1.119L477.8 0.997L478.5 0.94L479.3 0.875L479.8 0.835L480.3 0.795L480.8 0.755L481.3 0.717L481.5 0.701L481.8 0.678L482.3 0.64L482.8 0.603L483.3 0.566L483.8 0.53L484.3 0.494L484.5 0.48L484.8 0.46L485.3 0.428L485.8 0.52L486.3 0.609L486.8 0.697L487.3 0.782L487.5 0.816L487.8 0.866L488.3 0.949L488.8 1.03L489.3 1.109L489.8 1.184L490.3 1.256L490.5 1.283L490.8 1.323L491.3 1.387L491.8 1.446L492.3 1.501L492.8 1.554L493.5 1.626L494.3 1.7L495.8 1.809L496.5 1.846L497.3 1.882L498.8 1.936L499.5 1.957L500.3 1.979L501.8 2.014L502.5 2.026L503.3 2.036L504.8 2.052L505.5 2.058L506.3 2.065L507.8 2.076L508.5 2.081L511.5 2.101L514.5 2.125L517.5 2.15L520.5 2.174L523.5 2.194L526.5 2.211L529.5 2.227L532.5 2.242L535.5 2.256L538.5 2.269L541.5 2.281L544.5 2.292L547.5 2.302L550.5 2.312L553.5 2.321L556.5 2.332L559.5 2.342L562.5 2.349L565.5 2.356L568.5 2.362L571.5 2.365L574.5 2.367L577.5 2.368L580.5 2.368L581 2.368L583.5 2.364L586.5 2.353L589.5 2.335L592.5 2.308L595.5 2.276L598.5 2.24L601.5 2.203L604.5 2.145L607.5 2.068L610.5 1.982L613.5 1.894L616.5 1.82L618 1.768L619.5 1.702L621 1.627L622.5 1.553L624 1.477L625.5 1.398L627 1.316L628.5 1.232L630 1.146L631.5 1.052L633 0.947L634.5 0.832L635 0.79L635.5 0.746L636 0.699L636.5 0.649L637 0.595L637.5 0.536L638 0.472L638.5 0.402L639 0.327L639.5 0.246L640 0.16L640.5 0.07L641 0.274L641.5 0.452L642 0.603L642.5 0.727L643 0.835L643.5 0.929L644 1.013L644.5 1.088L645 1.155L645.5 1.216L646 1.273L646.5 1.325L647 1.373L647.5 1.417L648 1.457L649.5 1.559L651 1.642L652.5 1.708L654 1.756L655.5 1.79L657 1.822L658.5 1.86L660 1.902L661.5 1.942L663 1.975L664.5 1.999L667.5 2.03L670.5 2.053L673.5 2.072L676.5 2.092L679.5 2.11L682.5 2.127L685.5 2.144L688.5 2.16L691.5 2.176L694.5 2.191L697.5 2.206L700 2.218"/><path d="M74 1.633L75.3 1.72L76.5 1.786L76.8 1.801L78.3 1.866L79.5 1.91L79.8 1.92L81.3 1.965L82.5 1.996L82.8 2.004L84.3 2.039L85.5 2.065L85.8 2.071L87.3 2.099L88.5 2.119L88.8 2.124L91.5 2.161L94.5 2.193L97.5 2.219L100.5 2.24L103.5 2.26L106.5 2.28L109.5 2.298L112.5 2.314L115.5 2.329L118.5 2.342L121.5 2.354L124.5 2.367L127.5 2.381L130.5 2.393L133.5 2.404L136.5 2.412L139.5 2.42L142.5 2.428L145.5 2.436L148.5 2.445L151.5 2.453L154.5 2.462L157.5 2.466L159 2.466L160.5 2.46L163.5 2.424L166.5 2.364L169.5 2.311L172.5 2.26L173.5 2.24L175 2.21L175.5 2.199L176.5 2.176L178 2.138L178.5 2.124L179.5 2.095L181 2.048L181.5 2.032L182.5 1.999L184 1.946L184.5 1.928L185.5 1.888L187 1.824L187.5 1.8L188.5 1.751L190 1.672L190.5 1.645L191.5 1.589L192 1.56L192.5 1.53L193 1.499L193.5 1.468L194 1.436L194.5 1.403L195 1.369L195.5 1.334L196 1.298L196.5 1.261L197 1.223L197.5 1.18M204.3 1.903L204.5 1.916L205 1.945L205.5 1.971L206.5 2.015L208 2.061L208.5 2.074L209.5 2.096L211 2.125L211.5 2.134L212.5 2.15L214 2.171L214.5 2.178L215.5 2.19L217 2.209L217.5 2.215L218.5 2.226L220 2.242L220.5 2.247L223.5 2.273L226.5 2.296L229.5 2.314L232.5 2.328L235.5 2.336L238.5 2.343L241.5 2.35L244.5 2.358L247.5 2.365L250.5 2.373L253.5 2.381L256.5 2.389L259.5 2.397L262.5 2.404L265.5 2.411L268.5 2.418L271.5 2.424L274.5 2.43L277.5 2.435L280.5 2.44L283.5 2.445L286.5 2.449L288.5 2.449L289.5 2.445L292.5 2.424L295.5 2.389L298.5 2.348L301.5 2.301L304.5 2.247L307.5 2.185L310.5 2.123L313.5 2.05L315.6 1.988L316.5 1.958L317.1 1.938L318.6 1.886L319.5 1.852L320.1 1.829L321.6 1.769L322.5 1.73L323.1 1.703L324.6 1.634L325.5 1.591L326.1 1.562L327.6 1.484L328.5 1.432L329.1 1.395L330.6 1.289L331.5 1.216L332.1 1.164L333.6 1.027L334.1 0.98L334.5 0.942L334.6 0.933L335.1 0.886L335.6 0.84L336.1 0.794L336.6 0.747L337.1 0.7L337.5 0.663L337.6 0.653L338.1 0.606L338.6 0.558L339.1 0.508L339.6 0.452M348.7 1.886L349.5 1.922L350.1 1.946L351.6 1.995L352.5 2.018L353.1 2.032L354.6 2.059L355.5 2.072L356.1 2.081L357.6 2.1L358.5 2.11L359.1 2.116L360.6 2.13L361.5 2.138L362.1 2.143L364.5 2.16L367.5 2.178L370.5 2.195L373.5 2.213L376.5 2.232L379.5 2.251L382.5 2.268L385.5 2.282L388.5 2.294L391.5 2.305L394.5 2.315L397.5 2.326L400.5 2.337L403.5 2.347L406.5 2.357L409.5 2.366L412.5 2.375L415.5 2.383L418.5 2.39L421.5 2.396L424.5 2.401L427.5 2.405L430.5 2.407L433.5 2.409L436.5 2.41L438 2.41L439.5 2.404L442.5 2.377L445.5 2.315L448.5 2.248L451.5 2.183L454.5 2.106L457.5 2.015L460.5 1.919L461.3 1.892L462.8 1.842L463.5 1.818L464.3 1.791L465.8 1.743L466.5 1.72L467.3 1.693L468.8 1.635L469.5 1.604L470.3 1.563L471.8 1.469L472.5 1.419L473.3 1.357L474.8 1.232L475.5 1.172L476.3 1.104L477.8 0.981L478.5 0.923L479.3 0.858L479.8 0.817L480.3 0.776L480.8 0.736L481.3 0.697L481.5 0.682L481.8 0.658L482.3 0.62L482.8 0.582L483.3 0.545L483.8 0.508L484.3 0.472L484.5 0.457L484.8 0.438L485.3 0.405L485.8 0.498L486.3 0.589L486.8 0.677L487.3 0.763L487.5 0.797L487.8 0.848L488.3 0.932L488.8 1.013L489.3 1.093L489.8 1.169L490.3 1.241L490.5 1.269L490.8 1.309L491.3 1.374L491.8 1.433L492.3 1.489L492.8 1.543L493.5 1.615L494.3 1.69L495.8 1.8L496.5 1.838L497.3 1.874L498.8 1.928L499.5 1.95L500.3 1.972L501.8 2.007L502.5 2.019L503.3 2.029L504.8 2.046L505.5 2.052L506.3 2.059L507.8 2.07L508.5 2.075L511.5 2.095L514.5 2.119L517.5 2.145L520.5 2.169L523.5 2.189L526.5 2.207L529.5 2.223L532.5 2.237L535.5 2.251L538.5 2.264L541.5 2.277L544.5 2.288L547.5 2.298L550.5 2.308L553.5 2.317L556.5 2.328L559.5 2.338L562.5 2.346L565.5 2.353L568.5 2.358L571.5 2.361L574.5 2.363L577.5 2.364L580.5 2.365L581 2.365L583.5 2.36L586.5 2.349L589.5 2.331L592.5 2.303L595.5 2.272L598.5 2.235L601.5 2.197L604.5 2.139L607.5 2.061L610.5 1.974L613.5 1.886L616.5 1.81L618 1.758L619.5 1.691L621 1.616L622.5 1.541L624 1.464L625.5 1.384L627 1.301L628.5 1.216L630 1.129L631.5 1.034L633 0.927L634.5 0.811L635 0.768L635.5 0.724L636 0.676L636.5 0.625L637 0.571L637.5 0.511L638 0.446L638.5 0.376L639 0.3L639.5 0.218L640 0.131L640.5 0.04L641 0.247L641.5 0.426L642 0.579L642.5 0.705L643 0.813L643.5 0.909L644 0.994L644.5 1.069L645 1.137L645.5 1.199L646 1.256L646.5 1.309L647 1.357L647.5 1.402L648 1.443L649.5 1.546L651 1.63L652.5 1.697L654 1.745L655.5 1.779L657 1.811L658.5 1.85L660 1.892L661.5 1.932L663 1.966L664.5 1.991L667.5 2.022L670.5 2.045L673.5 2.064L676.5 2.084L679.5 2.103L682.5 2.12L685.5 2.137L688.5 2.154L691.5 2.17L694.5 2.185L697.5 2.2L700 2.212"/><path d="M74 1.627L75.3 1.714L76.5 1.781L76.8 1.796L78.3 1.862L79.5 1.905L79.8 1.915L81.3 1.961L82.5 1.993L82.8 2L84.3 2.036L85.5 2.062L85.8 2.068L87.3 2.096L88.5 2.116L88.8 2.121L91.5 2.158L94.5 2.191L97.5 2.216L100.5 2.238L103.5 2.258L106.5 2.278L109.5 2.296L112.5 2.312L115.5 2.327L118.5 2.34L121.5 2.352L124.5 2.365L127.5 2.379L130.5 2.391L133.5 2.402L136.5 2.411L139.5 2.419L142.5 2.426L145.5 2.435L148.5 2.443L151.5 2.451L154.5 2.461L157.5 2.465L159 2.465L160.5 2.458L163.5 2.422L166.5 2.362L169.5 2.309L172.5 2.257L173.5 2.238L175 2.208L175.5 2.197L176.5 2.174L178 2.135L178.5 2.122L179.5 2.092L181 2.046L181.5 2.03L182.5 1.996L184 1.943L184.5 1.925L185.5 1.885L187 1.82L187.5 1.797L188.5 1.747L190 1.668L190.5 1.641L191.5 1.585L192 1.556L192.5 1.526L193 1.495L193.5 1.464L194 1.431L194.5 1.398L195 1.364L195.5 1.329L196 1.293L196.5 1.256L197 1.218L197.5 1.174M204.3 1.897L204.5 1.909L205 1.939L205.5 1.966L206.5 2.01L208 2.057L208.5 2.069L209.5 2.092L211 2.121L211.5 2.13L212.5 2.146L214 2.168L214.5 2.174L215.5 2.187L217 2.206L217.5 2.212L218.5 2.223L220 2.239L220.5 2.244L223.5 2.27L226.5 2.293L229.5 2.312L232.5 2.326L235.5 2.334L238.5 2.341L241.5 2.348L244.5 2.356L247.5 2.364L250.5 2.371L253.5 2.379L256.5 2.387L259.5 2.395L262.5 2.403L265.5 2.41L268.5 2.417L271.5 2.423L274.5 2.428L277.5 2.433L280.5 2.438L283.5 2.443L286.5 2.447L288.5 2.447L289.5 2.443L292.5 2.422L295.5 2.387L298.5 2.346L301.5 2.299L304.5 2.245L307.5 2.183L310.5 2.12L313.5 2.047L315.6 1.985L316.5 1.955L317.1 1.935L318.6 1.883L319.5 1.849L320.1 1.826L321.6 1.765L322.5 1.726L323.1 1.7L324.6 1.63L325.5 1.587L326.1 1.557L327.6 1.479L328.5 1.428L329.1 1.39L330.6 1.284L331.5 1.211L332.1 1.159L333.6 1.021L334.1 0.974L334.5 0.936L334.6 0.927L335.1 0.88L335.6 0.834L336.1 0.788L336.6 0.741L337.1 0.694L337.5 0.656L337.6 0.646L338.1 0.599L338.6 0.551L339.1 0.501L339.6 0.444M348.7 1.878L349.5 1.915L350.1 1.939L351.6 1.989L352.5 2.012L353.1 2.026L354.6 2.053L355.5 2.067L356.1 2.076L357.6 2.095L358.5 2.105L359.1 2.111L360.6 2.125L361.5 2.133L362.1 2.138L364.5 2.156L367.5 2.174L370.5 2.191L373.5 2.21L376.5 2.229L379.5 2.248L382.5 2.265L385.5 2.28L388.5 2.292L391.5 2.303L394.5 2.314L397.5 2.324L400.5 2.335L403.5 2.345L406.5 2.355L409.5 2.365L412.5 2.373L415.5 2.381L418.5 2.388L421.5 2.395L424.5 2.4L427.5 2.403L430.5 2.405L433.5 2.407L436.5 2.408L438 2.408L439.5 2.401L442.5 2.375L445.5 2.312L448.5 2.245L451.5 2.179L454.5 2.101L457.5 2.009L460.5 1.911L461.3 1.885L462.8 1.834L463.5 1.81L464.3 1.782L465.8 1.733L466.5 1.71L467.3 1.683L468.8 1.624L469.5 1.593L470.3 1.551L471.8 1.456L472.5 1.405L473.3 1.343L474.8 1.216L475.5 1.156L476.3 1.087L477.8 0.962L478.5 0.904L479.3 0.838L479.8 0.796L480.3 0.755L480.8 0.715L481.3 0.675L481.5 0.659L481.8 0.636L482.3 0.597L482.8 0.559L483.3 0.521L483.8 0.483L484.3 0.447L484.5 0.432L484.8 0.412L485.3 0.379L485.8 0.473L486.3 0.565L486.8 0.654L487.3 0.742L487.5 0.776L487.8 0.827L488.3 0.912L488.8 0.995L489.3 1.075L489.8 1.152L490.3 1.225L490.5 1.253L490.8 1.294L491.3 1.359L491.8 1.419L492.3 1.475L492.8 1.53L493.5 1.603L494.3 1.678L495.8 1.79L496.5 1.828L497.3 1.865L498.8 1.92L499.5 1.941L500.3 1.964L501.8 1.999L502.5 2.011L503.3 2.022L504.8 2.038L505.5 2.045L506.3 2.052L507.8 2.063L508.5 2.068L511.5 2.089L514.5 2.113L517.5 2.139L520.5 2.164L523.5 2.184L526.5 2.201L529.5 2.217L532.5 2.232L535.5 2.246L538.5 2.259L541.5 2.272L544.5 2.283L547.5 2.294L550.5 2.303L553.5 2.313L556.5 2.323L559.5 2.333L562.5 2.341L565.5 2.348L568.5 2.354L571.5 2.357L574.5 2.359L577.5 2.36L580.5 2.36L581 2.36L583.5 2.356L586.5 2.344L589.5 2.326L592.5 2.298L595.5 2.266L598.5 2.229L601.5 2.191L604.5 2.132L607.5 2.053L610.5 1.966L613.5 1.876L616.5 1.8L618 1.747L619.5 1.679L621 1.603L622.5 1.527L624 1.449L625.5 1.368L627 1.284L628.5 1.198L630 1.11L631.5 1.014L633 0.906L634.5 0.787L635 0.744L635.5 0.699L636 0.651L636.5 0.599L637 0.544L637.5 0.484L638 0.418L638.5 0.346L639 0.269L639.5 0.187L640 0.099L640.5 0.006L641 0.216L641.5 0.398L642 0.552L642.5 0.679L643 0.789L643.5 0.886L644 0.972L644.5 1.048L645 1.117L645.5 1.18L646 1.237L646.5 1.291L647 1.34L647.5 1.385L648 1.426L649.5 1.531L651 1.616L652.5 1.684L654 1.733L655.5 1.767L657 1.8L658.5 1.839L660 1.882L661.5 1.922L663 1.957L664.5 1.981L667.5 2.013L670.5 2.036L673.5 2.056L676.5 2.076L679.5 2.095L682.5 2.113L685.5 2.13L688.5 2.147L691.5 2.163L694.5 2.178L697.5 2.193L700 2.205"/><path d="M74 1.619L75.3 1.708L76.5 1.775L76.8 1.79L78.3 1.856L79.5 1.9L79.8 1.91L81.3 1.956L82.5 1.988L82.8 1.996L84.3 2.032L85.5 2.058L85.8 2.064L87.3 2.092L88.5 2.113L88.8 2.118L91.5 2.155L94.5 2.188L97.5 2.214L100.5 2.235L103.5 2.256L106.5 2.275L109.5 2.294L112.5 2.31L115.5 2.325L118.5 2.338L121.5 2.35L124.5 2.363L127.5 2.377L130.5 2.389L133.5 2.4L136.5 2.409L139.5 2.417L142.5 2.425L145.5 2.433L148.5 2.441L151.5 2.45L154.5 2.459L157.5 2.463L159 2.463L160.5 2.456L163.5 2.42L166.5 2.36L169.5 2.306L172.5 2.255L173.5 2.236L175 2.205L175.5 2.194L176.5 2.171L178 2.133L178.5 2.119L179.5 2.09L181 2.043L181.5 2.026L182.5 1.993L184 1.94L184.5 1.921L185.5 1.882L187 1.816L187.5 1.793L188.5 1.743L190 1.664L190.5 1.637L191.5 1.58L192 1.551L192.5 1.521L193 1.49L193.5 1.459L194 1.426L194.5 1.393L195 1.358L195.5 1.323L196 1.287L196.5 1.25L197 1.212L197.5 1.168M204.3 1.89L204.5 1.903L205 1.932L205.5 1.959L206.5 2.004L208 2.051L208.5 2.064L209.5 2.087L211 2.117L211.5 2.126L212.5 2.142L214 2.164L214.5 2.171L215.5 2.184L217 2.202L217.5 2.208L218.5 2.22L220 2.236L220.5 2.241L223.5 2.268L226.5 2.291L229.5 2.31L232.5 2.323L235.5 2.332L238.5 2.339L241.5 2.346L244.5 2.354L247.5 2.362L250.5 2.369L253.5 2.377L256.5 2.385L259.5 2.393L262.5 2.401L265.5 2.408L268.5 2.415L271.5 2.421L274.5 2.427L277.5 2.432L280.5 2.436L283.5 2.441L286.5 2.446L288.5 2.446L289.5 2.442L292.5 2.42L295.5 2.385L298.5 2.344L301.5 2.297L304.5 2.242L307.5 2.18L310.5 2.117L313.5 2.044L315.6 1.981L316.5 1.952L317.1 1.932L318.6 1.879L319.5 1.845L320.1 1.822L321.6 1.761L322.5 1.722L323.1 1.695L324.6 1.625L325.5 1.582L326.1 1.553L327.6 1.474L328.5 1.422L329.1 1.385L330.6 1.279L331.5 1.205L332.1 1.153L333.6 1.015L334.1 0.967L334.5 0.929L334.6 0.92L335.1 0.873L335.6 0.827L336.1 0.78L336.6 0.733L337.1 0.686L337.5 0.648L337.6 0.638L338.1 0.591L338.6 0.543L339.1 0.492L339.6 0.435M348.7 1.87L349.5 1.907L350.1 1.932L351.6 1.982L352.5 2.006L353.1 2.019L354.6 2.047L355.5 2.061L356.1 2.07L357.6 2.089L358.5 2.099L359.1 2.106L360.6 2.12L361.5 2.128L362.1 2.133L364.5 2.151L367.5 2.17L370.5 2.188L373.5 2.206L376.5 2.226L379.5 2.245L382.5 2.263L385.5 2.278L388.5 2.29L391.5 2.3L394.5 2.311L397.5 2.322L400.5 2.333L403.5 2.343L406.5 2.353L409.5 2.363L412.5 2.371L415.5 2.379L418.5 2.386L421.5 2.393L424.5 2.398L427.5 2.401L430.5 2.403L433.5 2.405L436.5 2.405L438 2.405L439.5 2.399L442.5 2.372L445.5 2.309L448.5 2.241L451.5 2.174L454.5 2.095L457.5 2.002L460.5 1.903L461.3 1.876L462.8 1.825L463.5 1.8L464.3 1.772L465.8 1.722L466.5 1.699L467.3 1.671L468.8 1.612L469.5 1.58L470.3 1.538L471.8 1.441L472.5 1.39L473.3 1.326L474.8 1.198L475.5 1.137L476.3 1.067L477.8 0.941L478.5 0.882L479.3 0.814L479.8 0.772L480.3 0.731L480.8 0.69L481.3 0.65L481.5 0.634L481.8 0.61L482.3 0.57L482.8 0.531L483.3 0.493L483.8 0.455L484.3 0.418L484.5 0.403L484.8 0.383L485.3 0.35L485.8 0.445L486.3 0.538L486.8 0.628L487.3 0.717L487.5 0.751L487.8 0.803L488.3 0.889L488.8 0.973L489.3 1.054L489.8 1.132L490.3 1.206L490.5 1.234L490.8 1.276L491.3 1.341L491.8 1.402L492.3 1.459L492.8 1.515L493.5 1.589L494.3 1.665L495.8 1.778L496.5 1.817L497.3 1.854L498.8 1.91L499.5 1.931L500.3 1.954L501.8 1.99L502.5 2.003L503.3 2.013L504.8 2.03L505.5 2.036L506.3 2.043L507.8 2.055L508.5 2.06L511.5 2.081L514.5 2.106L517.5 2.132L520.5 2.157L523.5 2.177L526.5 2.195L529.5 2.211L532.5 2.226L535.5 2.24L538.5 2.254L541.5 2.266L544.5 2.278L547.5 2.288L550.5 2.298L553.5 2.308L556.5 2.318L559.5 2.328L562.5 2.336L565.5 2.343L568.5 2.349L571.5 2.352L574.5 2.354L577.5 2.355L580.5 2.355L581 2.355L583.5 2.351L586.5 2.339L589.5 2.321L592.5 2.293L595.5 2.26L598.5 2.223L601.5 2.184L604.5 2.124L607.5 2.044L610.5 1.956L613.5 1.865L616.5 1.788L618 1.734L619.5 1.666L621 1.588L622.5 1.511L624 1.432L625.5 1.35L627 1.264L628.5 1.178L630 1.088L631.5 0.991L633 0.881L634.5 0.761L635 0.717L635.5 0.671L636 0.622L636.5 0.57L637 0.514L637.5 0.453L638 0.386L638.5 0.313L639 0.235L639.5 0.151L640 0.062L640.5 -0.032L641 0.181L641.5 0.365L642 0.521L642.5 0.651L643 0.762L643.5 0.86L644 0.947L644.5 1.025L645 1.094L645.5 1.158L646 1.217L646.5 1.271L647 1.32L647.5 1.366L648 1.408L649.5 1.514L651 1.6L652.5 1.669L654 1.719L655.5 1.754L657 1.787L658.5 1.827L660 1.87L661.5 1.911L663 1.946L664.5 1.971L667.5 2.003L670.5 2.026L673.5 2.047L676.5 2.067L679.5 2.086L682.5 2.104L685.5 2.122L688.5 2.138L691.5 2.155L694.5 2.171L697.5 2.186L700 2.198"/><path d="M74 1.611L75.3 1.7L76.5 1.768L76.8 1.783L78.3 1.85L79.5 1.894L79.8 1.905L81.3 1.951L82.5 1.983L82.8 1.991L84.3 2.027L85.5 2.053L85.8 2.059L87.3 2.088L88.5 2.109L88.8 2.114L91.5 2.152L94.5 2.185L97.5 2.21L100.5 2.232L103.5 2.253L106.5 2.273L109.5 2.291L112.5 2.308L115.5 2.322L118.5 2.335L121.5 2.348L124.5 2.361L127.5 2.375L130.5 2.387L133.5 2.398L136.5 2.407L139.5 2.415L142.5 2.423L145.5 2.431L148.5 2.439L151.5 2.448L154.5 2.457L157.5 2.461L159 2.461L160.5 2.454L163.5 2.418L166.5 2.358L169.5 2.304L172.5 2.252L173.5 2.233L175 2.202L175.5 2.191L176.5 2.168L178 2.129L178.5 2.115L179.5 2.086L181 2.039L181.5 2.023L182.5 1.989L184 1.936L184.5 1.917L185.5 1.877L187 1.812L187.5 1.788L188.5 1.738L190 1.659L190.5 1.632L191.5 1.575L192 1.545L192.5 1.515L193 1.484L193.5 1.453L194 1.42L194.5 1.386L195 1.352L195.5 1.317L196 1.281L196.5 1.244L197 1.205L197.5 1.16M204.3 1.882L204.5 1.895L205 1.925L205.5 1.952L206.5 1.997L208 2.045L208.5 2.058L209.5 2.082L211 2.112L211.5 2.121L212.5 2.137L214 2.159L214.5 2.166L215.5 2.179L217 2.198L217.5 2.204L218.5 2.216L220 2.233L220.5 2.238L223.5 2.264L226.5 2.288L229.5 2.307L232.5 2.321L235.5 2.33L238.5 2.337L241.5 2.344L244.5 2.351L247.5 2.359L250.5 2.367L253.5 2.375L256.5 2.383L259.5 2.391L262.5 2.399L265.5 2.406L268.5 2.413L271.5 2.419L274.5 2.425L277.5 2.43L280.5 2.434L283.5 2.439L286.5 2.444L288.5 2.444L289.5 2.44L292.5 2.418L295.5 2.383L298.5 2.342L301.5 2.294L304.5 2.24L307.5 2.177L310.5 2.114L313.5 2.04L315.6 1.978L316.5 1.948L317.1 1.928L318.6 1.875L319.5 1.841L320.1 1.818L321.6 1.756L322.5 1.717L323.1 1.69L324.6 1.62L325.5 1.577L326.1 1.547L327.6 1.468L328.5 1.416L329.1 1.379L330.6 1.272L331.5 1.198L332.1 1.146L333.6 1.007L334.1 0.959L334.5 0.921L334.6 0.912L335.1 0.865L335.6 0.819L336.1 0.772L336.6 0.725L337.1 0.677L337.5 0.639L337.6 0.629L338.1 0.581L338.6 0.533L339.1 0.483L339.6 0.424M348.7 1.86L349.5 1.898L350.1 1.923L351.6 1.974L352.5 1.998L353.1 2.011L354.6 2.04L355.5 2.054L356.1 2.063L357.6 2.082L358.5 2.093L359.1 2.099L360.6 2.114L361.5 2.122L362.1 2.128L364.5 2.146L367.5 2.165L370.5 2.183L373.5 2.202L376.5 2.222L379.5 2.242L382.5 2.26L385.5 2.275L388.5 2.287L391.5 2.298L394.5 2.309L397.5 2.32L400.5 2.33L403.5 2.341L406.5 2.351L409.5 2.36L412.5 2.369L415.5 2.377L418.5 2.384L421.5 2.391L424.5 2.395L427.5 2.399L430.5 2.401L433.5 2.402L436.5 2.403L438 2.403L439.5 2.396L442.5 2.369L445.5 2.305L448.5 2.236L451.5 2.168L454.5 2.088L457.5 1.994L460.5 1.893L461.3 1.866L462.8 1.813L463.5 1.788L464.3 1.76L465.8 1.709L466.5 1.685L467.3 1.657L468.8 1.597L469.5 1.564L470.3 1.522L471.8 1.424L472.5 1.371L473.3 1.307L474.8 1.177L475.5 1.115L476.3 1.044L477.8 0.916L478.5 0.856L479.3 0.787L479.8 0.745L480.3 0.702L480.8 0.66L481.3 0.619L481.5 0.603L481.8 0.579L482.3 0.539L482.8 0.499L483.3 0.46L483.8 0.421L484.3 0.384L484.5 0.369L484.8 0.348L485.3 0.315L485.8 0.411L486.3 0.505L486.8 0.597L487.3 0.687L487.5 0.722L487.8 0.775L488.3 0.862L488.8 0.947L489.3 1.029L489.8 1.108L490.3 1.184L490.5 1.212L490.8 1.255L491.3 1.321L491.8 1.383L492.3 1.441L492.8 1.497L493.5 1.572L494.3 1.65L495.8 1.764L496.5 1.803L497.3 1.841L498.8 1.898L499.5 1.92L500.3 1.943L501.8 1.98L502.5 1.992L503.3 2.003L504.8 2.02L505.5 2.026L506.3 2.033L507.8 2.045L508.5 2.05L511.5 2.072L514.5 2.097L517.5 2.124L520.5 2.149L523.5 2.17L526.5 2.188L529.5 2.204L532.5 2.219L535.5 2.233L538.5 2.247L541.5 2.259L544.5 2.271L547.5 2.282L550.5 2.291L553.5 2.301L556.5 2.312L559.5 2.322L562.5 2.33L565.5 2.337L568.5 2.343L571.5 2.346L574.5 2.348L577.5 2.349L580.5 2.349L581 2.349L583.5 2.344L586.5 2.333L589.5 2.314L592.5 2.286L595.5 2.253L598.5 2.215L601.5 2.175L604.5 2.115L607.5 2.034L610.5 1.944L613.5 1.852L616.5 1.773L618 1.719L619.5 1.65L621 1.571L622.5 1.493L624 1.413L625.5 1.329L627 1.242L628.5 1.154L630 1.063L631.5 0.963L633 0.852L634.5 0.73L635 0.685L635.5 0.639L636 0.589L636.5 0.536L637 0.479L637.5 0.416L638 0.348L638.5 0.275L639 0.195L639.5 0.11L640 0.019L640.5 -0.076L641 0.14L641.5 0.327L642 0.486L642.5 0.617L643 0.73L643.5 0.83L644 0.919L644.5 0.997L645 1.068L645.5 1.133L646 1.192L646.5 1.247L647 1.298L647.5 1.344L648 1.387L649.5 1.494L651 1.582L652.5 1.652L654 1.703L655.5 1.738L657 1.771L658.5 1.812L660 1.856L661.5 1.898L663 1.933L664.5 1.959L667.5 1.991L670.5 2.015L673.5 2.036L676.5 2.056L679.5 2.076L682.5 2.094L685.5 2.112L688.5 2.129L691.5 2.146L694.5 2.162L697.5 2.177L700 2.19"/><path d="M74 1.601L75.3 1.691L76.5 1.76L76.8 1.775L78.3 1.842L79.5 1.887L79.8 1.898L81.3 1.944L82.5 1.977L82.8 1.985L84.3 2.021L85.5 2.048L85.8 2.054L87.3 2.083L88.5 2.104L88.8 2.109L91.5 2.148L94.5 2.181L97.5 2.207L100.5 2.229L103.5 2.25L106.5 2.269L109.5 2.288L112.5 2.304L115.5 2.319L118.5 2.332L121.5 2.345L124.5 2.358L127.5 2.372L130.5 2.384L133.5 2.395L136.5 2.404L139.5 2.412L142.5 2.42L145.5 2.428L148.5 2.437L151.5 2.445L154.5 2.455L157.5 2.459L159 2.459L160.5 2.452L163.5 2.415L166.5 2.355L169.5 2.301L172.5 2.249L173.5 2.23L175 2.199L175.5 2.188L176.5 2.164L178 2.126L178.5 2.111L179.5 2.082L181 2.035L181.5 2.018L182.5 1.985L184 1.931L184.5 1.912L185.5 1.872L187 1.806L187.5 1.783L188.5 1.733L190 1.653L190.5 1.625L191.5 1.568L192 1.539L192.5 1.508L193 1.477L193.5 1.445L194 1.413L194.5 1.379L195 1.344L195.5 1.309L196 1.273L196.5 1.235L197 1.197L197.5 1.151M204.3 1.872L204.5 1.885L205 1.916L205.5 1.943L206.5 1.989L208 2.038L208.5 2.051L209.5 2.075L211 2.106L211.5 2.115L212.5 2.132L214 2.154L214.5 2.161L215.5 2.174L217 2.193L217.5 2.2L218.5 2.212L220 2.228L220.5 2.233L223.5 2.261L226.5 2.284L229.5 2.304L232.5 2.318L235.5 2.327L238.5 2.334L241.5 2.341L244.5 2.349L247.5 2.356L250.5 2.364L253.5 2.372L256.5 2.38L259.5 2.388L262.5 2.396L265.5 2.403L268.5 2.41L271.5 2.416L274.5 2.422L277.5 2.427L280.5 2.432L283.5 2.437L286.5 2.441L288.5 2.441L289.5 2.437L292.5 2.415L295.5 2.38L298.5 2.339L301.5 2.291L304.5 2.236L307.5 2.173L310.5 2.11L313.5 2.036L315.6 1.973L316.5 1.943L317.1 1.923L318.6 1.87L319.5 1.836L320.1 1.812L321.6 1.751L322.5 1.711L323.1 1.684L324.6 1.614L325.5 1.57L326.1 1.54L327.6 1.461L328.5 1.409L329.1 1.371L330.6 1.264L331.5 1.19L332.1 1.137L333.6 0.998L334.1 0.95L334.5 0.912L334.6 0.902L335.1 0.855L335.6 0.808L336.1 0.761L336.6 0.714L337.1 0.666L337.5 0.628L337.6 0.618L338.1 0.57L338.6 0.521L339.1 0.47L339.6 0.41M348.7 1.848L349.5 1.887L350.1 1.912L351.6 1.964L352.5 1.988L353.1 2.002L354.6 2.031L355.5 2.046L356.1 2.055L357.6 2.075L358.5 2.085L359.1 2.092L360.6 2.107L361.5 2.115L362.1 2.121L364.5 2.14L367.5 2.16L370.5 2.178L373.5 2.197L376.5 2.218L379.5 2.238L382.5 2.256L385.5 2.272L388.5 2.284L391.5 2.295L394.5 2.306L397.5 2.317L400.5 2.328L403.5 2.338L406.5 2.348L409.5 2.357L412.5 2.366L415.5 2.374L418.5 2.381L421.5 2.388L424.5 2.393L427.5 2.396L430.5 2.398L433.5 2.399L436.5 2.399L438 2.399L439.5 2.393L442.5 2.365L445.5 2.301L448.5 2.231L451.5 2.162L454.5 2.08L457.5 1.984L460.5 1.881L461.3 1.853L462.8 1.8L463.5 1.774L464.3 1.745L465.8 1.693L466.5 1.669L467.3 1.64L468.8 1.579L469.5 1.546L470.3 1.502L471.8 1.403L472.5 1.349L473.3 1.284L474.8 1.151L475.5 1.088L476.3 1.015L477.8 0.885L478.5 0.824L479.3 0.754L479.8 0.71L480.3 0.667L480.8 0.624L481.3 0.582L481.5 0.566L481.8 0.541L482.3 0.5L482.8 0.46L483.3 0.42L483.8 0.38L484.3 0.342L484.5 0.326L484.8 0.305L485.3 0.271L485.8 0.37L486.3 0.465L486.8 0.559L487.3 0.65L487.5 0.686L487.8 0.74L488.3 0.828L488.8 0.915L489.3 0.999L489.8 1.079L490.3 1.156L490.5 1.185L490.8 1.228L491.3 1.296L491.8 1.359L492.3 1.418L492.8 1.475L493.5 1.551L494.3 1.63L495.8 1.747L496.5 1.787L497.3 1.825L498.8 1.883L499.5 1.905L500.3 1.929L501.8 1.966L502.5 1.979L503.3 1.99L504.8 2.007L505.5 2.014L506.3 2.021L507.8 2.033L508.5 2.038L511.5 2.06L514.5 2.086L517.5 2.114L520.5 2.139L523.5 2.16L526.5 2.178L529.5 2.195L532.5 2.21L535.5 2.224L538.5 2.238L541.5 2.251L544.5 2.263L547.5 2.273L550.5 2.283L553.5 2.293L556.5 2.304L559.5 2.314L562.5 2.322L565.5 2.33L568.5 2.335L571.5 2.338L574.5 2.34L577.5 2.341L580.5 2.342L581 2.342L583.5 2.337L586.5 2.325L589.5 2.306L592.5 2.277L595.5 2.243L598.5 2.205L601.5 2.165L604.5 2.103L607.5 2.021L610.5 1.929L613.5 1.836L616.5 1.756L618 1.701L619.5 1.63L621 1.55L622.5 1.47L624 1.389L625.5 1.303L627 1.215L628.5 1.125L630 1.032L631.5 0.931L633 0.817L634.5 0.692L635 0.647L635.5 0.599L636 0.548L636.5 0.494L637 0.436L637.5 0.372L638 0.303L638.5 0.228L639 0.147L639.5 0.06L640 -0.033L640.5 -0.13L641 0.09L641.5 0.281L642 0.443L642.5 0.577L643 0.692L643.5 0.794L644 0.884L644.5 0.964L645 1.036L645.5 1.102L646 1.163L646.5 1.219L647 1.27L647.5 1.318L648 1.361L649.5 1.471L651 1.56L652.5 1.631L654 1.683L655.5 1.719L657 1.753L658.5 1.795L660 1.839L661.5 1.882L663 1.918L664.5 1.944L667.5 1.977L670.5 2.001L673.5 2.022L676.5 2.044L679.5 2.063L682.5 2.082L685.5 2.1L688.5 2.118L691.5 2.135L694.5 2.151L697.5 2.167L700 2.179"/><path d="M74 1.588L75.3 1.68L76.5 1.749L76.8 1.764L78.3 1.833L79.5 1.878L79.8 1.889L81.3 1.936L82.5 1.969L82.8 1.977L84.3 2.014L85.5 2.041L85.8 2.047L87.3 2.077L88.5 2.098L88.8 2.103L91.5 2.142L94.5 2.175L97.5 2.202L100.5 2.224L103.5 2.245L106.5 2.265L109.5 2.284L112.5 2.3L115.5 2.315L118.5 2.329L121.5 2.341L124.5 2.355L127.5 2.368L130.5 2.381L133.5 2.392L136.5 2.401L139.5 2.409L142.5 2.417L145.5 2.425L148.5 2.434L151.5 2.442L154.5 2.452L157.5 2.456L159 2.456L160.5 2.449L163.5 2.412L166.5 2.351L169.5 2.297L172.5 2.245L173.5 2.225L175 2.194L175.5 2.183L176.5 2.16L178 2.12L178.5 2.106L179.5 2.077L181 2.029L181.5 2.013L182.5 1.979L184 1.925L184.5 1.906L185.5 1.866L187 1.799L187.5 1.775L188.5 1.725L190 1.645L190.5 1.617L191.5 1.56L192 1.53L192.5 1.499L193 1.468L193.5 1.436L194 1.403L194.5 1.369L195 1.334L195.5 1.299L196 1.262L196.5 1.225L197 1.186L197.5 1.139M204.3 1.86L204.5 1.873L205 1.904L205.5 1.932L206.5 1.979L208 2.029L208.5 2.042L209.5 2.066L211 2.098L211.5 2.107L212.5 2.124L214 2.147L214.5 2.154L215.5 2.168L217 2.187L217.5 2.194L218.5 2.206L220 2.223L220.5 2.228L223.5 2.256L226.5 2.28L229.5 2.3L232.5 2.314L235.5 2.323L238.5 2.33L241.5 2.337L244.5 2.345L247.5 2.353L250.5 2.361L253.5 2.369L256.5 2.377L259.5 2.385L262.5 2.393L265.5 2.4L268.5 2.407L271.5 2.413L274.5 2.419L277.5 2.424L280.5 2.429L283.5 2.434L286.5 2.438L288.5 2.438L289.5 2.434L292.5 2.412L295.5 2.377L298.5 2.335L301.5 2.287L304.5 2.232L307.5 2.169L310.5 2.105L313.5 2.03L315.6 1.967L316.5 1.937L317.1 1.916L318.6 1.863L319.5 1.829L320.1 1.805L321.6 1.743L322.5 1.704L323.1 1.676L324.6 1.606L325.5 1.562L326.1 1.532L327.6 1.452L328.5 1.399L329.1 1.362L330.6 1.254L331.5 1.179L332.1 1.126L333.6 0.986L334.1 0.937L334.5 0.899L334.6 0.889L335.1 0.842L335.6 0.795L336.1 0.748L336.6 0.7L337.1 0.652L337.5 0.613L337.6 0.604L338.1 0.555L338.6 0.506L339.1 0.455L339.6 0.393M348.7 1.834L349.5 1.873L350.1 1.898L351.6 1.951L352.5 1.976L353.1 1.991L354.6 2.02L355.5 2.035L356.1 2.044L357.6 2.065L358.5 2.076L359.1 2.082L360.6 2.098L361.5 2.107L362.1 2.112L364.5 2.132L367.5 2.152L370.5 2.171L373.5 2.191L376.5 2.212L379.5 2.233L382.5 2.252L385.5 2.268L388.5 2.28L391.5 2.291L394.5 2.302L397.5 2.313L400.5 2.324L403.5 2.334L406.5 2.344L409.5 2.354L412.5 2.363L415.5 2.371L418.5 2.378L421.5 2.385L424.5 2.389L427.5 2.392L430.5 2.394L433.5 2.395L436.5 2.395L438 2.395L439.5 2.388L442.5 2.36L445.5 2.295L448.5 2.223L451.5 2.153L454.5 2.069L457.5 1.971L460.5 1.865L461.3 1.837L462.8 1.782L463.5 1.755L464.3 1.725L465.8 1.672L466.5 1.647L467.3 1.618L468.8 1.555L469.5 1.521L470.3 1.476L471.8 1.375L472.5 1.32L473.3 1.253L474.8 1.117L475.5 1.052L476.3 0.978L477.8 0.844L478.5 0.781L479.3 0.71L479.8 0.665L480.3 0.621L480.8 0.577L481.3 0.534L481.5 0.517L481.8 0.491L482.3 0.449L482.8 0.408L483.3 0.367L483.8 0.326L484.3 0.286L484.5 0.271L484.8 0.249L485.3 0.214L485.8 0.315L486.3 0.413L486.8 0.509L487.3 0.602L487.5 0.639L487.8 0.694L488.3 0.784L488.8 0.873L489.3 0.959L489.8 1.041L490.3 1.119L490.5 1.15L490.8 1.193L491.3 1.263L491.8 1.327L492.3 1.387L492.8 1.446L493.5 1.524L494.3 1.605L495.8 1.724L496.5 1.765L497.3 1.804L498.8 1.863L499.5 1.886L500.3 1.91L501.8 1.949L502.5 1.961L503.3 1.973L504.8 1.99L505.5 1.997L506.3 2.005L507.8 2.017L508.5 2.022L511.5 2.045L514.5 2.072L517.5 2.1L520.5 2.126L523.5 2.147L526.5 2.166L529.5 2.182L532.5 2.198L535.5 2.213L538.5 2.226L541.5 2.239L544.5 2.251L547.5 2.262L550.5 2.272L553.5 2.282L556.5 2.293L559.5 2.304L562.5 2.312L565.5 2.319L568.5 2.325L571.5 2.328L574.5 2.33L577.5 2.331L580.5 2.332L581 2.331L583.5 2.326L586.5 2.314L589.5 2.295L592.5 2.265L595.5 2.231L598.5 2.192L601.5 2.151L604.5 2.088L607.5 2.004L610.5 1.91L613.5 1.815L616.5 1.734L618 1.677L619.5 1.605L621 1.523L622.5 1.441L624 1.358L625.5 1.27L627 1.179L628.5 1.087L630 0.992L631.5 0.888L633 0.771L634.5 0.644L635 0.597L635.5 0.548L636 0.496L636.5 0.441L637 0.381L637.5 0.316L638 0.245L638.5 0.167L639 0.084L639.5 -0.005L640 -0.1L640.5 -0.199L641 0.026L641.5 0.221L642 0.387L642.5 0.524L643 0.643L643.5 0.747L644 0.839L644.5 0.921L645 0.995L645.5 1.062L646 1.125L646.5 1.182L647 1.235L647.5 1.283L648 1.328L649.5 1.44L651 1.531L652.5 1.604L654 1.657L655.5 1.694L657 1.729L658.5 1.772L660 1.818L661.5 1.861L663 1.898L664.5 1.925L667.5 1.959L670.5 1.984L673.5 2.005L676.5 2.027L679.5 2.047L682.5 2.066L685.5 2.085L688.5 2.103L691.5 2.12L694.5 2.137L697.5 2.153L700 2.166"/><path d="M74 1.57L75.3 1.663L76.5 1.733L76.8 1.749L78.3 1.819L79.5 1.865L79.8 1.876L81.3 1.924L82.5 1.958L82.8 1.966L84.3 2.004L85.5 2.031L85.8 2.038L87.3 2.068L88.5 2.089L88.8 2.094L91.5 2.134L94.5 2.168L97.5 2.195L100.5 2.218L103.5 2.239L106.5 2.259L109.5 2.278L112.5 2.295L115.5 2.31L118.5 2.323L121.5 2.336L124.5 2.35L127.5 2.363L130.5 2.376L133.5 2.387L136.5 2.396L139.5 2.404L142.5 2.412L145.5 2.421L148.5 2.429L151.5 2.438L154.5 2.447L157.5 2.451L159 2.452L160.5 2.445L163.5 2.408L166.5 2.346L169.5 2.291L172.5 2.238L173.5 2.219L175 2.187L175.5 2.176L176.5 2.153L178 2.113L178.5 2.099L179.5 2.069L181 2.021L181.5 2.004L182.5 1.97L184 1.916L184.5 1.896L185.5 1.856L187 1.789L187.5 1.765L188.5 1.714L190 1.633L190.5 1.605L191.5 1.547L192 1.517L192.5 1.486L193 1.455L193.5 1.422L194 1.389L194.5 1.355L195 1.32L195.5 1.284L196 1.247L196.5 1.209L197 1.17L197.5 1.121M204.3 1.843L204.5 1.856L205 1.888L205.5 1.916L206.5 1.964L208 2.015L208.5 2.029L209.5 2.054L211 2.086L211.5 2.096L212.5 2.114L214 2.137L214.5 2.145L215.5 2.159L217 2.178L217.5 2.185L218.5 2.197L220 2.215L220.5 2.22L223.5 2.248L226.5 2.273L229.5 2.294L232.5 2.309L235.5 2.317L238.5 2.324L241.5 2.332L244.5 2.34L247.5 2.348L250.5 2.356L253.5 2.364L256.5 2.372L259.5 2.38L262.5 2.388L265.5 2.395L268.5 2.402L271.5 2.408L274.5 2.414L277.5 2.419L280.5 2.424L283.5 2.429L286.5 2.434L288.5 2.434L289.5 2.43L292.5 2.408L295.5 2.372L298.5 2.33L301.5 2.281L304.5 2.225L307.5 2.162L310.5 2.097L313.5 2.022L315.6 1.958L316.5 1.928L317.1 1.907L318.6 1.853L319.5 1.819L320.1 1.795L321.6 1.732L322.5 1.692L323.1 1.665L324.6 1.593L325.5 1.549L326.1 1.519L327.6 1.438L328.5 1.385L329.1 1.347L330.6 1.238L331.5 1.163L332.1 1.109L333.6 0.968L334.1 0.919L334.5 0.88L334.6 0.871L335.1 0.823L335.6 0.775L336.1 0.728L336.6 0.679L337.1 0.631L337.5 0.592L337.6 0.582L338.1 0.533L338.6 0.484L339.1 0.432L339.6 0.368M348.7 1.813L349.5 1.853L350.1 1.879L351.6 1.933L352.5 1.959L353.1 1.974L354.6 2.004L355.5 2.02L356.1 2.029L357.6 2.051L358.5 2.062L359.1 2.069L360.6 2.085L361.5 2.094L362.1 2.1L364.5 2.12L367.5 2.141L370.5 2.161L373.5 2.182L376.5 2.204L379.5 2.226L382.5 2.245L385.5 2.262L388.5 2.274L391.5 2.285L394.5 2.296L397.5 2.307L400.5 2.318L403.5 2.329L406.5 2.339L409.5 2.349L412.5 2.358L415.5 2.365L418.5 2.373L421.5 2.38L424.5 2.384L427.5 2.387L430.5 2.388L433.5 2.389L436.5 2.389L438 2.389L439.5 2.382L442.5 2.353L445.5 2.286L448.5 2.212L451.5 2.139L454.5 2.053L457.5 1.951L460.5 1.842L461.3 1.812L462.8 1.755L463.5 1.728L464.3 1.697L465.8 1.641L466.5 1.616L467.3 1.585L468.8 1.52L469.5 1.485L470.3 1.439L471.8 1.333L472.5 1.277L473.3 1.207L474.8 1.067L475.5 0.999L476.3 0.922L477.8 0.784L478.5 0.719L479.3 0.644L479.8 0.598L480.3 0.552L480.8 0.506L481.3 0.462L481.5 0.444L481.8 0.418L482.3 0.374L482.8 0.331L483.3 0.288L483.8 0.246L484.3 0.204L484.5 0.188L484.8 0.166L485.3 0.13L485.8 0.234L486.3 0.335L486.8 0.434L487.3 0.531L487.5 0.569L487.8 0.625L488.3 0.719L488.8 0.811L489.3 0.899L489.8 0.984L490.3 1.065L490.5 1.096L490.8 1.142L491.3 1.213L491.8 1.28L492.3 1.342L492.8 1.402L493.5 1.483L494.3 1.567L495.8 1.69L496.5 1.732L497.3 1.773L498.8 1.833L499.5 1.857L500.3 1.883L501.8 1.922L502.5 1.935L503.3 1.947L504.8 1.965L505.5 1.973L506.3 1.98L507.8 1.993L508.5 1.998L511.5 2.022L514.5 2.049L517.5 2.078L520.5 2.106L523.5 2.127L526.5 2.146L529.5 2.163L532.5 2.179L535.5 2.194L538.5 2.209L541.5 2.222L544.5 2.234L547.5 2.245L550.5 2.256L553.5 2.266L556.5 2.277L559.5 2.288L562.5 2.296L565.5 2.304L568.5 2.31L571.5 2.313L574.5 2.315L577.5 2.316L580.5 2.316L581 2.316L583.5 2.31L586.5 2.298L589.5 2.278L592.5 2.248L595.5 2.212L598.5 2.172L601.5 2.13L604.5 2.065L607.5 1.978L610.5 1.882L613.5 1.784L616.5 1.701L618 1.643L619.5 1.568L621 1.484L622.5 1.399L624 1.313L625.5 1.222L627 1.128L628.5 1.032L630 0.934L631.5 0.826L633 0.705L634.5 0.573L635 0.525L635.5 0.474L636 0.42L636.5 0.363L637 0.301L637.5 0.233L638 0.16L638.5 0.08L639 -0.006L639.5 -0.099L640 -0.197L640.5 -0.3L641 -0.067L641.5 0.135L642 0.307L642.5 0.449L643 0.571L643.5 0.679L644 0.774L644.5 0.859L645 0.935L645.5 1.005L646 1.069L646.5 1.129L647 1.183L647.5 1.234L648 1.28L649.5 1.396L651 1.49L652.5 1.566L654 1.621L655.5 1.659L657 1.695L658.5 1.739L660 1.786L661.5 1.832L663 1.87L664.5 1.897L667.5 1.933L670.5 1.958L673.5 1.981L676.5 2.003L679.5 2.024L682.5 2.044L685.5 2.063L688.5 2.082L691.5 2.1L694.5 2.117L697.5 2.134L700 2.147"/><path d="M74 1.533L75.3 1.63L76.5 1.703L76.8 1.719L78.3 1.791L79.5 1.839L79.8 1.85L81.3 1.9L82.5 1.935L82.8 1.944L84.3 1.983L85.5 2.011L85.8 2.018L87.3 2.049L88.5 2.072L88.8 2.077L91.5 2.118L94.5 2.153L97.5 2.181L100.5 2.205L103.5 2.227L106.5 2.247L109.5 2.266L112.5 2.283L115.5 2.299L118.5 2.312L121.5 2.325L124.5 2.339L127.5 2.353L130.5 2.366L133.5 2.377L136.5 2.387L139.5 2.395L142.5 2.403L145.5 2.412L148.5 2.421L151.5 2.429L154.5 2.439L157.5 2.443L159 2.443L160.5 2.436L163.5 2.398L166.5 2.336L169.5 2.28L172.5 2.226L173.5 2.206L175 2.174L175.5 2.163L176.5 2.139L178 2.098L178.5 2.084L179.5 2.053L181 2.004L181.5 1.987L182.5 1.952L184 1.897L184.5 1.877L185.5 1.836L187 1.768L187.5 1.743L188.5 1.692L190 1.609L190.5 1.581L191.5 1.522L192 1.491L192.5 1.46L193 1.428L193.5 1.395L194 1.361L194.5 1.326L195 1.29L195.5 1.254L196 1.216L196.5 1.177L197 1.138L197.5 1.086M204.3 1.808L204.5 1.822L205 1.855L205.5 1.886L206.5 1.936L208 1.989L208.5 2.004L209.5 2.03L211 2.064L211.5 2.074L212.5 2.093L214 2.118L214.5 2.126L215.5 2.14L217 2.161L217.5 2.168L218.5 2.181L220 2.199L220.5 2.205L223.5 2.234L226.5 2.26L229.5 2.282L232.5 2.297L235.5 2.306L238.5 2.314L241.5 2.321L244.5 2.329L247.5 2.337L250.5 2.345L253.5 2.354L256.5 2.362L259.5 2.37L262.5 2.378L265.5 2.386L268.5 2.393L271.5 2.399L274.5 2.405L277.5 2.41L280.5 2.415L283.5 2.421L286.5 2.425L288.5 2.425L289.5 2.421L292.5 2.398L295.5 2.362L298.5 2.319L301.5 2.27L304.5 2.213L307.5 2.148L310.5 2.082L313.5 2.006L315.6 1.94L316.5 1.91L317.1 1.889L318.6 1.833L319.5 1.799L320.1 1.774L321.6 1.71L322.5 1.67L323.1 1.642L324.6 1.569L325.5 1.524L326.1 1.493L327.6 1.411L328.5 1.357L329.1 1.318L330.6 1.207L331.5 1.13L332.1 1.076L333.6 0.931L334.1 0.882L334.5 0.842L334.6 0.833L335.1 0.784L335.6 0.735L336.1 0.687L336.6 0.638L337.1 0.588L337.5 0.549L337.6 0.539L338.1 0.489L338.6 0.439L339.1 0.385L339.6 0.316M348.7 1.772L349.5 1.814L350.1 1.842L351.6 1.899L352.5 1.926L353.1 1.942L354.6 1.974L355.5 1.99L356.1 2L357.6 2.023L358.5 2.035L359.1 2.043L360.6 2.06L361.5 2.07L362.1 2.076L364.5 2.098L367.5 2.121L370.5 2.142L373.5 2.164L376.5 2.188L379.5 2.211L382.5 2.231L385.5 2.25L388.5 2.262L391.5 2.273L394.5 2.285L397.5 2.296L400.5 2.307L403.5 2.318L406.5 2.328L409.5 2.338L412.5 2.347L415.5 2.355L418.5 2.363L421.5 2.37L424.5 2.375L427.5 2.376L430.5 2.377L433.5 2.377L436.5 2.376L438 2.376L439.5 2.368L442.5 2.337L445.5 2.267L448.5 2.19L451.5 2.112L454.5 2.02L457.5 1.911L460.5 1.794L461.3 1.762L462.8 1.701L463.5 1.671L464.3 1.637L465.8 1.578L466.5 1.55L467.3 1.517L468.8 1.448L469.5 1.41L470.3 1.36L471.8 1.248L472.5 1.187L473.3 1.113L474.8 0.963L475.5 0.89L476.3 0.808L477.8 0.659L478.5 0.589L479.3 0.509L479.8 0.459L480.3 0.409L480.8 0.361L481.3 0.312L481.5 0.293L481.8 0.265L482.3 0.218L482.8 0.171L483.3 0.125L483.8 0.079L484.3 0.034L484.5 0.016L484.8 -0.007L485.3 -0.046L485.8 0.065L486.3 0.173L486.8 0.279L487.3 0.382L487.5 0.422L487.8 0.483L488.3 0.583L488.8 0.68L489.3 0.775L489.8 0.866L490.3 0.952L490.5 0.985L490.8 1.033L491.3 1.11L491.8 1.181L492.3 1.247L492.8 1.312L493.5 1.398L494.3 1.487L495.8 1.619L496.5 1.663L497.3 1.706L498.8 1.771L499.5 1.797L500.3 1.824L501.8 1.866L502.5 1.88L503.3 1.893L504.8 1.912L505.5 1.92L506.3 1.928L507.8 1.942L508.5 1.948L511.5 1.973L514.5 2.002L517.5 2.033L520.5 2.062L523.5 2.085L526.5 2.105L529.5 2.123L532.5 2.139L535.5 2.155L538.5 2.17L541.5 2.184L544.5 2.197L547.5 2.209L550.5 2.22L553.5 2.23L556.5 2.242L559.5 2.254L562.5 2.263L565.5 2.271L568.5 2.277L571.5 2.28L574.5 2.281L577.5 2.282L580.5 2.283L581 2.282L583.5 2.276L586.5 2.263L589.5 2.243L592.5 2.21L595.5 2.173L598.5 2.13L601.5 2.086L604.5 2.017L607.5 1.926L610.5 1.824L613.5 1.721L616.5 1.633L618 1.572L619.5 1.494L621 1.405L622.5 1.314L624 1.222L625.5 1.125L627 1.025L628.5 0.922L630 0.817L631.5 0.702L633 0.573L634.5 0.431L635 0.38L635.5 0.326L636 0.268L636.5 0.206L637 0.14L637.5 0.068L638 -0.011L638.5 -0.096L639 -0.188L639.5 -0.287L640 -0.392L640.5 -0.501L641 -0.253L641.5 -0.037L642 0.146L642.5 0.297L643 0.428L643.5 0.542L644 0.644L644.5 0.735L645 0.816L645.5 0.891L646 0.959L646.5 1.022L647 1.081L647.5 1.134L648 1.183L649.5 1.307L651 1.408L652.5 1.489L654 1.547L655.5 1.588L657 1.627L658.5 1.674L660 1.724L661.5 1.772L663 1.813L664.5 1.842L667.5 1.88L670.5 1.908L673.5 1.932L676.5 1.956L679.5 1.978L682.5 1.999L685.5 2.02L688.5 2.04L691.5 2.059L694.5 2.078L697.5 2.096L700 2.11"/></g>
<path d="M64.5 -140.0L64.8 -124.4L65.3 -98.4L65.8 -72.8L66.3 -47.7L66.8 -23.4L67.3 0.0L67.5 9.3L67.8 23.8L68.3 48.1L68.8 70.8L69.3 90.8L69.8 107.3L70.3 120.0L70.5 124.2L70.8 130.0L71.3 138.9L71.8 146.7L72.3 153.5L72.8 159.4L73.3 164.4L73.5 166.1L73.8 168.6L74.0 170.0M197.5 123.6L198.0 132.6L198.5 140.8L199.0 148.3L199.5 155.1L200.0 161.3L200.5 166.9L201.0 172.1L201.5 176.8L202.0 181.2L202.5 185.2L203.0 188.8L203.5 192.2L204.0 195.3L204.3 197.0M339.6 53.3L340.1 70.7L340.5 83.2L340.6 86.2L341.1 100.1L341.6 112.6L342.1 123.8L342.6 133.9L343.1 142.9L343.5 149.4L343.6 150.9L344.1 158.2L344.6 164.7L345.1 170.5L345.6 175.6L346.1 180.2L346.5 183.6L346.6 184.3L347.1 188.0L348.6 196.4L348.7 196.8" stroke="#999" stroke-width="0.75"/>
<path d="M163.5 244.0L166.5 238.3L169.5 233.1L172.5 228.1L173.5 226.2L175.0 223.3L175.5 222.2L176.5 220.0L178.0 216.3L178.5 214.9L179.5 212.1L181.0 207.6L181.5 206.0L182.5 202.8L184.0 197.6L184.5 195.8L185.5 192.0L187.0 185.7L187.5 183.4L188.5 178.6L190.0 171.0L190.5 168.4L191.5 162.9L192.0 160.1L192.5 157.2L193.0 154.2L193.5 151.1L194.0 148.0L194.5 144.8L195.0 141.5L195.5 138.1L196.0 134.6L196.5 131.0L197.0 127.4L197.5 123.6M295.5 240.7L298.5 236.7L301.5 232.1L304.5 226.9L307.5 220.9L310.5 214.8L313.5 207.7L315.6 201.6L316.5 198.8L317.1 196.9L318.6 191.8L319.5 188.5L320.1 186.3L321.6 180.4L322.5 176.6L323.1 174.0L324.6 167.3L325.5 163.1L326.1 160.2L327.6 152.7L328.5 147.6L329.1 144.1L330.6 133.8L331.5 126.7L332.1 121.6L333.6 108.3L334.1 103.7L334.5 100.0L334.6 99.1L335.1 94.6L335.6 90.1L336.1 85.6L336.6 81.1L337.1 76.5L337.5 72.8L337.6 71.9L338.1 67.3L338.6 62.6L339.1 58.0L339.6 53.3" stroke="#000" stroke-opacity="0.75" stroke-width="1.0" stroke-linejoin="round"/>
<path d="M70.9 169.9L73.9 166.9L76.9 169.9L73.9 172.9ZM80.3 208.2L83.3 205.2L86.3 208.2L83.3 211.2ZM89.6 222.4L92.6 219.4L95.6 222.4L92.6 225.4ZM108.2 237.5L111.2 234.5L114.2 237.5L111.2 240.5ZM117.5 238.9L120.5 235.9L123.5 238.9L120.5 241.9ZM126.8 236.0L129.8 233.0L132.8 236.0L129.8 239.0ZM136.1 244.1L139.1 241.1L142.1 244.1L139.1 247.1ZM145.4 243.1L148.4 240.1L151.4 243.1L148.4 246.1ZM154.9 251.9L157.9 248.9L160.9 251.9L157.9 254.9ZM164.2 235.8L167.2 232.8L170.2 235.8L167.2 238.8ZM173.7 219.9L176.7 216.9L179.7 219.9L176.7 222.9ZM183.0 189.7L186.0 186.7L189.0 189.7L186.0 192.7ZM194.5 123.6L197.5 120.6L200.5 123.6L197.5 126.6ZM203.8 210.2L206.8 207.2L209.8 210.2L206.8 213.2ZM213.1 215.8L216.1 212.8L219.1 215.8L216.1 218.8ZM222.4 230.3L225.4 227.3L228.4 230.3L225.4 233.3ZM231.7 234.8L234.7 231.8L237.7 234.8L234.7 237.8ZM241.4 232.9L244.4 229.9L247.4 232.9L244.4 235.9ZM250.7 238.7L253.7 235.7L256.7 238.7L253.7 241.7ZM260.0 242.8L263.0 239.8L266.0 242.8L263.0 245.8ZM269.3 244.0L272.3 241.0L275.3 244.0L272.3 247.0ZM283.4 251.1L286.4 248.1L289.4 251.1L286.4 254.1ZM293.5 253.6L296.5 250.6L299.5 253.6L296.5 256.6ZM297.2 247.9L300.2 244.9L303.2 247.9L300.2 250.9ZM315.3 192.8L318.3 189.8L321.3 192.8L318.3 195.8ZM326.3 142.8L329.3 139.8L332.3 142.8L329.3 145.8ZM332.2 93.7L335.2 90.7L338.2 93.7L335.2 96.7ZM336.6 53.3L339.6 50.3L342.6 53.3L339.6 56.3ZM345.8 196.8L348.8 193.8L351.8 196.8L348.8 199.8ZM355.4 223.5L358.4 220.5L361.4 223.5L358.4 226.5ZM364.7 215.8L367.7 212.8L370.7 215.8L367.7 218.8ZM373.8 226.8L376.8 223.8L379.8 226.8L376.8 229.8ZM383.3 230.7L386.3 227.7L389.3 230.7L386.3 233.7ZM392.6 231.9L395.6 228.9L398.6 231.9L395.6 234.9ZM402.3 237.9L405.3 234.9L408.3 237.9L405.3 240.9ZM411.2 240.0L414.2 237.0L417.2 240.0L414.2 243.0ZM420.8 246.2L423.8 243.2L426.8 246.2L423.8 249.2ZM430.0 246.6L433.0 243.6L436.0 246.6L433.0 249.6ZM439.7 248.2L442.7 245.2L445.7 248.2L442.7 251.2ZM448.4 244.1L451.4 241.1L454.4 244.1L451.4 247.1ZM458.3 213.1L461.3 210.1L464.3 213.1L461.3 216.1ZM466.5 173.5L469.5 170.5L472.5 173.5L469.5 176.5ZM473.9 121.0L476.9 118.0L479.9 121.0L476.9 124.0ZM481.8 94.1L484.8 91.1L487.8 94.1L484.8 97.1ZM483.3 67.2L486.3 64.2L489.3 67.2L486.3 70.2ZM488.5 53.6L491.5 50.6L494.5 53.6L491.5 56.6ZM500.0 189.5L503.0 186.5L506.0 189.5L503.0 192.5ZM509.3 209.0L512.3 206.0L515.3 209.0L512.3 212.0ZM518.6 220.1L521.6 217.1L524.6 220.1L521.6 223.1ZM528.1 226.8L531.1 223.8L534.1 226.8L531.1 229.8ZM537.3 223.5L540.3 220.5L543.3 223.5L540.3 226.5ZM547.0 233.4L550.0 230.4L553.0 233.4L550.0 236.4ZM556.3 237.9L559.3 234.9L562.3 237.9L559.3 240.9ZM564.3 238.9L567.3 235.9L570.3 238.9L567.3 241.9ZM572.5 240.0L575.5 237.0L578.5 240.0L575.5 243.0ZM582.0 238.9L585.0 235.9L588.0 238.9L585.0 241.9ZM591.1 246.6L594.1 243.6L597.1 246.6L594.1 249.6ZM600.6 222.5L603.6 219.5L606.6 222.5L603.6 225.5ZM610.1 188.0L613.1 185.0L616.1 188.0L613.1 191.0ZM619.4 148.4L622.4 145.4L625.4 148.4L622.4 151.4ZM628.3 121.0L631.3 118.0L634.3 121.0L631.3 124.0ZM637.7 94.4L640.7 91.4L643.7 94.4L640.7 97.4ZM645.3 26.7L648.3 23.7L651.3 26.7L648.3 29.7ZM654.0 183.5L657.0 180.5L660.0 183.5L657.0 186.5ZM663.3 188.2L666.3 185.2L669.3 188.2L666.3 191.2ZM672.4 205.0L675.4 202.0L678.4 205.0L675.4 208.0ZM682.1 219.9L685.1 216.9L688.1 219.9L685.1 222.9ZM691.7 235.8L694.7 232.8L697.7 235.8L694.7 238.8Z" fill="#fff" stroke="#000" stroke-width="0.85"/>
<path d="M79.4 190H89.8M84.6 190V205.5M79.4 205.5H89.8V213.7H79.4ZM79.4 209.6H89.8M84.6 213.7V216.5M79.4 216.5H89.8M99.4 216.2H109.8M104.6 216.2V224.7M99.4 224.7H109.8V230.9H99.4ZM99.4 227.8H109.8M104.6 230.9V232.3M99.4 232.3H109.8M119.4 228.3H129.8M124.6 228.3V235M119.4 235H129.8V240H119.4ZM119.4 237.5H129.8M124.6 240V243.1M119.4 243.1H129.8M139.4 235.6H149.8M144.6 235.6V241M139.4 241H149.8V246H139.4ZM139.4 243.5H149.8M144.6 246V250.1M139.4 250.1H149.8M159.4 232H169.8M164.6 232V238.6M159.4 238.6H169.8V244.8H159.4ZM159.4 241.7H169.8M164.6 244.8V254.4M159.4 254.4H169.8M179.4 187H189.8M184.6 187V193.3M179.4 193.3H189.8V197.6H179.4ZM179.4 195.5H189.8M184.6 197.6V201.4M179.4 201.4H189.8M199.4 171.7H209.8M204.6 171.7V196M199.4 196H209.8V208H199.4ZM199.4 202H209.8M204.6 208V221.4M199.4 221.4H209.8M219.4 223H229.8M224.6 223V228M219.4 228H229.8V233H219.4ZM219.4 230.5H229.8M224.6 233V236M219.4 236H229.8M239.4 233.5H249.8M244.6 233.5V235M239.4 235H249.8V238H239.4ZM239.4 236.5H249.8M244.6 238V240M239.4 240H249.8M259.4 238H269.8M264.6 238V240M259.4 240H269.8V243H259.4ZM259.4 241.5H269.8M264.6 243V245M259.4 245H269.8M279.4 240.9H289.8M284.6 240.9V244.6M279.4 244.6H289.8V248.2H279.4ZM279.4 246.4H289.8M284.6 248.2V251M279.4 251H289.8M299.4 224.5H309.8M304.6 224.5V227.6M299.4 227.6H309.8V232.9H299.4ZM299.4 229.9H309.8M304.6 232.9V242.2M299.4 242.2H309.8M319.4 160.5H329.8M324.6 160.5V163.4M319.4 163.4H329.8V170.2H319.4ZM319.4 166.5H329.8M324.6 170.2V178M319.4 178H329.8M339.4 110.3H349.8M344.6 110.3V146.6M339.4 146.6H349.8V172.9H339.4ZM339.4 160.5H349.8M344.6 172.9V210M339.4 210H349.8M359.4 209.6H369.8M364.6 209.6V215.8M359.4 215.8H369.8V221H359.4ZM359.4 218.4H369.8M364.6 221V226M359.4 226H369.8M379.4 227H389.8M384.6 227V229M379.4 229H389.8V232H379.4ZM379.4 230.5H389.8M384.6 232V234M379.4 234H389.8M399.4 233H409.8M404.6 233V235M399.4 235H409.8V238H399.4ZM399.4 236.5H409.8M404.6 238V240M399.4 240H409.8M419.4 235H429.8M424.6 235V238.5M419.4 238.5H429.8V242.6H419.4ZM419.4 240.5H429.8M424.6 242.6V246M419.4 246H429.8M439.4 226.1H449.8M444.6 226.1V229.6M439.4 229.6H449.8V240.6H439.4ZM439.4 235H449.8M444.6 240.6V250.9M439.4 250.9H449.8M459.4 169.6H469.8M464.6 169.6V181.4M459.4 181.4H469.8V193H459.4ZM459.4 186H469.8M464.6 193V208.2M459.4 208.2H469.8M479.4 8.8H489.8M484.6 8.8V35.4M479.4 35.4H489.8V66.1H479.4ZM479.4 51.5H489.8M484.6 66.1V83.9M479.4 83.9H489.8M499.4 166.1H509.8M504.6 166.1V200.3M499.4 200.3H509.8V216.2H499.4ZM499.4 208.6H509.8M504.6 216.2V225.1M499.4 225.1H509.8M519.4 197.2H529.8M524.6 197.2V218.9M519.4 218.9H529.8V228.2H519.4ZM519.4 224H529.8M524.6 228.2V232.3M519.4 232.3H529.8M539.4 215.2H549.8M544.6 215.2V228.2M539.4 228.2H549.8V235H539.4ZM539.4 231.6H549.8M544.6 235V239.1M539.4 239.1H549.8M559.4 224.7H569.8M564.6 224.7V233.4M559.4 233.4H569.8V240.6H559.4ZM559.4 237H569.8M564.6 240.6V244.7M559.4 244.7H569.8M579.4 223.7H589.8M584.6 223.7V234.4M579.4 234.4H589.8V243.3H579.4ZM579.4 239H589.8M584.6 243.3V250.3M579.4 250.3H589.8M599.4 184.4H609.8M604.6 184.4V213.3M599.4 213.3H609.8V230.3H599.4ZM599.4 222H609.8M604.6 230.3V244.3M599.4 244.3H609.8M619.4 95.3H629.8M624.6 95.3V139.6M619.4 139.6H629.8V168.2H619.4ZM619.4 153.4H629.8M624.6 168.2V186.5M619.4 186.5H629.8M639.4 83.2H649.8M644.6 83.2V104.2M639.4 104.2H649.8V152.5H639.4ZM639.4 127.8H649.8M644.6 152.5V206.7M639.4 206.7H649.8M659.4 185.5H669.8M664.6 185.5V199.5M659.4 199.5H669.8V217.4H659.4ZM659.4 208.7H669.8M664.6 217.4V229M659.4 229H669.8M679.4 205.7H689.8M684.6 205.7V214.9M679.4 214.9H689.8V228.7H679.4ZM679.4 221H689.8M684.6 228.7V235.1M679.4 235.1H689.8" stroke="#222" stroke-width="0.85"/>
<path d="M423.6 -2.8V270" stroke="#000" stroke-width="1.3" stroke-dasharray="6.8 3.53"/>
</g>
<path d="M64.5 270.5V0.5H699.3V270.5Z" fill="none" stroke="#000" stroke-width="1.3"/>
<path d="M64.5 270.3v8.5M231 270.3v8.5M397.6 270.3v8.5M564.2 270.3v8.5M64.5 270.3h-8.5M64.5 202.7h-8.5M64.5 135.1h-8.5M64.5 67.5h-8.5" fill="none" stroke="#000" stroke-width="1.2"/>
<g text-anchor="middle">
<text x="64.5" y="301.8">0</text><text x="231" y="301.8">500</text><text x="397.6" y="301.8">1000</text><text x="564.2" y="301.8">1500</text>
<text x="382" y="334.1">Time (day)</text>
<text x="214.3" y="31.7">Fitting</text><text x="564.3" y="33.7">Prediction</text>
<text transform="translate(46.5 270.3) rotate(-90)">0</text>
<text transform="translate(46.5 202.7) rotate(-90)">5</text>
<text transform="translate(46.5 135.1) rotate(-90)">10</text>
<text transform="translate(46.5 67.5) rotate(-90)">15</text>
<text transform="translate(14.4 135.6) rotate(-90)">PSA (ng/ml)</text>
</g>
</svg>
</body></html>
